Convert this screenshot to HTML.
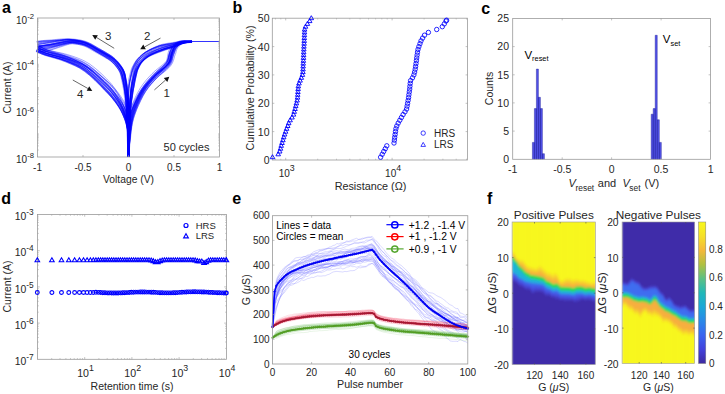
<!DOCTYPE html>
<html><head><meta charset="utf-8"><style>
html,body{margin:0;padding:0;background:#fff;width:725px;height:394px;overflow:hidden}
svg{display:block}
text{font-family:"Liberation Sans",sans-serif}
</style></head><body>
<svg width="725" height="394" viewBox="0 0 725 394">
<rect width="725" height="394" fill="#fff"/>
<path d="M192.0 41.4 190.2 41.6 187.6 41.8 184.7 42.1 182.0 42.5 179.8 43.0 177.7 43.6 175.5 44.3 173.0 45.0 170.1 45.7 166.9 46.5 163.7 47.3 160.5 48.4 157.2 49.6 153.8 51.0 150.6 52.6 147.8 54.1 145.5 55.7 143.5 57.4 141.8 59.1 140.3 60.7 139.0 62.4 138.0 64.0 137.2 65.6 136.4 67.2 135.8 68.5 135.4 69.6 135.0 70.9 134.5 72.8 133.9 75.5 133.2 78.7 132.5 82.2 131.9 85.5 131.4 88.7 131.1 91.9 130.7 95.0 130.4 98.1 130.2 101.0 130.0 103.6 129.8 106.5 129.6 110.0 129.5 114.3 129.3 119.1 129.2 124.3 129.0 130.0 128.9 136.9 128.9 144.8 128.9 152.0 128.8 157.0M192.0 41.6 190.2 41.8 187.6 41.9 184.7 42.2 182.0 42.6 179.8 43.1 177.7 43.7 175.5 44.4 173.0 45.1 170.1 45.8 167.0 46.6 163.7 47.5 160.5 48.5 157.3 49.8 154.0 51.3 150.8 52.9 148.1 54.6 145.9 56.2 144.0 57.9 142.4 59.7 141.0 61.3 139.8 63.0 139.0 64.6 138.2 66.2 137.6 67.8 137.0 69.0 136.7 70.1 136.3 71.3 135.9 73.2 135.2 75.8 134.5 79.0 133.8 82.4 133.1 85.7 132.5 88.8 131.9 92.0 131.4 95.1 131.0 98.2 130.6 101.0 130.2 103.6 129.9 106.5 129.6 110.0 129.3 114.3 129.1 119.1 128.9 124.3 128.8 130.0 128.7 136.9 128.6 144.7 128.5 152.0 128.4 157.0M192.0 41.4 190.2 41.5 187.6 41.7 184.6 42.0 182.0 42.3 179.7 42.8 177.6 43.4 175.4 44.1 173.0 44.8 170.1 45.6 166.9 46.4 163.7 47.3 160.5 48.5 157.3 49.9 154.0 51.4 150.9 53.1 148.2 54.8 146.1 56.5 144.3 58.2 142.7 60.0 141.4 61.7 140.3 63.3 139.5 64.9 138.8 66.5 138.2 68.1 137.7 69.3 137.4 70.3 137.1 71.5 136.7 73.4 136.1 76.0 135.4 79.2 134.7 82.6 134.1 85.8 133.4 88.9 132.8 92.0 132.3 95.2 131.8 98.3 131.3 101.1 130.9 103.7 130.6 106.5 130.2 110.0 129.9 114.3 129.7 119.1 129.4 124.3 129.2 130.0 129.1 136.9 129.0 144.8 128.9 152.0 128.9 157.0M192.0 42.0 190.2 42.1 187.6 42.3 184.7 42.7 182.2 43.3 180.0 44.1 178.1 44.9 175.9 45.8 173.5 46.8 170.6 47.8 167.5 48.7 164.3 49.8 161.3 50.9 158.2 52.1 154.9 53.4 151.8 54.8 149.1 56.2 146.8 57.5 144.9 58.9 143.1 60.4 141.6 61.8 140.2 63.2 139.1 64.7 138.1 66.1 137.2 67.6 136.4 68.8 135.9 69.8 135.3 71.0 134.7 72.9 133.9 75.5 133.1 78.7 132.3 82.1 131.7 85.5 131.1 88.6 130.8 91.8 130.4 95.0 130.2 98.1 129.9 101.0 129.8 103.6 129.6 106.5 129.5 110.0 129.4 114.3 129.2 119.1 129.1 124.3 129.0 130.0 128.9 136.9 128.8 144.8 128.8 152.0 128.8 157.0M192.0 42.0 190.2 42.2 187.6 42.4 184.7 42.8 182.2 43.4 180.0 44.0 178.0 44.8 175.9 45.7 173.4 46.6 170.5 47.5 167.4 48.4 164.2 49.3 161.2 50.5 158.0 51.6 154.7 53.0 151.6 54.4 148.9 55.9 146.7 57.3 144.8 58.9 143.2 60.4 141.7 62.0 140.5 63.4 139.5 64.9 138.7 66.4 137.9 67.9 137.3 69.2 136.9 70.2 136.5 71.4 136.0 73.2 135.3 75.8 134.5 79.0 133.8 82.4 133.2 85.7 132.6 88.8 132.1 92.0 131.6 95.1 131.2 98.2 130.9 101.0 130.6 103.7 130.3 106.5 130.0 110.0 129.8 114.3 129.6 119.1 129.4 124.3 129.2 130.0 129.0 136.9 129.0 144.8 128.9 152.0 128.9 157.0M192.0 42.0 190.2 42.1 187.6 42.3 184.7 42.7 182.1 43.2 180.0 43.9 178.0 44.6 175.8 45.4 173.3 46.3 170.4 47.1 167.3 47.9 164.1 48.8 161.0 49.9 157.7 51.0 154.4 52.3 151.2 53.8 148.5 55.2 146.2 56.7 144.2 58.2 142.5 59.8 140.9 61.3 139.7 62.8 138.6 64.4 137.7 65.9 136.9 67.4 136.2 68.7 135.7 69.7 135.2 71.0 134.7 72.9 134.0 75.5 133.2 78.7 132.4 82.2 131.7 85.5 131.2 88.6 130.7 91.8 130.4 95.0 130.0 98.1 129.7 100.9 129.5 103.6 129.3 106.5 129.2 110.0 129.0 114.3 128.9 119.1 128.8 124.3 128.7 130.0 128.7 136.9 128.6 144.7 128.5 152.0 128.5 157.0M191.9 40.7 190.1 40.9 187.5 41.1 184.5 41.1 181.8 41.2 179.4 41.4 177.1 41.8 174.8 42.2 172.4 42.6 169.5 43.0 166.3 43.5 162.8 44.2 159.3 45.1 156.0 46.5 152.5 48.1 149.2 49.8 146.3 51.6 143.8 53.4 141.7 55.3 139.9 57.2 138.3 59.1 137.0 60.9 135.9 62.8 135.1 64.6 134.3 66.2 133.7 67.6 133.2 68.9 132.8 70.3 132.3 72.3 131.6 75.0 130.8 78.2 130.0 81.7 129.4 85.1 129.0 88.4 128.7 91.6 128.5 94.8 128.3 98.0 128.1 100.8 128.1 103.5 128.1 106.4 128.1 110.0 128.1 114.2 128.1 119.0 128.2 124.3 128.3 130.0 128.3 136.9 128.3 144.7 128.3 152.0 128.2 157.0M192.0 41.4 190.2 41.6 187.6 41.8 184.7 42.0 182.0 42.4 179.7 42.9 177.6 43.5 175.4 44.1 173.0 44.8 170.1 45.5 166.9 46.2 163.6 47.0 160.3 48.0 157.0 49.3 153.7 50.7 150.5 52.3 147.7 53.8 145.3 55.5 143.3 57.2 141.6 58.9 140.1 60.6 138.8 62.2 137.8 63.9 137.0 65.5 136.3 67.1 135.7 68.5 135.3 69.6 134.9 70.9 134.5 72.8 133.9 75.5 133.2 78.7 132.5 82.2 131.9 85.5 131.5 88.7 131.1 91.9 130.8 95.0 130.5 98.1 130.2 101.0 130.0 103.6 129.8 106.5 129.6 110.0 129.4 114.3 129.3 119.1 129.1 124.3 129.0 130.0 128.9 136.9 128.8 144.8 128.8 152.0 128.8 157.0M192.0 41.7 190.2 41.9 187.6 42.1 184.7 42.4 182.1 43.0 179.9 43.6 177.9 44.4 175.8 45.2 173.3 46.1 170.4 47.1 167.3 48.0 164.1 49.0 161.1 50.2 157.9 51.5 154.7 52.9 151.6 54.4 148.9 55.9 146.8 57.5 145.0 59.0 143.4 60.6 142.0 62.2 140.8 63.7 140.0 65.2 139.2 66.7 138.5 68.2 137.9 69.4 137.6 70.4 137.2 71.6 136.8 73.4 136.1 76.0 135.4 79.2 134.8 82.6 134.2 85.9 133.6 88.9 133.0 92.1 132.6 95.2 132.1 98.3 131.7 101.1 131.4 103.7 131.0 106.6 130.7 110.1 130.4 114.3 130.1 119.1 129.9 124.3 129.6 130.0 129.4 136.9 129.3 144.8 129.3 152.0 129.3 157.0M192.0 41.7 190.2 41.9 187.6 42.1 184.7 42.4 182.1 42.9 179.9 43.5 177.9 44.3 175.7 45.1 173.2 45.9 170.4 46.8 167.2 47.6 164.0 48.6 160.9 49.7 157.7 51.0 154.4 52.4 151.3 53.9 148.6 55.4 146.4 56.9 144.5 58.5 142.9 60.2 141.5 61.7 140.3 63.3 139.4 64.8 138.6 66.4 137.9 67.9 137.4 69.2 137.0 70.2 136.7 71.4 136.3 73.3 135.7 75.9 135.0 79.1 134.4 82.5 133.9 85.8 133.4 88.9 132.9 92.1 132.5 95.2 132.1 98.3 131.7 101.1 131.4 103.7 131.1 106.6 130.8 110.1 130.5 114.3 130.2 119.1 130.0 124.3 129.7 130.0 129.5 136.9 129.4 144.8 129.4 152.0 129.4 157.0M192.1 42.4 190.2 42.5 187.6 42.7 184.8 43.2 182.2 43.8 180.2 44.6 178.2 45.5 176.1 46.5 173.7 47.5 170.7 48.5 167.6 49.4 164.5 50.4 161.5 51.5 158.4 52.6 155.1 53.9 152.0 55.2 149.3 56.5 147.1 57.9 145.2 59.3 143.5 60.7 141.9 62.2 140.7 63.6 139.6 65.0 138.7 66.4 137.8 67.9 137.1 69.1 136.5 70.0 136.0 71.2 135.4 73.0 134.6 75.7 133.7 78.9 132.9 82.3 132.2 85.5 131.6 88.7 131.1 91.9 130.6 95.0 130.3 98.1 129.9 101.0 129.7 103.6 129.5 106.5 129.3 110.0 129.1 114.3 129.0 119.1 128.9 124.3 128.8 130.0 128.7 136.9 128.6 144.7 128.6 152.0 128.6 157.0M192.0 41.6 190.2 41.8 187.6 42.0 184.7 42.4 182.1 42.9 179.9 43.5 177.9 44.2 175.7 45.0 173.2 45.8 170.3 46.5 167.1 47.2 163.8 47.9 160.6 48.7 157.2 49.7 153.8 50.9 150.4 52.2 147.5 53.5 144.9 54.9 142.7 56.5 140.8 58.1 139.0 59.7 137.6 61.3 136.4 63.1 135.4 64.7 134.7 66.4 134.1 67.7 133.7 69.0 133.4 70.5 133.1 72.5 132.6 75.2 132.1 78.5 131.6 82.0 131.2 85.4 131.0 88.6 130.8 91.8 130.6 95.0 130.5 98.1 130.3 101.0 130.1 103.6 129.9 106.5 129.7 110.0 129.5 114.3 129.3 119.1 129.1 124.3 128.9 130.0 128.8 136.9 128.7 144.8 128.6 152.0 128.5 157.0M192.0 41.1 190.1 41.2 187.5 41.4 184.6 41.6 181.9 41.8 179.5 42.1 177.3 42.5 175.1 43.0 172.6 43.5 169.7 43.9 166.5 44.4 163.0 45.0 159.6 45.8 156.2 47.0 152.7 48.4 149.3 50.0 146.3 51.6 143.7 53.3 141.5 55.1 139.6 56.9 137.9 58.7 136.4 60.5 135.2 62.4 134.3 64.1 133.5 65.8 132.8 67.2 132.3 68.5 131.9 70.0 131.4 72.0 130.7 74.8 130.0 78.1 129.3 81.6 128.8 85.0 128.5 88.3 128.4 91.6 128.3 94.8 128.2 98.0 128.1 100.8 128.2 103.5 128.2 106.4 128.2 110.0 128.2 114.2 128.3 119.0 128.3 124.3 128.4 130.0 128.4 136.9 128.4 144.7 128.4 152.0 128.3 157.0M192.0 41.9 190.2 42.1 187.6 42.3 184.7 42.7 182.1 43.2 180.0 43.9 178.0 44.6 175.8 45.5 173.3 46.3 170.4 47.1 167.3 47.8 164.0 48.7 160.9 49.6 157.6 50.7 154.2 51.9 151.0 53.3 148.2 54.7 145.8 56.1 143.7 57.6 141.9 59.2 140.3 60.8 139.0 62.3 137.9 63.9 137.0 65.5 136.2 67.1 135.5 68.4 135.1 69.5 134.7 70.9 134.2 72.8 133.6 75.5 133.0 78.7 132.3 82.1 131.8 85.5 131.3 88.7 131.0 91.9 130.7 95.0 130.4 98.1 130.1 101.0 129.9 103.6 129.7 106.5 129.5 110.0 129.3 114.3 129.2 119.1 129.0 124.3 128.9 130.0 128.8 136.9 128.7 144.8 128.6 152.0 128.6 157.0M192.0 41.0 190.1 41.1 187.5 41.3 184.6 41.5 181.8 41.6 179.5 41.9 177.3 42.3 175.0 42.7 172.5 43.2 169.6 43.7 166.4 44.2 163.0 44.8 159.6 45.7 156.2 47.1 152.8 48.6 149.5 50.3 146.6 52.0 144.1 53.8 142.1 55.7 140.3 57.6 138.8 59.5 137.6 61.3 136.6 63.2 135.8 64.9 135.2 66.6 134.6 68.0 134.3 69.2 134.0 70.6 133.5 72.6 133.0 75.3 132.3 78.5 131.6 82.0 131.0 85.4 130.6 88.6 130.2 91.8 129.9 95.0 129.7 98.1 129.4 100.9 129.3 103.6 129.1 106.5 129.0 110.0 128.9 114.3 128.8 119.1 128.7 124.3 128.7 130.0 128.7 136.9 128.6 144.7 128.6 152.0 128.6 157.0M192.0 41.4 190.2 41.5 187.6 41.7 184.6 41.9 181.9 42.2 179.7 42.6 177.5 43.1 175.3 43.6 172.8 44.1 169.8 44.5 166.6 45.0 163.2 45.6 159.8 46.3 156.3 47.5 152.8 48.8 149.5 50.2 146.4 51.8 143.8 53.4 141.5 55.1 139.5 56.9 137.8 58.6 136.2 60.4 135.0 62.2 133.9 64.0 133.1 65.6 132.3 67.0 131.7 68.3 131.2 69.9 130.6 71.8 129.9 74.6 129.1 77.8 128.3 81.4 127.7 84.8 127.4 88.1 127.2 91.5 127.1 94.7 127.1 97.9 127.1 100.7 127.1 103.5 127.2 106.4 127.3 109.9 127.4 114.2 127.6 119.0 127.7 124.3 127.9 130.0 128.0 136.9 127.9 144.7 127.9 152.0 127.9 157.0M192.0 41.2 190.2 41.4 187.5 41.6 184.6 41.8 181.9 42.1 179.6 42.5 177.5 43.0 175.3 43.6 172.8 44.2 169.9 44.8 166.7 45.4 163.4 46.2 160.0 47.1 156.7 48.3 153.3 49.8 150.0 51.3 147.1 52.9 144.7 54.6 142.6 56.4 140.8 58.1 139.3 59.9 137.9 61.6 136.9 63.4 136.1 65.1 135.4 66.7 134.8 68.1 134.4 69.3 134.1 70.7 133.7 72.6 133.2 75.3 132.6 78.6 132.0 82.1 131.5 85.4 131.2 88.6 131.0 91.9 130.8 95.0 130.6 98.2 130.4 101.0 130.3 103.6 130.2 106.5 130.0 110.0 129.9 114.3 129.7 119.1 129.6 124.3 129.4 130.0 129.2 136.9 129.2 144.8 129.2 152.0 129.2 157.0M192.0 41.7 190.2 41.8 187.6 42.0 184.7 42.3 182.0 42.6 179.8 43.0 177.6 43.5 175.4 44.0 172.9 44.6 170.0 45.1 166.7 45.5 163.3 46.1 160.0 46.9 156.6 48.1 153.1 49.5 149.9 51.0 147.0 52.7 144.5 54.4 142.5 56.2 140.8 58.1 139.3 59.9 138.1 61.7 137.2 63.5 136.5 65.3 135.9 67.0 135.5 68.4 135.2 69.6 134.9 70.9 134.6 72.8 134.0 75.5 133.4 78.8 132.7 82.2 132.1 85.5 131.5 88.7 131.0 91.9 130.5 95.0 130.1 98.1 129.7 100.9 129.4 103.6 129.1 106.5 128.9 110.0 128.7 114.3 128.6 119.0 128.5 124.3 128.4 130.0 128.4 136.9 128.3 144.7 128.2 152.0 128.2 157.0M192.0 41.1 190.1 41.2 187.5 41.4 184.6 41.6 181.9 41.8 179.5 42.2 177.4 42.6 175.1 43.1 172.6 43.6 169.8 44.2 166.5 44.7 163.1 45.4 159.7 46.2 156.3 47.5 152.9 48.9 149.6 50.5 146.6 52.1 144.1 53.8 141.9 55.6 140.1 57.4 138.4 59.1 137.0 60.9 135.9 62.8 134.9 64.5 134.1 66.1 133.5 67.5 133.0 68.8 132.5 70.2 132.0 72.2 131.4 74.9 130.6 78.2 129.9 81.7 129.3 85.1 129.0 88.4 128.7 91.6 128.5 94.8 128.4 98.0 128.3 100.8 128.2 103.5 128.2 106.4 128.2 110.0 128.2 114.2 128.2 119.0 128.3 124.3 128.3 130.0 128.3 136.9 128.3 144.7 128.2 152.0 128.2 157.0M192.0 40.9 190.1 41.1 187.5 41.3 184.6 41.4 181.8 41.6 179.5 41.9 177.3 42.3 175.0 42.7 172.5 43.2 169.6 43.7 166.4 44.2 163.0 44.9 159.6 45.7 156.2 47.0 152.7 48.5 149.4 50.1 146.4 51.8 143.9 53.5 141.7 55.3 139.8 57.1 138.2 58.9 136.7 60.7 135.6 62.6 134.6 64.3 133.8 65.9 133.2 67.3 132.6 68.7 132.1 70.1 131.6 72.1 130.9 74.8 130.2 78.1 129.5 81.6 128.8 85.0 128.5 88.3 128.3 91.6 128.1 94.8 128.0 97.9 128.0 100.8 128.0 103.5 128.0 106.4 128.0 110.0 128.0 114.2 128.1 119.0 128.2 124.3 128.2 130.0 128.3 136.9 128.2 144.7 128.2 152.0 128.2 157.0M192.1 42.2 190.2 42.4 187.6 42.6 184.8 43.0 182.2 43.7 180.1 44.4 178.1 45.2 176.0 46.1 173.5 47.0 170.6 47.9 167.5 48.7 164.3 49.6 161.2 50.6 158.0 51.7 154.7 53.0 151.5 54.3 148.8 55.7 146.5 57.1 144.6 58.6 142.9 60.2 141.4 61.7 140.2 63.2 139.2 64.7 138.4 66.3 137.7 67.8 137.1 69.1 136.8 70.1 136.4 71.3 136.0 73.2 135.4 75.9 134.7 79.1 134.0 82.5 133.5 85.8 132.9 88.9 132.4 92.0 132.0 95.1 131.5 98.2 131.1 101.1 130.8 103.7 130.5 106.5 130.1 110.0 129.9 114.3 129.6 119.1 129.4 124.3 129.1 130.0 129.0 136.9 128.9 144.8 128.8 152.0 128.8 157.0M192.0 42.0 190.2 42.2 187.6 42.4 184.7 42.8 182.1 43.3 180.0 44.0 178.0 44.7 175.8 45.5 173.4 46.3 170.4 47.1 167.3 47.9 164.1 48.8 160.9 49.8 157.7 50.9 154.4 52.2 151.2 53.6 148.4 55.1 146.1 56.5 144.1 58.1 142.4 59.7 140.9 61.3 139.7 62.8 138.7 64.4 137.9 66.0 137.1 67.6 136.6 68.8 136.2 69.9 135.9 71.2 135.5 73.1 134.9 75.7 134.3 79.0 133.6 82.4 133.1 85.7 132.7 88.8 132.3 92.0 131.9 95.1 131.6 98.2 131.2 101.1 131.0 103.7 130.7 106.5 130.4 110.0 130.2 114.3 129.9 119.1 129.7 124.3 129.4 130.0 129.2 136.9 129.2 144.8 129.1 152.0 129.1 157.0M192.0 42.0 190.2 42.1 187.6 42.2 184.7 42.6 182.1 43.1 179.9 43.6 177.9 44.3 175.7 45.1 173.2 45.9 170.3 46.7 167.2 47.6 164.0 48.6 161.0 49.8 157.8 51.1 154.6 52.7 151.5 54.3 148.9 55.9 146.8 57.5 145.0 59.1 143.5 60.8 142.2 62.4 141.1 63.8 140.2 65.3 139.4 66.8 138.6 68.3 138.0 69.5 137.5 70.4 137.0 71.5 136.3 73.3 135.5 75.9 134.6 79.0 133.6 82.4 132.8 85.6 132.1 88.8 131.4 91.9 130.9 95.0 130.4 98.1 130.1 101.0 129.8 103.6 129.6 106.5 129.4 110.0 129.2 114.3 129.1 119.1 129.0 124.3 128.9 130.0 128.9 136.9 128.8 144.8 128.8 152.0 128.8 157.0M192.0 41.8 190.2 41.9 187.6 42.1 184.7 42.5 182.1 43.1 180.0 43.7 177.9 44.5 175.8 45.4 173.4 46.4 170.5 47.3 167.4 48.3 164.2 49.3 161.2 50.5 158.0 51.8 154.8 53.2 151.7 54.6 149.0 56.1 146.9 57.6 145.0 59.1 143.4 60.6 141.9 62.1 140.7 63.6 139.8 65.0 138.9 66.5 138.1 68.0 137.5 69.2 137.1 70.2 136.7 71.4 136.2 73.2 135.5 75.9 134.8 79.1 134.1 82.5 133.5 85.8 133.0 88.9 132.5 92.0 132.1 95.2 131.7 98.3 131.4 101.1 131.1 103.7 130.9 106.5 130.6 110.0 130.4 114.3 130.1 119.1 129.9 124.3 129.6 130.0 129.4 136.9 129.4 144.8 129.3 152.0 129.3 157.0M192.0 41.2 190.2 41.3 187.5 41.5 184.6 41.6 181.9 41.8 179.5 42.1 177.3 42.5 175.1 43.0 172.6 43.5 169.7 43.9 166.5 44.4 163.0 45.0 159.6 45.7 156.1 47.0 152.7 48.4 149.3 50.0 146.3 51.6 143.7 53.3 141.5 55.1 139.6 57.0 138.0 58.8 136.5 60.6 135.4 62.5 134.5 64.3 133.7 65.9 133.1 67.3 132.6 68.6 132.2 70.1 131.7 72.1 131.1 74.9 130.4 78.1 129.8 81.6 129.2 85.1 128.9 88.3 128.8 91.6 128.6 94.8 128.5 98.0 128.4 100.8 128.4 103.5 128.4 106.4 128.4 110.0 128.4 114.2 128.4 119.0 128.4 124.3 128.4 130.0 128.5 136.9 128.4 144.7 128.4 152.0 128.3 157.0M192.0 42.1 190.2 42.2 187.6 42.4 184.8 42.9 182.2 43.5 180.1 44.2 178.1 45.1 176.0 46.0 173.5 47.0 170.6 47.9 167.5 48.9 164.4 49.9 161.4 51.0 158.2 52.1 154.9 53.4 151.8 54.8 149.1 56.2 146.9 57.6 144.9 59.0 143.2 60.5 141.7 62.0 140.4 63.4 139.4 64.8 138.4 66.3 137.6 67.8 136.9 69.0 136.4 70.0 135.9 71.2 135.3 73.0 134.5 75.7 133.7 78.9 132.9 82.3 132.3 85.6 131.7 88.7 131.3 91.9 130.9 95.0 130.6 98.2 130.3 101.0 130.0 103.6 129.8 106.5 129.7 110.0 129.5 114.3 129.3 119.1 129.2 124.3 129.1 130.0 129.0 136.9 128.9 144.8 128.9 152.0 128.8 157.0M192.0 41.9 190.2 42.0 187.6 42.2 184.7 42.6 182.1 43.1 180.0 43.8 177.9 44.6 175.8 45.4 173.3 46.3 170.4 47.2 167.3 48.0 164.1 49.0 161.1 50.1 157.9 51.4 154.6 52.8 151.5 54.2 148.8 55.7 146.6 57.2 144.8 58.8 143.1 60.4 141.7 62.0 140.5 63.5 139.6 65.0 138.8 66.5 138.1 68.0 137.5 69.3 137.1 70.2 136.8 71.4 136.3 73.3 135.7 75.9 135.0 79.1 134.3 82.5 133.7 85.8 133.1 88.9 132.6 92.0 132.1 95.2 131.7 98.3 131.3 101.1 131.0 103.7 130.7 106.5 130.4 110.0 130.1 114.3 129.8 119.1 129.6 124.3 129.4 130.0 129.2 136.9 129.1 144.8 129.1 152.0 129.0 157.0M192.0 41.2 190.2 41.3 187.5 41.6 184.6 41.8 181.9 42.1 179.7 42.6 177.5 43.2 175.3 43.8 172.9 44.6 170.0 45.3 166.9 46.1 163.6 46.9 160.3 47.9 157.0 49.2 153.7 50.6 150.4 52.1 147.5 53.6 145.1 55.2 143.0 56.8 141.1 58.4 139.4 60.0 137.9 61.6 136.7 63.3 135.6 64.8 134.7 66.4 133.9 67.7 133.2 68.9 132.7 70.3 132.0 72.2 131.3 74.9 130.5 78.2 129.8 81.6 129.1 85.1 128.8 88.3 128.7 91.6 128.6 94.8 128.5 98.0 128.5 100.9 128.5 103.5 128.5 106.4 128.5 110.0 128.5 114.3 128.6 119.0 128.6 124.3 128.6 130.0 128.6 136.9 128.5 144.7 128.5 152.0 128.4 157.0M192.1 42.4 190.2 42.5 187.6 42.7 184.8 43.1 182.2 43.8 180.2 44.5 178.2 45.4 176.1 46.3 173.6 47.2 170.7 48.1 167.5 48.9 164.4 49.8 161.3 50.9 158.1 51.9 154.8 53.2 151.6 54.5 148.9 55.8 146.6 57.2 144.6 58.6 142.9 60.1 141.3 61.6 140.0 63.1 138.9 64.6 138.0 66.1 137.1 67.5 136.4 68.8 135.9 69.8 135.4 71.0 134.8 72.9 134.0 75.5 133.2 78.7 132.3 82.1 131.6 85.5 131.0 88.6 130.6 91.8 130.2 95.0 129.8 98.1 129.5 100.9 129.3 103.6 129.1 106.5 128.9 110.0 128.7 114.3 128.6 119.0 128.6 124.3 128.5 130.0 128.5 136.9 128.4 144.7 128.3 152.0 128.3 157.0M192.0 42.0 190.2 42.1 187.6 42.3 184.7 42.6 182.1 43.2 180.0 43.8 177.9 44.6 175.8 45.4 173.3 46.2 170.4 47.1 167.3 48.0 164.1 48.9 161.0 50.1 157.9 51.3 154.6 52.7 151.5 54.2 148.8 55.7 146.7 57.3 144.8 58.9 143.2 60.5 141.8 62.1 140.7 63.6 139.9 65.1 139.1 66.6 138.4 68.2 137.9 69.4 137.6 70.4 137.2 71.6 136.8 73.4 136.2 76.0 135.5 79.2 134.8 82.6 134.2 85.9 133.5 88.9 133.0 92.1 132.5 95.2 132.0 98.3 131.5 101.1 131.2 103.7 130.8 106.5 130.5 110.0 130.2 114.3 129.9 119.1 129.6 124.3 129.4 130.0 129.2 136.9 129.1 144.8 129.1 152.0 129.0 157.0" stroke="#0000ff" stroke-width="0.5" fill="none" stroke-opacity="0.7"/><path d="M128.5 157.0 128.5 154.0 128.6 149.6 128.7 144.7 128.8 140.0 129.1 135.5 129.3 130.8 129.7 126.2 130.3 122.0 130.9 118.4 131.6 115.2 132.6 112.1 134.0 108.4 135.8 104.1 138.1 99.3 140.6 94.5 143.2 90.2 146.0 86.3 148.9 82.7 151.8 79.4 154.6 76.4 157.4 73.7 160.2 71.3 162.7 69.2 164.9 67.3 166.4 65.6 167.5 64.3 168.4 63.0 169.2 61.6 169.8 59.7 170.3 57.7 170.7 55.6 171.3 53.5 172.0 51.6 172.7 49.8 173.7 48.1 174.9 46.5 176.3 45.1 178.0 43.9 179.9 42.8 181.9 42.1 184.5 41.6 187.4 41.5 190.1 41.5 192.0 41.4M128.1 157.0 128.1 154.0 128.2 149.6 128.1 144.7 128.1 140.0 128.2 135.4 128.3 130.7 128.6 126.1 129.0 121.8 129.6 118.1 130.2 114.9 131.2 111.6 132.7 107.9 134.7 103.6 137.1 98.8 139.8 94.0 142.5 89.7 145.4 85.8 148.4 82.3 151.5 79.1 154.4 76.2 157.3 73.6 160.1 71.3 162.8 69.2 164.9 67.3 166.6 65.8 167.8 64.5 168.7 63.3 169.6 61.7 170.3 59.9 170.9 57.8 171.3 55.7 171.9 53.7 172.6 51.9 173.3 50.1 174.1 48.3 175.2 46.8 176.5 45.4 178.1 44.1 180.0 43.0 182.0 42.2 184.5 41.7 187.4 41.5 190.1 41.5 192.0 41.4M129.1 157.0 129.1 154.0 129.2 149.6 129.4 144.7 129.8 140.0 130.2 135.5 130.6 130.9 131.2 126.3 131.8 122.2 132.5 118.7 133.3 115.7 134.3 112.6 135.5 109.1 137.2 104.7 139.4 100.0 141.8 95.2 144.3 90.8 146.9 87.0 149.7 83.4 152.5 80.1 155.3 77.1 158.0 74.4 160.7 72.0 163.2 69.8 165.4 67.8 166.9 66.1 168.0 64.7 168.9 63.4 169.7 61.8 170.3 59.9 170.8 57.8 171.2 55.7 171.7 53.7 172.4 51.8 173.1 50.0 173.9 48.2 175.0 46.6 176.4 45.2 178.0 44.0 179.9 42.9 181.9 42.1 184.5 41.6 187.4 41.5 190.1 41.5 192.0 41.4M129.0 157.0 129.1 154.0 129.2 149.6 129.5 144.7 129.9 140.0 130.4 135.5 131.0 130.9 131.6 126.4 132.3 122.3 133.1 118.8 133.9 115.8 134.8 112.8 136.0 109.3 137.7 104.9 139.7 100.1 142.1 95.3 144.4 90.9 147.0 87.1 149.8 83.5 152.6 80.2 155.3 77.1 158.1 74.5 160.8 72.1 163.4 70.0 165.6 68.0 167.3 66.5 168.6 65.2 169.7 63.8 170.7 62.3 171.6 60.3 172.3 58.2 173.0 56.1 173.7 54.3 174.5 52.6 175.1 50.9 175.8 49.4 176.6 48.0 177.7 46.6 179.0 45.3 180.5 44.2 182.3 43.2 184.6 42.5 187.4 42.0 190.1 41.8 192.0 41.7M128.6 157.0 128.6 154.0 128.7 149.6 128.7 144.7 128.9 140.0 129.1 135.5 129.4 130.8 129.7 126.2 130.2 122.0 130.8 118.4 131.5 115.2 132.4 112.0 133.7 108.3 135.6 104.0 137.9 99.2 140.4 94.4 143.0 90.0 145.7 86.1 148.7 82.6 151.6 79.3 154.5 76.3 157.3 73.6 160.1 71.3 162.7 69.2 164.9 67.3 166.5 65.7 167.7 64.4 168.6 63.2 169.5 61.7 170.2 59.8 170.8 57.8 171.3 55.7 171.9 53.7 172.6 51.9 173.4 50.1 174.2 48.4 175.3 46.9 176.7 45.6 178.3 44.3 180.1 43.2 182.0 42.4 184.5 41.9 187.4 41.7 190.1 41.6 192.0 41.5M128.8 157.0 128.8 154.0 128.9 149.6 129.1 144.7 129.3 140.0 129.6 135.5 130.0 130.8 130.5 126.3 131.1 122.1 131.8 118.6 132.6 115.5 133.6 112.4 134.9 108.8 136.7 104.5 139.0 99.7 141.4 95.0 144.0 90.6 146.7 86.8 149.5 83.3 152.5 80.0 155.3 77.0 158.0 74.4 160.8 72.0 163.3 69.9 165.5 67.9 167.1 66.3 168.3 64.9 169.2 63.5 170.1 62.0 170.8 60.0 171.3 57.9 171.7 55.8 172.3 53.9 172.9 52.0 173.6 50.2 174.3 48.5 175.4 47.0 176.7 45.6 178.3 44.3 180.0 43.2 182.0 42.4 184.5 41.9 187.4 41.6 190.1 41.6 192.0 41.5M128.4 157.0 128.5 154.0 128.5 149.6 128.6 144.7 128.8 140.0 129.1 135.5 129.4 130.8 129.9 126.2 130.5 122.0 131.2 118.4 132.0 115.3 133.0 112.2 134.4 108.6 136.3 104.3 138.5 99.5 141.0 94.7 143.6 90.4 146.2 86.5 149.1 82.9 152.0 79.6 154.8 76.6 157.5 73.8 160.2 71.4 162.8 69.2 164.8 67.2 166.4 65.6 167.5 64.2 168.3 63.0 169.0 61.5 169.7 59.7 170.1 57.6 170.6 55.5 171.2 53.5 171.9 51.6 172.7 49.8 173.7 48.1 174.9 46.6 176.4 45.2 178.1 44.0 179.9 43.0 182.0 42.3 184.5 41.8 187.4 41.6 190.1 41.6 192.0 41.5M128.2 157.0 128.2 154.0 128.3 149.6 128.2 144.7 128.2 140.0 128.3 135.4 128.4 130.7 128.6 126.1 129.0 121.8 129.5 118.1 130.1 114.8 131.0 111.5 132.5 107.8 134.4 103.5 136.8 98.7 139.4 93.8 142.1 89.5 145.0 85.6 148.1 82.0 151.1 78.8 154.0 75.9 157.0 73.2 159.8 70.9 162.5 68.9 164.7 67.1 166.4 65.6 167.6 64.4 168.6 63.2 169.5 61.7 170.3 59.9 170.9 57.8 171.5 55.8 172.2 53.8 172.9 52.0 173.7 50.2 174.5 48.6 175.6 47.1 176.9 45.8 178.4 44.5 180.1 43.4 182.1 42.6 184.5 42.0 187.4 41.8 190.1 41.6 192.0 41.6M128.9 157.0 128.9 154.0 129.0 149.6 129.2 144.7 129.6 140.0 130.0 135.5 130.5 130.9 131.1 126.3 131.8 122.2 132.6 118.7 133.6 115.7 134.7 112.8 136.1 109.3 137.9 105.0 140.2 100.4 142.7 95.7 145.3 91.5 148.0 87.8 150.8 84.4 153.8 81.2 156.6 78.4 159.3 75.8 162.1 73.6 164.7 71.5 167.0 69.5 168.8 67.8 170.1 66.4 171.3 64.9 172.4 63.0 173.3 60.8 174.0 58.6 174.5 56.5 175.1 54.8 175.8 53.1 176.2 51.4 176.6 49.9 177.3 48.6 178.2 47.2 179.4 45.9 180.8 44.7 182.4 43.7 184.6 42.9 187.5 42.4 190.1 42.0 192.0 41.9M128.1 157.0 128.2 154.0 128.2 149.6 128.2 144.7 128.2 140.0 128.3 135.4 128.4 130.7 128.7 126.1 129.1 121.8 129.6 118.1 130.2 114.9 131.1 111.5 132.5 107.9 134.5 103.5 136.9 98.7 139.5 93.9 142.2 89.5 145.1 85.6 148.1 82.1 151.2 78.9 154.1 75.9 157.0 73.3 159.9 71.0 162.6 69.0 164.8 67.2 166.5 65.7 167.8 64.5 168.8 63.3 169.7 61.8 170.6 60.0 171.2 57.9 171.8 55.8 172.5 53.9 173.3 52.2 174.1 50.4 174.9 48.8 175.9 47.4 177.1 46.0 178.6 44.8 180.3 43.7 182.2 42.8 184.6 42.3 187.4 41.9 190.1 41.7 192.0 41.7M128.7 157.0 128.7 154.0 128.8 149.6 128.9 144.7 129.2 140.0 129.5 135.5 129.9 130.8 130.5 126.3 131.1 122.1 131.8 118.6 132.6 115.5 133.6 112.4 135.0 108.8 136.8 104.5 139.0 99.7 141.4 94.9 143.9 90.6 146.5 86.7 149.3 83.1 152.2 79.8 154.9 76.7 157.6 74.0 160.3 71.5 162.8 69.3 164.9 67.3 166.4 65.6 167.5 64.3 168.4 63.0 169.2 61.6 169.9 59.7 170.4 57.7 170.9 55.6 171.6 53.6 172.3 51.8 173.1 50.0 174.0 48.3 175.2 46.8 176.6 45.5 178.2 44.3 180.1 43.2 182.0 42.4 184.5 41.9 187.4 41.7 190.1 41.6 192.0 41.5M128.1 157.0 128.1 154.0 128.2 149.6 128.1 144.7 128.1 140.0 128.1 135.4 128.2 130.7 128.3 126.0 128.6 121.7 128.9 118.0 129.3 114.6 129.9 111.1 131.2 107.3 132.9 102.8 135.1 97.8 137.6 92.8 140.2 88.2 143.0 84.1 146.0 80.3 149.0 76.9 152.0 73.8 154.9 71.0 157.9 68.6 160.5 66.5 162.6 64.8 164.1 63.5 165.2 62.5 166.1 61.6 166.9 60.5 167.7 59.0 168.3 57.2 169.0 55.1 169.8 53.0 170.7 51.2 171.8 49.4 173.0 47.6 174.4 46.1 176.0 44.7 177.8 43.5 179.7 42.5 181.9 41.8 184.5 41.4 187.4 41.3 190.1 41.4 192.0 41.3M129.0 157.0 129.0 154.0 129.0 149.6 129.2 144.7 129.5 140.0 129.8 135.5 130.2 130.8 130.6 126.3 131.2 122.1 131.8 118.5 132.4 115.4 133.3 112.3 134.5 108.6 136.2 104.3 138.3 99.4 140.7 94.6 143.2 90.1 145.8 86.2 148.6 82.5 151.5 79.1 154.2 76.0 156.9 73.2 159.7 70.7 162.1 68.5 164.1 66.5 165.6 64.8 166.5 63.5 167.2 62.3 167.8 60.9 168.3 59.2 168.6 57.3 168.9 55.1 169.4 52.9 170.0 50.9 170.9 49.0 172.0 47.1 173.5 45.3 175.2 43.8 177.1 42.6 179.3 41.6 181.6 41.0 184.4 40.7 187.4 40.9 190.1 41.1 192.0 41.0M129.1 157.0 129.2 154.0 129.2 149.6 129.4 144.7 129.8 140.0 130.2 135.5 130.6 130.9 131.1 126.3 131.6 122.2 132.3 118.6 133.0 115.6 133.9 112.5 135.0 108.9 136.8 104.5 138.9 99.7 141.2 94.9 143.7 90.4 146.3 86.5 149.1 82.9 151.9 79.5 154.6 76.4 157.3 73.6 160.0 71.2 162.5 68.9 164.5 66.9 166.0 65.2 167.0 63.9 167.8 62.6 168.4 61.2 168.9 59.4 169.3 57.4 169.6 55.3 170.1 53.1 170.7 51.2 171.5 49.3 172.6 47.4 173.9 45.7 175.6 44.3 177.4 43.0 179.5 42.0 181.7 41.3 184.4 41.0 187.4 41.1 190.1 41.2 192.0 41.2M129.0 157.0 129.0 154.0 129.1 149.6 129.3 144.7 129.7 140.0 130.1 135.5 130.6 130.9 131.1 126.3 131.8 122.2 132.6 118.7 133.4 115.7 134.5 112.7 135.8 109.2 137.7 104.9 139.9 100.2 142.4 95.5 144.9 91.3 147.6 87.5 150.5 84.1 153.4 80.9 156.2 77.9 158.9 75.4 161.6 73.1 164.3 71.0 166.5 69.0 168.2 67.3 169.5 65.9 170.6 64.4 171.6 62.6 172.4 60.5 172.9 58.3 173.4 56.3 174.0 54.4 174.6 52.7 175.1 50.9 175.7 49.3 176.5 47.9 177.5 46.5 178.9 45.2 180.4 44.0 182.2 43.1 184.6 42.4 187.4 42.0 190.1 41.8 192.0 41.7M128.4 157.0 128.5 154.0 128.5 149.6 128.6 144.7 128.7 140.0 128.8 135.4 129.0 130.7 129.3 126.1 129.7 121.9 130.3 118.3 130.8 115.0 131.7 111.7 133.0 108.1 134.9 103.7 137.1 98.8 139.6 94.0 142.2 89.5 145.0 85.6 147.9 81.9 150.9 78.6 153.7 75.5 156.6 72.8 159.4 70.4 161.9 68.3 164.0 66.4 165.5 64.8 166.6 63.6 167.4 62.4 168.1 61.1 168.7 59.4 169.2 57.4 169.7 55.3 170.3 53.2 171.0 51.3 171.9 49.4 172.9 47.6 174.3 46.0 175.9 44.6 177.6 43.4 179.6 42.4 181.8 41.7 184.4 41.3 187.4 41.3 190.1 41.4 192.0 41.3M129.2 157.0 129.2 154.0 129.2 149.6 129.4 144.7 129.8 140.0 130.1 135.5 130.4 130.8 130.8 126.3 131.3 122.1 131.9 118.6 132.5 115.4 133.3 112.3 134.5 108.7 136.2 104.3 138.4 99.4 140.8 94.6 143.3 90.2 146.0 86.3 148.8 82.7 151.8 79.4 154.6 76.4 157.3 73.7 160.1 71.3 162.7 69.1 164.8 67.2 166.4 65.6 167.5 64.3 168.4 63.1 169.2 61.6 169.9 59.7 170.3 57.7 170.8 55.6 171.3 53.5 171.9 51.6 172.6 49.8 173.5 48.0 174.7 46.3 176.1 44.9 177.8 43.6 179.7 42.5 181.8 41.7 184.4 41.3 187.4 41.2 190.1 41.3 192.0 41.2M128.2 157.0 128.2 154.0 128.3 149.6 128.3 144.7 128.3 140.0 128.3 135.4 128.4 130.7 128.6 126.1 129.0 121.8 129.4 118.1 129.9 114.8 130.7 111.4 132.1 107.7 133.9 103.2 136.2 98.4 138.7 93.5 141.4 89.0 144.2 85.0 147.2 81.3 150.2 77.9 153.0 74.8 155.9 72.1 158.8 69.6 161.3 67.5 163.3 65.7 164.8 64.1 165.9 63.0 166.6 61.9 167.3 60.7 167.9 59.1 168.3 57.2 168.8 55.1 169.5 52.9 170.2 51.0 171.2 49.1 172.4 47.3 173.8 45.6 175.5 44.2 177.4 43.1 179.5 42.1 181.8 41.4 184.4 41.1 187.4 41.2 190.1 41.3 192.0 41.2M127.6 157.0 127.6 154.0 127.7 149.6 127.5 144.7 127.3 139.9 127.2 135.3 127.2 130.6 127.3 125.9 127.6 121.6 128.1 117.8 128.7 114.5 129.6 111.1 131.3 107.4 133.4 103.0 135.9 98.2 138.7 93.5 141.6 89.1 144.6 85.2 147.7 81.7 150.8 78.5 153.8 75.6 156.8 73.0 159.7 70.7 162.3 68.7 164.5 66.9 166.1 65.4 167.3 64.1 168.2 62.9 169.0 61.5 169.7 59.7 170.2 57.7 170.7 55.5 171.3 53.5 172.0 51.7 172.8 49.8 173.7 48.1 174.9 46.6 176.4 45.2 178.1 44.0 179.9 43.0 182.0 42.2 184.5 41.8 187.4 41.6 190.1 41.6 192.0 41.5M129.1 157.0 129.2 154.0 129.2 149.6 129.5 144.7 130.0 140.0 130.4 135.5 131.0 130.9 131.6 126.4 132.4 122.3 133.3 118.8 134.2 115.9 135.3 113.0 136.6 109.5 138.5 105.3 140.7 100.6 143.1 95.9 145.6 91.7 148.2 88.0 151.0 84.5 153.8 81.3 156.5 78.3 159.2 75.7 161.9 73.3 164.4 71.1 166.6 69.1 168.2 67.3 169.4 65.8 170.4 64.3 171.3 62.5 172.0 60.4 172.5 58.2 172.9 56.1 173.4 54.2 174.1 52.4 174.6 50.7 175.2 49.0 176.1 47.6 177.3 46.2 178.7 44.9 180.3 43.8 182.2 42.9 184.6 42.3 187.4 41.9 190.1 41.7 192.0 41.7M129.4 157.0 129.4 154.0 129.4 149.6 129.8 144.7 130.3 140.1 130.8 135.6 131.3 130.9 131.9 126.4 132.7 122.3 133.5 118.9 134.4 115.9 135.4 113.0 136.7 109.5 138.4 105.3 140.6 100.5 142.9 95.8 145.4 91.5 147.9 87.8 150.7 84.3 153.5 81.0 156.2 78.0 158.9 75.4 161.5 73.0 164.1 70.7 166.2 68.7 167.8 66.9 168.9 65.4 169.8 63.9 170.6 62.2 171.2 60.2 171.6 58.0 172.0 55.9 172.4 53.9 173.0 52.0 173.6 50.2 174.3 48.5 175.3 46.9 176.6 45.5 178.2 44.2 180.0 43.1 182.0 42.2 184.5 41.8 187.4 41.6 190.1 41.5 192.0 41.5M128.3 157.0 128.4 154.0 128.4 149.6 128.4 144.7 128.5 140.0 128.7 135.4 128.9 130.7 129.2 126.1 129.7 121.9 130.2 118.2 130.9 115.0 131.8 111.8 133.2 108.1 135.0 103.7 137.3 98.9 139.9 94.1 142.5 89.7 145.3 85.8 148.2 82.2 151.2 78.9 154.1 75.9 156.9 73.2 159.7 70.8 162.3 68.7 164.4 66.8 165.9 65.2 167.1 63.9 167.9 62.7 168.7 61.3 169.4 59.6 169.9 57.6 170.4 55.5 171.0 53.4 171.8 51.6 172.6 49.7 173.6 48.0 174.8 46.5 176.3 45.1 178.0 43.9 179.9 42.9 181.9 42.1 184.5 41.7 187.4 41.5 190.1 41.5 192.0 41.5M128.5 157.0 128.6 154.0 128.6 149.6 128.7 144.7 128.8 140.0 129.0 135.5 129.3 130.8 129.6 126.2 130.1 121.9 130.7 118.3 131.4 115.1 132.3 111.9 133.7 108.3 135.5 104.0 137.8 99.2 140.4 94.4 143.0 90.0 145.8 86.2 148.8 82.7 151.8 79.4 154.7 76.5 157.5 73.9 160.4 71.6 163.0 69.5 165.3 67.7 166.9 66.1 168.2 64.8 169.2 63.6 170.2 62.0 171.1 60.1 171.7 58.0 172.3 56.0 173.0 54.1 173.7 52.3 174.4 50.6 175.2 49.0 176.1 47.6 177.3 46.2 178.7 45.0 180.4 43.9 182.2 43.0 184.6 42.4 187.4 42.0 190.1 41.8 192.0 41.7M128.1 157.0 128.2 154.0 128.3 149.6 128.2 144.7 128.3 140.0 128.4 135.4 128.6 130.7 128.9 126.1 129.4 121.8 130.0 118.2 130.7 115.0 131.6 111.7 133.1 108.1 135.0 103.7 137.4 99.0 140.0 94.2 142.7 89.8 145.5 86.0 148.5 82.4 151.6 79.2 154.5 76.3 157.3 73.6 160.2 71.3 162.8 69.3 165.0 67.4 166.7 65.9 167.9 64.6 168.9 63.4 169.9 61.9 170.7 60.0 171.3 57.9 171.9 55.9 172.6 54.0 173.4 52.2 174.1 50.4 174.9 48.9 176.0 47.4 177.2 46.1 178.7 44.9 180.4 43.8 182.2 43.0 184.6 42.4 187.4 42.0 190.1 41.8 192.0 41.8M128.6 157.0 128.7 154.0 128.7 149.6 128.8 144.7 129.0 140.0 129.2 135.5 129.5 130.8 129.8 126.2 130.3 122.0 130.8 118.4 131.4 115.2 132.2 111.9 133.5 108.2 135.2 103.8 137.4 99.0 139.8 94.1 142.3 89.6 145.0 85.6 147.8 81.8 150.7 78.4 153.5 75.3 156.2 72.4 159.0 69.9 161.4 67.6 163.4 65.7 164.7 64.0 165.6 62.8 166.2 61.7 166.7 60.4 167.1 58.9 167.4 57.0 167.8 54.8 168.3 52.5 168.9 50.5 169.9 48.5 171.2 46.6 172.8 44.8 174.7 43.3 176.8 42.1 179.1 41.2 181.5 40.6 184.3 40.5 187.4 40.7 190.1 41.0 192.0 41.0M128.6 157.0 128.6 154.0 128.7 149.6 128.8 144.7 129.0 140.0 129.3 135.5 129.6 130.8 130.0 126.2 130.5 122.0 131.1 118.4 131.8 115.3 132.7 112.1 134.0 108.4 135.8 104.1 137.9 99.2 140.4 94.4 142.9 89.9 145.5 86.0 148.3 82.3 151.2 78.9 153.9 75.8 156.7 72.9 159.4 70.4 161.9 68.2 163.9 66.2 165.3 64.6 166.3 63.3 167.0 62.1 167.6 60.8 168.1 59.2 168.5 57.2 168.9 55.1 169.5 52.9 170.1 50.9 171.1 49.1 172.3 47.2 173.8 45.6 175.5 44.2 177.4 43.0 179.5 42.1 181.7 41.4 184.4 41.1 187.4 41.2 190.1 41.3 192.0 41.3M129.0 157.0 129.0 154.0 129.1 149.6 129.3 144.7 129.7 140.0 130.1 135.5 130.5 130.9 131.1 126.3 131.7 122.2 132.5 118.7 133.3 115.6 134.3 112.6 135.5 109.1 137.3 104.8 139.5 100.0 142.0 95.3 144.5 91.0 147.1 87.2 149.9 83.6 152.8 80.4 155.6 77.4 158.3 74.8 161.1 72.4 163.7 70.3 165.9 68.3 167.5 66.7 168.8 65.3 169.8 63.9 170.8 62.3 171.6 60.3 172.2 58.1 172.7 56.1 173.4 54.2 174.1 52.5 174.7 50.7 175.4 49.2 176.3 47.8 177.5 46.4 178.9 45.2 180.5 44.1 182.2 43.2 184.6 42.5 187.4 42.1 190.1 41.8 192.0 41.8M128.1 157.0 128.1 154.0 128.2 149.6 128.2 144.7 128.3 140.0 128.4 135.4 128.6 130.7 129.0 126.1 129.4 121.8 129.9 118.2 130.5 114.9 131.3 111.6 132.6 107.9 134.4 103.5 136.6 98.6 139.0 93.6 141.6 89.1 144.3 85.0 147.2 81.3 150.1 77.9 153.0 74.8 155.8 72.0 158.6 69.5 161.2 67.4 163.3 65.6 164.8 64.1 165.9 63.0 166.8 62.0 167.6 60.8 168.4 59.3 169.0 57.4 169.7 55.3 170.6 53.3 171.5 51.5 172.5 49.7 173.7 48.1 175.0 46.6 176.5 45.3 178.2 44.1 180.0 43.1 182.0 42.4 184.5 41.9 187.4 41.7 190.1 41.6 192.0 41.5M128.5 157.0 128.5 154.0 128.6 149.6 128.6 144.7 128.7 140.0 128.8 135.4 129.0 130.7 129.3 126.1 129.7 121.9 130.2 118.2 130.8 115.0 131.6 111.7 132.9 108.0 134.8 103.6 137.0 98.8 139.5 93.9 142.1 89.4 144.8 85.4 147.8 81.8 150.7 78.4 153.5 75.3 156.4 72.6 159.2 70.1 161.7 68.0 163.7 66.1 165.2 64.5 166.3 63.3 167.0 62.2 167.7 60.9 168.2 59.2 168.7 57.3 169.1 55.1 169.8 53.0 170.4 51.0 171.4 49.2 172.5 47.4 173.9 45.7 175.6 44.3 177.5 43.1 179.5 42.1 181.8 41.5 184.4 41.2 187.4 41.2 190.1 41.3 192.0 41.2M128.7 157.0 128.7 154.0 128.8 149.6 128.9 144.7 129.1 140.0 129.4 135.5 129.7 130.8 130.2 126.2 130.8 122.0 131.5 118.5 132.3 115.4 133.3 112.3 134.7 108.7 136.6 104.4 138.9 99.7 141.4 94.9 144.0 90.7 146.7 86.9 149.6 83.4 152.5 80.1 155.4 77.1 158.1 74.5 160.9 72.1 163.4 70.0 165.6 68.0 167.2 66.3 168.3 65.0 169.3 63.6 170.1 62.0 170.8 60.0 171.2 57.9 171.6 55.8 172.2 53.8 172.8 52.0 173.4 50.1 174.2 48.4 175.3 46.9 176.6 45.5 178.2 44.2 180.0 43.1 182.0 42.3 184.5 41.8 187.4 41.6 190.1 41.6 192.0 41.5" stroke="#0000ff" stroke-width="0.5" fill="none" stroke-opacity="0.7"/><path d="M128.7 157.0 128.7 153.9 128.6 149.4 128.5 144.5 128.5 140.0 128.4 136.1 128.4 132.4 128.3 128.7 128.2 125.0 128.2 121.2 128.1 117.5 128.0 113.7 127.9 110.0 127.7 106.2 127.6 102.3 127.4 98.6 127.2 94.9 126.9 91.4 126.5 88.1 126.0 84.8 125.6 81.8 125.1 79.0 124.7 76.4 124.1 74.0 123.3 71.6 122.2 69.4 121.0 67.4 119.6 65.6 118.3 63.9 116.9 62.3 115.5 60.9 114.0 59.6 112.5 58.4 110.8 57.2 109.0 56.1 107.2 55.1 105.3 54.1 103.3 53.0 101.2 51.9 99.1 50.8 97.1 49.8 95.2 48.8 93.4 47.8 91.7 46.9 89.9 46.1 88.3 45.4 86.8 44.8 85.2 44.3 83.6 43.8 81.7 43.4 79.8 43.1 77.8 42.8 75.9 42.7 74.2 42.5 72.6 42.4 71.0 42.5 69.2 42.8 67.2 43.2 65.0 43.8 62.7 44.4 60.4 45.0 58.0 45.7 55.7 46.4 53.2 47.1 50.4 47.8 47.2 48.4 43.5 49.1 40.2 49.5 37.9 49.9M128.9 157.0 128.8 153.9 128.8 149.4 128.7 144.5 128.6 140.0 128.6 136.1 128.6 132.4 128.6 128.7 128.6 125.0 128.5 121.2 128.5 117.5 128.4 113.7 128.3 110.0 128.2 106.1 128.1 102.3 128.0 98.5 127.8 94.9 127.5 91.4 127.1 88.0 126.7 84.7 126.3 81.7 125.9 78.9 125.5 76.3 124.9 73.7 124.1 71.3 123.0 69.0 121.7 66.9 120.3 65.0 119.0 63.3 117.6 61.7 116.2 60.2 114.8 58.8 113.2 57.5 111.5 56.2 109.7 55.1 107.8 54.0 106.0 52.9 104.0 51.7 101.9 50.6 99.9 49.5 97.9 48.4 96.1 47.3 94.3 46.3 92.6 45.3 90.8 44.4 89.2 43.6 87.6 42.9 86.0 42.3 84.2 41.7 82.3 41.2 80.2 40.8 78.2 40.5 76.2 40.2 74.4 40.0 72.7 39.9 70.9 39.7 68.9 39.7 66.7 39.8 64.3 40.1 61.9 40.4 59.5 40.7 57.1 41.1 54.6 41.4 52.1 41.8 49.5 42.2 46.3 42.6 42.7 43.0 39.4 43.5 37.1 43.8M128.0 157.0 128.0 153.9 127.9 149.4 127.8 144.5 127.6 140.0 127.4 136.1 127.2 132.4 126.9 128.7 126.7 125.0 126.4 121.3 126.2 117.6 125.9 113.8 125.6 110.1 125.3 106.3 125.0 102.5 124.7 98.7 124.3 95.2 123.9 91.8 123.4 88.5 122.8 85.4 122.2 82.4 121.7 79.7 121.1 77.2 120.6 75.0 120.0 73.0 119.1 71.1 118.1 69.3 116.9 67.6 115.7 66.0 114.5 64.5 113.3 63.2 112.0 61.9 110.6 60.7 109.2 59.6 107.5 58.5 105.8 57.4 104.0 56.2 102.1 55.1 100.1 53.9 98.0 52.7 96.1 51.6 94.3 50.5 92.5 49.4 90.9 48.4 89.3 47.5 87.7 46.7 86.3 45.9 84.9 45.3 83.3 44.8 81.5 44.2 79.6 43.8 77.7 43.4 75.9 43.1 74.2 42.8 72.6 42.6 71.0 42.5 69.2 42.6 67.2 42.9 64.9 43.3 62.6 43.7 60.2 44.1 57.8 44.5 55.4 45.0 52.8 45.4 50.1 45.7 46.8 46.1 43.2 46.5 39.8 46.7 37.5 46.9M128.6 157.0 128.6 153.9 128.5 149.4 128.4 144.5 128.3 140.0 128.3 136.1 128.2 132.4 128.1 128.7 128.0 125.0 127.9 121.2 127.8 117.5 127.7 113.7 127.5 110.0 127.4 106.2 127.2 102.4 127.0 98.6 126.7 95.0 126.4 91.5 126.0 88.1 125.5 84.9 125.1 81.9 124.6 79.1 124.2 76.5 123.6 74.1 122.8 71.8 121.8 69.6 120.6 67.6 119.3 65.8 118.0 64.1 116.7 62.6 115.3 61.1 113.9 59.8 112.4 58.5 110.7 57.3 109.0 56.2 107.2 55.1 105.3 54.0 103.3 52.8 101.3 51.7 99.2 50.6 97.3 49.5 95.5 48.4 93.7 47.4 91.9 46.4 90.2 45.5 88.6 44.7 87.1 44.1 85.5 43.5 83.8 42.9 82.0 42.4 80.0 42.0 78.0 41.7 76.1 41.5 74.3 41.3 72.7 41.1 71.0 41.1 69.1 41.1 66.9 41.4 64.6 41.8 62.3 42.2 59.9 42.7 57.5 43.1 55.1 43.6 52.6 44.1 49.9 44.6 46.7 45.1 43.0 45.6 39.7 46.1 37.4 46.4M128.5 157.0 128.5 153.9 128.4 149.4 128.3 144.5 128.2 140.0 128.0 136.1 127.9 132.4 127.7 128.7 127.5 125.0 127.3 121.3 127.1 117.5 126.9 113.8 126.6 110.0 126.3 106.2 126.1 102.4 125.7 98.7 125.4 95.1 124.9 91.7 124.4 88.4 123.8 85.2 123.2 82.2 122.6 79.5 122.0 77.0 121.4 74.7 120.7 72.7 119.8 70.7 118.6 68.9 117.4 67.2 116.1 65.6 114.9 64.1 113.6 62.8 112.3 61.6 110.9 60.4 109.4 59.2 107.7 58.2 106.0 57.1 104.1 56.0 102.2 54.8 100.2 53.7 98.2 52.5 96.2 51.4 94.4 50.3 92.6 49.2 91.0 48.2 89.3 47.3 87.8 46.5 86.4 45.8 84.9 45.2 83.3 44.6 81.6 44.1 79.7 43.7 77.7 43.3 75.9 43.0 74.2 42.8 72.6 42.6 71.0 42.6 69.2 42.7 67.2 43.0 65.0 43.5 62.6 44.0 60.3 44.5 57.9 45.0 55.5 45.5 53.0 46.1 50.2 46.6 47.0 47.2 43.3 47.7 40.0 48.1 37.7 48.4M129.0 157.0 128.9 153.9 128.8 149.4 128.7 144.5 128.7 140.0 128.7 136.1 128.7 132.4 128.7 128.7 128.6 125.0 128.6 121.2 128.5 117.5 128.4 113.7 128.3 110.0 128.1 106.2 128.0 102.3 127.8 98.5 127.5 94.9 127.1 91.4 126.7 88.0 126.3 84.8 125.8 81.8 125.3 79.0 124.8 76.4 124.2 73.9 123.4 71.6 122.3 69.4 121.0 67.4 119.7 65.5 118.3 63.9 117.0 62.3 115.6 60.9 114.1 59.6 112.6 58.3 110.9 57.1 109.1 55.9 107.3 54.9 105.4 53.8 103.5 52.6 101.4 51.5 99.4 50.4 97.4 49.3 95.6 48.2 93.8 47.2 92.1 46.2 90.4 45.3 88.8 44.5 87.2 43.8 85.6 43.2 83.9 42.6 82.0 42.1 80.0 41.7 78.0 41.4 76.1 41.1 74.4 40.9 72.7 40.8 71.0 40.7 69.0 40.7 66.9 40.9 64.6 41.2 62.2 41.7 59.8 42.1 57.4 42.5 55.0 43.0 52.5 43.5 49.8 44.0 46.6 44.5 43.0 45.0 39.6 45.5 37.4 45.9M128.8 157.0 128.8 153.9 128.7 149.4 128.6 144.5 128.6 140.0 128.5 136.1 128.5 132.4 128.5 128.7 128.4 125.0 128.4 121.2 128.3 117.5 128.2 113.7 128.1 110.0 128.0 106.2 127.9 102.3 127.7 98.5 127.5 94.9 127.2 91.4 126.8 88.0 126.4 84.8 126.0 81.8 125.6 79.0 125.2 76.3 124.7 73.8 123.9 71.4 122.8 69.1 121.6 67.0 120.3 65.1 118.9 63.3 117.6 61.7 116.2 60.2 114.8 58.8 113.2 57.4 111.5 56.1 109.8 54.9 107.9 53.8 106.1 52.6 104.1 51.4 102.1 50.3 100.1 49.1 98.1 48.0 96.3 46.9 94.6 45.8 92.8 44.8 91.1 43.8 89.4 43.0 87.9 42.3 86.2 41.6 84.4 41.0 82.4 40.5 80.4 40.0 78.3 39.7 76.3 39.4 74.5 39.2 72.8 39.0 70.9 38.8 68.8 38.6 66.5 38.6 64.1 38.8 61.6 39.0 59.2 39.2 56.7 39.4 54.3 39.6 51.8 39.9 49.1 40.1 45.9 40.3 42.3 40.6 39.0 41.0 36.7 41.3M128.4 157.0 128.3 153.9 128.3 149.4 128.2 144.5 128.1 140.0 127.9 136.1 127.8 132.4 127.6 128.7 127.4 125.0 127.2 121.3 127.0 117.5 126.8 113.8 126.5 110.0 126.2 106.2 126.0 102.4 125.6 98.7 125.2 95.1 124.8 91.7 124.2 88.4 123.6 85.2 123.0 82.3 122.3 79.5 121.7 77.1 121.1 74.8 120.3 72.8 119.4 70.9 118.2 69.2 117.0 67.6 115.7 66.0 114.4 64.6 113.2 63.3 111.8 62.1 110.4 61.0 108.9 59.9 107.3 58.9 105.5 57.9 103.7 56.8 101.7 55.7 99.7 54.6 97.7 53.4 95.7 52.3 93.8 51.2 92.1 50.2 90.4 49.2 88.8 48.3 87.3 47.5 85.9 46.8 84.5 46.2 83.0 45.7 81.3 45.2 79.5 44.7 77.6 44.3 75.7 44.0 74.1 43.7 72.5 43.5 71.0 43.5 69.3 43.6 67.3 43.9 65.1 44.3 62.8 44.8 60.4 45.3 58.0 45.7 55.6 46.1 53.1 46.6 50.3 46.9 47.0 47.3 43.3 47.7 40.0 47.9 37.6 48.0M128.8 157.0 128.8 153.9 128.7 149.4 128.6 144.5 128.5 140.0 128.5 136.1 128.4 132.4 128.4 128.7 128.3 125.0 128.2 121.2 128.1 117.5 127.9 113.7 127.8 110.0 127.6 106.2 127.4 102.3 127.2 98.6 126.9 95.0 126.5 91.5 126.0 88.1 125.5 84.9 125.0 81.9 124.5 79.2 124.0 76.6 123.4 74.2 122.5 71.9 121.5 69.8 120.2 67.9 118.9 66.1 117.5 64.5 116.2 63.0 114.8 61.6 113.4 60.3 111.9 59.1 110.2 58.0 108.5 56.9 106.7 55.9 104.8 54.9 102.8 53.8 100.7 52.7 98.7 51.6 96.7 50.6 94.8 49.6 93.0 48.6 91.3 47.6 89.6 46.8 88.0 46.1 86.5 45.5 85.0 45.0 83.4 44.5 81.6 44.1 79.6 43.8 77.7 43.5 75.8 43.3 74.1 43.2 72.6 43.1 71.0 43.2 69.3 43.6 67.3 44.1 65.2 44.7 62.9 45.5 60.6 46.2 58.3 47.0 56.0 47.8 53.5 48.7 50.7 49.5 47.5 50.4 43.8 51.2 40.5 51.8 38.2 52.2M129.1 157.0 129.1 153.9 129.0 149.4 128.9 144.5 128.9 140.0 128.9 136.1 128.9 132.4 128.9 128.7 128.9 125.0 128.9 121.2 128.8 117.5 128.7 113.7 128.6 109.9 128.5 106.1 128.4 102.3 128.2 98.5 128.0 94.9 127.6 91.3 127.2 88.0 126.8 84.7 126.3 81.7 125.9 78.9 125.4 76.3 124.8 73.8 123.9 71.3 122.8 69.1 121.5 67.1 120.1 65.2 118.7 63.5 117.3 62.0 115.9 60.6 114.4 59.2 112.8 58.0 111.1 56.7 109.3 55.6 107.5 54.6 105.6 53.5 103.6 52.4 101.5 51.3 99.5 50.2 97.5 49.1 95.7 48.1 93.9 47.0 92.1 46.1 90.4 45.2 88.8 44.4 87.2 43.8 85.6 43.2 83.9 42.6 82.0 42.2 80.0 41.8 78.0 41.5 76.1 41.2 74.3 41.0 72.7 40.9 71.0 40.9 69.0 40.9 66.9 41.2 64.6 41.5 62.2 42.0 59.9 42.5 57.5 43.0 55.1 43.5 52.6 44.0 49.9 44.6 46.7 45.1 43.1 45.7 39.7 46.3 37.5 46.7M128.4 157.0 128.3 153.9 128.3 149.4 128.2 144.5 128.1 140.0 127.9 136.1 127.8 132.4 127.6 128.7 127.5 125.0 127.3 121.3 127.1 117.5 127.0 113.8 126.8 110.0 126.6 106.2 126.4 102.4 126.1 98.7 125.8 95.1 125.4 91.6 125.0 88.3 124.5 85.1 124.0 82.1 123.5 79.3 123.0 76.8 122.4 74.4 121.7 72.2 120.8 70.2 119.6 68.3 118.4 66.5 117.1 64.8 115.8 63.3 114.5 61.9 113.2 60.6 111.7 59.4 110.1 58.2 108.4 57.1 106.6 56.0 104.7 54.9 102.8 53.8 100.8 52.7 98.7 51.5 96.7 50.5 94.9 49.4 93.1 48.4 91.4 47.4 89.7 46.5 88.1 45.8 86.6 45.1 85.1 44.6 83.5 44.1 81.7 43.6 79.7 43.3 77.8 42.9 75.9 42.7 74.2 42.5 72.6 42.4 71.0 42.5 69.2 42.7 67.2 43.1 65.0 43.7 62.7 44.3 60.3 44.9 58.0 45.6 55.7 46.3 53.1 47.0 50.4 47.7 47.2 48.5 43.5 49.2 40.2 49.7 37.9 50.1M128.3 157.0 128.2 153.9 128.2 149.4 128.1 144.5 127.9 140.0 127.8 136.1 127.6 132.4 127.4 128.7 127.2 125.0 127.0 121.3 126.9 117.5 126.6 113.8 126.4 110.0 126.2 106.2 126.0 102.4 125.8 98.7 125.5 95.1 125.1 91.7 124.7 88.3 124.2 85.1 123.7 82.2 123.3 79.4 122.8 76.8 122.3 74.5 121.7 72.3 120.7 70.2 119.6 68.3 118.4 66.5 117.2 64.8 115.9 63.2 114.7 61.8 113.3 60.4 111.9 59.2 110.3 57.9 108.6 56.8 106.8 55.7 105.0 54.6 103.0 53.4 101.0 52.3 98.9 51.1 97.0 50.0 95.1 49.0 93.4 47.9 91.6 46.9 90.0 46.1 88.4 45.3 86.9 44.6 85.3 44.1 83.7 43.5 81.8 43.1 79.9 42.7 77.9 42.4 76.0 42.1 74.2 41.9 72.6 41.8 71.0 41.8 69.1 41.9 67.0 42.2 64.8 42.6 62.5 43.0 60.1 43.5 57.7 44.0 55.3 44.5 52.7 44.9 50.0 45.4 46.8 45.8 43.1 46.2 39.8 46.5 37.5 46.7M128.8 157.0 128.7 153.9 128.7 149.4 128.6 144.5 128.5 140.0 128.4 136.1 128.4 132.4 128.3 128.7 128.2 125.0 128.0 121.2 127.9 117.5 127.7 113.7 127.5 110.0 127.2 106.2 127.0 102.4 126.7 98.6 126.3 95.0 125.9 91.6 125.3 88.2 124.8 85.0 124.2 82.1 123.6 79.3 123.0 76.8 122.4 74.5 121.6 72.3 120.5 70.3 119.3 68.5 118.0 66.8 116.7 65.1 115.4 63.6 114.1 62.3 112.8 61.1 111.3 59.9 109.8 58.7 108.1 57.6 106.3 56.5 104.4 55.4 102.5 54.3 100.5 53.1 98.4 52.0 96.5 50.9 94.7 49.8 92.9 48.7 91.2 47.7 89.6 46.8 88.0 46.0 86.6 45.3 85.1 44.7 83.5 44.2 81.7 43.7 79.7 43.3 77.8 42.9 75.9 42.6 74.2 42.4 72.6 42.3 71.0 42.3 69.2 42.5 67.1 42.8 64.9 43.3 62.6 43.9 60.3 44.5 57.9 45.2 55.6 45.9 53.1 46.6 50.4 47.3 47.1 48.1 43.5 48.9 40.2 49.5 37.9 50.0M128.4 157.0 128.4 153.9 128.3 149.4 128.2 144.5 128.1 140.0 127.9 136.1 127.7 132.4 127.6 128.7 127.4 125.0 127.2 121.3 126.9 117.5 126.7 113.8 126.5 110.0 126.2 106.2 125.9 102.4 125.7 98.7 125.3 95.1 124.9 91.7 124.4 88.4 123.9 85.2 123.4 82.2 122.9 79.4 122.5 76.9 122.0 74.6 121.3 72.4 120.5 70.4 119.4 68.4 118.2 66.6 117.0 64.9 115.8 63.3 114.6 61.8 113.3 60.5 111.9 59.1 110.3 57.9 108.7 56.6 106.9 55.5 105.1 54.3 103.2 53.1 101.2 51.8 99.2 50.6 97.3 49.5 95.5 48.4 93.8 47.3 92.1 46.2 90.4 45.3 88.8 44.5 87.2 43.7 85.7 43.1 83.9 42.6 82.1 42.1 80.1 41.7 78.0 41.3 76.1 41.1 74.4 40.9 72.7 40.8 71.0 40.8 69.0 40.8 66.9 41.1 64.6 41.5 62.2 42.0 59.9 42.5 57.5 43.0 55.1 43.5 52.6 44.0 49.9 44.6 46.7 45.1 43.0 45.6 39.7 46.1 37.4 46.5M128.7 157.0 128.7 153.9 128.6 149.4 128.5 144.5 128.4 140.0 128.4 136.1 128.3 132.4 128.2 128.7 128.1 125.0 128.0 121.2 127.9 117.5 127.7 113.7 127.6 110.0 127.4 106.2 127.2 102.4 127.0 98.6 126.7 95.0 126.4 91.5 125.9 88.1 125.5 84.9 125.0 81.9 124.5 79.2 124.0 76.6 123.4 74.1 122.7 71.9 121.6 69.7 120.4 67.8 119.1 66.0 117.8 64.3 116.5 62.7 115.1 61.3 113.7 60.0 112.2 58.7 110.6 57.5 108.8 56.4 107.0 55.3 105.2 54.2 103.2 53.1 101.2 51.9 99.1 50.8 97.2 49.7 95.3 48.7 93.5 47.6 91.8 46.6 90.1 45.7 88.5 45.0 87.0 44.3 85.5 43.7 83.8 43.1 81.9 42.6 79.9 42.2 77.9 41.9 76.0 41.6 74.3 41.4 72.7 41.3 71.0 41.2 69.1 41.3 67.0 41.5 64.7 41.9 62.3 42.4 59.9 42.8 57.5 43.3 55.1 43.8 52.6 44.3 49.9 44.8 46.7 45.3 43.1 45.9 39.8 46.3 37.5 46.7M128.7 157.0 128.7 153.9 128.6 149.4 128.5 144.5 128.4 140.0 128.4 136.1 128.3 132.4 128.2 128.7 128.1 125.0 127.9 121.2 127.8 117.5 127.6 113.7 127.4 110.0 127.1 106.2 126.9 102.4 126.6 98.6 126.2 95.0 125.8 91.6 125.2 88.2 124.7 85.1 124.1 82.1 123.5 79.3 122.9 76.8 122.3 74.5 121.5 72.3 120.5 70.3 119.4 68.5 118.1 66.7 116.8 65.1 115.6 63.5 114.3 62.2 113.0 60.9 111.5 59.6 110.0 58.4 108.3 57.2 106.6 56.0 104.8 54.8 102.9 53.6 100.9 52.4 98.9 51.1 97.0 49.9 95.3 48.8 93.6 47.6 91.9 46.5 90.3 45.5 88.7 44.6 87.2 43.8 85.7 43.0 84.0 42.4 82.1 41.8 80.1 41.3 78.1 40.8 76.2 40.5 74.4 40.2 72.7 40.0 70.9 39.9 68.9 39.8 66.7 39.8 64.3 40.1 61.9 40.4 59.5 40.8 57.1 41.2 54.7 41.6 52.2 42.1 49.6 42.6 46.4 43.1 42.8 43.7 39.5 44.4 37.2 44.9M128.7 157.0 128.7 153.9 128.6 149.4 128.5 144.5 128.5 140.0 128.5 136.1 128.4 132.4 128.4 128.7 128.3 125.0 128.3 121.2 128.2 117.5 128.1 113.7 128.1 110.0 128.0 106.2 127.9 102.3 127.7 98.5 127.6 94.9 127.3 91.4 127.0 88.0 126.6 84.8 126.2 81.7 125.8 78.9 125.5 76.3 125.0 73.7 124.2 71.2 123.1 68.9 121.8 66.8 120.5 64.9 119.2 63.2 117.8 61.5 116.4 60.0 115.0 58.6 113.4 57.3 111.6 56.0 109.8 54.8 108.0 53.7 106.1 52.6 104.2 51.4 102.1 50.3 100.0 49.1 98.1 48.1 96.3 47.0 94.5 46.0 92.7 45.0 91.0 44.1 89.3 43.3 87.7 42.6 86.1 42.0 84.3 41.4 82.3 40.9 80.3 40.5 78.2 40.2 76.3 39.9 74.5 39.7 72.7 39.6 70.9 39.4 68.9 39.3 66.6 39.4 64.3 39.7 61.8 39.9 59.4 40.2 57.0 40.5 54.5 40.8 52.0 41.1 49.4 41.4 46.2 41.7 42.5 42.0 39.2 42.4 36.9 42.7M128.7 157.0 128.6 153.9 128.5 149.4 128.5 144.5 128.4 140.0 128.3 136.1 128.3 132.4 128.2 128.7 128.1 125.0 128.0 121.2 127.9 117.5 127.7 113.7 127.6 110.0 127.4 106.2 127.3 102.4 127.1 98.6 126.8 95.0 126.5 91.5 126.1 88.1 125.6 84.9 125.2 81.9 124.7 79.1 124.3 76.5 123.7 74.1 123.0 71.7 121.9 69.5 120.7 67.5 119.4 65.7 118.1 64.0 116.8 62.4 115.5 60.9 114.1 59.6 112.6 58.3 110.9 57.0 109.2 55.8 107.4 54.7 105.5 53.6 103.6 52.4 101.5 51.2 99.5 50.1 97.6 49.0 95.8 47.9 94.0 46.8 92.3 45.8 90.6 44.8 89.0 44.0 87.4 43.3 85.8 42.6 84.1 42.0 82.2 41.5 80.2 41.0 78.1 40.7 76.2 40.4 74.4 40.1 72.7 40.0 70.9 39.8 68.9 39.7 66.7 39.8 64.3 40.0 61.9 40.3 59.5 40.5 57.0 40.8 54.6 41.1 52.1 41.5 49.4 41.7 46.2 42.0 42.6 42.4 39.3 42.8 37.0 43.2M128.8 157.0 128.7 153.9 128.6 149.4 128.5 144.5 128.5 140.0 128.4 136.1 128.4 132.4 128.3 128.7 128.2 125.0 128.1 121.2 128.0 117.5 127.8 113.7 127.7 110.0 127.5 106.2 127.3 102.4 127.0 98.6 126.7 95.0 126.3 91.5 125.9 88.1 125.4 84.9 124.8 82.0 124.3 79.2 123.8 76.6 123.2 74.2 122.4 71.9 121.4 69.9 120.2 67.9 118.9 66.1 117.5 64.5 116.2 62.9 114.9 61.6 113.5 60.3 112.0 59.0 110.4 57.8 108.7 56.7 106.9 55.6 105.0 54.5 103.1 53.3 101.0 52.2 99.0 51.0 97.0 49.9 95.2 48.9 93.4 47.8 91.7 46.8 90.1 45.9 88.5 45.1 87.0 44.4 85.4 43.8 83.7 43.2 81.9 42.7 79.9 42.3 77.9 42.0 76.0 41.7 74.3 41.5 72.6 41.4 71.0 41.3 69.1 41.4 67.0 41.7 64.7 42.1 62.4 42.6 60.0 43.1 57.6 43.7 55.2 44.3 52.7 44.9 50.0 45.4 46.8 46.1 43.2 46.7 39.9 47.3 37.6 47.7M128.9 157.0 128.8 153.9 128.8 149.4 128.7 144.5 128.6 140.0 128.6 136.1 128.6 132.4 128.6 128.7 128.5 125.0 128.5 121.2 128.4 117.5 128.3 113.7 128.2 110.0 128.1 106.2 127.9 102.3 127.7 98.5 127.5 94.9 127.2 91.4 126.8 88.0 126.4 84.8 125.9 81.8 125.5 79.0 125.0 76.4 124.4 73.9 123.6 71.5 122.5 69.2 121.3 67.2 119.9 65.3 118.6 63.6 117.3 62.0 115.9 60.6 114.4 59.2 112.9 57.9 111.2 56.6 109.4 55.5 107.6 54.4 105.7 53.3 103.8 52.1 101.7 50.9 99.7 49.8 97.7 48.7 95.9 47.6 94.2 46.6 92.4 45.5 90.7 44.6 89.1 43.8 87.5 43.0 85.9 42.4 84.2 41.8 82.2 41.3 80.2 40.8 78.2 40.4 76.2 40.1 74.5 39.9 72.7 39.7 70.9 39.5 68.9 39.3 66.6 39.3 64.2 39.5 61.8 39.7 59.3 39.9 56.9 40.1 54.4 40.3 51.9 40.5 49.2 40.7 46.0 40.9 42.4 41.1 39.1 41.5 36.8 41.7M129.0 157.0 129.0 153.9 128.9 149.4 128.8 144.5 128.8 140.0 128.8 136.1 128.8 132.4 128.8 128.7 128.8 125.0 128.8 121.2 128.8 117.5 128.7 113.7 128.6 109.9 128.5 106.1 128.4 102.3 128.2 98.5 128.0 94.9 127.6 91.3 127.2 88.0 126.8 84.7 126.3 81.7 125.8 78.9 125.3 76.3 124.7 73.8 123.8 71.4 122.7 69.1 121.4 67.1 120.0 65.3 118.6 63.6 117.2 62.1 115.8 60.7 114.3 59.3 112.7 58.1 111.0 56.9 109.2 55.7 107.4 54.7 105.5 53.6 103.6 52.5 101.5 51.3 99.5 50.2 97.5 49.1 95.7 48.0 93.9 47.0 92.2 45.9 90.5 45.0 88.9 44.2 87.4 43.5 85.8 42.8 84.1 42.2 82.2 41.6 80.1 41.1 78.1 40.7 76.2 40.4 74.4 40.1 72.7 39.9 70.9 39.7 68.9 39.5 66.7 39.5 64.3 39.7 61.8 39.9 59.4 40.0 56.9 40.2 54.4 40.4 51.9 40.5 49.2 40.7 46.0 40.8 42.4 41.1 39.1 41.4 36.8 41.7M128.6 157.0 128.5 153.9 128.4 149.4 128.3 144.5 128.2 140.0 128.1 136.1 128.0 132.4 127.9 128.7 127.7 125.0 127.6 121.3 127.4 117.5 127.2 113.8 127.0 110.0 126.8 106.2 126.6 102.4 126.3 98.6 125.9 95.0 125.5 91.6 125.0 88.3 124.5 85.1 123.9 82.1 123.4 79.4 122.8 76.8 122.2 74.5 121.4 72.4 120.4 70.4 119.2 68.5 118.0 66.8 116.6 65.2 115.3 63.7 114.0 62.4 112.7 61.2 111.2 60.0 109.6 58.9 107.9 57.9 106.1 56.8 104.2 55.8 102.3 54.7 100.2 53.6 98.2 52.5 96.2 51.5 94.3 50.4 92.5 49.4 90.8 48.5 89.2 47.7 87.6 46.9 86.1 46.3 84.7 45.8 83.1 45.3 81.4 44.9 79.5 44.6 77.6 44.3 75.7 44.0 74.0 43.9 72.5 43.8 71.0 43.9 69.3 44.2 67.4 44.7 65.3 45.4 63.1 46.1 60.7 46.9 58.4 47.6 56.1 48.4 53.6 49.2 50.8 50.0 47.5 50.8 43.9 51.6 40.5 52.1 38.2 52.4M128.4 157.0 128.3 153.9 128.3 149.4 128.2 144.5 128.0 140.0 127.9 136.1 127.7 132.4 127.6 128.7 127.4 125.0 127.2 121.3 127.0 117.5 126.7 113.8 126.5 110.0 126.2 106.2 125.9 102.4 125.6 98.7 125.2 95.1 124.7 91.7 124.2 88.4 123.6 85.2 123.0 82.3 122.4 79.5 121.8 77.0 121.2 74.8 120.5 72.7 119.6 70.9 118.4 69.1 117.2 67.4 115.9 65.8 114.7 64.3 113.5 63.0 112.2 61.8 110.8 60.6 109.3 59.4 107.6 58.3 105.9 57.3 104.0 56.1 102.1 55.0 100.1 53.8 98.1 52.6 96.2 51.5 94.3 50.3 92.6 49.2 91.0 48.2 89.4 47.3 87.8 46.4 86.4 45.7 85.0 45.0 83.4 44.4 81.6 43.9 79.7 43.4 77.8 43.0 75.9 42.6 74.2 42.3 72.6 42.1 71.0 42.0 69.1 42.0 67.1 42.2 64.8 42.5 62.4 42.9 60.0 43.3 57.6 43.7 55.2 44.1 52.6 44.5 49.9 44.8 46.7 45.2 43.0 45.6 39.7 46.0 37.4 46.2M128.7 157.0 128.7 153.9 128.6 149.4 128.5 144.5 128.5 140.0 128.4 136.1 128.4 132.4 128.3 128.7 128.2 125.0 128.1 121.2 128.1 117.5 127.9 113.7 127.8 110.0 127.7 106.2 127.5 102.3 127.3 98.6 127.1 94.9 126.8 91.5 126.4 88.1 125.9 84.9 125.5 81.9 125.0 79.1 124.6 76.5 124.0 74.0 123.2 71.6 122.2 69.4 120.9 67.4 119.6 65.6 118.3 63.9 116.9 62.3 115.6 60.9 114.1 59.6 112.6 58.3 110.9 57.0 109.1 55.9 107.3 54.8 105.5 53.7 103.5 52.6 101.4 51.5 99.4 50.3 97.4 49.3 95.6 48.2 93.8 47.2 92.1 46.2 90.4 45.3 88.7 44.5 87.2 43.9 85.6 43.3 83.9 42.7 82.0 42.3 80.0 41.9 78.0 41.5 76.1 41.3 74.3 41.1 72.7 41.0 71.0 40.9 69.0 41.0 66.9 41.2 64.6 41.6 62.2 42.0 59.8 42.4 57.5 42.9 55.0 43.4 52.5 43.9 49.9 44.4 46.6 44.9 43.0 45.4 39.7 45.9 37.4 46.2M128.4 157.0 128.3 153.9 128.2 149.4 128.2 144.5 128.0 140.0 127.9 136.1 127.7 132.4 127.5 128.7 127.3 125.0 127.1 121.3 126.9 117.5 126.7 113.8 126.4 110.0 126.2 106.3 125.9 102.4 125.5 98.7 125.1 95.1 124.7 91.7 124.1 88.4 123.5 85.2 122.9 82.3 122.3 79.6 121.7 77.1 121.1 74.8 120.4 72.8 119.5 70.9 118.4 69.1 117.1 67.4 115.9 65.8 114.6 64.4 113.4 63.1 112.1 61.8 110.7 60.6 109.2 59.5 107.6 58.4 105.8 57.4 104.0 56.2 102.1 55.1 100.0 53.9 98.0 52.8 96.1 51.6 94.2 50.5 92.5 49.4 90.8 48.4 89.2 47.5 87.7 46.8 86.2 46.1 84.8 45.5 83.3 44.9 81.5 44.4 79.6 44.0 77.7 43.7 75.8 43.4 74.1 43.2 72.6 43.0 71.0 43.1 69.2 43.3 67.3 43.7 65.1 44.3 62.8 44.9 60.5 45.6 58.1 46.2 55.8 46.9 53.3 47.7 50.5 48.4 47.3 49.2 43.6 49.9 40.3 50.4 38.0 50.8M128.3 157.0 128.3 153.9 128.2 149.4 128.2 144.5 128.0 140.0 127.9 136.1 127.7 132.4 127.6 128.7 127.4 125.0 127.2 121.3 127.0 117.5 126.8 113.8 126.6 110.0 126.4 106.2 126.1 102.4 125.9 98.7 125.5 95.1 125.1 91.6 124.6 88.3 124.1 85.1 123.6 82.2 123.1 79.4 122.6 76.9 122.0 74.6 121.3 72.4 120.3 70.4 119.2 68.6 117.9 66.8 116.7 65.2 115.4 63.7 114.1 62.3 112.8 61.0 111.4 59.8 109.8 58.6 108.1 57.5 106.3 56.5 104.5 55.4 102.6 54.2 100.5 53.1 98.5 51.9 96.5 50.8 94.7 49.8 92.9 48.7 91.2 47.7 89.6 46.8 88.0 46.1 86.5 45.4 85.1 44.8 83.5 44.3 81.7 43.8 79.7 43.4 77.8 43.0 75.9 42.7 74.2 42.5 72.6 42.3 71.0 42.3 69.2 42.5 67.1 42.8 64.9 43.2 62.6 43.7 60.2 44.2 57.8 44.7 55.4 45.3 52.9 45.8 50.2 46.3 46.9 46.8 43.3 47.3 39.9 47.7 37.6 47.9M128.7 157.0 128.7 153.9 128.6 149.4 128.5 144.5 128.5 140.0 128.5 136.1 128.4 132.4 128.4 128.7 128.3 125.0 128.3 121.2 128.2 117.5 128.1 113.7 128.0 110.0 127.9 106.2 127.8 102.3 127.6 98.5 127.4 94.9 127.1 91.4 126.7 88.0 126.3 84.8 125.9 81.8 125.5 79.0 125.1 76.4 124.5 73.8 123.7 71.4 122.7 69.2 121.4 67.1 120.1 65.2 118.7 63.5 117.4 61.9 116.0 60.4 114.5 59.1 113.0 57.8 111.3 56.5 109.5 55.3 107.7 54.2 105.8 53.1 103.8 52.0 101.8 50.8 99.7 49.7 97.8 48.6 96.0 47.5 94.2 46.5 92.5 45.5 90.7 44.5 89.1 43.7 87.5 43.0 85.9 42.4 84.2 41.8 82.2 41.3 80.2 40.8 78.2 40.5 76.2 40.2 74.4 39.9 72.7 39.8 70.9 39.6 68.9 39.5 66.6 39.5 64.3 39.7 61.8 39.9 59.4 40.2 56.9 40.4 54.5 40.7 52.0 40.9 49.3 41.1 46.1 41.3 42.5 41.5 39.1 41.9 36.8 42.1M129.0 157.0 129.0 153.9 128.9 149.4 128.8 144.5 128.8 140.0 128.9 136.1 128.9 132.4 128.9 128.7 128.9 125.0 128.9 121.2 128.9 117.5 128.8 113.7 128.7 109.9 128.6 106.1 128.5 102.3 128.3 98.5 128.0 94.8 127.7 91.3 127.2 88.0 126.7 84.7 126.2 81.7 125.7 78.9 125.2 76.3 124.6 73.8 123.6 71.5 122.5 69.3 121.1 67.3 119.7 65.5 118.3 63.8 117.0 62.3 115.5 60.9 114.1 59.6 112.5 58.4 110.8 57.2 109.1 56.1 107.2 55.0 105.4 53.9 103.4 52.8 101.3 51.6 99.3 50.5 97.4 49.4 95.6 48.3 93.8 47.2 92.1 46.2 90.4 45.2 88.8 44.4 87.3 43.6 85.7 43.0 84.0 42.3 82.1 41.8 80.1 41.3 78.1 40.9 76.2 40.6 74.4 40.3 72.7 40.2 70.9 40.0 69.0 39.9 66.7 40.0 64.4 40.2 62.0 40.5 59.5 40.9 57.1 41.2 54.7 41.6 52.2 42.0 49.5 42.4 46.3 42.9 42.7 43.4 39.4 44.0 37.2 44.5M128.3 157.0 128.3 153.9 128.2 149.4 128.1 144.5 128.0 140.0 127.8 136.1 127.7 132.4 127.5 128.7 127.3 125.0 127.2 121.3 127.0 117.5 126.8 113.8 126.5 110.0 126.3 106.2 126.0 102.4 125.8 98.7 125.4 95.1 125.0 91.7 124.5 88.3 124.0 85.2 123.5 82.2 123.0 79.4 122.5 76.9 121.9 74.6 121.2 72.4 120.3 70.5 119.2 68.6 117.9 66.8 116.7 65.2 115.4 63.7 114.2 62.3 112.8 61.0 111.4 59.8 109.8 58.6 108.2 57.5 106.4 56.4 104.6 55.2 102.6 54.1 100.6 52.9 98.6 51.8 96.6 50.6 94.8 49.5 93.1 48.5 91.4 47.4 89.7 46.5 88.2 45.7 86.7 45.0 85.2 44.4 83.6 43.9 81.8 43.3 79.8 42.9 77.8 42.5 76.0 42.2 74.2 42.0 72.6 41.8 71.0 41.8 69.1 41.8 67.0 42.0 64.8 42.4 62.4 42.8 60.0 43.3 57.6 43.7 55.2 44.1 52.7 44.6 50.0 45.0 46.7 45.4 43.1 45.8 39.7 46.2 37.4 46.4M128.8 157.0 128.8 153.9 128.7 149.4 128.6 144.5 128.6 140.0 128.5 136.1 128.5 132.4 128.5 128.7 128.4 125.0 128.4 121.2 128.3 117.5 128.2 113.7 128.1 110.0 128.0 106.2 127.8 102.3 127.6 98.5 127.4 94.9 127.1 91.4 126.7 88.0 126.3 84.8 125.8 81.8 125.4 79.0 124.9 76.4 124.4 73.9 123.5 71.5 122.5 69.3 121.2 67.2 119.8 65.4 118.5 63.7 117.2 62.1 115.8 60.7 114.3 59.3 112.8 58.0 111.1 56.8 109.3 55.7 107.5 54.6 105.6 53.5 103.6 52.3 101.6 51.2 99.5 50.1 97.6 49.0 95.7 47.9 94.0 46.9 92.2 45.9 90.5 45.0 88.9 44.2 87.3 43.5 85.7 42.9 84.0 42.3 82.1 41.8 80.1 41.4 78.1 41.1 76.1 40.8 74.4 40.6 72.7 40.5 70.9 40.3 69.0 40.3 66.8 40.5 64.5 40.8 62.1 41.1 59.7 41.5 57.2 41.8 54.8 42.2 52.3 42.6 49.6 43.0 46.4 43.3 42.8 43.7 39.5 44.2 37.2 44.5" stroke="#0000ff" stroke-width="0.5" fill="none" stroke-opacity="0.7"/><path d="M36.8 49.9 38.0 50.7 39.8 51.7 42.3 52.9 45.6 54.3 49.9 55.7 55.1 57.2 60.5 58.9 65.7 60.8 70.6 62.9 75.4 65.1 80.2 67.6 84.9 70.7 90.0 75.0 95.4 80.0 100.6 85.4 105.0 90.2 108.9 94.2 112.2 97.9 115.0 101.5 117.5 104.8 119.5 107.8 121.0 110.6 122.4 113.2 123.6 115.9 124.6 118.4 125.5 120.8 126.2 123.3 126.9 126.1 127.4 129.2 127.7 132.6 127.8 136.2 128.0 140.0 128.1 144.4 128.2 149.4 128.2 153.9 128.3 157.0M38.3 47.0 39.6 47.6 41.4 48.4 43.7 49.5 46.8 50.7 51.0 52.0 56.1 53.4 61.7 55.1 67.0 57.0 72.1 59.0 77.1 61.3 82.2 63.9 87.3 67.3 92.8 71.6 98.4 76.8 103.8 82.0 108.6 86.8 112.5 91.1 115.9 95.1 118.8 98.9 121.3 102.5 123.4 105.8 125.0 108.9 126.1 111.9 127.1 114.8 127.8 117.7 128.1 120.3 128.3 123.0 128.3 125.9 128.4 129.2 128.6 132.6 128.7 136.2 128.8 140.0 128.9 144.4 128.9 149.4 128.9 153.9 128.8 157.0M36.5 50.4 37.8 51.1 39.6 52.2 42.1 53.4 45.5 54.7 49.8 56.1 55.0 57.5 60.4 59.2 65.6 61.1 70.5 63.1 75.4 65.2 80.2 67.6 85.0 70.6 90.2 74.7 95.7 79.7 101.0 84.9 105.6 89.6 109.6 93.6 113.0 97.3 115.9 100.9 118.3 104.3 120.4 107.4 121.9 110.2 123.2 112.9 124.3 115.7 125.3 118.3 126.0 120.7 126.6 123.2 127.2 126.0 127.6 129.2 127.9 132.6 128.0 136.2 128.2 140.0 128.3 144.4 128.4 149.4 128.4 153.9 128.5 157.0M36.7 50.0 38.0 50.7 39.8 51.8 42.3 53.0 45.6 54.4 49.9 55.8 55.0 57.3 60.4 59.1 65.6 61.0 70.5 63.1 75.3 65.2 80.1 67.7 84.8 70.9 89.9 75.1 95.3 80.1 100.5 85.4 105.0 90.2 108.9 94.2 112.2 97.9 115.1 101.5 117.5 104.8 119.5 107.8 121.1 110.5 122.5 113.2 123.7 115.9 124.7 118.4 125.6 120.8 126.3 123.3 126.9 126.1 127.5 129.2 127.7 132.6 127.9 136.2 128.0 140.0 128.1 144.4 128.2 149.4 128.3 153.9 128.3 157.0M37.6 48.4 38.8 49.1 40.5 50.2 42.9 51.4 46.1 52.8 50.4 54.1 55.5 55.6 61.0 57.3 66.3 59.2 71.2 61.2 76.2 63.3 81.2 65.8 86.2 68.9 91.5 73.1 97.1 78.2 102.5 83.4 107.2 88.2 111.1 92.3 114.4 96.2 117.2 100.0 119.7 103.5 121.6 106.7 123.1 109.7 124.3 112.6 125.3 115.4 126.1 118.1 126.7 120.6 127.1 123.2 127.5 126.0 127.8 129.2 128.0 132.6 128.2 136.2 128.3 140.0 128.4 144.4 128.5 149.4 128.5 153.9 128.5 157.0M36.0 51.3 37.3 52.0 39.2 52.9 41.8 54.2 45.2 55.5 49.6 56.8 54.8 58.3 60.2 59.9 65.3 61.8 70.2 63.8 75.1 65.9 79.8 68.2 84.5 71.3 89.7 75.3 95.2 80.3 100.4 85.5 105.1 90.2 109.1 94.0 112.5 97.7 115.4 101.2 117.9 104.5 120.0 107.6 121.6 110.3 123.0 113.0 124.2 115.7 125.2 118.3 126.0 120.7 126.6 123.2 127.2 126.0 127.7 129.2 127.9 132.6 128.1 136.2 128.2 140.0 128.3 144.4 128.4 149.4 128.4 153.9 128.5 157.0M36.5 50.4 37.9 50.9 39.8 51.7 42.4 52.7 45.8 53.7 50.2 54.7 55.4 55.9 61.0 57.2 66.4 58.7 71.6 60.4 76.7 62.2 81.9 64.4 87.2 67.5 92.8 71.6 98.5 76.7 104.0 81.9 108.6 86.8 112.3 91.3 115.4 95.5 118.0 99.4 120.2 103.2 122.0 106.5 123.3 109.6 124.3 112.6 125.2 115.4 126.0 118.1 126.6 120.6 127.1 123.2 127.5 126.0 127.9 129.2 128.1 132.6 128.3 136.2 128.5 140.0 128.6 144.4 128.7 149.4 128.7 153.9 128.8 157.0M36.9 49.7 38.2 50.3 40.0 51.2 42.5 52.3 45.8 53.5 50.2 54.8 55.4 56.1 60.9 57.6 66.2 59.4 71.2 61.3 76.2 63.2 81.2 65.6 86.3 68.7 91.7 72.9 97.4 77.9 102.8 83.1 107.5 87.9 111.4 92.1 114.6 96.1 117.4 99.9 119.8 103.4 121.7 106.7 123.1 109.7 124.2 112.6 125.2 115.4 126.0 118.1 126.6 120.6 127.1 123.2 127.5 126.0 127.8 129.2 128.0 132.6 128.2 136.2 128.4 140.0 128.5 144.4 128.5 149.4 128.6 153.9 128.6 157.0M37.0 49.5 38.3 50.1 40.1 51.0 42.7 52.1 46.0 53.2 50.3 54.3 55.5 55.5 61.1 56.9 66.5 58.6 71.6 60.3 76.7 62.2 81.8 64.6 87.0 67.7 92.5 72.0 98.1 77.1 103.4 82.4 108.0 87.4 111.6 91.9 114.6 96.1 117.2 100.0 119.3 103.7 121.0 107.1 122.3 110.1 123.3 112.9 124.2 115.7 125.1 118.3 125.8 120.7 126.4 123.2 127.0 126.1 127.5 129.2 127.8 132.6 127.9 136.2 128.1 140.0 128.2 144.4 128.3 149.4 128.4 153.9 128.4 157.0M37.1 49.3 38.4 50.0 40.2 50.9 42.7 52.0 46.0 53.2 50.3 54.4 55.5 55.7 61.0 57.2 66.4 58.9 71.5 60.6 76.6 62.5 81.7 64.7 87.0 67.7 92.6 71.8 98.5 76.6 104.2 81.7 109.1 86.4 113.1 90.6 116.4 94.7 119.3 98.6 121.7 102.3 123.6 105.7 124.9 109.0 125.9 112.0 126.7 115.0 127.4 117.8 127.7 120.4 127.9 123.0 128.0 126.0 128.2 129.2 128.4 132.6 128.5 136.2 128.6 140.0 128.7 144.4 128.8 149.4 128.8 153.9 128.8 157.0M37.2 49.1 38.5 49.8 40.2 50.8 42.7 52.1 45.9 53.4 50.2 54.8 55.3 56.3 60.8 57.9 66.0 59.9 71.0 61.9 75.9 64.1 80.7 66.6 85.5 69.8 90.7 74.1 96.1 79.2 101.3 84.6 105.8 89.5 109.5 93.6 112.7 97.5 115.4 101.2 117.8 104.6 119.7 107.7 121.2 110.5 122.4 113.2 123.5 115.9 124.5 118.4 125.3 120.8 126.0 123.3 126.7 126.1 127.4 129.2 127.6 132.6 127.8 136.2 127.9 140.0 128.0 144.4 128.1 149.4 128.1 153.9 128.2 157.0M37.7 48.2 39.0 48.7 40.9 49.6 43.3 50.5 46.5 51.5 50.8 52.5 56.0 53.6 61.7 54.9 67.3 56.4 72.5 58.0 77.7 59.9 83.1 62.3 88.5 65.5 94.2 69.9 99.9 75.2 105.2 80.7 109.6 85.9 113.0 90.7 115.9 95.1 118.2 99.3 120.2 103.2 121.7 106.7 122.9 109.8 123.9 112.7 124.8 115.5 125.6 118.2 126.3 120.6 126.8 123.2 127.3 126.0 127.8 129.2 128.0 132.6 128.2 136.2 128.4 140.0 128.5 144.4 128.6 149.4 128.6 153.9 128.7 157.0M37.2 49.1 38.5 49.8 40.3 50.8 42.7 52.0 46.0 53.2 50.2 54.5 55.4 56.0 60.9 57.5 66.2 59.3 71.2 61.2 76.2 63.2 81.2 65.6 86.3 68.7 91.7 72.9 97.4 77.8 102.9 83.0 107.6 87.7 111.5 91.9 114.9 95.9 117.7 99.7 120.1 103.2 122.0 106.5 123.5 109.6 124.6 112.5 125.5 115.3 126.3 118.0 126.8 120.5 127.2 123.1 127.6 126.0 127.9 129.2 128.1 132.6 128.2 136.2 128.4 140.0 128.4 144.4 128.5 149.4 128.5 153.9 128.5 157.0M38.0 47.6 39.2 48.3 40.9 49.4 43.3 50.6 46.4 52.0 50.6 53.4 55.7 54.9 61.2 56.6 66.5 58.6 71.4 60.7 76.4 62.9 81.3 65.6 86.2 68.9 91.3 73.3 96.7 78.6 101.8 84.1 106.2 89.1 109.9 93.3 113.0 97.3 115.6 101.1 117.8 104.6 119.6 107.8 121.0 110.6 122.2 113.3 123.3 116.0 124.3 118.5 125.1 120.9 125.8 123.3 126.6 126.1 127.2 129.2 127.5 132.6 127.6 136.2 127.8 140.0 127.9 144.4 127.9 149.4 128.0 153.9 128.0 157.0M37.4 48.8 38.6 49.5 40.4 50.5 42.8 51.7 46.1 52.9 50.4 54.1 55.6 55.4 61.1 56.8 66.5 58.4 71.7 60.1 76.9 61.8 82.2 63.9 87.7 66.7 93.7 70.5 99.8 75.2 105.8 80.1 111.0 84.6 115.1 88.9 118.5 93.1 121.3 97.2 123.7 101.0 125.5 104.7 126.7 108.2 127.5 111.5 128.0 114.6 128.4 117.5 128.5 120.3 128.4 123.0 128.4 125.9 128.4 129.2 128.5 132.6 128.7 136.2 128.8 140.0 128.9 144.4 128.9 149.4 128.9 153.9 129.0 157.0M38.9 45.8 40.2 46.5 41.9 47.5 44.1 48.7 47.1 50.0 51.1 51.4 56.3 52.9 61.8 54.5 67.2 56.5 72.3 58.6 77.3 60.8 82.4 63.4 87.6 66.8 93.1 71.2 98.8 76.3 104.3 81.6 109.1 86.4 113.0 90.7 116.4 94.8 119.2 98.6 121.7 102.2 123.7 105.6 125.2 108.8 126.3 111.9 127.2 114.8 127.9 117.6 128.2 120.3 128.4 123.0 128.4 125.9 128.4 129.2 128.6 132.6 128.7 136.2 128.8 140.0 128.9 144.4 128.9 149.4 128.9 153.9 128.9 157.0M37.8 47.9 39.2 48.4 41.0 49.3 43.4 50.4 46.5 51.6 50.7 52.9 55.8 54.4 61.3 56.1 66.6 58.1 71.6 60.2 76.5 62.5 81.4 65.2 86.4 68.6 91.6 73.0 97.1 78.2 102.4 83.5 107.1 88.3 111.0 92.4 114.4 96.3 117.3 99.9 119.9 103.3 122.1 106.5 123.7 109.5 124.9 112.3 126.0 115.2 126.8 117.9 127.3 120.5 127.6 123.1 127.9 126.0 128.0 129.2 128.2 132.6 128.4 136.2 128.5 140.0 128.5 144.4 128.6 149.4 128.6 153.9 128.6 157.0M38.8 45.9 40.1 46.6 41.9 47.5 44.1 48.6 47.1 49.8 51.2 51.0 56.4 52.3 62.1 53.8 67.6 55.5 72.7 57.4 77.9 59.4 83.3 61.9 88.7 65.2 94.4 69.6 100.3 74.8 105.8 80.1 110.5 85.0 114.2 89.7 117.3 94.1 119.8 98.2 122.0 102.1 123.7 105.7 124.9 109.0 125.8 112.0 126.5 115.0 127.1 117.8 127.4 120.4 127.7 123.1 127.9 126.0 128.0 129.2 128.2 132.6 128.4 136.2 128.5 140.0 128.6 144.4 128.6 149.4 128.7 153.9 128.7 157.0M38.8 46.0 40.1 46.8 41.8 47.8 44.0 48.9 47.0 50.2 51.1 51.6 56.2 53.1 61.7 54.8 67.1 56.8 72.1 58.9 77.1 61.2 82.2 63.9 87.2 67.4 92.5 71.9 97.9 77.3 103.1 82.8 107.6 87.8 111.2 92.2 114.3 96.4 116.9 100.2 119.2 103.8 121.0 107.0 122.4 110.0 123.6 112.8 124.7 115.6 125.6 118.2 126.2 120.6 126.8 123.2 127.3 126.0 127.7 129.2 127.9 132.6 128.1 136.2 128.3 140.0 128.4 144.4 128.4 149.4 128.5 153.9 128.5 157.0M38.1 47.3 39.4 48.0 41.1 49.0 43.5 50.1 46.6 51.4 50.8 52.7 55.9 54.0 61.5 55.6 66.9 57.3 72.0 59.2 77.1 61.2 82.3 63.7 87.6 66.9 93.1 71.2 98.9 76.3 104.3 81.6 109.0 86.5 112.7 90.9 115.9 95.1 118.5 99.1 120.7 102.8 122.5 106.3 123.8 109.4 124.8 112.4 125.6 115.3 126.3 118.0 126.8 120.6 127.2 123.1 127.5 126.0 127.8 129.2 128.0 132.6 128.2 136.2 128.3 140.0 128.4 144.4 128.5 149.4 128.5 153.9 128.5 157.0M38.6 46.4 39.9 47.0 41.7 47.8 44.1 48.8 47.1 49.8 51.3 50.8 56.5 52.0 62.2 53.2 67.8 54.7 73.1 56.4 78.4 58.3 83.9 60.7 89.6 64.0 95.4 68.4 101.3 73.6 106.8 79.0 111.5 84.1 115.0 89.0 117.9 93.6 120.2 97.9 122.2 101.9 123.8 105.6 124.9 109.0 125.7 112.1 126.4 115.1 127.0 117.8 127.4 120.5 127.6 123.1 127.9 126.0 128.1 129.2 128.3 132.6 128.5 136.2 128.6 140.0 128.7 144.4 128.7 149.4 128.8 153.9 128.8 157.0M38.0 47.5 39.3 48.1 41.1 49.0 43.5 50.0 46.6 51.2 50.9 52.4 56.0 53.6 61.7 55.1 67.1 56.7 72.3 58.5 77.5 60.4 82.8 62.8 88.3 65.9 94.0 70.1 100.0 75.0 105.7 80.2 110.6 84.9 114.6 89.4 117.9 93.6 120.6 97.7 123.0 101.5 124.9 105.1 126.2 108.5 127.1 111.6 127.8 114.6 128.3 117.5 128.5 120.3 128.5 123.0 128.5 125.9 128.4 129.2 128.6 132.6 128.8 136.2 128.9 140.0 129.0 144.4 129.0 149.4 129.0 153.9 129.0 157.0M37.8 47.8 39.2 48.5 40.9 49.4 43.3 50.6 46.4 51.8 50.6 53.1 55.8 54.5 61.3 56.1 66.7 58.0 71.7 60.0 76.7 62.1 81.8 64.6 86.9 67.9 92.3 72.1 98.0 77.2 103.4 82.5 108.1 87.3 112.0 91.5 115.3 95.5 118.2 99.3 120.6 102.9 122.6 106.2 124.0 109.3 125.2 112.3 126.1 115.1 126.9 117.9 127.3 120.5 127.6 123.1 127.9 126.0 128.1 129.2 128.3 132.6 128.4 136.2 128.5 140.0 128.6 144.4 128.6 149.4 128.7 153.9 128.7 157.0M36.4 50.6 37.7 51.3 39.5 52.3 42.0 53.6 45.4 55.0 49.7 56.3 54.9 57.9 60.3 59.6 65.4 61.5 70.3 63.6 75.1 65.7 79.8 68.2 84.5 71.3 89.6 75.4 95.0 80.5 100.2 85.7 104.7 90.5 108.6 94.4 112.0 98.1 114.9 101.6 117.4 104.9 119.4 107.9 121.0 110.6 122.4 113.2 123.6 115.9 124.7 118.4 125.6 120.8 126.3 123.3 126.9 126.1 127.5 129.2 127.7 132.6 127.9 136.2 128.1 140.0 128.2 144.4 128.3 149.4 128.3 153.9 128.3 157.0M37.3 48.8 38.6 49.5 40.3 50.6 42.8 51.9 45.9 53.2 50.2 54.7 55.3 56.2 60.8 57.9 66.0 59.9 70.9 62.0 75.8 64.2 80.6 66.7 85.5 69.9 90.7 74.1 96.2 79.2 101.5 84.4 106.1 89.1 110.1 93.1 113.5 96.9 116.4 100.5 119.0 103.9 121.1 107.0 122.7 109.9 124.1 112.6 125.2 115.4 126.2 118.0 126.8 120.5 127.3 123.1 127.7 126.0 128.0 129.2 128.2 132.6 128.4 136.2 128.6 140.0 128.7 144.4 128.7 149.4 128.8 153.9 128.8 157.0M36.5 50.4 37.8 51.1 39.6 52.0 42.2 53.2 45.5 54.5 49.9 55.8 55.1 57.2 60.5 58.9 65.7 60.8 70.6 62.8 75.5 64.9 80.3 67.3 85.1 70.4 90.3 74.6 95.8 79.6 101.1 84.8 105.7 89.5 109.7 93.5 113.1 97.2 116.0 100.8 118.6 104.2 120.6 107.2 122.3 110.1 123.6 112.8 124.8 115.5 125.8 118.1 126.5 120.6 127.1 123.2 127.5 126.0 127.9 129.2 128.1 132.6 128.3 136.2 128.5 140.0 128.6 144.4 128.7 149.4 128.7 153.9 128.7 157.0M37.8 47.9 39.1 48.6 40.9 49.5 43.3 50.6 46.4 51.8 50.7 53.1 55.8 54.4 61.4 55.9 66.8 57.6 71.9 59.5 77.0 61.4 82.2 63.8 87.5 66.9 93.2 71.1 99.0 76.1 104.5 81.3 109.3 86.1 113.2 90.5 116.4 94.7 119.1 98.7 121.4 102.4 123.2 105.9 124.5 109.1 125.5 112.2 126.2 115.1 126.9 117.9 127.3 120.5 127.5 123.1 127.8 126.0 128.0 129.2 128.2 132.6 128.3 136.2 128.5 140.0 128.5 144.4 128.6 149.4 128.6 153.9 128.6 157.0M38.2 47.1 39.5 47.8 41.2 48.8 43.6 49.9 46.7 51.2 50.8 52.5 56.0 53.8 61.6 55.4 67.0 57.2 72.0 59.1 77.1 61.2 82.3 63.7 87.5 67.0 93.0 71.4 98.7 76.5 104.1 81.8 108.7 86.7 112.4 91.2 115.6 95.4 118.2 99.3 120.5 103.0 122.3 106.4 123.6 109.5 124.6 112.5 125.5 115.3 126.2 118.0 126.7 120.6 127.1 123.1 127.5 126.0 127.8 129.2 128.0 132.6 128.2 136.2 128.3 140.0 128.4 144.4 128.5 149.4 128.5 153.9 128.5 157.0M36.0 51.3 37.3 51.9 39.2 52.8 41.9 53.9 45.3 55.1 49.8 56.3 55.0 57.6 60.4 59.0 65.7 60.7 70.7 62.5 75.7 64.4 80.7 66.6 85.7 69.5 91.2 73.6 96.9 78.4 102.3 83.6 107.0 88.3 111.0 92.4 114.3 96.3 117.1 100.1 119.5 103.6 121.4 106.9 122.8 109.8 123.9 112.7 124.9 115.5 125.7 118.2 126.3 120.6 126.8 123.2 127.3 126.0 127.7 129.2 127.9 132.6 128.1 136.2 128.2 140.0 128.3 144.4 128.4 149.4 128.5 153.9 128.5 157.0M35.9 51.5 37.3 52.1 39.2 52.9 41.9 54.0 45.3 55.1 49.8 56.2 55.0 57.5 60.5 58.9 65.7 60.7 70.7 62.5 75.7 64.5 80.5 66.9 85.4 70.1 90.5 74.3 95.9 79.4 101.1 84.8 105.5 89.7 109.3 93.8 112.5 97.7 115.3 101.3 117.7 104.7 119.8 107.7 121.4 110.4 122.8 113.1 124.1 115.7 125.3 118.3 126.1 120.7 126.8 123.2 127.3 126.0 127.8 129.2 128.1 132.6 128.2 136.2 128.4 140.0 128.5 144.4 128.6 149.4 128.6 153.9 128.7 157.0M36.4 50.7 37.7 51.3 39.5 52.3 42.1 53.4 45.5 54.6 49.9 55.9 55.0 57.3 60.5 58.8 65.7 60.6 70.7 62.6 75.6 64.6 80.4 67.1 85.2 70.3 90.4 74.5 95.7 79.7 100.9 85.1 105.2 90.0 109.0 94.1 112.1 98.0 114.8 101.6 117.2 105.0 119.1 108.0 120.7 110.7 122.0 113.4 123.3 116.0 124.4 118.5 125.3 120.8 126.1 123.3 126.8 126.1 127.4 129.2 127.7 132.6 127.9 136.2 128.1 140.0 128.2 144.4 128.3 149.4 128.3 153.9 128.4 157.0M37.1 49.2 38.4 49.9 40.2 50.9 42.7 52.0 45.9 53.3 50.2 54.7 55.4 56.1 60.8 57.8 66.1 59.7 71.1 61.7 76.0 63.8 80.8 66.3 85.8 69.5 91.0 73.7 96.5 78.8 101.8 84.1 106.4 88.9 110.2 93.0 113.5 96.9 116.4 100.6 118.8 104.0 120.8 107.1 122.4 110.0 123.6 112.8 124.7 115.6 125.7 118.2 126.4 120.6 126.9 123.2 127.4 126.0 127.8 129.2 128.0 132.6 128.2 136.2 128.4 140.0 128.5 144.4 128.6 149.4 128.6 153.9 128.6 157.0" stroke="#0000ff" stroke-width="0.5" fill="none" stroke-opacity="0.7"/><path d="M192 41.5H219.5" stroke="#0000ff" stroke-width="0.8"/><rect x="37.5" y="18" width="182" height="139" fill="none" stroke="#9a9a9a" stroke-width="0.8"/><path d="M83 157v-2.0M83 18v2.0M128.5 157v-2.0M128.5 18v2.0M174 157v-2.0M174 18v2.0" stroke="#9a9a9a" stroke-width="0.6" fill="none"/><path d="M37.5 150h1.3M219.5 150h-1.3M37.5 145.9h1.3M219.5 145.9h-1.3M37.5 143.1h1.3M219.5 143.1h-1.3M37.5 140.8h1.3M219.5 140.8h-1.3M37.5 139h1.3M219.5 139h-1.3M37.5 137.4h1.3M219.5 137.4h-1.3M37.5 136.1h1.3M219.5 136.1h-1.3M37.5 134.9h1.3M219.5 134.9h-1.3M37.5 133.8h1.3M219.5 133.8h-1.3M37.5 126.9h1.3M219.5 126.9h-1.3M37.5 122.8h1.3M219.5 122.8h-1.3M37.5 119.9h1.3M219.5 119.9h-1.3M37.5 117.6h1.3M219.5 117.6h-1.3M37.5 115.8h1.3M219.5 115.8h-1.3M37.5 114.3h1.3M219.5 114.3h-1.3M37.5 112.9h1.3M219.5 112.9h-1.3M37.5 111.7h1.3M219.5 111.7h-1.3M37.5 110.7h1.3M219.5 110.7h-1.3M37.5 103.7h1.3M219.5 103.7h-1.3M37.5 99.6h1.3M219.5 99.6h-1.3M37.5 96.7h1.3M219.5 96.7h-1.3M37.5 94.5h1.3M219.5 94.5h-1.3M37.5 92.6h1.3M219.5 92.6h-1.3M37.5 91.1h1.3M219.5 91.1h-1.3M37.5 89.7h1.3M219.5 89.7h-1.3M37.5 88.6h1.3M219.5 88.6h-1.3M37.5 87.5h1.3M219.5 87.5h-1.3M37.5 80.5h1.3M219.5 80.5h-1.3M37.5 76.4h1.3M219.5 76.4h-1.3M37.5 73.6h1.3M219.5 73.6h-1.3M37.5 71.3h1.3M219.5 71.3h-1.3M37.5 69.5h1.3M219.5 69.5h-1.3M37.5 67.9h1.3M219.5 67.9h-1.3M37.5 66.6h1.3M219.5 66.6h-1.3M37.5 65.4h1.3M219.5 65.4h-1.3M37.5 64.3h1.3M219.5 64.3h-1.3M37.5 57.4h1.3M219.5 57.4h-1.3M37.5 53.3h1.3M219.5 53.3h-1.3M37.5 50.4h1.3M219.5 50.4h-1.3M37.5 48.1h1.3M219.5 48.1h-1.3M37.5 46.3h1.3M219.5 46.3h-1.3M37.5 44.8h1.3M219.5 44.8h-1.3M37.5 43.4h1.3M219.5 43.4h-1.3M37.5 42.2h1.3M219.5 42.2h-1.3M37.5 41.2h1.3M219.5 41.2h-1.3M37.5 34.2h1.3M219.5 34.2h-1.3M37.5 30.1h1.3M219.5 30.1h-1.3M37.5 27.2h1.3M219.5 27.2h-1.3M37.5 25h1.3M219.5 25h-1.3M37.5 23.1h1.3M219.5 23.1h-1.3M37.5 21.6h1.3M219.5 21.6h-1.3M37.5 20.2h1.3M219.5 20.2h-1.3M37.5 19.1h1.3M219.5 19.1h-1.3" stroke="#9a9a9a" stroke-width="0.5" fill="none"/><text x="37.5" y="170.6" font-size="10" text-anchor="middle" font-weight="normal" fill="#262626" >-1</text><text x="83" y="170.6" font-size="10" text-anchor="middle" font-weight="normal" fill="#262626" >-0.5</text><text x="128.5" y="170.6" font-size="10" text-anchor="middle" font-weight="normal" fill="#262626" >0</text><text x="174" y="170.6" font-size="10" text-anchor="middle" font-weight="normal" fill="#262626" >0.5</text><text x="219.5" y="170.6" font-size="10" text-anchor="middle" font-weight="normal" fill="#262626" >1</text><text x="34" y="23.6" font-size="10" text-anchor="end" fill="#262626">10<tspan font-size="7.7" dy="-4.8">-2</tspan></text><text x="34" y="69.9" font-size="10" text-anchor="end" fill="#262626">10<tspan font-size="7.7" dy="-4.8">-4</tspan></text><text x="34" y="116.3" font-size="10" text-anchor="end" fill="#262626">10<tspan font-size="7.7" dy="-4.8">-6</tspan></text><text x="34" y="162.6" font-size="10" text-anchor="end" fill="#262626">10<tspan font-size="7.7" dy="-4.8">-8</tspan></text><text x="128.5" y="183.2" font-size="10.3" text-anchor="middle" font-weight="normal" fill="#262626" >Voltage (V)</text><text transform="translate(11.4,87.5) rotate(-90)" font-size="10.5" text-anchor="middle" fill="#262626">Current (A)</text><text x="186.5" y="151" font-size="11" text-anchor="middle" font-weight="normal" fill="#262626" >50 cycles</text><text x="2" y="13.3" font-size="16" text-anchor="start" font-weight="bold" fill="#000" >a</text><path d="M114.2 48.3L96.6 37.5" stroke="#262626" stroke-width="0.7"/><path d="M92.3 34.9L97.9 35.3L95.2 39.7Z" fill="#111"/><path d="M72.8 80.0L87.9 88.5" stroke="#262626" stroke-width="0.7"/><path d="M92.3 90.9L86.7 90.7L89.2 86.2Z" fill="#111"/><path d="M160.5 38.1L144.6 46.9" stroke="#262626" stroke-width="0.7"/><path d="M140.2 49.3L143.3 44.6L145.8 49.2Z" fill="#111"/><path d="M154.4 89.9L165.6 80.0" stroke="#262626" stroke-width="0.7"/><path d="M169.3 76.7L167.3 82.0L163.8 78.1Z" fill="#111"/><text x="108.1" y="39.8" font-size="11.5" text-anchor="middle" font-weight="normal" fill="#262626" >3</text><text x="80.1" y="98.3" font-size="11.5" text-anchor="middle" font-weight="normal" fill="#262626" >4</text><text x="147.3" y="39.6" font-size="11.5" text-anchor="middle" font-weight="normal" fill="#262626" >2</text><text x="166.6" y="96.8" font-size="11.5" text-anchor="middle" font-weight="normal" fill="#262626" >1</text><rect x="272.3" y="18.2" width="195.3" height="141.8" fill="none" stroke="#9a9a9a" stroke-width="0.8"/><path d="M272.3 131.6h2.0M467.6 131.6h-2.0M272.3 103.3h2.0M467.6 103.3h-2.0M272.3 74.9h2.0M467.6 74.9h-2.0M272.3 46.6h2.0M467.6 46.6h-2.0" stroke="#9a9a9a" stroke-width="0.6" fill="none"/><path d="M285.7 160v-2.2M285.7 18.2v2.2M392.1 160v-2.2M392.1 18.2v2.2" stroke="#9a9a9a" stroke-width="0.6" fill="none"/><path d="M275.4 160v-1.3M275.4 18.2v1.3M280.8 160v-1.3M280.8 18.2v1.3M317.7 160v-1.3M317.7 18.2v1.3M336.5 160v-1.3M336.5 18.2v1.3M349.8 160v-1.3M349.8 18.2v1.3M360.1 160v-1.3M360.1 18.2v1.3M368.5 160v-1.3M368.5 18.2v1.3M375.6 160v-1.3M375.6 18.2v1.3M381.8 160v-1.3M381.8 18.2v1.3M387.2 160v-1.3M387.2 18.2v1.3M424.1 160v-1.3M424.1 18.2v1.3M442.9 160v-1.3M442.9 18.2v1.3M456.2 160v-1.3M456.2 18.2v1.3M466.5 160v-1.3M466.5 18.2v1.3" stroke="#9a9a9a" stroke-width="0.5" fill="none"/><text x="269.5" y="164" font-size="10.5" text-anchor="end" font-weight="normal" fill="#262626" >0</text><text x="269.5" y="135.6" font-size="10.5" text-anchor="end" font-weight="normal" fill="#262626" >10</text><text x="269.5" y="107.3" font-size="10.5" text-anchor="end" font-weight="normal" fill="#262626" >20</text><text x="269.5" y="78.9" font-size="10.5" text-anchor="end" font-weight="normal" fill="#262626" >30</text><text x="269.5" y="50.6" font-size="10.5" text-anchor="end" font-weight="normal" fill="#262626" >40</text><text x="269.5" y="22.2" font-size="10.5" text-anchor="end" font-weight="normal" fill="#262626" >50</text><text x="286.7" y="177" font-size="10" text-anchor="middle" fill="#262626">10<tspan font-size="8.8" dy="-5.8">3</tspan></text><text x="393.1" y="177" font-size="10" text-anchor="middle" fill="#262626">10<tspan font-size="8.8" dy="-5.8">4</tspan></text><text x="370.5" y="189.6" font-size="10.8" text-anchor="middle" font-weight="normal" fill="#262626" >Resistance (&#937;)</text><text transform="translate(253.6,88) rotate(-90)" font-size="10.6" text-anchor="middle" fill="#262626">Cumulative Probability (%)</text><text x="232.6" y="12.9" font-size="16" text-anchor="start" font-weight="bold" fill="#000" >b</text><path d="M272.5 154.7L274.8 158.7H270.2ZM278.2 151.8L280.5 155.8H275.9ZM279.7 149.0L282.0 153.0H277.4ZM280.5 146.2L282.8 150.2H278.2ZM281.2 143.3L283.5 147.3H278.9ZM282.0 140.5L284.3 144.5H279.7ZM282.9 137.7L285.2 141.7H280.6ZM283.7 134.8L286.0 138.8H281.4ZM284.6 132.0L286.9 136.0H282.3ZM285.6 129.2L287.9 133.2H283.3ZM286.6 126.3L288.9 130.3H284.3ZM287.7 123.5L290.0 127.5H285.4ZM288.7 120.7L291.0 124.7H286.4ZM290.1 117.8L292.4 121.8H287.8ZM292.0 115.0L294.3 119.0H289.7ZM293.5 112.1L295.8 116.1H291.2ZM294.2 109.3L296.5 113.3H291.9ZM295.0 106.5L297.3 110.5H292.7ZM295.7 103.6L298.0 107.6H293.4ZM296.4 100.8L298.7 104.8H294.1ZM297.1 98.0L299.4 102.0H294.8ZM297.5 95.1L299.8 99.1H295.2ZM297.7 92.3L300.0 96.3H295.4ZM297.9 89.5L300.2 93.5H295.6ZM298.1 86.6L300.4 90.6H295.8ZM298.3 83.8L300.6 87.8H296.0ZM299.0 80.9L301.3 84.9H296.7ZM300.1 78.1L302.4 82.1H297.8ZM301.3 75.3L303.6 79.3H299.0ZM302.4 72.4L304.7 76.4H300.1ZM302.9 69.6L305.2 73.6H300.6ZM303.0 66.8L305.3 70.8H300.7ZM303.1 63.9L305.4 67.9H300.8ZM303.2 61.1L305.5 65.1H300.9ZM303.4 58.3L305.7 62.3H301.1ZM303.5 55.4L305.8 59.4H301.2ZM303.6 52.6L305.9 56.6H301.3ZM303.7 49.8L306.0 53.8H301.4ZM303.8 46.9L306.1 50.9H301.5ZM303.9 44.1L306.2 48.1H301.6ZM304.1 41.2L306.4 45.2H301.8ZM304.2 38.4L306.5 42.4H301.9ZM304.3 35.6L306.6 39.6H302.0ZM304.4 32.7L306.7 36.7H302.1ZM304.5 29.9L306.8 33.9H302.2ZM304.6 27.1L306.9 31.1H302.3ZM305.5 24.2L307.8 28.2H303.2ZM307.4 21.4L309.7 25.4H305.1ZM309.7 18.6L312.0 22.6H307.4ZM311.3 15.7L313.6 19.7H309.0Z" fill="none" stroke="#0000ff" stroke-width="0.9"/><path d="M382.8 157.2a2.2 2.2 0 1 1 -4.4 0a2.2 2.2 0 1 1 4.4 0M384.4 154.3a2.2 2.2 0 1 1 -4.4 0a2.2 2.2 0 1 1 4.4 0M385.9 151.5a2.2 2.2 0 1 1 -4.4 0a2.2 2.2 0 1 1 4.4 0M387.5 148.7a2.2 2.2 0 1 1 -4.4 0a2.2 2.2 0 1 1 4.4 0M389.0 145.8a2.2 2.2 0 1 1 -4.4 0a2.2 2.2 0 1 1 4.4 0M396.2 143.0a2.2 2.2 0 1 1 -4.4 0a2.2 2.2 0 1 1 4.4 0M396.6 140.1a2.2 2.2 0 1 1 -4.4 0a2.2 2.2 0 1 1 4.4 0M396.9 137.3a2.2 2.2 0 1 1 -4.4 0a2.2 2.2 0 1 1 4.4 0M397.3 134.5a2.2 2.2 0 1 1 -4.4 0a2.2 2.2 0 1 1 4.4 0M397.7 131.6a2.2 2.2 0 1 1 -4.4 0a2.2 2.2 0 1 1 4.4 0M398.1 128.8a2.2 2.2 0 1 1 -4.4 0a2.2 2.2 0 1 1 4.4 0M399.0 126.0a2.2 2.2 0 1 1 -4.4 0a2.2 2.2 0 1 1 4.4 0M400.4 123.1a2.2 2.2 0 1 1 -4.4 0a2.2 2.2 0 1 1 4.4 0M402.0 120.3a2.2 2.2 0 1 1 -4.4 0a2.2 2.2 0 1 1 4.4 0M403.6 117.5a2.2 2.2 0 1 1 -4.4 0a2.2 2.2 0 1 1 4.4 0M405.3 114.6a2.2 2.2 0 1 1 -4.4 0a2.2 2.2 0 1 1 4.4 0M407.2 111.8a2.2 2.2 0 1 1 -4.4 0a2.2 2.2 0 1 1 4.4 0M408.8 109.0a2.2 2.2 0 1 1 -4.4 0a2.2 2.2 0 1 1 4.4 0M409.3 106.1a2.2 2.2 0 1 1 -4.4 0a2.2 2.2 0 1 1 4.4 0M409.8 103.3a2.2 2.2 0 1 1 -4.4 0a2.2 2.2 0 1 1 4.4 0M410.3 100.4a2.2 2.2 0 1 1 -4.4 0a2.2 2.2 0 1 1 4.4 0M410.8 97.6a2.2 2.2 0 1 1 -4.4 0a2.2 2.2 0 1 1 4.4 0M411.1 94.8a2.2 2.2 0 1 1 -4.4 0a2.2 2.2 0 1 1 4.4 0M411.5 91.9a2.2 2.2 0 1 1 -4.4 0a2.2 2.2 0 1 1 4.4 0M411.9 89.1a2.2 2.2 0 1 1 -4.4 0a2.2 2.2 0 1 1 4.4 0M412.1 86.3a2.2 2.2 0 1 1 -4.4 0a2.2 2.2 0 1 1 4.4 0M412.4 83.4a2.2 2.2 0 1 1 -4.4 0a2.2 2.2 0 1 1 4.4 0M412.8 80.6a2.2 2.2 0 1 1 -4.4 0a2.2 2.2 0 1 1 4.4 0M414.7 77.8a2.2 2.2 0 1 1 -4.4 0a2.2 2.2 0 1 1 4.4 0M416.1 74.9a2.2 2.2 0 1 1 -4.4 0a2.2 2.2 0 1 1 4.4 0M416.8 72.1a2.2 2.2 0 1 1 -4.4 0a2.2 2.2 0 1 1 4.4 0M417.4 69.2a2.2 2.2 0 1 1 -4.4 0a2.2 2.2 0 1 1 4.4 0M417.8 66.4a2.2 2.2 0 1 1 -4.4 0a2.2 2.2 0 1 1 4.4 0M418.2 63.6a2.2 2.2 0 1 1 -4.4 0a2.2 2.2 0 1 1 4.4 0M418.6 60.7a2.2 2.2 0 1 1 -4.4 0a2.2 2.2 0 1 1 4.4 0M418.9 57.9a2.2 2.2 0 1 1 -4.4 0a2.2 2.2 0 1 1 4.4 0M419.3 55.1a2.2 2.2 0 1 1 -4.4 0a2.2 2.2 0 1 1 4.4 0M419.7 52.2a2.2 2.2 0 1 1 -4.4 0a2.2 2.2 0 1 1 4.4 0M420.2 49.4a2.2 2.2 0 1 1 -4.4 0a2.2 2.2 0 1 1 4.4 0M421.1 46.6a2.2 2.2 0 1 1 -4.4 0a2.2 2.2 0 1 1 4.4 0M422.2 43.7a2.2 2.2 0 1 1 -4.4 0a2.2 2.2 0 1 1 4.4 0M423.2 40.9a2.2 2.2 0 1 1 -4.4 0a2.2 2.2 0 1 1 4.4 0M424.8 38.1a2.2 2.2 0 1 1 -4.4 0a2.2 2.2 0 1 1 4.4 0M426.7 35.2a2.2 2.2 0 1 1 -4.4 0a2.2 2.2 0 1 1 4.4 0M430.6 32.4a2.2 2.2 0 1 1 -4.4 0a2.2 2.2 0 1 1 4.4 0M438.9 29.5a2.2 2.2 0 1 1 -4.4 0a2.2 2.2 0 1 1 4.4 0M444.5 26.7a2.2 2.2 0 1 1 -4.4 0a2.2 2.2 0 1 1 4.4 0M446.5 23.9a2.2 2.2 0 1 1 -4.4 0a2.2 2.2 0 1 1 4.4 0M448.2 21.0a2.2 2.2 0 1 1 -4.4 0a2.2 2.2 0 1 1 4.4 0M448.8 20.2a2.2 2.2 0 1 1 -4.4 0a2.2 2.2 0 1 1 4.4 0" fill="none" stroke="#0000ff" stroke-width="0.85"/><path d="M425.4 133.1a2.2 2.2 0 1 1 -4.4 0a2.2 2.2 0 1 1 4.4 0M423.2 142.4L425.5 146.4H420.9Z" fill="none" stroke="#0000ff" stroke-width="0.75"/><text x="434" y="136.6" font-size="10" text-anchor="start" font-weight="normal" fill="#262626" >HRS</text><text x="434" y="148.4" font-size="10" text-anchor="start" font-weight="normal" fill="#262626" >LRS</text><path d="M532.4 159.3V142.4h2V159.3M534.4 159.3V108.6h2V159.3M536.4 159.3V69.1h2V159.3M538.4 159.3V97.3h2V159.3M540.4 159.3V108.6h2V159.3M542.4 159.3V153.7h2V159.3M651.2 159.3V114.2h2.02V159.3M653.2 159.3V108.6h2.02V159.3M655.2 159.3V35.3h2.02V159.3M657.3 159.3V119.8h2.02V159.3M659.3 159.3V142.4h2.02V159.3" fill="#5252ea" stroke="#23239a" stroke-width="0.45"/><rect x="512.7" y="18.4" width="197.9" height="140.9" fill="none" stroke="#9a9a9a" stroke-width="0.8"/><path d="M562.2 159.3v-2.0M562.2 18.4v2.0M611.6 159.3v-2.0M611.6 18.4v2.0M661.1 159.3v-2.0M661.1 18.4v2.0" stroke="#9a9a9a" stroke-width="0.6" fill="none"/><path d="M512.7 131.1h2.0M710.6 131.1h-2.0M512.7 102.9h2.0M710.6 102.9h-2.0M512.7 74.8h2.0M710.6 74.8h-2.0M512.7 46.6h2.0M710.6 46.6h-2.0" stroke="#9a9a9a" stroke-width="0.6" fill="none"/><text x="512.7" y="173.4" font-size="10.5" text-anchor="middle" font-weight="normal" fill="#262626" >-1</text><text x="562.2" y="173.4" font-size="10.5" text-anchor="middle" font-weight="normal" fill="#262626" >-0.5</text><text x="611.6" y="173.4" font-size="10.5" text-anchor="middle" font-weight="normal" fill="#262626" >0</text><text x="661.1" y="173.4" font-size="10.5" text-anchor="middle" font-weight="normal" fill="#262626" >0.5</text><text x="710.6" y="173.4" font-size="10.5" text-anchor="middle" font-weight="normal" fill="#262626" >1</text><text x="509" y="163.1" font-size="10.5" text-anchor="end" font-weight="normal" fill="#262626" >0</text><text x="509" y="134.9" font-size="10.5" text-anchor="end" font-weight="normal" fill="#262626" >5</text><text x="509" y="106.7" font-size="10.5" text-anchor="end" font-weight="normal" fill="#262626" >10</text><text x="509" y="78.6" font-size="10.5" text-anchor="end" font-weight="normal" fill="#262626" >15</text><text x="509" y="50.4" font-size="10.5" text-anchor="end" font-weight="normal" fill="#262626" >20</text><text x="509" y="22.2" font-size="10.5" text-anchor="end" font-weight="normal" fill="#262626" >25</text><text transform="translate(493.2,88.5) rotate(-90)" font-size="10.5" text-anchor="middle" fill="#262626">Counts</text><g fill="#262626" font-size="11"><text x="568.6" y="186.6" font-style="italic">V</text><text x="575.5" y="191.3" font-size="8.4">reset</text><text x="597.8" y="186.6">and</text><text x="622.4" y="186.6" font-style="italic">V</text><text x="629.3" y="191.3" font-size="8.4">set</text><text x="644.5" y="186.6">(V)</text></g><text x="524.4" y="58.8" font-size="11.5" fill="#000">V<tspan font-size="7.4" dy="2.4">reset</tspan></text><text x="662.8" y="43.2" font-size="11.5" fill="#000">V<tspan font-size="7.4" dy="2.3">set</tspan></text><text x="481.3" y="13.5" font-size="16" text-anchor="start" font-weight="bold" fill="#000" >c</text><rect x="37.5" y="214.5" width="188.9" height="144.8" fill="none" stroke="#9a9a9a" stroke-width="0.8"/><path d="M84.7 359.3v-2.2M84.7 214.5v2.2M131.9 359.3v-2.2M131.9 214.5v2.2M179.1 359.3v-2.2M179.1 214.5v2.2" stroke="#9a9a9a" stroke-width="0.6" fill="none"/><path d="M51.7 359.3v-1.3M51.7 214.5v1.3M60 359.3v-1.3M60 214.5v1.3M65.9 359.3v-1.3M65.9 214.5v1.3M70.5 359.3v-1.3M70.5 214.5v1.3M74.2 359.3v-1.3M74.2 214.5v1.3M77.4 359.3v-1.3M77.4 214.5v1.3M80.1 359.3v-1.3M80.1 214.5v1.3M82.5 359.3v-1.3M82.5 214.5v1.3M98.9 359.3v-1.3M98.9 214.5v1.3M107.2 359.3v-1.3M107.2 214.5v1.3M113.1 359.3v-1.3M113.1 214.5v1.3M117.7 359.3v-1.3M117.7 214.5v1.3M121.4 359.3v-1.3M121.4 214.5v1.3M124.6 359.3v-1.3M124.6 214.5v1.3M127.3 359.3v-1.3M127.3 214.5v1.3M129.7 359.3v-1.3M129.7 214.5v1.3M146.1 359.3v-1.3M146.1 214.5v1.3M154.4 359.3v-1.3M154.4 214.5v1.3M160.3 359.3v-1.3M160.3 214.5v1.3M164.9 359.3v-1.3M164.9 214.5v1.3M168.6 359.3v-1.3M168.6 214.5v1.3M171.8 359.3v-1.3M171.8 214.5v1.3M174.5 359.3v-1.3M174.5 214.5v1.3M176.9 359.3v-1.3M176.9 214.5v1.3M193.3 359.3v-1.3M193.3 214.5v1.3M201.6 359.3v-1.3M201.6 214.5v1.3M207.5 359.3v-1.3M207.5 214.5v1.3M212.1 359.3v-1.3M212.1 214.5v1.3M215.8 359.3v-1.3M215.8 214.5v1.3M219 359.3v-1.3M219 214.5v1.3M221.7 359.3v-1.3M221.7 214.5v1.3M224.1 359.3v-1.3M224.1 214.5v1.3" stroke="#9a9a9a" stroke-width="0.5" fill="none"/><path d="M37.5 323.1h2.2M226.4 323.1h-2.2M37.5 286.9h2.2M226.4 286.9h-2.2M37.5 250.7h2.2M226.4 250.7h-2.2" stroke="#9a9a9a" stroke-width="0.6" fill="none"/><path d="M37.5 348.4h1.3M226.4 348.4h-1.3M37.5 342h1.3M226.4 342h-1.3M37.5 337.5h1.3M226.4 337.5h-1.3M37.5 334h1.3M226.4 334h-1.3M37.5 331.1h1.3M226.4 331.1h-1.3M37.5 328.7h1.3M226.4 328.7h-1.3M37.5 326.6h1.3M226.4 326.6h-1.3M37.5 324.8h1.3M226.4 324.8h-1.3M37.5 312.2h1.3M226.4 312.2h-1.3M37.5 305.8h1.3M226.4 305.8h-1.3M37.5 301.3h1.3M226.4 301.3h-1.3M37.5 297.8h1.3M226.4 297.8h-1.3M37.5 294.9h1.3M226.4 294.9h-1.3M37.5 292.5h1.3M226.4 292.5h-1.3M37.5 290.4h1.3M226.4 290.4h-1.3M37.5 288.6h1.3M226.4 288.6h-1.3M37.5 276h1.3M226.4 276h-1.3M37.5 269.6h1.3M226.4 269.6h-1.3M37.5 265.1h1.3M226.4 265.1h-1.3M37.5 261.6h1.3M226.4 261.6h-1.3M37.5 258.7h1.3M226.4 258.7h-1.3M37.5 256.3h1.3M226.4 256.3h-1.3M37.5 254.2h1.3M226.4 254.2h-1.3M37.5 252.4h1.3M226.4 252.4h-1.3M37.5 239.8h1.3M226.4 239.8h-1.3M37.5 233.4h1.3M226.4 233.4h-1.3M37.5 228.9h1.3M226.4 228.9h-1.3M37.5 225.4h1.3M226.4 225.4h-1.3M37.5 222.5h1.3M226.4 222.5h-1.3M37.5 220.1h1.3M226.4 220.1h-1.3M37.5 218h1.3M226.4 218h-1.3M37.5 216.2h1.3M226.4 216.2h-1.3" stroke="#9a9a9a" stroke-width="0.5" fill="none"/><text x="33.6" y="220.2" font-size="10.4" text-anchor="end" fill="#262626">10<tspan font-size="8.3" dy="-5.0">-3</tspan></text><text x="33.6" y="256.4" font-size="10.4" text-anchor="end" fill="#262626">10<tspan font-size="8.3" dy="-5.0">-4</tspan></text><text x="33.6" y="292.6" font-size="10.4" text-anchor="end" fill="#262626">10<tspan font-size="8.3" dy="-5.0">-5</tspan></text><text x="33.6" y="328.8" font-size="10.4" text-anchor="end" fill="#262626">10<tspan font-size="8.3" dy="-5.0">-6</tspan></text><text x="33.6" y="365" font-size="10.4" text-anchor="end" fill="#262626">10<tspan font-size="8.3" dy="-5.0">-7</tspan></text><text x="85.5" y="376.6" font-size="10.6" text-anchor="middle" fill="#262626">10<tspan font-size="8.8" dy="-5.6">1</tspan></text><text x="132.7" y="376.6" font-size="10.6" text-anchor="middle" fill="#262626">10<tspan font-size="8.8" dy="-5.6">2</tspan></text><text x="179.9" y="376.6" font-size="10.6" text-anchor="middle" fill="#262626">10<tspan font-size="8.8" dy="-5.6">3</tspan></text><text x="227.1" y="376.6" font-size="10.6" text-anchor="middle" fill="#262626">10<tspan font-size="8.8" dy="-5.6">4</tspan></text><text x="132" y="389.5" font-size="10.5" text-anchor="middle" font-weight="normal" fill="#262626" >Retention time (s)</text><text transform="translate(11.2,286.5) rotate(-90)" font-size="10.5" text-anchor="middle" fill="#262626">Current (A)</text><text x="1.3" y="204" font-size="16" text-anchor="start" font-weight="bold" fill="#000" >d</text><path d="M37.3 257.8L39.6 261.8H35.0ZM51.9 257.8L54.2 261.8H49.6ZM61.5 257.8L63.8 261.8H59.2ZM68.8 257.8L71.1 261.8H66.5ZM74.6 257.8L76.9 261.8H72.3ZM79.4 257.8L81.7 261.8H77.1ZM83.5 257.8L85.8 261.8H81.2ZM87.1 257.8L89.4 261.8H84.8ZM90.4 257.8L92.7 261.8H88.1ZM93.3 257.8L95.6 261.8H91.0ZM95.9 257.8L98.2 261.8H93.6ZM98.3 257.8L100.6 261.8H96.0ZM100.6 257.8L102.9 261.8H98.3ZM102.8 257.8L105.1 261.8H100.5ZM105.0 257.8L107.3 261.8H102.7ZM107.2 257.8L109.5 261.8H104.9ZM109.4 257.8L111.7 261.8H107.1ZM111.6 257.8L113.9 261.8H109.3ZM113.8 257.8L116.1 261.8H111.5ZM116.0 257.8L118.3 261.8H113.7ZM118.2 257.8L120.5 261.8H115.9ZM120.4 257.8L122.7 261.8H118.1ZM122.6 257.8L124.9 261.8H120.3ZM124.8 257.8L127.1 261.8H122.5ZM127.0 257.8L129.3 261.8H124.7ZM129.2 257.8L131.5 261.8H126.9ZM131.4 257.8L133.7 261.8H129.1ZM133.6 257.8L135.9 261.8H131.3ZM135.8 257.8L138.1 261.8H133.5ZM138.0 257.8L140.3 261.8H135.7ZM140.2 257.8L142.5 261.8H137.9ZM142.4 257.8L144.7 261.8H140.1ZM144.6 257.8L146.9 261.8H142.3ZM146.8 257.8L149.1 261.8H144.5ZM149.0 257.8L151.3 261.8H146.7ZM151.2 258.0L153.5 262.0H148.9ZM153.4 258.7L155.7 262.7H151.1ZM155.6 259.7L157.9 263.7H153.3ZM157.8 259.6L160.1 263.6H155.5ZM160.0 258.6L162.3 262.6H157.7ZM162.2 258.0L164.5 262.0H159.9ZM164.4 257.8L166.7 261.8H162.1ZM166.6 257.8L168.9 261.8H164.3ZM168.8 257.8L171.1 261.8H166.5ZM171.0 257.8L173.3 261.8H168.7ZM173.2 257.8L175.5 261.8H170.9ZM175.4 257.8L177.7 261.8H173.1ZM177.6 257.8L179.9 261.8H175.3ZM179.8 257.8L182.1 261.8H177.5ZM182.0 257.8L184.3 261.8H179.7ZM184.2 257.8L186.5 261.8H181.9ZM186.4 257.8L188.7 261.8H184.1ZM188.6 257.8L190.9 261.8H186.3ZM190.8 257.8L193.1 261.8H188.5ZM193.0 257.8L195.3 261.8H190.7ZM195.2 257.9L197.5 261.9H192.9ZM197.4 258.6L199.7 262.6H195.1ZM199.6 259.0L201.9 263.0H197.3ZM201.8 259.0L204.1 263.0H199.5ZM204.0 260.5L206.3 264.5H201.7ZM206.2 259.6L208.5 263.6H203.9ZM208.4 258.1L210.7 262.1H206.1ZM210.6 257.8L212.9 261.8H208.3ZM212.8 257.8L215.1 261.8H210.5ZM215.0 257.8L217.3 261.8H212.7ZM217.2 257.8L219.5 261.8H214.9ZM219.4 257.8L221.7 261.8H217.1ZM221.6 257.8L223.9 261.8H219.3ZM223.8 257.8L226.1 261.8H221.5ZM226.0 257.8L228.3 261.8H223.7ZM226.4 257.8L228.7 261.8H224.1Z" fill="none" stroke="#0000ff" stroke-width="1.1"/><path d="M39.2 292.5a1.9 1.9 0 1 1 -3.8 0a1.9 1.9 0 1 1 3.8 0M53.8 292.5a1.9 1.9 0 1 1 -3.8 0a1.9 1.9 0 1 1 3.8 0M63.4 292.5a1.9 1.9 0 1 1 -3.8 0a1.9 1.9 0 1 1 3.8 0M70.7 292.5a1.9 1.9 0 1 1 -3.8 0a1.9 1.9 0 1 1 3.8 0M76.5 292.5a1.9 1.9 0 1 1 -3.8 0a1.9 1.9 0 1 1 3.8 0M81.3 292.5a1.9 1.9 0 1 1 -3.8 0a1.9 1.9 0 1 1 3.8 0M85.4 292.5a1.9 1.9 0 1 1 -3.8 0a1.9 1.9 0 1 1 3.8 0M89.0 292.5a1.9 1.9 0 1 1 -3.8 0a1.9 1.9 0 1 1 3.8 0M92.3 292.5a1.9 1.9 0 1 1 -3.8 0a1.9 1.9 0 1 1 3.8 0M95.2 292.5a1.9 1.9 0 1 1 -3.8 0a1.9 1.9 0 1 1 3.8 0M97.8 292.3a1.9 1.9 0 1 1 -3.8 0a1.9 1.9 0 1 1 3.8 0M100.2 292.4a1.9 1.9 0 1 1 -3.8 0a1.9 1.9 0 1 1 3.8 0M102.5 292.5a1.9 1.9 0 1 1 -3.8 0a1.9 1.9 0 1 1 3.8 0M104.7 292.7a1.9 1.9 0 1 1 -3.8 0a1.9 1.9 0 1 1 3.8 0M106.9 292.8a1.9 1.9 0 1 1 -3.8 0a1.9 1.9 0 1 1 3.8 0M109.1 292.9a1.9 1.9 0 1 1 -3.8 0a1.9 1.9 0 1 1 3.8 0M111.3 292.9a1.9 1.9 0 1 1 -3.8 0a1.9 1.9 0 1 1 3.8 0M113.5 293.0a1.9 1.9 0 1 1 -3.8 0a1.9 1.9 0 1 1 3.8 0M115.7 293.0a1.9 1.9 0 1 1 -3.8 0a1.9 1.9 0 1 1 3.8 0M117.9 293.0a1.9 1.9 0 1 1 -3.8 0a1.9 1.9 0 1 1 3.8 0M120.1 293.0a1.9 1.9 0 1 1 -3.8 0a1.9 1.9 0 1 1 3.8 0M122.3 292.9a1.9 1.9 0 1 1 -3.8 0a1.9 1.9 0 1 1 3.8 0M124.5 292.8a1.9 1.9 0 1 1 -3.8 0a1.9 1.9 0 1 1 3.8 0M126.7 292.7a1.9 1.9 0 1 1 -3.8 0a1.9 1.9 0 1 1 3.8 0M128.9 292.6a1.9 1.9 0 1 1 -3.8 0a1.9 1.9 0 1 1 3.8 0M131.1 292.5a1.9 1.9 0 1 1 -3.8 0a1.9 1.9 0 1 1 3.8 0M133.3 292.3a1.9 1.9 0 1 1 -3.8 0a1.9 1.9 0 1 1 3.8 0M135.5 292.2a1.9 1.9 0 1 1 -3.8 0a1.9 1.9 0 1 1 3.8 0M137.7 292.1a1.9 1.9 0 1 1 -3.8 0a1.9 1.9 0 1 1 3.8 0M139.9 292.1a1.9 1.9 0 1 1 -3.8 0a1.9 1.9 0 1 1 3.8 0M142.1 292.0a1.9 1.9 0 1 1 -3.8 0a1.9 1.9 0 1 1 3.8 0M144.3 292.0a1.9 1.9 0 1 1 -3.8 0a1.9 1.9 0 1 1 3.8 0M146.5 292.0a1.9 1.9 0 1 1 -3.8 0a1.9 1.9 0 1 1 3.8 0M148.7 292.1a1.9 1.9 0 1 1 -3.8 0a1.9 1.9 0 1 1 3.8 0M150.9 292.1a1.9 1.9 0 1 1 -3.8 0a1.9 1.9 0 1 1 3.8 0M153.1 292.2a1.9 1.9 0 1 1 -3.8 0a1.9 1.9 0 1 1 3.8 0M155.3 292.3a1.9 1.9 0 1 1 -3.8 0a1.9 1.9 0 1 1 3.8 0M157.5 292.4a1.9 1.9 0 1 1 -3.8 0a1.9 1.9 0 1 1 3.8 0M159.7 292.6a1.9 1.9 0 1 1 -3.8 0a1.9 1.9 0 1 1 3.8 0M161.9 292.7a1.9 1.9 0 1 1 -3.8 0a1.9 1.9 0 1 1 3.8 0M164.1 292.8a1.9 1.9 0 1 1 -3.8 0a1.9 1.9 0 1 1 3.8 0M166.3 292.9a1.9 1.9 0 1 1 -3.8 0a1.9 1.9 0 1 1 3.8 0M168.5 292.9a1.9 1.9 0 1 1 -3.8 0a1.9 1.9 0 1 1 3.8 0M170.7 292.9a1.9 1.9 0 1 1 -3.8 0a1.9 1.9 0 1 1 3.8 0M172.9 292.9a1.9 1.9 0 1 1 -3.8 0a1.9 1.9 0 1 1 3.8 0M175.1 292.8a1.9 1.9 0 1 1 -3.8 0a1.9 1.9 0 1 1 3.8 0M177.3 292.7a1.9 1.9 0 1 1 -3.8 0a1.9 1.9 0 1 1 3.8 0M179.5 292.6a1.9 1.9 0 1 1 -3.8 0a1.9 1.9 0 1 1 3.8 0M181.7 292.4a1.9 1.9 0 1 1 -3.8 0a1.9 1.9 0 1 1 3.8 0M183.9 292.3a1.9 1.9 0 1 1 -3.8 0a1.9 1.9 0 1 1 3.8 0M186.1 292.1a1.9 1.9 0 1 1 -3.8 0a1.9 1.9 0 1 1 3.8 0M188.3 292.0a1.9 1.9 0 1 1 -3.8 0a1.9 1.9 0 1 1 3.8 0M190.5 291.9a1.9 1.9 0 1 1 -3.8 0a1.9 1.9 0 1 1 3.8 0M192.7 291.9a1.9 1.9 0 1 1 -3.8 0a1.9 1.9 0 1 1 3.8 0M194.9 291.8a1.9 1.9 0 1 1 -3.8 0a1.9 1.9 0 1 1 3.8 0M197.1 291.8a1.9 1.9 0 1 1 -3.8 0a1.9 1.9 0 1 1 3.8 0M199.3 291.9a1.9 1.9 0 1 1 -3.8 0a1.9 1.9 0 1 1 3.8 0M201.5 291.9a1.9 1.9 0 1 1 -3.8 0a1.9 1.9 0 1 1 3.8 0M203.7 292.0a1.9 1.9 0 1 1 -3.8 0a1.9 1.9 0 1 1 3.8 0M205.9 292.0a1.9 1.9 0 1 1 -3.8 0a1.9 1.9 0 1 1 3.8 0M208.1 292.1a1.9 1.9 0 1 1 -3.8 0a1.9 1.9 0 1 1 3.8 0M210.3 292.2a1.9 1.9 0 1 1 -3.8 0a1.9 1.9 0 1 1 3.8 0M212.5 292.4a1.9 1.9 0 1 1 -3.8 0a1.9 1.9 0 1 1 3.8 0M214.7 292.5a1.9 1.9 0 1 1 -3.8 0a1.9 1.9 0 1 1 3.8 0M216.9 292.6a1.9 1.9 0 1 1 -3.8 0a1.9 1.9 0 1 1 3.8 0M219.1 292.7a1.9 1.9 0 1 1 -3.8 0a1.9 1.9 0 1 1 3.8 0M221.3 292.8a1.9 1.9 0 1 1 -3.8 0a1.9 1.9 0 1 1 3.8 0M223.5 292.9a1.9 1.9 0 1 1 -3.8 0a1.9 1.9 0 1 1 3.8 0M225.7 293.0a1.9 1.9 0 1 1 -3.8 0a1.9 1.9 0 1 1 3.8 0M227.9 293.0a1.9 1.9 0 1 1 -3.8 0a1.9 1.9 0 1 1 3.8 0M228.3 293.0a1.9 1.9 0 1 1 -3.8 0a1.9 1.9 0 1 1 3.8 0" fill="none" stroke="#0000ff" stroke-width="1.1"/><path d="M188 225.5a2 2 0 1 1 -4 0a2 2 0 1 1 4 0M186.0 233.8L188.3 237.8H183.7Z" fill="none" stroke="#0000ff" stroke-width="1.2"/><text x="195.7" y="228.8" font-size="9.5" text-anchor="start" font-weight="normal" fill="#262626" >HRS</text><text x="195.7" y="239.3" font-size="9.5" text-anchor="start" font-weight="normal" fill="#262626" >LRS</text><path d="M272.5 326.9 274.5 295.0 276.4 281.9 278.4 277.8 280.3 274.8 282.3 271.6 284.2 268.8 286.2 267.2 288.1 265.8 290.1 264.5 292.0 262.8 294.0 261.3 295.9 261.1 297.9 260.8 299.8 259.4 301.8 257.6 303.7 256.8 305.7 256.4 307.7 255.0 309.6 254.6 311.6 253.5 313.5 251.9 315.5 251.0 317.4 250.4 319.4 249.5 321.3 249.4 323.3 249.0 325.2 249.0 327.2 248.6 329.1 248.5 331.1 248.2 333.0 248.0 335.0 247.5 336.9 247.1 338.9 246.5 340.9 245.2 342.8 245.8 344.8 244.6 346.7 244.4 348.7 244.8 350.6 244.5 352.6 244.1 354.5 243.0 356.5 243.3 358.4 242.7 360.4 242.2 362.3 242.7 364.3 243.0 366.2 242.1 368.2 241.1 370.1 240.0 372.1 239.2 374.1 240.8 376.0 243.6 378.0 245.5 379.9 248.5 381.9 250.8 383.8 252.6 385.8 255.4 387.7 256.5 389.7 258.8 391.6 260.7 393.6 261.1 395.5 263.4 397.5 265.5 399.4 266.3 401.4 268.7 403.4 270.8 405.3 272.3 407.3 274.0 409.2 275.5 411.2 277.2 413.1 278.3 415.1 279.6 417.0 281.2 419.0 283.7 420.9 286.2 422.9 289.4 424.8 291.0 426.8 294.0 428.7 295.1 430.7 295.5 432.6 297.6 434.6 299.4 436.6 301.0 438.5 301.7 440.5 303.5 442.4 304.8 444.4 306.4 446.3 307.7 448.3 308.1 450.2 309.9 452.2 310.9 454.1 311.7 456.1 311.9 458.0 313.4 460.0 316.0 461.9 316.3 463.9 316.5 465.8 317.0 467.8 318.5M272.5 326.9 274.5 307.9 276.4 295.4 278.4 289.7 280.3 284.0 282.3 281.3 284.2 279.3 286.2 275.8 288.1 273.5 290.1 271.1 292.0 269.1 294.0 267.7 295.9 266.0 297.9 264.7 299.8 264.6 301.8 263.4 303.7 262.3 305.7 260.3 307.7 260.2 309.6 259.4 311.6 259.0 313.5 258.4 315.5 256.8 317.4 256.0 319.4 255.7 321.3 255.1 323.3 254.2 325.2 254.3 327.2 254.0 329.1 252.6 331.1 251.6 333.0 251.2 335.0 251.0 336.9 250.7 338.9 251.2 340.9 250.2 342.8 249.6 344.8 249.1 346.7 249.5 348.7 249.6 350.6 248.9 352.6 248.3 354.5 248.2 356.5 247.5 358.4 246.5 360.4 246.4 362.3 246.2 364.3 246.3 366.2 246.5 368.2 245.5 370.1 244.7 372.1 244.1 374.1 246.7 376.0 250.1 378.0 252.8 379.9 255.6 381.9 257.7 383.8 260.2 385.8 261.7 387.7 262.4 389.7 263.3 391.6 264.1 393.6 265.9 395.5 267.1 397.5 269.1 399.4 270.3 401.4 272.3 403.4 274.4 405.3 276.7 407.3 278.2 409.2 280.0 411.2 281.8 413.1 284.5 415.1 286.4 417.0 289.3 419.0 290.4 420.9 292.6 422.9 294.5 424.8 296.6 426.8 299.5 428.7 302.1 430.7 303.7 432.6 304.2 434.6 306.3 436.6 308.0 438.5 309.3 440.5 311.6 442.4 313.9 444.4 315.5 446.3 316.8 448.3 318.2 450.2 318.5 452.2 319.6 454.1 320.4 456.1 320.2 458.0 319.9 460.0 322.5 461.9 323.4 463.9 323.4 465.8 324.7 467.8 325.8M272.5 326.9 274.5 300.4 276.4 297.6 278.4 294.1 280.3 292.6 282.3 290.3 284.2 288.4 286.2 286.3 288.1 284.8 290.1 284.7 292.0 283.4 294.0 283.8 295.9 283.4 297.9 282.4 299.8 281.4 301.8 279.7 303.7 280.5 305.7 279.6 307.7 278.6 309.6 278.2 311.6 277.3 313.5 277.5 315.5 276.6 317.4 275.9 319.4 276.1 321.3 276.1 323.3 275.8 325.2 275.8 327.2 274.8 329.1 274.3 331.1 273.1 333.0 272.0 335.0 271.6 336.9 271.4 338.9 271.6 340.9 271.8 342.8 272.0 344.8 271.4 346.7 271.6 348.7 271.2 350.6 270.7 352.6 270.7 354.5 270.4 356.5 269.1 358.4 267.7 360.4 267.8 362.3 267.4 364.3 267.1 366.2 266.8 368.2 265.4 370.1 264.5 372.1 263.3 374.1 264.0 376.0 267.1 378.0 269.9 379.9 272.3 381.9 273.8 383.8 275.9 385.8 277.4 387.7 278.5 389.7 279.6 391.6 281.1 393.6 283.3 395.5 286.0 397.5 287.0 399.4 288.4 401.4 290.8 403.4 292.9 405.3 295.0 407.3 297.8 409.2 299.6 411.2 301.9 413.1 304.0 415.1 305.4 417.0 307.4 419.0 309.0 420.9 310.7 422.9 312.7 424.8 314.6 426.8 315.2 428.7 317.0 430.7 317.4 432.6 319.3 434.6 320.2 436.6 321.2 438.5 322.8 440.5 325.6 442.4 325.8 444.4 327.7 446.3 329.4 448.3 330.5 450.2 331.5 452.2 332.3 454.1 333.3 456.1 334.9 458.0 335.0 460.0 334.2 461.9 334.6 463.9 334.8 465.8 334.7 467.8 335.4M272.5 326.9 274.5 317.5 276.4 308.7 278.4 302.0 280.3 297.1 282.3 291.7 284.2 287.1 286.2 285.1 288.1 282.3 290.1 280.8 292.0 278.7 294.0 277.2 295.9 275.3 297.9 274.0 299.8 272.5 301.8 271.7 303.7 272.5 305.7 272.4 307.7 272.3 309.6 271.9 311.6 272.0 313.5 270.5 315.5 270.1 317.4 268.9 319.4 268.7 321.3 267.3 323.3 267.6 325.2 266.9 327.2 267.4 329.1 266.8 331.1 265.5 333.0 266.1 335.0 266.3 336.9 265.9 338.9 265.7 340.9 266.2 342.8 265.2 344.8 264.8 346.7 263.7 348.7 263.2 350.6 263.6 352.6 263.5 354.5 262.3 356.5 262.8 358.4 262.7 360.4 261.9 362.3 260.8 364.3 259.8 366.2 260.2 368.2 258.4 370.1 258.1 372.1 257.6 374.1 259.5 376.0 262.4 378.0 265.7 379.9 268.3 381.9 269.7 383.8 272.5 385.8 275.9 387.7 277.4 389.7 278.9 391.6 280.3 393.6 280.9 395.5 283.0 397.5 284.6 399.4 286.0 401.4 286.9 403.4 288.0 405.3 290.3 407.3 293.0 409.2 295.0 411.2 297.8 413.1 299.0 415.1 301.0 417.0 303.1 419.0 305.6 420.9 306.5 422.9 308.3 424.8 310.4 426.8 311.7 428.7 313.4 430.7 314.4 432.6 314.9 434.6 316.3 436.6 317.1 438.5 317.9 440.5 318.2 442.4 318.9 444.4 320.0 446.3 321.5 448.3 322.3 450.2 324.0 452.2 324.4 454.1 325.2 456.1 325.5 458.0 326.4 460.0 327.1 461.9 328.0 463.9 327.9 465.8 328.5 467.8 329.1M272.5 326.9 274.5 304.9 276.4 294.3 278.4 290.3 280.3 287.1 282.3 283.5 284.2 280.9 286.2 278.2 288.1 275.5 290.1 273.5 292.0 273.5 294.0 273.1 295.9 272.9 297.9 272.7 299.8 273.3 301.8 273.9 303.7 273.8 305.7 273.7 307.7 272.9 309.6 272.6 311.6 271.4 313.5 272.2 315.5 272.7 317.4 272.3 319.4 272.2 321.3 272.6 323.3 271.9 325.2 271.0 327.2 270.0 329.1 270.0 331.1 269.8 333.0 269.4 335.0 269.1 336.9 268.3 338.9 268.3 340.9 267.9 342.8 269.0 344.8 268.3 346.7 267.1 348.7 266.8 350.6 265.9 352.6 266.7 354.5 266.6 356.5 267.2 358.4 266.6 360.4 265.9 362.3 266.3 364.3 266.4 366.2 266.3 368.2 264.3 370.1 263.8 372.1 263.4 374.1 265.0 376.0 267.6 378.0 270.3 379.9 273.6 381.9 276.2 383.8 277.1 385.8 278.8 387.7 280.8 389.7 283.3 391.6 285.1 393.6 286.7 395.5 288.8 397.5 289.8 399.4 291.8 401.4 293.5 403.4 294.6 405.3 296.2 407.3 297.2 409.2 299.1 411.2 301.1 413.1 302.5 415.1 304.1 417.0 305.1 419.0 306.6 420.9 308.4 422.9 309.9 424.8 311.2 426.8 313.5 428.7 315.1 430.7 316.6 432.6 316.9 434.6 318.3 436.6 318.6 438.5 320.3 440.5 321.3 442.4 321.5 444.4 322.6 446.3 322.8 448.3 325.0 450.2 325.7 452.2 326.4 454.1 327.1 456.1 328.5 458.0 328.4 460.0 329.4 461.9 329.3 463.9 329.4 465.8 329.2 467.8 329.7M272.5 326.9 274.5 299.8 276.4 297.9 278.4 294.1 280.3 290.6 282.3 289.5 284.2 287.6 286.2 285.3 288.1 283.3 290.1 282.3 292.0 281.4 294.0 280.5 295.9 279.5 297.9 279.1 299.8 278.6 301.8 278.5 303.7 278.0 305.7 276.4 307.7 276.4 309.6 275.1 311.6 273.3 313.5 272.6 315.5 270.6 317.4 270.2 319.4 268.7 321.3 268.3 323.3 268.6 325.2 267.9 327.2 266.3 329.1 266.2 331.1 265.5 333.0 265.7 335.0 265.8 336.9 265.1 338.9 264.8 340.9 264.0 342.8 262.8 344.8 263.2 346.7 263.2 348.7 262.8 350.6 260.9 352.6 260.7 354.5 260.6 356.5 259.9 358.4 258.1 360.4 258.0 362.3 257.7 364.3 257.1 366.2 256.1 368.2 254.2 370.1 254.4 372.1 255.0 374.1 256.7 376.0 259.2 378.0 263.2 379.9 266.0 381.9 267.5 383.8 269.8 385.8 271.4 387.7 273.0 389.7 274.4 391.6 275.9 393.6 277.5 395.5 278.4 397.5 280.4 399.4 282.0 401.4 283.0 403.4 285.1 405.3 287.2 407.3 289.5 409.2 291.9 411.2 292.5 413.1 294.1 415.1 294.8 417.0 296.2 419.0 298.1 420.9 300.2 422.9 302.0 424.8 304.0 426.8 305.2 428.7 307.4 430.7 308.7 432.6 309.8 434.6 311.2 436.6 312.5 438.5 313.3 440.5 314.1 442.4 315.4 444.4 316.5 446.3 318.0 448.3 318.8 450.2 319.9 452.2 321.9 454.1 322.9 456.1 323.3 458.0 323.7 460.0 325.1 461.9 325.3 463.9 325.5 465.8 325.8 467.8 325.6M272.5 326.9 274.5 295.0 276.4 285.2 278.4 280.8 280.3 278.3 282.3 275.3 284.2 273.6 286.2 270.2 288.1 267.7 290.1 267.1 292.0 267.5 294.0 265.6 295.9 265.2 297.9 263.9 299.8 263.8 301.8 262.9 303.7 262.5 305.7 261.4 307.7 260.9 309.6 259.2 311.6 259.1 313.5 257.7 315.5 257.1 317.4 256.3 319.4 256.8 321.3 257.4 323.3 256.3 325.2 256.6 327.2 256.3 329.1 256.1 331.1 256.2 333.0 255.6 335.0 256.1 336.9 256.4 338.9 255.4 340.9 255.5 342.8 254.7 344.8 253.9 346.7 252.5 348.7 251.9 350.6 252.6 352.6 252.6 354.5 252.5 356.5 251.3 358.4 250.6 360.4 250.5 362.3 249.7 364.3 249.4 366.2 248.6 368.2 248.0 370.1 246.8 372.1 246.2 374.1 247.4 376.0 250.2 378.0 252.5 379.9 255.0 381.9 256.8 383.8 258.7 385.8 260.7 387.7 262.8 389.7 264.8 391.6 266.4 393.6 269.6 395.5 270.6 397.5 273.8 399.4 275.7 401.4 277.7 403.4 279.0 405.3 280.8 407.3 282.7 409.2 284.6 411.2 285.9 413.1 286.4 415.1 288.1 417.0 291.4 419.0 293.7 420.9 295.5 422.9 295.5 424.8 297.9 426.8 300.0 428.7 301.4 430.7 302.8 432.6 305.1 434.6 305.8 436.6 307.9 438.5 309.3 440.5 309.7 442.4 311.8 444.4 313.3 446.3 313.5 448.3 314.9 450.2 316.7 452.2 318.1 454.1 318.5 456.1 320.3 458.0 321.4 460.0 323.7 461.9 324.8 463.9 324.8 465.8 325.4 467.8 326.3M272.5 326.9 274.5 315.2 276.4 308.2 278.4 301.7 280.3 296.0 282.3 291.7 284.2 287.9 286.2 285.6 288.1 283.2 290.1 282.3 292.0 280.0 294.0 278.7 295.9 276.6 297.9 276.0 299.8 274.4 301.8 274.4 303.7 273.8 305.7 272.7 307.7 271.7 309.6 271.1 311.6 271.5 313.5 270.1 315.5 269.2 317.4 268.0 319.4 266.9 321.3 266.7 323.3 266.0 325.2 264.0 327.2 264.1 329.1 263.5 331.1 263.5 333.0 262.0 335.0 261.5 336.9 261.8 338.9 261.8 340.9 262.4 342.8 263.5 344.8 264.8 346.7 265.0 348.7 265.3 350.6 264.9 352.6 265.0 354.5 264.5 356.5 263.0 358.4 263.4 360.4 263.7 362.3 262.6 364.3 260.6 366.2 260.7 368.2 261.2 370.1 260.9 372.1 260.8 374.1 262.2 376.0 265.7 378.0 268.5 379.9 271.2 381.9 274.3 383.8 277.3 385.8 278.9 387.7 280.4 389.7 282.7 391.6 283.5 393.6 284.7 395.5 286.1 397.5 287.4 399.4 288.9 401.4 290.2 403.4 291.4 405.3 293.2 407.3 296.4 409.2 298.3 411.2 300.7 413.1 303.4 415.1 304.9 417.0 307.9 419.0 309.3 420.9 311.7 422.9 314.5 424.8 316.9 426.8 317.3 428.7 318.0 430.7 319.6 432.6 320.3 434.6 320.4 436.6 322.2 438.5 323.5 440.5 324.1 442.4 325.0 444.4 326.4 446.3 326.5 448.3 327.3 450.2 327.8 452.2 327.3 454.1 327.8 456.1 326.8 458.0 327.3 460.0 327.6 461.9 328.1 463.9 328.1 465.8 328.3 467.8 328.7M272.5 326.9 274.5 296.7 276.4 291.2 278.4 287.6 280.3 285.0 282.3 282.5 284.2 280.1 286.2 278.7 288.1 277.8 290.1 275.7 292.0 274.1 294.0 273.3 295.9 272.5 297.9 272.1 299.8 272.1 301.8 270.9 303.7 270.5 305.7 270.5 307.7 270.2 309.6 268.5 311.6 267.7 313.5 267.0 315.5 266.4 317.4 265.3 319.4 264.4 321.3 264.8 323.3 264.5 325.2 264.5 327.2 263.9 329.1 263.5 331.1 264.4 333.0 263.2 335.0 262.7 336.9 263.4 338.9 262.3 340.9 261.8 342.8 261.2 344.8 260.8 346.7 260.3 348.7 260.3 350.6 261.0 352.6 261.0 354.5 260.5 356.5 260.1 358.4 259.3 360.4 258.9 362.3 259.9 364.3 259.0 366.2 259.0 368.2 259.4 370.1 259.1 372.1 259.6 374.1 261.3 376.0 264.7 378.0 266.2 379.9 268.9 381.9 271.5 383.8 274.0 385.8 277.3 387.7 279.7 389.7 282.1 391.6 284.2 393.6 287.4 395.5 289.2 397.5 290.2 399.4 292.2 401.4 294.1 403.4 295.7 405.3 298.1 407.3 300.3 409.2 301.7 411.2 303.5 413.1 306.3 415.1 309.4 417.0 309.9 419.0 311.7 420.9 314.8 422.9 316.8 424.8 318.3 426.8 320.2 428.7 323.1 430.7 323.5 432.6 324.6 434.6 326.1 436.6 326.9 438.5 328.3 440.5 329.8 442.4 330.5 444.4 333.0 446.3 333.6 448.3 334.6 450.2 335.2 452.2 335.7 454.1 335.7 456.1 335.6 458.0 335.7 460.0 334.5 461.9 334.8 463.9 335.6 465.8 336.7 467.8 337.1M272.5 326.9 274.5 293.5 276.4 284.1 278.4 279.7 280.3 277.6 282.3 275.0 284.2 273.2 286.2 271.5 288.1 270.6 290.1 269.4 292.0 268.0 294.0 267.1 295.9 266.1 297.9 265.9 299.8 264.2 301.8 264.0 303.7 263.4 305.7 262.4 307.7 262.0 309.6 261.0 311.6 260.4 313.5 258.9 315.5 258.2 317.4 257.5 319.4 257.7 321.3 257.1 323.3 256.1 325.2 255.5 327.2 255.7 329.1 255.8 331.1 255.6 333.0 255.2 335.0 255.8 336.9 254.3 338.9 254.0 340.9 253.6 342.8 253.6 344.8 253.3 346.7 251.8 348.7 252.1 350.6 252.1 352.6 252.4 354.5 252.4 356.5 251.0 358.4 251.0 360.4 250.9 362.3 251.5 364.3 251.3 366.2 250.6 368.2 250.4 370.1 250.2 372.1 249.3 374.1 250.8 376.0 253.6 378.0 256.7 379.9 260.1 381.9 261.2 383.8 264.1 385.8 265.6 387.7 267.5 389.7 269.7 391.6 270.9 393.6 273.1 395.5 273.9 397.5 276.2 399.4 277.6 401.4 278.4 403.4 280.8 405.3 281.2 407.3 282.4 409.2 285.6 411.2 286.5 413.1 287.1 415.1 289.1 417.0 291.0 419.0 292.7 420.9 295.7 422.9 297.5 424.8 298.7 426.8 300.8 428.7 301.6 430.7 301.6 432.6 304.1 434.6 306.4 436.6 307.9 438.5 308.6 440.5 309.4 442.4 311.0 444.4 312.7 446.3 314.2 448.3 314.1 450.2 315.7 452.2 316.9 454.1 317.0 456.1 317.8 458.0 318.9 460.0 320.0 461.9 320.3 463.9 321.0 465.8 321.6 467.8 321.7M272.5 326.9 274.5 303.5 276.4 296.8 278.4 292.3 280.3 288.4 282.3 284.7 284.2 281.0 286.2 278.8 288.1 277.3 290.1 275.3 292.0 274.2 294.0 271.7 295.9 270.3 297.9 269.1 299.8 267.4 301.8 266.7 303.7 265.9 305.7 265.1 307.7 263.8 309.6 262.2 311.6 260.9 313.5 259.7 315.5 259.2 317.4 258.3 319.4 257.8 321.3 256.4 323.3 256.2 325.2 255.7 327.2 255.0 329.1 254.0 331.1 253.9 333.0 253.5 335.0 253.5 336.9 253.8 338.9 252.6 340.9 251.8 342.8 252.3 344.8 252.4 346.7 251.6 348.7 251.6 350.6 251.8 352.6 250.5 354.5 250.4 356.5 250.1 358.4 249.3 360.4 249.2 362.3 248.7 364.3 248.0 366.2 247.0 368.2 246.9 370.1 245.7 372.1 245.1 374.1 245.8 376.0 248.5 378.0 251.5 379.9 254.3 381.9 257.1 383.8 259.2 385.8 261.1 387.7 262.4 389.7 264.3 391.6 266.6 393.6 267.8 395.5 269.9 397.5 271.5 399.4 272.4 401.4 273.4 403.4 275.7 405.3 277.7 407.3 278.8 409.2 280.2 411.2 281.9 413.1 283.3 415.1 286.7 417.0 288.9 419.0 291.9 420.9 294.5 422.9 296.9 424.8 298.6 426.8 299.9 428.7 301.2 430.7 302.7 432.6 304.5 434.6 305.2 436.6 306.4 438.5 308.9 440.5 310.3 442.4 311.3 444.4 313.3 446.3 314.6 448.3 315.0 450.2 316.4 452.2 317.7 454.1 318.8 456.1 320.4 458.0 321.6 460.0 323.7 461.9 324.5 463.9 325.7 465.8 325.9 467.8 326.8M272.5 326.9 274.5 298.5 276.4 294.7 278.4 291.2 280.3 288.3 282.3 286.1 284.2 284.2 286.2 281.9 288.1 281.0 290.1 280.8 292.0 280.0 294.0 278.8 295.9 279.4 297.9 277.7 299.8 276.8 301.8 275.6 303.7 275.4 305.7 274.7 307.7 272.9 309.6 271.1 311.6 270.2 313.5 269.8 315.5 269.4 317.4 268.0 319.4 268.0 321.3 268.2 323.3 267.8 325.2 266.8 327.2 267.1 329.1 266.5 331.1 265.9 333.0 265.4 335.0 265.1 336.9 264.1 338.9 263.4 340.9 264.0 342.8 262.6 344.8 262.0 346.7 261.5 348.7 261.4 350.6 261.3 352.6 262.5 354.5 262.3 356.5 261.6 358.4 260.8 360.4 260.9 362.3 261.9 364.3 262.2 366.2 262.0 368.2 260.7 370.1 261.3 372.1 261.0 374.1 262.5 376.0 265.0 378.0 267.9 379.9 272.1 381.9 274.0 383.8 276.0 385.8 277.7 387.7 280.2 389.7 282.4 391.6 283.4 393.6 285.3 395.5 287.1 397.5 289.4 399.4 290.4 401.4 293.3 403.4 295.5 405.3 297.2 407.3 299.2 409.2 300.6 411.2 302.3 413.1 303.4 415.1 305.6 417.0 307.7 419.0 309.6 420.9 312.8 422.9 314.0 424.8 316.6 426.8 317.8 428.7 318.7 430.7 319.7 432.6 321.0 434.6 322.8 436.6 325.5 438.5 326.4 440.5 327.8 442.4 328.0 444.4 329.5 446.3 330.4 448.3 331.9 450.2 332.8 452.2 334.1 454.1 335.2 456.1 337.2 458.0 338.4 460.0 336.6 461.9 336.6 463.9 337.1 465.8 338.3 467.8 338.2M272.5 326.9 274.5 297.8 276.4 286.7 278.4 282.1 280.3 279.7 282.3 277.2 284.2 275.5 286.2 273.2 288.1 271.8 290.1 269.4 292.0 267.6 294.0 266.0 295.9 265.2 297.9 264.1 299.8 262.7 301.8 262.4 303.7 260.8 305.7 260.2 307.7 258.7 309.6 256.7 311.6 255.1 313.5 255.3 315.5 254.0 317.4 253.7 319.4 253.6 321.3 253.3 323.3 253.6 325.2 253.1 327.2 253.1 329.1 252.0 331.1 251.5 333.0 252.7 335.0 253.0 336.9 253.2 338.9 253.3 340.9 253.4 342.8 252.9 344.8 252.7 346.7 253.0 348.7 252.4 350.6 251.5 352.6 251.1 354.5 250.0 356.5 249.3 358.4 249.3 360.4 249.1 362.3 248.6 364.3 247.8 366.2 247.2 368.2 246.1 370.1 244.9 372.1 245.1 374.1 247.7 376.0 250.6 378.0 253.0 379.9 254.9 381.9 256.6 383.8 258.3 385.8 260.7 387.7 262.3 389.7 264.6 391.6 266.1 393.6 267.3 395.5 269.5 397.5 271.4 399.4 271.5 401.4 273.8 403.4 275.9 405.3 278.4 407.3 281.2 409.2 282.4 411.2 284.8 413.1 287.0 415.1 289.5 417.0 293.1 419.0 294.6 420.9 297.0 422.9 299.0 424.8 300.1 426.8 302.0 428.7 303.6 430.7 305.0 432.6 305.6 434.6 307.7 436.6 309.3 438.5 311.8 440.5 313.0 442.4 313.8 444.4 315.2 446.3 315.1 448.3 315.6 450.2 315.5 452.2 316.3 454.1 316.1 456.1 317.1 458.0 317.5 460.0 319.6 461.9 320.4 463.9 320.1 465.8 319.9 467.8 320.8M272.5 326.9 274.5 297.8 276.4 292.1 278.4 288.1 280.3 285.5 282.3 283.2 284.2 280.3 286.2 278.2 288.1 275.0 290.1 272.1 292.0 271.3 294.0 270.0 295.9 270.3 297.9 269.7 299.8 269.4 301.8 269.0 303.7 269.5 305.7 268.5 307.7 267.7 309.6 267.5 311.6 266.9 313.5 265.7 315.5 264.1 317.4 264.4 319.4 262.9 321.3 263.5 323.3 263.5 325.2 263.3 327.2 261.8 329.1 261.0 331.1 260.2 333.0 258.7 335.0 258.1 336.9 258.0 338.9 256.6 340.9 256.4 342.8 256.8 344.8 257.5 346.7 257.0 348.7 255.4 350.6 254.5 352.6 254.1 354.5 252.9 356.5 253.5 358.4 252.7 360.4 252.6 362.3 251.3 364.3 251.3 366.2 250.3 368.2 249.6 370.1 249.1 372.1 248.3 374.1 250.2 376.0 252.2 378.0 255.0 379.9 258.8 381.9 260.1 383.8 261.3 385.8 262.9 387.7 263.9 389.7 265.3 391.6 267.7 393.6 270.8 395.5 273.2 397.5 275.2 399.4 276.6 401.4 279.3 403.4 281.8 405.3 282.7 407.3 285.1 409.2 287.5 411.2 290.1 413.1 291.0 415.1 292.5 417.0 294.0 419.0 295.0 420.9 296.5 422.9 297.7 424.8 299.5 426.8 300.9 428.7 302.3 430.7 303.4 432.6 305.6 434.6 307.2 436.6 308.7 438.5 310.4 440.5 311.7 442.4 311.9 444.4 312.6 446.3 313.8 448.3 314.9 450.2 315.2 452.2 317.1 454.1 317.8 456.1 317.7 458.0 317.3 460.0 319.2 461.9 319.6 463.9 321.1 465.8 322.1 467.8 322.9M272.5 326.9 274.5 305.6 276.4 297.3 278.4 292.6 280.3 288.5 282.3 285.1 284.2 282.2 286.2 279.3 288.1 276.6 290.1 275.2 292.0 274.6 294.0 273.9 295.9 273.3 297.9 272.5 299.8 272.6 301.8 272.4 303.7 271.9 305.7 270.4 307.7 269.5 309.6 269.1 311.6 268.1 313.5 267.6 315.5 267.0 317.4 266.0 319.4 265.5 321.3 265.1 323.3 264.3 325.2 264.3 327.2 264.0 329.1 265.0 331.1 265.0 333.0 263.8 335.0 263.7 336.9 263.4 338.9 263.4 340.9 263.7 342.8 263.1 344.8 262.9 346.7 261.9 348.7 262.1 350.6 261.8 352.6 261.7 354.5 261.7 356.5 260.7 358.4 260.8 360.4 260.8 362.3 258.8 364.3 258.3 366.2 258.0 368.2 257.2 370.1 257.3 372.1 256.7 374.1 259.3 376.0 262.4 378.0 265.4 379.9 267.0 381.9 268.7 383.8 269.5 385.8 270.3 387.7 272.6 389.7 274.0 391.6 276.0 393.6 278.1 395.5 279.1 397.5 279.8 399.4 281.4 401.4 282.8 403.4 284.4 405.3 285.9 407.3 287.5 409.2 289.9 411.2 291.3 413.1 293.5 415.1 296.1 417.0 298.0 419.0 299.7 420.9 301.0 422.9 302.7 424.8 304.3 426.8 306.4 428.7 307.7 430.7 308.9 432.6 310.0 434.6 311.6 436.6 311.6 438.5 312.2 440.5 312.8 442.4 313.8 444.4 315.0 446.3 315.5 448.3 317.3 450.2 318.5 452.2 319.5 454.1 319.9 456.1 320.7 458.0 320.3 460.0 322.7 461.9 322.3 463.9 322.6 465.8 322.5 467.8 323.3M272.5 326.9 274.5 292.7 276.4 287.9 278.4 286.1 280.3 283.8 282.3 282.0 284.2 279.6 286.2 278.3 288.1 276.7 290.1 274.7 292.0 274.2 294.0 272.1 295.9 271.1 297.9 270.4 299.8 270.4 301.8 270.7 303.7 269.4 305.7 268.9 307.7 268.6 309.6 267.3 311.6 266.3 313.5 265.6 315.5 265.9 317.4 266.6 319.4 265.5 321.3 265.1 323.3 264.8 325.2 263.1 327.2 262.9 329.1 262.2 331.1 260.4 333.0 259.6 335.0 259.5 336.9 259.6 338.9 258.4 340.9 258.7 342.8 257.8 344.8 256.4 346.7 256.1 348.7 255.1 350.6 254.7 352.6 253.4 354.5 252.8 356.5 252.8 358.4 252.1 360.4 251.6 362.3 251.5 364.3 251.1 366.2 251.3 368.2 251.3 370.1 250.5 372.1 251.2 374.1 252.9 376.0 255.7 378.0 258.7 379.9 260.3 381.9 262.1 383.8 264.5 385.8 266.3 387.7 267.5 389.7 270.4 391.6 272.1 393.6 274.0 395.5 275.6 397.5 276.0 399.4 278.2 401.4 280.2 403.4 282.8 405.3 284.5 407.3 286.1 409.2 289.6 411.2 290.6 413.1 291.6 415.1 295.3 417.0 298.2 419.0 300.0 420.9 302.0 422.9 303.3 424.8 305.5 426.8 306.6 428.7 309.2 430.7 310.5 432.6 312.3 434.6 313.9 436.6 316.4 438.5 317.9 440.5 318.3 442.4 320.0 444.4 321.4 446.3 322.6 448.3 324.4 450.2 325.4 452.2 326.1 454.1 327.3 456.1 329.3 458.0 329.1 460.0 329.0 461.9 329.7 463.9 330.4 465.8 331.3 467.8 332.8M272.5 326.9 274.5 304.5 276.4 297.7 278.4 292.9 280.3 288.8 282.3 286.2 284.2 283.1 286.2 281.1 288.1 278.5 290.1 277.4 292.0 275.9 294.0 274.8 295.9 273.3 297.9 272.0 299.8 270.8 301.8 270.0 303.7 268.5 305.7 267.2 307.7 266.8 309.6 265.5 311.6 265.1 313.5 264.3 315.5 263.6 317.4 263.0 319.4 261.9 321.3 262.4 323.3 261.0 325.2 261.5 327.2 260.1 329.1 259.2 331.1 259.6 333.0 258.8 335.0 258.4 336.9 258.6 338.9 257.3 340.9 256.1 342.8 255.4 344.8 253.8 346.7 253.2 348.7 252.9 350.6 251.6 352.6 251.5 354.5 250.5 356.5 249.3 358.4 248.6 360.4 248.0 362.3 247.1 364.3 246.4 366.2 246.2 368.2 247.9 370.1 247.6 372.1 248.1 374.1 249.2 376.0 252.3 378.0 254.7 379.9 256.7 381.9 258.1 383.8 260.7 385.8 261.2 387.7 262.4 389.7 263.8 391.6 266.2 393.6 266.7 395.5 268.0 397.5 269.0 399.4 270.9 401.4 271.5 403.4 272.4 405.3 274.3 407.3 274.9 409.2 277.5 411.2 278.9 413.1 280.5 415.1 282.0 417.0 284.4 419.0 286.7 420.9 288.2 422.9 289.6 424.8 291.6 426.8 293.7 428.7 295.8 430.7 296.6 432.6 298.2 434.6 300.0 436.6 302.5 438.5 305.0 440.5 307.0 442.4 309.7 444.4 311.3 446.3 312.8 448.3 314.8 450.2 316.3 452.2 317.6 454.1 319.8 456.1 320.3 458.0 322.9 460.0 323.2 461.9 324.7 463.9 325.3 465.8 326.2 467.8 326.8M272.5 326.9 274.5 298.9 276.4 290.3 278.4 285.6 280.3 283.2 282.3 280.8 284.2 278.9 286.2 276.9 288.1 275.1 290.1 273.2 292.0 271.9 294.0 271.0 295.9 269.8 297.9 268.3 299.8 266.9 301.8 264.9 303.7 264.6 305.7 263.8 307.7 264.0 309.6 263.9 311.6 263.0 313.5 261.8 315.5 261.6 317.4 260.9 319.4 260.5 321.3 259.8 323.3 259.3 325.2 259.3 327.2 260.3 329.1 260.9 331.1 260.3 333.0 260.1 335.0 258.4 336.9 258.0 338.9 257.1 340.9 257.5 342.8 258.1 344.8 257.7 346.7 256.3 348.7 255.7 350.6 255.6 352.6 255.0 354.5 254.2 356.5 253.5 358.4 253.1 360.4 253.3 362.3 253.6 364.3 253.4 366.2 253.0 368.2 253.3 370.1 251.8 372.1 251.1 374.1 253.2 376.0 255.5 378.0 256.7 379.9 259.0 381.9 261.0 383.8 262.3 385.8 265.1 387.7 267.2 389.7 269.5 391.6 270.8 393.6 273.6 395.5 275.1 397.5 277.1 399.4 278.9 401.4 281.0 403.4 281.8 405.3 284.1 407.3 286.7 409.2 288.4 411.2 290.6 413.1 292.1 415.1 294.0 417.0 295.8 419.0 297.7 420.9 300.7 422.9 303.9 424.8 304.5 426.8 307.0 428.7 308.3 430.7 310.5 432.6 311.8 434.6 313.2 436.6 313.5 438.5 314.7 440.5 316.8 442.4 318.8 444.4 319.7 446.3 320.3 448.3 320.1 450.2 319.7 452.2 321.5 454.1 322.4 456.1 323.9 458.0 324.2 460.0 324.7 461.9 326.1 463.9 326.1 465.8 326.2 467.8 326.9M272.5 326.9 274.5 296.0 276.4 281.6 278.4 276.6 280.3 274.3 282.3 272.1 284.2 269.6 286.2 267.2 288.1 265.1 290.1 264.2 292.0 262.2 294.0 260.8 295.9 260.7 297.9 260.3 299.8 259.4 301.8 259.4 303.7 258.6 305.7 257.7 307.7 257.2 309.6 256.1 311.6 254.4 313.5 254.2 315.5 253.3 317.4 253.1 319.4 251.6 321.3 250.3 323.3 249.9 325.2 249.8 327.2 248.8 329.1 248.4 331.1 248.8 333.0 249.0 335.0 248.6 336.9 246.9 338.9 245.8 340.9 244.5 342.8 243.5 344.8 242.3 346.7 241.0 348.7 241.3 350.6 240.5 352.6 239.7 354.5 239.0 356.5 238.3 358.4 239.4 360.4 238.9 362.3 239.2 364.3 238.1 366.2 237.9 368.2 237.6 370.1 237.2 372.1 238.0 374.1 240.0 376.0 243.6 378.0 245.7 379.9 248.5 381.9 251.4 383.8 252.6 385.8 254.7 387.7 257.2 389.7 259.1 391.6 261.1 393.6 262.7 395.5 265.1 397.5 266.2 399.4 267.7 401.4 268.5 403.4 270.0 405.3 272.5 407.3 273.7 409.2 275.8 411.2 277.7 413.1 281.2 415.1 283.9 417.0 285.1 419.0 286.4 420.9 289.6 422.9 291.4 424.8 293.2 426.8 294.3 428.7 296.7 430.7 299.3 432.6 300.6 434.6 302.3 436.6 304.0 438.5 305.8 440.5 306.3 442.4 308.1 444.4 308.7 446.3 309.6 448.3 311.2 450.2 311.7 452.2 312.0 454.1 312.7 456.1 313.7 458.0 313.9 460.0 317.3 461.9 317.6 463.9 317.4 465.8 318.7 467.8 320.3M272.5 326.9 274.5 311.1 276.4 306.4 278.4 301.7 280.3 297.9 282.3 294.4 284.2 291.0 286.2 288.6 288.1 286.1 290.1 283.8 292.0 282.0 294.0 280.7 295.9 278.7 297.9 278.1 299.8 276.4 301.8 274.9 303.7 273.4 305.7 272.9 307.7 271.5 309.6 270.5 311.6 270.6 313.5 270.2 315.5 270.4 317.4 269.6 319.4 268.2 321.3 267.2 323.3 267.3 325.2 267.5 327.2 267.2 329.1 266.8 331.1 265.9 333.0 265.7 335.0 264.6 336.9 264.5 338.9 263.4 340.9 263.9 342.8 263.9 344.8 263.4 346.7 262.5 348.7 261.8 350.6 262.0 352.6 262.4 354.5 262.0 356.5 261.6 358.4 261.4 360.4 260.9 362.3 261.2 364.3 260.4 366.2 259.2 368.2 259.3 370.1 259.3 372.1 258.1 374.1 259.3 376.0 262.5 378.0 265.6 379.9 269.2 381.9 271.0 383.8 272.9 385.8 274.8 387.7 275.2 389.7 277.1 391.6 279.0 393.6 280.6 395.5 282.4 397.5 283.4 399.4 285.3 401.4 286.9 403.4 287.3 405.3 289.5 407.3 292.1 409.2 293.9 411.2 296.2 413.1 298.5 415.1 300.3 417.0 301.7 419.0 304.6 420.9 306.7 422.9 310.0 424.8 311.4 426.8 313.9 428.7 315.2 430.7 315.6 432.6 316.2 434.6 317.2 436.6 319.7 438.5 319.7 440.5 321.2 442.4 321.9 444.4 323.5 446.3 324.8 448.3 325.0 450.2 327.1 452.2 328.9 454.1 330.0 456.1 330.2 458.0 332.4 460.0 331.1 461.9 331.9 463.9 332.1 465.8 331.3 467.8 331.7M272.5 326.9 274.5 313.7 276.4 297.4 278.4 290.6 280.3 285.3 282.3 280.9 284.2 276.3 286.2 273.7 288.1 270.7 290.1 267.4 292.0 266.3 294.0 265.7 295.9 263.8 297.9 262.9 299.8 262.1 301.8 260.6 303.7 259.4 305.7 258.9 307.7 258.2 309.6 258.4 311.6 258.0 313.5 257.4 315.5 256.5 317.4 255.5 319.4 253.9 321.3 253.4 323.3 252.3 325.2 251.7 327.2 251.8 329.1 251.2 331.1 250.5 333.0 249.7 335.0 248.9 336.9 248.4 338.9 248.6 340.9 248.4 342.8 247.8 344.8 247.0 346.7 246.1 348.7 245.5 350.6 244.7 352.6 243.4 354.5 242.9 356.5 242.8 358.4 243.3 360.4 242.8 362.3 241.9 364.3 241.6 366.2 240.2 368.2 240.2 370.1 240.0 372.1 239.6 374.1 242.3 376.0 244.4 378.0 247.6 379.9 250.8 381.9 254.1 383.8 255.6 385.8 256.7 387.7 259.2 389.7 262.0 391.6 264.1 393.6 265.9 395.5 268.0 397.5 269.5 399.4 271.9 401.4 272.4 403.4 274.0 405.3 275.3 407.3 277.5 409.2 278.8 411.2 279.7 413.1 282.1 415.1 284.0 417.0 285.3 419.0 287.1 420.9 289.7 422.9 292.0 424.8 293.7 426.8 295.3 428.7 297.5 430.7 298.8 432.6 301.6 434.6 302.9 436.6 303.6 438.5 304.3 440.5 305.8 442.4 306.9 444.4 308.0 446.3 309.3 448.3 311.0 450.2 313.0 452.2 314.5 454.1 316.2 456.1 318.4 458.0 318.5 460.0 321.3 461.9 322.3 463.9 323.3 465.8 324.9 467.8 325.5M272.5 326.9 274.5 307.8 276.4 295.7 278.4 290.2 280.3 285.2 282.3 280.7 284.2 276.1 286.2 274.1 288.1 271.1 290.1 268.7 292.0 267.3 294.0 266.8 295.9 264.1 297.9 262.3 299.8 262.4 301.8 260.5 303.7 259.4 305.7 258.4 307.7 257.2 309.6 257.0 311.6 256.4 313.5 255.3 315.5 255.5 317.4 255.9 319.4 256.5 321.3 255.6 323.3 255.9 325.2 255.7 327.2 255.6 329.1 254.9 331.1 254.3 333.0 254.4 335.0 253.2 336.9 252.5 338.9 252.0 340.9 251.9 342.8 251.8 344.8 251.6 346.7 251.3 348.7 250.6 350.6 250.0 352.6 249.8 354.5 249.5 356.5 248.7 358.4 247.5 360.4 246.3 362.3 245.8 364.3 246.1 366.2 245.5 368.2 244.9 370.1 244.3 372.1 243.6 374.1 245.7 376.0 248.4 378.0 252.5 379.9 253.9 381.9 256.0 383.8 258.2 385.8 259.7 387.7 261.7 389.7 263.9 391.6 265.2 393.6 266.8 395.5 269.0 397.5 270.2 399.4 271.6 401.4 273.1 403.4 275.0 405.3 276.1 407.3 278.5 409.2 279.8 411.2 280.7 413.1 283.1 415.1 284.8 417.0 287.8 419.0 289.7 420.9 292.7 422.9 295.4 424.8 297.2 426.8 298.3 428.7 299.5 430.7 301.1 432.6 302.9 434.6 304.1 436.6 303.7 438.5 304.0 440.5 305.9 442.4 307.5 444.4 309.5 446.3 310.2 448.3 311.5 450.2 313.4 452.2 314.4 454.1 315.6 456.1 316.9 458.0 317.7 460.0 319.4 461.9 320.3 463.9 321.0 465.8 322.2 467.8 322.9M272.5 326.9 274.5 293.6 276.4 287.2 278.4 284.2 280.3 281.0 282.3 279.0 284.2 277.5 286.2 275.5 288.1 274.7 290.1 273.7 292.0 273.2 294.0 272.2 295.9 271.4 297.9 269.4 299.8 268.2 301.8 267.4 303.7 266.3 305.7 265.7 307.7 264.9 309.6 263.8 311.6 262.9 313.5 261.5 315.5 260.6 317.4 260.5 319.4 259.9 321.3 260.1 323.3 258.3 325.2 259.1 327.2 258.7 329.1 257.9 331.1 258.1 333.0 257.9 335.0 256.8 336.9 257.1 338.9 256.1 340.9 255.9 342.8 255.7 344.8 254.1 346.7 253.2 348.7 252.5 350.6 252.3 352.6 251.8 354.5 251.4 356.5 249.9 358.4 249.3 360.4 249.2 362.3 249.0 364.3 248.2 366.2 248.4 368.2 248.3 370.1 248.8 372.1 249.8 374.1 250.2 376.0 253.1 378.0 254.6 379.9 256.6 381.9 258.6 383.8 261.2 385.8 263.1 387.7 264.8 389.7 267.1 391.6 268.4 393.6 269.4 395.5 270.7 397.5 272.3 399.4 275.0 401.4 275.0 403.4 276.2 405.3 278.8 407.3 281.3 409.2 283.6 411.2 286.0 413.1 287.9 415.1 290.3 417.0 292.0 419.0 294.3 420.9 296.4 422.9 299.1 424.8 300.9 426.8 302.5 428.7 304.6 430.7 307.1 432.6 308.4 434.6 310.8 436.6 312.5 438.5 313.3 440.5 313.7 442.4 315.0 444.4 316.0 446.3 316.3 448.3 318.1 450.2 319.4 452.2 320.2 454.1 320.2 456.1 321.7 458.0 323.1 460.0 323.7 461.9 323.6 463.9 324.5 465.8 325.0 467.8 325.1M272.5 326.9 274.5 303.2 276.4 302.3 278.4 298.8 280.3 297.0 282.3 294.2 284.2 292.9 286.2 290.0 288.1 287.9 290.1 285.3 292.0 285.1 294.0 284.0 295.9 282.1 297.9 280.4 299.8 279.1 301.8 277.9 303.7 276.7 305.7 275.3 307.7 273.4 309.6 273.8 311.6 273.8 313.5 273.5 315.5 272.8 317.4 272.0 319.4 271.7 321.3 271.2 323.3 270.2 325.2 269.0 327.2 269.0 329.1 268.7 331.1 268.2 333.0 266.1 335.0 266.1 336.9 265.5 338.9 265.0 340.9 264.8 342.8 263.8 344.8 263.5 346.7 263.4 348.7 263.0 350.6 262.4 352.6 262.4 354.5 262.4 356.5 261.3 358.4 261.2 360.4 260.2 362.3 259.8 364.3 259.9 366.2 260.1 368.2 260.7 370.1 259.8 372.1 259.0 374.1 261.1 376.0 264.7 378.0 267.7 379.9 270.2 381.9 271.6 383.8 274.1 385.8 277.1 387.7 278.9 389.7 281.1 391.6 283.5 393.6 286.6 395.5 288.0 397.5 289.0 399.4 291.5 401.4 294.3 403.4 296.6 405.3 298.8 407.3 300.4 409.2 302.4 411.2 305.6 413.1 307.5 415.1 309.4 417.0 311.8 419.0 313.8 420.9 316.8 422.9 319.2 424.8 322.2 426.8 324.2 428.7 325.6 430.7 328.6 432.6 330.1 434.6 331.2 436.6 332.4 438.5 332.8 440.5 334.2 442.4 334.3 444.4 335.6 446.3 337.7 448.3 339.2 450.2 340.9 452.2 341.3 454.1 341.3 456.1 341.2 458.0 341.6 460.0 339.2 461.9 340.2 463.9 341.4 465.8 341.8 467.8 343.1M272.5 326.9 274.5 296.0 276.4 290.2 278.4 286.1 280.3 284.0 282.3 282.1 284.2 279.6 286.2 277.0 288.1 274.2 290.1 272.8 292.0 271.0 294.0 271.1 295.9 269.8 297.9 268.3 299.8 266.8 301.8 266.3 303.7 264.6 305.7 262.8 307.7 262.1 309.6 261.3 311.6 260.9 313.5 260.5 315.5 259.9 317.4 260.1 319.4 260.5 321.3 260.1 323.3 260.0 325.2 258.9 327.2 258.6 329.1 258.7 331.1 259.4 333.0 259.2 335.0 259.4 336.9 260.1 338.9 258.5 340.9 259.3 342.8 257.9 344.8 255.5 346.7 255.1 348.7 254.9 350.6 254.1 352.6 254.3 354.5 253.7 356.5 252.8 358.4 253.1 360.4 251.7 362.3 251.1 364.3 250.4 366.2 249.1 368.2 249.4 370.1 249.7 372.1 249.1 374.1 250.8 376.0 253.7 378.0 256.5 379.9 259.1 381.9 261.9 383.8 264.7 385.8 267.1 387.7 268.9 389.7 270.5 391.6 273.1 393.6 273.9 395.5 274.2 397.5 275.8 399.4 278.1 401.4 280.0 403.4 281.4 405.3 283.3 407.3 284.1 409.2 286.2 411.2 287.6 413.1 289.3 415.1 289.9 417.0 291.6 419.0 293.4 420.9 296.0 422.9 298.3 424.8 301.2 426.8 301.0 428.7 302.8 430.7 304.5 432.6 306.0 434.6 307.1 436.6 308.1 438.5 310.5 440.5 311.0 442.4 312.2 444.4 313.6 446.3 313.7 448.3 314.8 450.2 316.5 452.2 318.1 454.1 318.6 456.1 319.5 458.0 320.2 460.0 322.6 461.9 323.2 463.9 324.1 465.8 325.2 467.8 325.2M272.5 326.9 274.5 295.6 276.4 291.6 278.4 288.2 280.3 285.7 282.3 282.5 284.2 279.9 286.2 278.3 288.1 275.8 290.1 274.6 292.0 273.4 294.0 273.2 295.9 272.2 297.9 270.8 299.8 270.1 301.8 269.2 303.7 267.5 305.7 266.8 307.7 266.4 309.6 264.5 311.6 264.3 313.5 265.1 315.5 265.3 317.4 264.8 319.4 265.0 321.3 265.1 323.3 264.9 325.2 264.5 327.2 264.1 329.1 263.6 331.1 262.4 333.0 259.8 335.0 258.6 336.9 257.6 338.9 257.6 340.9 257.1 342.8 257.3 344.8 256.8 346.7 257.1 348.7 256.0 350.6 254.2 352.6 253.2 354.5 251.0 356.5 251.3 358.4 250.2 360.4 249.8 362.3 249.2 364.3 249.3 366.2 248.8 368.2 248.4 370.1 248.3 372.1 247.2 374.1 248.5 376.0 250.6 378.0 253.6 379.9 256.5 381.9 259.4 383.8 260.9 385.8 262.3 387.7 264.2 389.7 266.5 391.6 268.3 393.6 269.8 395.5 271.2 397.5 273.2 399.4 274.3 401.4 275.3 403.4 277.7 405.3 279.5 407.3 281.4 409.2 284.2 411.2 286.5 413.1 288.4 415.1 289.7 417.0 292.2 419.0 294.5 420.9 296.8 422.9 299.2 424.8 302.1 426.8 303.6 428.7 305.5 430.7 306.9 432.6 308.0 434.6 309.7 436.6 311.7 438.5 313.5 440.5 315.2 442.4 317.1 444.4 318.6 446.3 320.9 448.3 322.5 450.2 324.1 452.2 325.1 454.1 325.9 456.1 325.7 458.0 325.8 460.0 326.2 461.9 326.8 463.9 327.5 465.8 328.0 467.8 328.8M272.5 326.9 274.5 299.2 276.4 296.3 278.4 291.0 280.3 288.1 282.3 284.9 284.2 283.4 286.2 281.0 288.1 279.4 290.1 277.3 292.0 276.3 294.0 275.9 295.9 274.4 297.9 273.4 299.8 273.3 301.8 272.4 303.7 272.1 305.7 270.8 307.7 270.0 309.6 269.0 311.6 268.9 313.5 267.4 315.5 267.1 317.4 266.3 319.4 265.9 321.3 265.3 323.3 265.5 325.2 264.9 327.2 264.1 329.1 264.4 331.1 263.2 333.0 263.3 335.0 263.2 336.9 263.1 338.9 261.8 340.9 261.7 342.8 261.5 344.8 260.8 346.7 260.3 348.7 259.1 350.6 258.9 352.6 258.9 354.5 258.9 356.5 258.9 358.4 258.0 360.4 257.1 362.3 256.8 364.3 256.3 366.2 257.2 368.2 256.1 370.1 255.3 372.1 256.2 374.1 258.3 376.0 261.2 378.0 262.9 379.9 265.2 381.9 266.6 383.8 267.6 385.8 269.0 387.7 271.4 389.7 274.1 391.6 276.1 393.6 277.4 395.5 278.8 397.5 281.4 399.4 282.7 401.4 285.0 403.4 287.0 405.3 288.3 407.3 290.1 409.2 292.3 411.2 294.8 413.1 296.7 415.1 298.4 417.0 300.5 419.0 303.0 420.9 304.8 422.9 306.3 424.8 309.0 426.8 310.5 428.7 312.6 430.7 314.3 432.6 315.2 434.6 317.3 436.6 318.7 438.5 318.8 440.5 319.2 442.4 320.8 444.4 322.7 446.3 323.2 448.3 324.3 450.2 325.2 452.2 327.3 454.1 328.2 456.1 330.0 458.0 330.9 460.0 329.6 461.9 329.6 463.9 329.4 465.8 329.9 467.8 330.4M272.5 326.9 274.5 294.3 276.4 279.4 278.4 275.4 280.3 271.8 282.3 269.7 284.2 267.5 286.2 266.0 288.1 264.8 290.1 263.3 292.0 261.6 294.0 259.2 295.9 257.8 297.9 257.5 299.8 257.3 301.8 257.3 303.7 256.6 305.7 256.4 307.7 255.8 309.6 255.9 311.6 254.2 313.5 253.8 315.5 252.8 317.4 252.5 319.4 250.5 321.3 250.9 323.3 250.1 325.2 248.8 327.2 248.3 329.1 247.2 331.1 246.7 333.0 245.5 335.0 245.1 336.9 243.5 338.9 244.0 340.9 243.0 342.8 242.9 344.8 242.7 346.7 241.8 348.7 241.8 350.6 241.7 352.6 240.9 354.5 241.1 356.5 240.7 358.4 239.6 360.4 239.5 362.3 238.2 364.3 238.3 366.2 237.5 368.2 236.9 370.1 237.2 372.1 236.3 374.1 238.9 376.0 240.8 378.0 242.5 379.9 245.3 381.9 247.3 383.8 249.4 385.8 252.2 387.7 254.5 389.7 256.3 391.6 258.1 393.6 259.0 395.5 261.0 397.5 263.1 399.4 264.3 401.4 265.6 403.4 267.5 405.3 269.1 407.3 271.3 409.2 273.3 411.2 276.5 413.1 279.5 415.1 280.8 417.0 283.1 419.0 285.8 420.9 287.5 422.9 288.1 424.8 289.4 426.8 290.9 428.7 292.5 430.7 292.9 432.6 293.1 434.6 294.2 436.6 295.6 438.5 296.6 440.5 297.4 442.4 298.6 444.4 300.1 446.3 301.6 448.3 303.6 450.2 304.8 452.2 305.6 454.1 307.3 456.1 308.6 458.0 308.6 460.0 313.0 461.9 313.4 463.9 314.5 465.8 316.0 467.8 316.4M272.5 326.9 274.5 291.1 276.4 283.5 278.4 280.2 280.3 277.0 282.3 274.6 284.2 271.9 286.2 269.2 288.1 268.1 290.1 266.9 292.0 266.0 294.0 264.7 295.9 264.9 297.9 263.4 299.8 263.4 301.8 262.4 303.7 261.9 305.7 261.4 307.7 260.4 309.6 260.5 311.6 259.5 313.5 259.2 315.5 259.5 317.4 258.4 319.4 258.6 321.3 257.8 323.3 257.6 325.2 257.4 327.2 256.1 329.1 255.5 331.1 255.2 333.0 254.2 335.0 254.1 336.9 252.7 338.9 252.7 340.9 251.9 342.8 251.9 344.8 251.1 346.7 251.3 348.7 251.0 350.6 250.1 352.6 250.6 354.5 250.3 356.5 249.7 358.4 249.5 360.4 249.3 362.3 248.4 364.3 247.4 366.2 247.9 368.2 248.0 370.1 249.2 372.1 248.9 374.1 250.4 376.0 253.8 378.0 257.3 379.9 259.5 381.9 262.1 383.8 262.9 385.8 264.0 387.7 267.1 389.7 268.6 391.6 270.1 393.6 271.5 395.5 273.3 397.5 276.0 399.4 277.8 401.4 280.0 403.4 280.8 405.3 282.4 407.3 283.6 409.2 286.2 411.2 288.3 413.1 290.4 415.1 293.0 417.0 295.4 419.0 298.5 420.9 300.5 422.9 303.3 424.8 305.3 426.8 307.0 428.7 309.1 430.7 311.2 432.6 312.3 434.6 313.3 436.6 315.0 438.5 315.7 440.5 318.7 442.4 320.0 444.4 321.1 446.3 322.5 448.3 324.9 450.2 326.1 452.2 326.7 454.1 327.6 456.1 329.4 458.0 330.2 460.0 329.1 461.9 329.2 463.9 329.1 465.8 329.8 467.8 330.2M272.5 326.9 274.5 291.7 276.4 285.3 278.4 283.6 280.3 281.0 282.3 279.7 284.2 277.7 286.2 276.6 288.1 274.3 290.1 273.3 292.0 271.8 294.0 271.9 295.9 271.3 297.9 270.6 299.8 270.8 301.8 270.5 303.7 270.2 305.7 269.6 307.7 269.0 309.6 269.5 311.6 268.3 313.5 267.5 315.5 267.5 317.4 266.5 319.4 266.2 321.3 266.3 323.3 266.7 325.2 268.0 327.2 267.5 329.1 266.5 331.1 265.8 333.0 265.1 335.0 263.5 336.9 264.1 338.9 263.3 340.9 261.8 342.8 261.5 344.8 260.0 346.7 259.8 348.7 259.8 350.6 260.7 352.6 259.9 354.5 259.0 356.5 258.3 358.4 257.7 360.4 256.7 362.3 256.4 364.3 256.9 366.2 256.2 368.2 255.3 370.1 253.1 372.1 252.9 374.1 254.6 376.0 258.5 378.0 262.3 379.9 265.4 381.9 266.6 383.8 268.5 385.8 270.3 387.7 272.5 389.7 274.1 391.6 275.4 393.6 276.7 395.5 278.5 397.5 280.0 399.4 281.5 401.4 282.8 403.4 284.3 405.3 286.3 407.3 289.0 409.2 290.7 411.2 292.6 413.1 294.6 415.1 296.7 417.0 299.3 419.0 300.6 420.9 303.0 422.9 305.0 424.8 307.2 426.8 309.9 428.7 311.1 430.7 313.6 432.6 315.0 434.6 316.5 436.6 317.7 438.5 319.6 440.5 320.1 442.4 320.5 444.4 321.2 446.3 322.7 448.3 324.7 450.2 324.5 452.2 326.7 454.1 328.4 456.1 328.9 458.0 329.3 460.0 329.7 461.9 330.0 463.9 331.3 465.8 331.4 467.8 331.9" stroke="#4d4dff" stroke-width="0.45" fill="none" stroke-opacity="0.45"/><path d="M272.5 326.7 274.5 324.7 276.4 322.7 278.4 321.9 280.3 321.0 282.3 320.2 284.2 319.7 286.2 318.8 288.1 318.4 290.1 318.0 292.0 317.4 294.0 317.3 295.9 316.8 297.9 316.5 299.8 316.1 301.8 315.9 303.7 315.8 305.7 315.4 307.7 315.1 309.6 314.8 311.6 314.6 313.5 314.3 315.5 314.4 317.4 314.5 319.4 314.6 321.3 314.8 323.3 315.0 325.2 315.0 327.2 315.0 329.1 314.9 331.1 314.8 333.0 314.8 335.0 314.7 336.9 314.7 338.9 314.8 340.9 314.8 342.8 314.7 344.8 314.8 346.7 314.8 348.7 314.7 350.6 314.5 352.6 314.3 354.5 314.3 356.5 314.2 358.4 314.1 360.4 313.6 362.3 313.9 364.3 313.7 366.2 313.5 368.2 313.3 370.1 313.4 372.1 313.1 374.1 313.6 376.0 316.7 378.0 317.6 379.9 318.5 381.9 319.1 383.8 319.6 385.8 319.9 387.7 320.2 389.7 320.5 391.6 320.8 393.6 321.0 395.5 321.2 397.5 321.6 399.4 321.7 401.4 322.1 403.4 322.4 405.3 322.6 407.3 322.7 409.2 322.6 411.2 323.0 413.1 322.9 415.1 322.8 417.0 323.0 419.0 323.2 420.9 323.4 422.9 323.6 424.8 323.9 426.8 324.2 428.7 324.4 430.7 324.5 432.6 324.3 434.6 324.6 436.6 325.0 438.5 325.1 440.5 325.3 442.4 325.4 444.4 325.6 446.3 325.9 448.3 326.2 450.2 326.2 452.2 326.4 454.1 326.7 456.1 326.7 458.0 327.1 460.0 327.3 461.9 327.4 463.9 327.8 465.8 328.1 467.8 328.3M272.5 327.1 274.5 325.3 276.4 324.1 278.4 322.7 280.3 321.8 282.3 320.9 284.2 320.3 286.2 319.6 288.1 318.9 290.1 318.5 292.0 318.2 294.0 318.0 295.9 317.6 297.9 317.4 299.8 317.3 301.8 316.8 303.7 316.3 305.7 316.1 307.7 315.8 309.6 315.7 311.6 315.5 313.5 315.4 315.5 315.4 317.4 315.4 319.4 315.3 321.3 315.4 323.3 315.4 325.2 315.3 327.2 315.0 329.1 314.9 331.1 314.8 333.0 314.4 335.0 314.5 336.9 314.5 338.9 314.4 340.9 314.2 342.8 314.0 344.8 314.3 346.7 314.2 348.7 314.0 350.6 313.9 352.6 313.7 354.5 313.4 356.5 313.3 358.4 313.3 360.4 313.4 362.3 313.2 364.3 313.1 366.2 313.1 368.2 313.1 370.1 313.0 372.1 312.9 374.1 313.6 376.0 316.7 378.0 317.6 379.9 318.3 381.9 319.2 383.8 319.6 385.8 320.3 387.7 320.8 389.7 321.1 391.6 321.3 393.6 321.6 395.5 322.0 397.5 322.2 399.4 322.7 401.4 322.8 403.4 323.1 405.3 323.1 407.3 323.3 409.2 323.6 411.2 323.8 413.1 323.9 415.1 324.3 417.0 324.6 419.0 324.8 420.9 325.0 422.9 325.0 424.8 325.1 426.8 325.4 428.7 325.6 430.7 325.6 432.6 325.6 434.6 325.8 436.6 325.9 438.5 326.1 440.5 326.6 442.4 326.9 444.4 327.1 446.3 327.4 448.3 327.6 450.2 327.8 452.2 328.0 454.1 328.3 456.1 328.7 458.0 328.8 460.0 329.0 461.9 329.1 463.9 329.4 465.8 329.4 467.8 329.7M272.5 327.4 274.5 325.9 276.4 324.8 278.4 323.6 280.3 322.5 282.3 321.8 284.2 321.4 286.2 321.1 288.1 320.7 290.1 320.2 292.0 319.8 294.0 319.5 295.9 319.2 297.9 319.1 299.8 318.7 301.8 318.5 303.7 318.0 305.7 317.8 307.7 317.6 309.6 317.4 311.6 317.4 313.5 317.2 315.5 317.2 317.4 317.1 319.4 316.8 321.3 316.6 323.3 316.5 325.2 316.0 327.2 315.8 329.1 315.6 331.1 315.5 333.0 315.6 335.0 315.4 336.9 315.5 338.9 315.8 340.9 315.7 342.8 315.6 344.8 315.7 346.7 315.4 348.7 315.3 350.6 315.3 352.6 315.3 354.5 315.1 356.5 315.0 358.4 314.9 360.4 314.8 362.3 314.8 364.3 314.8 366.2 314.8 368.2 314.8 370.1 314.6 372.1 314.8 374.1 315.4 376.0 318.5 378.0 319.6 379.9 320.4 381.9 321.0 383.8 321.4 385.8 321.8 387.7 322.1 389.7 322.7 391.6 323.1 393.6 323.2 395.5 323.5 397.5 324.0 399.4 324.2 401.4 324.2 403.4 324.3 405.3 324.5 407.3 324.6 409.2 324.7 411.2 324.9 413.1 325.1 415.1 325.0 417.0 325.2 419.0 325.3 420.9 325.6 422.9 325.9 424.8 326.2 426.8 326.2 428.7 326.5 430.7 326.7 432.6 327.0 434.6 327.1 436.6 327.1 438.5 327.4 440.5 327.5 442.4 327.6 444.4 327.9 446.3 328.0 448.3 328.0 450.2 328.6 452.2 328.7 454.1 328.6 456.1 328.9 458.0 329.0 460.0 329.0 461.9 329.2 463.9 329.3 465.8 329.3 467.8 329.4M272.5 327.3 274.5 325.7 276.4 324.7 278.4 323.7 280.3 322.8 282.3 321.9 284.2 321.2 286.2 320.5 288.1 320.2 290.1 319.9 292.0 319.6 294.0 319.2 295.9 318.6 297.9 318.0 299.8 317.6 301.8 317.3 303.7 317.0 305.7 316.8 307.7 316.4 309.6 316.2 311.6 316.2 313.5 315.9 315.5 315.7 317.4 315.6 319.4 315.4 321.3 315.1 323.3 314.9 325.2 314.7 327.2 314.6 329.1 314.5 331.1 314.4 333.0 314.2 335.0 314.1 336.9 314.0 338.9 313.6 340.9 313.5 342.8 313.4 344.8 313.3 346.7 313.1 348.7 313.1 350.6 313.1 352.6 312.9 354.5 312.6 356.5 312.5 358.4 312.4 360.4 312.1 362.3 311.9 364.3 311.8 366.2 311.7 368.2 311.7 370.1 311.5 372.1 311.5 374.1 312.3 376.0 315.4 378.0 316.2 379.9 316.9 381.9 317.6 383.8 318.2 385.8 318.7 387.7 319.1 389.7 319.5 391.6 319.9 393.6 320.2 395.5 320.5 397.5 320.9 399.4 321.3 401.4 321.7 403.4 322.0 405.3 322.1 407.3 322.3 409.2 322.6 411.2 322.6 413.1 322.9 415.1 322.9 417.0 323.2 419.0 323.4 420.9 323.5 422.9 323.5 424.8 323.8 426.8 323.9 428.7 324.2 430.7 324.3 432.6 324.4 434.6 324.7 436.6 324.6 438.5 324.7 440.5 324.8 442.4 325.0 444.4 325.2 446.3 325.4 448.3 325.5 450.2 325.6 452.2 325.8 454.1 326.1 456.1 326.5 458.0 326.4 460.0 326.4 461.9 326.4 463.9 326.6 465.8 326.6 467.8 326.7M272.5 326.9 274.5 325.0 276.4 323.3 278.4 322.3 280.3 321.5 282.3 321.1 284.2 320.6 286.2 319.9 288.1 319.2 290.1 318.9 292.0 318.5 294.0 318.4 295.9 318.2 297.9 317.9 299.8 317.7 301.8 317.4 303.7 317.0 305.7 316.7 307.7 316.6 309.6 316.2 311.6 315.9 313.5 315.8 315.5 315.6 317.4 315.5 319.4 315.3 321.3 315.4 323.3 315.3 325.2 315.4 327.2 315.3 329.1 315.1 331.1 315.1 333.0 314.7 335.0 314.7 336.9 314.7 338.9 314.6 340.9 314.5 342.8 314.4 344.8 314.3 346.7 314.3 348.7 314.1 350.6 314.2 352.6 314.0 354.5 314.0 356.5 313.9 358.4 313.8 360.4 313.5 362.3 313.6 364.3 313.7 366.2 313.6 368.2 313.4 370.1 313.5 372.1 313.4 374.1 314.0 376.0 317.1 378.0 318.4 379.9 319.1 381.9 319.7 383.8 320.2 385.8 320.5 387.7 320.7 389.7 321.2 391.6 321.4 393.6 321.8 395.5 322.0 397.5 322.3 399.4 322.4 401.4 322.7 403.4 322.9 405.3 323.0 407.3 323.1 409.2 323.3 411.2 323.7 413.1 323.7 415.1 324.0 417.0 324.0 419.0 324.2 420.9 324.3 422.9 324.5 424.8 324.4 426.8 324.6 428.7 324.5 430.7 324.4 432.6 324.1 434.6 324.1 436.6 324.2 438.5 324.5 440.5 324.7 442.4 325.1 444.4 325.0 446.3 325.1 448.3 325.4 450.2 325.5 452.2 325.6 454.1 325.7 456.1 325.8 458.0 326.1 460.0 326.2 461.9 326.3 463.9 326.4 465.8 326.6 467.8 326.9M272.5 327.4 274.5 325.9 276.4 325.1 278.4 323.8 280.3 323.0 282.3 322.2 284.2 321.7 286.2 321.2 288.1 320.6 290.1 320.0 292.0 319.6 294.0 319.0 295.9 318.7 297.9 318.3 299.8 318.1 301.8 317.7 303.7 317.5 305.7 317.0 307.7 316.9 309.6 316.6 311.6 316.4 313.5 316.2 315.5 316.0 317.4 315.7 319.4 315.5 321.3 315.6 323.3 315.5 325.2 315.3 327.2 315.3 329.1 314.9 331.1 314.9 333.0 315.1 335.0 314.8 336.9 314.9 338.9 315.3 340.9 315.3 342.8 315.4 344.8 315.3 346.7 315.1 348.7 314.9 350.6 314.9 352.6 315.0 354.5 314.7 356.5 314.5 358.4 314.4 360.4 314.4 362.3 314.4 364.3 314.2 366.2 314.1 368.2 314.0 370.1 314.1 372.1 314.3 374.1 314.9 376.0 318.0 378.0 318.8 379.9 319.4 381.9 320.0 383.8 320.5 385.8 320.8 387.7 321.1 389.7 321.5 391.6 321.6 393.6 321.8 395.5 322.1 397.5 322.5 399.4 322.8 401.4 322.9 403.4 323.1 405.3 323.1 407.3 323.1 409.2 323.4 411.2 323.6 413.1 323.8 415.1 324.0 417.0 324.3 419.0 324.6 420.9 324.8 422.9 325.0 424.8 325.1 426.8 325.0 428.7 325.3 430.7 325.5 432.6 326.0 434.6 326.2 436.6 326.3 438.5 326.5 440.5 326.7 442.4 327.0 444.4 327.2 446.3 327.6 448.3 327.9 450.2 328.4 452.2 328.4 454.1 328.5 456.1 328.6 458.0 328.8 460.0 328.8 461.9 328.9 463.9 329.2 465.8 329.4 467.8 329.5M272.5 327.3 274.5 325.7 276.4 325.0 278.4 323.9 280.3 323.0 282.3 322.5 284.2 321.5 286.2 320.8 288.1 320.4 290.1 319.8 292.0 319.5 294.0 319.0 295.9 318.6 297.9 318.3 299.8 317.9 301.8 317.4 303.7 317.0 305.7 316.8 307.7 316.5 309.6 316.2 311.6 315.9 313.5 315.6 315.5 315.5 317.4 315.7 319.4 315.3 321.3 315.4 323.3 315.3 325.2 315.4 327.2 315.1 329.1 315.2 331.1 315.0 333.0 314.9 335.0 314.6 336.9 314.3 338.9 314.1 340.9 313.9 342.8 313.8 344.8 313.6 346.7 313.7 348.7 313.5 350.6 313.7 352.6 313.5 354.5 313.3 356.5 313.2 358.4 312.8 360.4 312.9 362.3 312.9 364.3 312.7 366.2 312.6 368.2 312.4 370.1 312.3 372.1 312.5 374.1 313.1 376.0 316.1 378.0 317.0 379.9 317.7 381.9 318.0 383.8 318.6 385.8 319.1 387.7 319.3 389.7 319.8 391.6 320.1 393.6 320.2 395.5 320.4 397.5 320.6 399.4 320.8 401.4 321.2 403.4 321.4 405.3 321.4 407.3 321.5 409.2 321.8 411.2 321.9 413.1 321.9 415.1 322.1 417.0 322.3 419.0 322.6 420.9 322.7 422.9 323.0 424.8 323.2 426.8 323.1 428.7 323.5 430.7 323.8 432.6 323.8 434.6 324.0 436.6 323.9 438.5 324.2 440.5 324.5 442.4 324.5 444.4 324.8 446.3 325.0 448.3 325.2 450.2 325.2 452.2 325.6 454.1 325.7 456.1 325.8 458.0 325.8 460.0 326.0 461.9 326.1 463.9 326.3 465.8 326.2 467.8 326.4M272.5 326.9 274.5 324.9 276.4 322.9 278.4 321.6 280.3 320.8 282.3 320.3 284.2 319.5 286.2 318.9 288.1 318.3 290.1 317.6 292.0 317.2 294.0 316.8 295.9 316.2 297.9 316.0 299.8 315.6 301.8 315.3 303.7 314.9 305.7 314.6 307.7 314.5 309.6 314.3 311.6 314.1 313.5 314.1 315.5 313.8 317.4 313.8 319.4 313.8 321.3 313.8 323.3 313.8 325.2 313.8 327.2 313.6 329.1 313.4 331.1 313.4 333.0 313.3 335.0 313.3 336.9 313.1 338.9 313.1 340.9 313.0 342.8 313.0 344.8 313.2 346.7 312.9 348.7 312.7 350.6 312.7 352.6 312.5 354.5 312.4 356.5 312.0 358.4 311.9 360.4 311.7 362.3 311.6 364.3 311.5 366.2 311.3 368.2 311.1 370.1 311.1 372.1 310.8 374.1 311.9 376.0 314.7 378.0 315.8 379.9 316.7 381.9 317.2 383.8 317.5 385.8 317.8 387.7 318.4 389.7 318.4 391.6 318.9 393.6 319.1 395.5 319.2 397.5 319.4 399.4 319.7 401.4 319.8 403.4 320.0 405.3 320.3 407.3 320.4 409.2 320.4 411.2 320.5 413.1 320.6 415.1 320.5 417.0 320.6 419.0 320.5 420.9 320.6 422.9 321.0 424.8 321.1 426.8 321.1 428.7 321.1 430.7 321.1 432.6 321.4 434.6 321.9 436.6 322.0 438.5 322.0 440.5 322.2 442.4 322.5 444.4 322.5 446.3 322.7 448.3 322.6 450.2 322.8 452.2 322.8 454.1 323.4 456.1 323.5 458.0 323.8 460.0 324.2 461.9 324.5 463.9 324.3 465.8 324.6 467.8 325.0M272.5 326.9 274.5 324.9 276.4 322.9 278.4 321.8 280.3 320.7 282.3 320.0 284.2 319.6 286.2 319.0 288.1 318.6 290.1 318.2 292.0 317.8 294.0 317.4 295.9 317.0 297.9 316.7 299.8 316.5 301.8 316.2 303.7 315.7 305.7 315.5 307.7 315.5 309.6 315.2 311.6 315.2 313.5 315.1 315.5 315.0 317.4 314.8 319.4 314.9 321.3 314.7 323.3 314.6 325.2 314.4 327.2 314.3 329.1 313.8 331.1 313.7 333.0 313.7 335.0 313.7 336.9 313.9 338.9 313.6 340.9 313.8 342.8 313.7 344.8 313.5 346.7 313.3 348.7 313.2 350.6 313.2 352.6 313.0 354.5 312.9 356.5 313.0 358.4 313.0 360.4 312.7 362.3 312.4 364.3 312.6 366.2 312.4 368.2 312.3 370.1 312.1 372.1 312.1 374.1 312.8 376.0 315.7 378.0 316.5 379.9 317.1 381.9 317.7 383.8 318.1 385.8 318.2 387.7 318.6 389.7 319.0 391.6 319.3 393.6 319.6 395.5 319.7 397.5 320.1 399.4 320.3 401.4 320.3 403.4 320.6 405.3 320.8 407.3 320.9 409.2 321.0 411.2 321.3 413.1 321.3 415.1 321.4 417.0 321.5 419.0 321.5 420.9 321.5 422.9 321.6 424.8 321.6 426.8 321.6 428.7 321.9 430.7 322.2 432.6 322.4 434.6 322.7 436.6 322.8 438.5 323.2 440.5 323.4 442.4 323.4 444.4 323.5 446.3 323.6 448.3 323.9 450.2 323.8 452.2 324.0 454.1 324.2 456.1 324.4 458.0 324.8 460.0 325.1 461.9 325.3 463.9 325.3 465.8 325.5 467.8 325.6M272.5 326.8 274.5 324.7 276.4 322.7 278.4 321.8 280.3 321.0 282.3 320.1 284.2 319.5 286.2 319.0 288.1 318.4 290.1 317.8 292.0 317.4 294.0 317.3 295.9 316.9 297.9 316.5 299.8 316.4 301.8 315.7 303.7 315.4 305.7 315.3 307.7 315.3 309.6 314.9 311.6 314.7 313.5 314.5 315.5 314.5 317.4 314.2 319.4 314.0 321.3 314.1 323.3 314.0 325.2 314.1 327.2 313.9 329.1 313.9 331.1 313.6 333.0 313.5 335.0 313.3 336.9 313.4 338.9 313.5 340.9 313.5 342.8 313.7 344.8 313.7 346.7 313.5 348.7 313.3 350.6 313.0 352.6 312.9 354.5 312.7 356.5 312.6 358.4 312.5 360.4 312.4 362.3 312.3 364.3 312.3 366.2 312.2 368.2 311.9 370.1 312.0 372.1 312.1 374.1 312.7 376.0 315.7 378.0 316.9 379.9 317.7 381.9 318.6 383.8 319.1 385.8 319.6 387.7 320.1 389.7 320.5 391.6 320.8 393.6 320.9 395.5 321.3 397.5 321.5 399.4 321.8 401.4 322.0 403.4 322.1 405.3 322.2 407.3 322.2 409.2 322.6 411.2 322.5 413.1 322.4 415.1 322.5 417.0 322.6 419.0 322.6 420.9 323.0 422.9 323.2 424.8 323.2 426.8 323.3 428.7 323.4 430.7 323.6 432.6 323.6 434.6 323.7 436.6 323.7 438.5 324.0 440.5 324.3 442.4 324.5 444.4 324.6 446.3 324.9 448.3 325.2 450.2 325.3 452.2 325.4 454.1 325.7 456.1 326.2 458.0 326.4 460.0 326.9 461.9 327.3 463.9 327.4 465.8 327.5 467.8 327.9M272.5 327.6 274.5 326.1 276.4 325.5 278.4 324.8 280.3 323.8 282.3 323.1 284.2 322.5 286.2 322.0 288.1 321.5 290.1 321.2 292.0 320.7 294.0 320.2 295.9 319.7 297.9 319.2 299.8 318.8 301.8 318.5 303.7 318.3 305.7 317.9 307.7 317.7 309.6 317.5 311.6 317.5 313.5 317.5 315.5 316.9 317.4 316.8 319.4 316.6 321.3 316.3 323.3 316.2 325.2 316.1 327.2 316.1 329.1 315.9 331.1 315.9 333.0 316.0 335.0 316.0 336.9 315.7 338.9 315.6 340.9 315.4 342.8 315.2 344.8 315.1 346.7 315.2 348.7 314.8 350.6 314.8 352.6 314.6 354.5 314.5 356.5 314.1 358.4 314.0 360.4 314.0 362.3 314.1 364.3 314.1 366.2 313.8 368.2 313.5 370.1 313.5 372.1 313.5 374.1 314.1 376.0 317.1 378.0 318.2 379.9 319.0 381.9 319.6 383.8 319.9 385.8 320.2 387.7 320.5 389.7 320.9 391.6 321.0 393.6 321.6 395.5 321.8 397.5 321.9 399.4 322.2 401.4 322.6 403.4 322.6 405.3 322.8 407.3 323.0 409.2 323.0 411.2 323.0 413.1 323.3 415.1 323.4 417.0 323.6 419.0 323.5 420.9 323.5 422.9 323.8 424.8 324.0 426.8 323.9 428.7 324.0 430.7 324.1 432.6 324.3 434.6 324.4 436.6 324.6 438.5 324.7 440.5 324.8 442.4 325.1 444.4 325.4 446.3 325.8 448.3 326.0 450.2 326.3 452.2 326.4 454.1 326.6 456.1 326.7 458.0 327.0 460.0 327.3 461.9 327.5 463.9 327.9 465.8 328.2 467.8 328.2M272.5 326.8 274.5 324.9 276.4 322.9 278.4 321.7 280.3 320.8 282.3 320.2 284.2 319.5 286.2 318.8 288.1 318.2 290.1 317.7 292.0 317.4 294.0 317.0 295.9 316.6 297.9 316.4 299.8 316.1 301.8 316.1 303.7 315.6 305.7 315.2 307.7 315.0 309.6 314.8 311.6 314.5 313.5 314.4 315.5 314.3 317.4 314.2 319.4 314.1 321.3 314.2 323.3 313.9 325.2 314.1 327.2 314.0 329.1 313.9 331.1 314.1 333.0 313.9 335.0 314.1 336.9 314.1 338.9 314.2 340.9 314.2 342.8 314.2 344.8 314.0 346.7 313.9 348.7 313.9 350.6 313.8 352.6 313.7 354.5 313.7 356.5 313.5 358.4 313.3 360.4 313.1 362.3 313.0 364.3 312.8 366.2 312.7 368.2 312.7 370.1 312.6 372.1 312.5 374.1 313.3 376.0 316.3 378.0 317.2 379.9 318.0 381.9 318.7 383.8 319.2 385.8 319.6 387.7 319.8 389.7 320.1 391.6 320.3 393.6 320.6 395.5 320.7 397.5 320.8 399.4 320.9 401.4 321.3 403.4 321.5 405.3 321.9 407.3 322.1 409.2 322.3 411.2 322.6 413.1 322.9 415.1 323.2 417.0 323.4 419.0 323.5 420.9 323.5 422.9 323.4 424.8 323.7 426.8 323.8 428.7 324.0 430.7 324.2 432.6 324.5 434.6 324.6 436.6 324.8 438.5 325.1 440.5 325.2 442.4 325.6 444.4 326.1 446.3 326.5 448.3 326.7 450.2 327.1 452.2 327.3 454.1 327.3 456.1 327.5 458.0 327.8 460.0 328.2 461.9 328.4 463.9 328.6 465.8 328.7 467.8 329.0M272.5 327.4 274.5 325.8 276.4 325.0 278.4 323.6 280.3 322.8 282.3 322.2 284.2 321.5 286.2 321.0 288.1 320.7 290.1 320.5 292.0 320.2 294.0 319.9 295.9 319.6 297.9 319.5 299.8 319.1 301.8 319.0 303.7 318.6 305.7 318.2 307.7 318.1 309.6 318.0 311.6 317.9 313.5 317.7 315.5 317.6 317.4 317.7 319.4 317.5 321.3 317.5 323.3 317.3 325.2 317.3 327.2 317.4 329.1 317.5 331.1 317.5 333.0 317.4 335.0 317.3 336.9 317.4 338.9 317.3 340.9 317.5 342.8 317.1 344.8 317.0 346.7 317.0 348.7 317.0 350.6 316.8 352.6 316.5 354.5 316.5 356.5 316.3 358.4 316.2 360.4 316.0 362.3 316.0 364.3 315.8 366.2 315.7 368.2 315.4 370.1 315.5 372.1 315.5 374.1 316.1 376.0 319.0 378.0 319.9 379.9 320.7 381.9 321.3 383.8 321.6 385.8 322.3 387.7 322.5 389.7 322.9 391.6 323.1 393.6 323.1 395.5 323.5 397.5 323.7 399.4 323.9 401.4 324.2 403.4 324.2 405.3 324.2 407.3 324.5 409.2 324.8 411.2 325.0 413.1 325.2 415.1 325.3 417.0 325.2 419.0 325.4 420.9 325.6 422.9 325.9 424.8 325.9 426.8 326.0 428.7 326.2 430.7 326.3 432.6 326.4 434.6 326.5 436.6 326.6 438.5 326.5 440.5 326.8 442.4 327.0 444.4 327.2 446.3 327.4 448.3 327.5 450.2 327.8 452.2 328.1 454.1 327.8 456.1 327.8 458.0 327.8 460.0 328.1 461.9 328.3 463.9 328.6 465.8 328.8 467.8 329.0M272.5 326.6 274.5 324.5 276.4 322.3 278.4 321.3 280.3 320.3 282.3 319.8 284.2 319.2 286.2 318.7 288.1 318.4 290.1 318.0 292.0 317.7 294.0 317.8 295.9 317.3 297.9 317.1 299.8 316.8 301.8 316.6 303.7 316.5 305.7 316.3 307.7 316.1 309.6 315.9 311.6 315.9 313.5 315.9 315.5 315.6 317.4 315.5 319.4 315.5 321.3 315.2 323.3 315.3 325.2 315.0 327.2 314.8 329.1 314.8 331.1 314.9 333.0 314.9 335.0 315.0 336.9 314.8 338.9 314.5 340.9 314.3 342.8 314.3 344.8 314.3 346.7 314.5 348.7 314.6 350.6 314.5 352.6 314.2 354.5 314.1 356.5 313.8 358.4 313.6 360.4 313.6 362.3 313.4 364.3 313.4 366.2 313.5 368.2 313.3 370.1 313.2 372.1 313.2 374.1 313.8 376.0 316.9 378.0 318.1 379.9 318.9 381.9 319.5 383.8 319.8 385.8 320.3 387.7 320.7 389.7 321.0 391.6 321.3 393.6 321.7 395.5 321.8 397.5 322.3 399.4 322.5 401.4 322.6 403.4 322.8 405.3 323.0 407.3 323.4 409.2 323.6 411.2 323.7 413.1 323.9 415.1 324.0 417.0 324.2 419.0 324.4 420.9 324.4 422.9 324.6 424.8 324.6 426.8 324.8 428.7 324.7 430.7 324.7 432.6 325.0 434.6 325.3 436.6 325.3 438.5 325.2 440.5 325.4 442.4 325.5 444.4 325.8 446.3 325.7 448.3 325.8 450.2 326.0 452.2 326.0 454.1 326.5 456.1 326.6 458.0 326.9 460.0 327.1 461.9 327.3 463.9 327.6 465.8 327.8 467.8 328.0M272.5 326.2 274.5 323.8 276.4 321.0 278.4 320.2 280.3 319.1 282.3 318.4 284.2 318.0 286.2 317.1 288.1 316.6 290.1 316.2 292.0 315.7 294.0 315.2 295.9 314.8 297.9 314.5 299.8 314.1 301.8 314.1 303.7 313.9 305.7 313.7 307.7 313.1 309.6 312.8 311.6 312.6 313.5 312.4 315.5 312.3 317.4 312.1 319.4 312.1 321.3 311.9 323.3 311.8 325.2 311.7 327.2 311.7 329.1 311.7 331.1 311.8 333.0 311.7 335.0 311.7 336.9 311.7 338.9 311.7 340.9 311.6 342.8 311.5 344.8 311.5 346.7 311.3 348.7 311.0 350.6 311.0 352.6 310.9 354.5 310.8 356.5 310.8 358.4 310.5 360.4 310.5 362.3 310.1 364.3 310.1 366.2 309.9 368.2 309.9 370.1 310.0 372.1 310.0 374.1 310.7 376.0 313.5 378.0 314.4 379.9 315.4 381.9 315.8 383.8 316.5 385.8 317.0 387.7 317.5 389.7 317.8 391.6 318.1 393.6 318.4 395.5 318.3 397.5 318.6 399.4 318.9 401.4 319.3 403.4 319.3 405.3 319.6 407.3 319.8 409.2 320.0 411.2 320.2 413.1 320.3 415.1 320.6 417.0 320.8 419.0 320.9 420.9 321.2 422.9 321.3 424.8 321.5 426.8 321.5 428.7 321.6 430.7 321.9 432.6 322.2 434.6 322.0 436.6 322.1 438.5 322.3 440.5 322.1 442.4 322.4 444.4 322.7 446.3 322.7 448.3 322.9 450.2 322.9 452.2 323.2 454.1 323.2 456.1 323.4 458.0 323.5 460.0 323.6 461.9 323.9 463.9 324.1 465.8 324.3 467.8 324.5M272.5 327.3 274.5 325.7 276.4 324.5 278.4 323.1 280.3 322.0 282.3 321.2 284.2 320.6 286.2 320.1 288.1 319.5 290.1 318.9 292.0 318.5 294.0 318.0 295.9 317.7 297.9 317.5 299.8 317.3 301.8 317.2 303.7 316.8 305.7 316.6 307.7 316.2 309.6 315.7 311.6 315.6 313.5 315.3 315.5 315.2 317.4 314.9 319.4 314.4 321.3 314.3 323.3 314.3 325.2 314.3 327.2 314.3 329.1 314.1 331.1 314.0 333.0 314.0 335.0 313.9 336.9 313.8 338.9 313.8 340.9 313.9 342.8 313.8 344.8 314.0 346.7 313.9 348.7 313.9 350.6 313.8 352.6 313.7 354.5 313.7 356.5 313.7 358.4 313.3 360.4 313.3 362.3 313.1 364.3 313.0 366.2 312.9 368.2 312.7 370.1 312.7 372.1 312.6 374.1 313.3 376.0 316.3 378.0 317.3 379.9 318.2 381.9 318.8 383.8 319.3 385.8 319.7 387.7 320.3 389.7 320.6 391.6 321.1 393.6 321.4 395.5 321.7 397.5 321.8 399.4 322.0 401.4 322.1 403.4 322.5 405.3 322.7 407.3 323.1 409.2 323.2 411.2 323.1 413.1 323.3 415.1 323.4 417.0 323.8 419.0 324.0 420.9 324.1 422.9 324.3 424.8 324.5 426.8 324.6 428.7 324.7 430.7 324.9 432.6 325.1 434.6 325.3 436.6 325.4 438.5 325.5 440.5 325.7 442.4 325.8 444.4 326.0 446.3 326.1 448.3 326.0 450.2 326.1 452.2 326.3 454.1 326.5 456.1 326.8 458.0 327.1 460.0 327.4 461.9 327.6 463.9 327.7 465.8 328.0 467.8 328.0M272.5 326.4 274.5 324.3 276.4 321.8 278.4 320.8 280.3 320.1 282.3 319.4 284.2 318.9 286.2 318.5 288.1 318.1 290.1 317.9 292.0 317.4 294.0 317.2 295.9 317.0 297.9 316.7 299.8 316.5 301.8 316.3 303.7 316.0 305.7 315.5 307.7 315.5 309.6 315.5 311.6 315.4 313.5 315.2 315.5 315.2 317.4 315.0 319.4 315.1 321.3 315.0 323.3 315.0 325.2 315.2 327.2 315.3 329.1 315.2 331.1 315.1 333.0 315.0 335.0 314.9 336.9 315.1 338.9 315.1 340.9 315.0 342.8 314.8 344.8 314.6 346.7 314.5 348.7 314.5 350.6 314.3 352.6 314.4 354.5 314.5 356.5 314.5 358.4 314.4 360.4 314.2 362.3 314.2 364.3 313.7 366.2 313.7 368.2 313.4 370.1 313.4 372.1 313.4 374.1 314.2 376.0 317.2 378.0 318.3 379.9 318.9 381.9 319.7 383.8 320.1 385.8 320.2 387.7 320.6 389.7 321.0 391.6 321.3 393.6 321.9 395.5 322.2 397.5 322.4 399.4 322.6 401.4 323.0 403.4 323.2 405.3 323.3 407.3 323.3 409.2 323.6 411.2 323.7 413.1 323.9 415.1 324.3 417.0 324.5 419.0 324.8 420.9 324.9 422.9 325.1 424.8 324.9 426.8 324.9 428.7 324.9 430.7 325.1 432.6 325.0 434.6 325.0 436.6 325.1 438.5 325.3 440.5 325.5 442.4 325.7 444.4 326.0 446.3 326.2 448.3 326.5 450.2 326.5 452.2 326.6 454.1 326.9 456.1 326.9 458.0 327.0 460.0 327.1 461.9 327.4 463.9 327.7 465.8 327.8 467.8 327.9M272.5 327.6 274.5 326.0 276.4 325.3 278.4 324.1 280.3 323.3 282.3 322.5 284.2 322.0 286.2 321.3 288.1 320.5 290.1 320.0 292.0 319.6 294.0 319.1 295.9 318.9 297.9 318.5 299.8 318.3 301.8 318.0 303.7 317.9 305.7 317.8 307.7 317.7 309.6 317.5 311.6 317.2 313.5 317.0 315.5 316.7 317.4 316.5 319.4 316.3 321.3 316.2 323.3 316.0 325.2 316.0 327.2 315.8 329.1 315.7 331.1 315.2 333.0 315.3 335.0 315.0 336.9 314.9 338.9 314.8 340.9 314.7 342.8 314.7 344.8 314.8 346.7 314.7 348.7 314.7 350.6 314.7 352.6 314.6 354.5 314.6 356.5 314.4 358.4 313.9 360.4 313.8 362.3 313.7 364.3 313.3 366.2 313.4 368.2 313.4 370.1 313.5 372.1 313.6 374.1 314.1 376.0 317.0 378.0 318.1 379.9 318.7 381.9 319.5 383.8 320.0 385.8 320.3 387.7 320.4 389.7 320.6 391.6 320.8 393.6 321.0 395.5 321.1 397.5 321.4 399.4 321.4 401.4 321.6 403.4 321.8 405.3 322.2 407.3 322.4 409.2 322.4 411.2 322.8 413.1 322.9 415.1 323.0 417.0 323.2 419.0 323.4 420.9 323.6 422.9 324.1 424.8 324.3 426.8 324.2 428.7 324.5 430.7 324.6 432.6 325.0 434.6 324.9 436.6 325.1 438.5 325.3 440.5 325.3 442.4 325.6 444.4 325.4 446.3 325.5 448.3 325.7 450.2 326.1 452.2 326.2 454.1 326.5 456.1 326.6 458.0 326.8 460.0 327.2 461.9 327.2 463.9 327.4 465.8 327.7 467.8 327.9M272.5 327.0 274.5 325.3 276.4 324.0 278.4 323.1 280.3 322.0 282.3 321.3 284.2 320.6 286.2 320.2 288.1 320.0 290.1 319.5 292.0 319.2 294.0 319.1 295.9 318.8 297.9 318.3 299.8 318.1 301.8 317.8 303.7 317.8 305.7 317.6 307.7 317.4 309.6 317.2 311.6 317.1 313.5 317.0 315.5 316.8 317.4 316.6 319.4 316.2 321.3 316.2 323.3 316.2 325.2 316.1 327.2 316.2 329.1 316.3 331.1 316.3 333.0 316.3 335.0 316.3 336.9 316.3 338.9 316.2 340.9 316.0 342.8 315.9 344.8 315.8 346.7 315.9 348.7 315.9 350.6 316.0 352.6 315.8 354.5 315.5 356.5 315.2 358.4 315.2 360.4 314.9 362.3 314.7 364.3 314.5 366.2 314.2 368.2 314.0 370.1 314.0 372.1 314.0 374.1 314.8 376.0 317.8 378.0 318.7 379.9 319.6 381.9 320.4 383.8 320.8 385.8 321.2 387.7 321.6 389.7 321.9 391.6 322.3 393.6 322.4 395.5 322.8 397.5 323.1 399.4 323.2 401.4 323.4 403.4 323.6 405.3 323.9 407.3 323.9 409.2 324.0 411.2 324.2 413.1 324.3 415.1 324.4 417.0 324.6 419.0 324.9 420.9 324.9 422.9 324.9 424.8 325.3 426.8 325.5 428.7 325.4 430.7 325.4 432.6 325.7 434.6 325.9 436.6 326.1 438.5 326.3 440.5 326.5 442.4 326.7 444.4 326.9 446.3 327.0 448.3 327.3 450.2 327.3 452.2 327.4 454.1 327.5 456.1 327.5 458.0 327.5 460.0 327.6 461.9 327.7 463.9 327.9 465.8 328.0 467.8 328.0M272.5 326.6 274.5 324.5 276.4 322.5 278.4 321.6 280.3 320.4 282.3 319.8 284.2 319.1 286.2 318.7 288.1 318.2 290.1 317.7 292.0 317.4 294.0 317.1 295.9 316.7 297.9 316.4 299.8 316.2 301.8 315.8 303.7 315.5 305.7 315.4 307.7 315.0 309.6 315.0 311.6 315.0 313.5 314.7 315.5 314.4 317.4 314.3 319.4 314.4 321.3 314.4 323.3 314.3 325.2 314.1 327.2 314.0 329.1 313.8 331.1 313.9 333.0 313.9 335.0 313.9 336.9 313.9 338.9 313.7 340.9 313.5 342.8 313.6 344.8 313.6 346.7 313.9 348.7 313.7 350.6 313.7 352.6 313.6 354.5 313.5 356.5 313.6 358.4 313.4 360.4 313.3 362.3 313.2 364.3 313.2 366.2 313.1 368.2 312.9 370.1 312.8 372.1 312.7 374.1 313.4 376.0 316.2 378.0 317.2 379.9 318.0 381.9 318.3 383.8 319.0 385.8 319.6 387.7 320.1 389.7 320.4 391.6 320.8 393.6 321.1 395.5 321.1 397.5 321.1 399.4 321.4 401.4 321.5 403.4 321.7 405.3 321.9 407.3 321.9 409.2 321.9 411.2 322.2 413.1 322.1 415.1 322.4 417.0 322.6 419.0 322.6 420.9 322.9 422.9 323.0 424.8 323.1 426.8 323.2 428.7 323.3 430.7 323.5 432.6 323.7 434.6 323.8 436.6 323.9 438.5 324.1 440.5 324.2 442.4 324.2 444.4 324.3 446.3 324.3 448.3 324.4 450.2 324.6 452.2 324.9 454.1 325.1 456.1 325.3 458.0 325.7 460.0 326.0 461.9 326.0 463.9 326.4 465.8 326.8 467.8 327.1M272.5 327.1 274.5 325.4 276.4 323.9 278.4 323.0 280.3 322.3 282.3 321.4 284.2 320.7 286.2 320.0 288.1 319.8 290.1 319.5 292.0 319.1 294.0 318.9 295.9 318.8 297.9 318.5 299.8 318.2 301.8 317.9 303.7 317.8 305.7 317.7 307.7 317.4 309.6 317.3 311.6 317.2 313.5 317.0 315.5 316.9 317.4 316.7 319.4 316.7 321.3 316.5 323.3 316.1 325.2 316.0 327.2 316.1 329.1 316.1 331.1 316.0 333.0 315.8 335.0 315.9 336.9 315.8 338.9 315.8 340.9 315.9 342.8 315.9 344.8 315.8 346.7 315.6 348.7 315.6 350.6 315.5 352.6 315.4 354.5 315.2 356.5 315.1 358.4 315.1 360.4 314.8 362.3 314.5 364.3 314.4 366.2 314.2 368.2 314.1 370.1 314.0 372.1 313.8 374.1 314.3 376.0 317.3 378.0 318.2 379.9 319.0 381.9 319.6 383.8 320.0 385.8 320.5 387.7 320.9 389.7 321.0 391.6 321.4 393.6 321.7 395.5 321.7 397.5 321.8 399.4 322.0 401.4 322.1 403.4 322.4 405.3 322.7 407.3 322.9 409.2 322.8 411.2 323.1 413.1 323.1 415.1 323.2 417.0 323.5 419.0 323.8 420.9 323.7 422.9 323.7 424.8 323.9 426.8 324.3 428.7 324.3 430.7 324.3 432.6 324.6 434.6 324.7 436.6 324.9 438.5 325.2 440.5 325.2 442.4 325.2 444.4 325.4 446.3 325.4 448.3 325.6 450.2 325.8 452.2 326.0 454.1 326.3 456.1 326.5 458.0 326.6 460.0 326.8 461.9 326.9 463.9 327.1 465.8 327.3 467.8 327.5M272.5 326.5 274.5 324.4 276.4 322.2 278.4 321.3 280.3 320.3 282.3 319.5 284.2 319.1 286.2 318.6 288.1 318.1 290.1 317.5 292.0 317.4 294.0 316.8 295.9 316.5 297.9 316.1 299.8 315.9 301.8 315.6 303.7 315.2 305.7 314.7 307.7 314.5 309.6 314.4 311.6 314.1 313.5 313.9 315.5 313.8 317.4 313.4 319.4 313.5 321.3 313.1 323.3 313.1 325.2 312.9 327.2 312.5 329.1 312.4 331.1 312.0 333.0 312.1 335.0 311.9 336.9 311.7 338.9 311.7 340.9 311.6 342.8 311.6 344.8 311.7 346.7 311.4 348.7 311.2 350.6 311.2 352.6 311.3 354.5 311.3 356.5 311.2 358.4 310.8 360.4 310.7 362.3 310.5 364.3 310.4 366.2 310.4 368.2 310.1 370.1 310.0 372.1 310.1 374.1 310.8 376.0 313.7 378.0 314.8 379.9 315.7 381.9 316.4 383.8 316.8 385.8 316.9 387.7 317.3 389.7 317.8 391.6 318.1 393.6 318.4 395.5 318.4 397.5 318.6 399.4 318.8 401.4 318.9 403.4 319.0 405.3 319.4 407.3 319.6 409.2 319.5 411.2 319.6 413.1 319.7 415.1 319.8 417.0 320.0 419.0 320.2 420.9 320.4 422.9 320.6 424.8 320.6 426.8 320.7 428.7 320.8 430.7 320.9 432.6 321.1 434.6 321.2 436.6 321.2 438.5 321.4 440.5 321.7 442.4 321.8 444.4 322.2 446.3 322.3 448.3 322.5 450.2 322.8 452.2 323.1 454.1 323.3 456.1 323.8 458.0 323.8 460.0 323.9 461.9 324.1 463.9 324.2 465.8 324.5 467.8 324.6M272.5 326.4 274.5 324.2 276.4 321.6 278.4 320.6 280.3 319.8 282.3 319.1 284.2 318.4 286.2 317.7 288.1 317.5 290.1 317.1 292.0 316.5 294.0 316.3 295.9 315.9 297.9 315.5 299.8 315.2 301.8 314.8 303.7 314.7 305.7 314.2 307.7 313.9 309.6 313.6 311.6 313.3 313.5 313.1 315.5 313.0 317.4 313.0 319.4 312.8 321.3 312.5 323.3 312.2 325.2 312.2 327.2 312.3 329.1 312.3 331.1 312.3 333.0 312.1 335.0 311.8 336.9 312.0 338.9 312.1 340.9 312.0 342.8 311.7 344.8 311.6 346.7 311.4 348.7 311.2 350.6 311.1 352.6 311.1 354.5 311.1 356.5 310.9 358.4 311.0 360.4 310.9 362.3 310.9 364.3 310.8 366.2 310.6 368.2 310.4 370.1 310.3 372.1 310.3 374.1 310.9 376.0 314.0 378.0 315.1 379.9 315.9 381.9 316.7 383.8 317.1 385.8 317.5 387.7 317.8 389.7 318.0 391.6 318.1 393.6 318.5 395.5 318.8 397.5 319.0 399.4 319.4 401.4 319.6 403.4 319.9 405.3 320.1 407.3 320.2 409.2 320.3 411.2 320.6 413.1 320.7 415.1 320.6 417.0 320.8 419.0 321.0 420.9 321.1 422.9 321.2 424.8 321.5 426.8 321.5 428.7 321.6 430.7 321.8 432.6 322.0 434.6 322.2 436.6 322.6 438.5 322.6 440.5 322.8 442.4 323.3 444.4 323.7 446.3 323.9 448.3 324.2 450.2 324.6 452.2 324.7 454.1 324.9 456.1 325.1 458.0 325.4 460.0 325.4 461.9 325.8 463.9 326.4 465.8 326.7 467.8 326.6M272.5 326.3 274.5 323.9 276.4 321.5 278.4 320.4 280.3 319.6 282.3 318.9 284.2 318.4 286.2 317.9 288.1 317.5 290.1 317.1 292.0 316.8 294.0 316.5 295.9 316.2 297.9 315.5 299.8 315.0 301.8 314.8 303.7 314.5 305.7 314.1 307.7 314.0 309.6 313.8 311.6 313.7 313.5 313.6 315.5 313.3 317.4 313.2 319.4 313.3 321.3 313.1 323.3 313.2 325.2 313.1 327.2 312.9 329.1 312.8 331.1 312.5 333.0 312.5 335.0 312.6 336.9 312.6 338.9 312.5 340.9 312.3 342.8 312.4 344.8 312.1 346.7 312.1 348.7 312.1 350.6 312.0 352.6 311.9 354.5 311.8 356.5 311.8 358.4 311.7 360.4 311.4 362.3 311.3 364.3 311.0 366.2 311.0 368.2 310.8 370.1 310.8 372.1 310.7 374.1 311.5 376.0 314.5 378.0 315.4 379.9 316.2 381.9 316.8 383.8 317.5 385.8 318.0 387.7 318.8 389.7 319.0 391.6 319.3 393.6 319.5 395.5 319.9 397.5 320.0 399.4 320.2 401.4 320.3 403.4 320.6 405.3 320.7 407.3 320.7 409.2 320.6 411.2 320.6 413.1 320.8 415.1 320.9 417.0 320.8 419.0 321.0 420.9 321.2 422.9 321.3 424.8 321.4 426.8 321.4 428.7 321.4 430.7 321.6 432.6 321.8 434.6 321.9 436.6 321.9 438.5 321.9 440.5 322.1 442.4 322.1 444.4 322.4 446.3 322.6 448.3 322.8 450.2 322.8 452.2 323.1 454.1 323.0 456.1 323.3 458.0 323.3 460.0 323.5 461.9 323.8 463.9 323.9 465.8 324.1 467.8 324.1M272.5 326.1 274.5 323.6 276.4 320.5 278.4 319.4 280.3 318.3 282.3 317.5 284.2 316.8 286.2 316.0 288.1 315.3 290.1 315.0 292.0 314.7 294.0 314.1 295.9 313.9 297.9 313.8 299.8 313.7 301.8 313.3 303.7 312.9 305.7 312.9 307.7 312.5 309.6 312.5 311.6 312.2 313.5 312.1 315.5 311.9 317.4 311.7 319.4 311.5 321.3 311.5 323.3 311.7 325.2 311.8 327.2 311.8 329.1 311.8 331.1 311.8 333.0 311.7 335.0 311.6 336.9 311.7 338.9 311.7 340.9 311.9 342.8 312.1 344.8 312.1 346.7 312.1 348.7 312.1 350.6 312.1 352.6 312.1 354.5 312.0 356.5 311.9 358.4 311.6 360.4 311.6 362.3 311.6 364.3 311.5 366.2 311.1 368.2 311.0 370.1 311.0 372.1 310.8 374.1 311.6 376.0 314.7 378.0 315.5 379.9 316.3 381.9 316.9 383.8 317.3 385.8 317.8 387.7 318.2 389.7 318.5 391.6 318.8 393.6 319.4 395.5 319.6 397.5 319.9 399.4 320.4 401.4 320.7 403.4 321.0 405.3 321.1 407.3 321.3 409.2 321.4 411.2 321.5 413.1 321.3 415.1 321.9 417.0 322.0 419.0 321.9 420.9 322.0 422.9 322.2 424.8 322.1 426.8 322.2 428.7 322.4 430.7 322.6 432.6 322.7 434.6 322.7 436.6 322.9 438.5 323.3 440.5 323.5 442.4 323.7 444.4 324.1 446.3 324.2 448.3 324.5 450.2 324.8 452.2 324.9 454.1 325.3 456.1 325.4 458.0 325.7 460.0 326.0 461.9 326.5 463.9 326.8 465.8 327.1 467.8 327.2" stroke="#f04060" stroke-width="0.45" fill="none" stroke-opacity="0.35"/><path d="M272.5 338.4 274.5 337.2 276.4 336.7 278.4 335.7 280.3 334.7 282.3 333.8 284.2 333.0 286.2 332.6 288.1 332.2 290.1 331.9 292.0 331.4 294.0 331.1 295.9 330.7 297.9 330.3 299.8 330.0 301.8 329.5 303.7 329.1 305.7 328.9 307.7 328.8 309.6 328.4 311.6 328.0 313.5 328.0 315.5 327.8 317.4 327.6 319.4 327.7 321.3 327.6 323.3 327.3 325.2 327.3 327.2 327.1 329.1 326.8 331.1 326.7 333.0 326.6 335.0 326.5 336.9 326.3 338.9 326.1 340.9 326.2 342.8 326.2 344.8 326.1 346.7 326.0 348.7 325.7 350.6 325.6 352.6 325.4 354.5 325.0 356.5 324.8 358.4 324.7 360.4 324.4 362.3 324.2 364.3 323.9 366.2 323.6 368.2 323.4 370.1 323.3 372.1 323.3 374.1 323.6 376.0 326.2 378.0 327.1 379.9 327.7 381.9 328.2 383.8 328.7 385.8 329.1 387.7 329.5 389.7 330.1 391.6 330.5 393.6 330.7 395.5 330.9 397.5 331.1 399.4 331.4 401.4 331.6 403.4 331.5 405.3 331.8 407.3 332.1 409.2 332.3 411.2 332.4 413.1 332.7 415.1 332.8 417.0 333.0 419.0 333.1 420.9 333.3 422.9 333.6 424.8 333.6 426.8 333.9 428.7 334.2 430.7 334.3 432.6 334.4 434.6 334.5 436.6 335.0 438.5 335.1 440.5 335.2 442.4 335.4 444.4 335.8 446.3 335.9 448.3 335.8 450.2 336.0 452.2 335.9 454.1 336.2 456.1 336.4 458.0 336.6 460.0 337.0 461.9 337.2 463.9 337.5 465.8 337.8 467.8 338.0M272.5 337.6 274.5 336.1 276.4 334.6 278.4 334.0 280.3 333.1 282.3 332.4 284.2 332.1 286.2 331.6 288.1 331.0 290.1 330.5 292.0 330.2 294.0 329.9 295.9 329.6 297.9 329.3 299.8 328.9 301.8 328.7 303.7 328.3 305.7 328.0 307.7 327.9 309.6 327.8 311.6 327.7 313.5 327.5 315.5 327.4 317.4 327.2 319.4 327.2 321.3 327.1 323.3 327.1 325.2 327.0 327.2 326.8 329.1 326.8 331.1 326.8 333.0 326.8 335.0 326.8 336.9 326.5 338.9 326.5 340.9 326.3 342.8 326.1 344.8 326.1 346.7 326.1 348.7 326.2 350.6 326.1 352.6 325.9 354.5 325.8 356.5 325.5 358.4 325.2 360.4 324.9 362.3 324.7 364.3 324.4 366.2 324.3 368.2 324.1 370.1 323.6 372.1 323.6 374.1 324.2 376.0 327.0 378.0 327.9 379.9 328.5 381.9 329.1 383.8 329.7 385.8 330.2 387.7 330.4 389.7 330.6 391.6 331.0 393.6 331.3 395.5 331.6 397.5 332.0 399.4 332.3 401.4 332.4 403.4 332.7 405.3 332.8 407.3 332.9 409.2 333.1 411.2 333.1 413.1 333.3 415.1 333.5 417.0 333.5 419.0 333.7 420.9 333.8 422.9 334.1 424.8 334.3 426.8 334.6 428.7 334.7 430.7 334.8 432.6 335.0 434.6 335.1 436.6 335.3 438.5 335.4 440.5 335.5 442.4 335.5 444.4 335.6 446.3 336.0 448.3 336.2 450.2 336.4 452.2 336.4 454.1 336.6 456.1 336.6 458.0 336.7 460.0 336.9 461.9 337.1 463.9 337.2 465.8 337.5 467.8 337.2M272.5 337.2 274.5 335.4 276.4 333.3 278.4 332.6 280.3 332.0 282.3 331.4 284.2 330.8 286.2 330.3 288.1 329.8 290.1 329.3 292.0 329.2 294.0 328.8 295.9 328.6 297.9 328.5 299.8 328.1 301.8 328.1 303.7 327.9 305.7 327.8 307.7 327.4 309.6 327.4 311.6 327.2 313.5 327.0 315.5 326.8 317.4 326.7 319.4 326.6 321.3 326.7 323.3 326.7 325.2 326.8 327.2 326.6 329.1 326.3 331.1 326.4 333.0 326.2 335.0 326.1 336.9 326.2 338.9 326.2 340.9 326.0 342.8 325.9 344.8 326.0 346.7 325.8 348.7 325.7 350.6 325.6 352.6 325.6 354.5 325.4 356.5 325.0 358.4 325.0 360.4 324.8 362.3 324.6 364.3 324.3 366.2 324.2 368.2 323.7 370.1 323.5 372.1 323.3 374.1 323.9 376.0 326.4 378.0 327.3 379.9 328.2 381.9 328.6 383.8 329.0 385.8 329.5 387.7 329.9 389.7 330.3 391.6 330.5 393.6 330.7 395.5 331.1 397.5 331.2 399.4 331.3 401.4 331.9 403.4 331.9 405.3 332.0 407.3 332.0 409.2 331.9 411.2 332.1 413.1 332.3 415.1 332.4 417.0 332.5 419.0 332.6 420.9 333.1 422.9 333.2 424.8 333.0 426.8 333.1 428.7 333.1 430.7 333.2 432.6 333.4 434.6 333.4 436.6 333.4 438.5 333.6 440.5 333.8 442.4 333.8 444.4 334.0 446.3 334.3 448.3 334.3 450.2 334.2 452.2 334.4 454.1 334.3 456.1 334.3 458.0 334.4 460.0 334.6 461.9 334.6 463.9 334.8 465.8 335.0 467.8 335.2M272.5 337.4 274.5 335.6 276.4 333.3 278.4 332.2 280.3 331.6 282.3 330.9 284.2 330.2 286.2 329.7 288.1 329.4 290.1 328.7 292.0 328.2 294.0 327.8 295.9 327.4 297.9 327.0 299.8 326.7 301.8 326.4 303.7 326.2 305.7 326.0 307.7 325.9 309.6 325.7 311.6 325.6 313.5 325.4 315.5 325.3 317.4 325.1 319.4 325.1 321.3 325.0 323.3 324.7 325.2 324.4 327.2 324.4 329.1 324.1 331.1 323.9 333.0 323.7 335.0 323.6 336.9 323.8 338.9 323.6 340.9 323.4 342.8 323.2 344.8 323.2 346.7 323.0 348.7 322.9 350.6 322.9 352.6 322.9 354.5 322.7 356.5 322.5 358.4 322.1 360.4 321.7 362.3 321.3 364.3 321.1 366.2 321.0 368.2 321.0 370.1 320.9 372.1 320.6 374.1 321.0 376.0 324.0 378.0 324.9 379.9 325.5 381.9 326.1 383.8 326.5 385.8 327.0 387.7 327.3 389.7 327.6 391.6 328.0 393.6 328.3 395.5 328.6 397.5 328.8 399.4 329.5 401.4 329.6 403.4 329.7 405.3 330.1 407.3 330.3 409.2 330.4 411.2 330.6 413.1 330.8 415.1 331.0 417.0 331.0 419.0 331.4 420.9 331.5 422.9 331.6 424.8 331.9 426.8 332.1 428.7 332.0 430.7 332.2 432.6 332.4 434.6 332.3 436.6 332.6 438.5 332.8 440.5 332.7 442.4 332.7 444.4 333.0 446.3 333.2 448.3 333.3 450.2 333.3 452.2 333.4 454.1 333.6 456.1 333.7 458.0 334.1 460.0 334.3 461.9 334.3 463.9 334.3 465.8 334.4 467.8 334.8M272.5 337.2 274.5 335.3 276.4 333.3 278.4 332.1 280.3 331.2 282.3 330.4 284.2 329.8 286.2 329.1 288.1 328.6 290.1 328.1 292.0 328.0 294.0 327.6 295.9 327.3 297.9 326.9 299.8 326.6 301.8 326.3 303.7 326.0 305.7 326.0 307.7 326.0 309.6 325.8 311.6 325.7 313.5 325.5 315.5 325.5 317.4 325.5 319.4 325.2 321.3 325.1 323.3 325.1 325.2 324.9 327.2 324.8 329.1 324.8 331.1 324.8 333.0 324.6 335.0 324.5 336.9 324.5 338.9 324.4 340.9 324.7 342.8 324.5 344.8 324.4 346.7 324.3 348.7 324.4 350.6 324.3 352.6 324.1 354.5 324.0 356.5 323.8 358.4 323.8 360.4 323.5 362.3 323.2 364.3 322.9 366.2 322.5 368.2 322.2 370.1 321.9 372.1 322.0 374.1 322.4 376.0 325.3 378.0 326.0 379.9 326.7 381.9 327.3 383.8 327.9 385.8 328.2 387.7 328.6 389.7 328.8 391.6 329.0 393.6 329.3 395.5 329.5 397.5 329.9 399.4 329.8 401.4 330.0 403.4 330.3 405.3 330.4 407.3 330.7 409.2 330.8 411.2 330.9 413.1 331.0 415.1 331.3 417.0 331.4 419.0 331.5 420.9 331.6 422.9 331.7 424.8 332.0 426.8 332.2 428.7 332.5 430.7 332.6 432.6 332.9 434.6 333.2 436.6 333.5 438.5 333.7 440.5 333.9 442.4 334.1 444.4 334.2 446.3 334.5 448.3 334.5 450.2 334.7 452.2 335.0 454.1 335.1 456.1 335.3 458.0 335.6 460.0 335.7 461.9 336.0 463.9 336.1 465.8 336.4 467.8 336.7M272.5 337.2 274.5 335.4 276.4 333.2 278.4 332.4 280.3 331.6 282.3 331.0 284.2 330.3 286.2 329.6 288.1 329.1 290.1 328.8 292.0 328.4 294.0 328.1 295.9 327.7 297.9 327.5 299.8 327.3 301.8 327.1 303.7 327.0 305.7 326.7 307.7 326.6 309.6 326.2 311.6 325.9 313.5 325.8 315.5 325.6 317.4 325.5 319.4 325.3 321.3 325.2 323.3 324.9 325.2 324.8 327.2 324.6 329.1 324.4 331.1 324.2 333.0 324.2 335.0 324.2 336.9 324.1 338.9 324.0 340.9 324.1 342.8 323.8 344.8 323.6 346.7 323.5 348.7 323.3 350.6 323.3 352.6 323.4 354.5 323.2 356.5 323.1 358.4 322.8 360.4 322.6 362.3 322.6 364.3 322.4 366.2 322.1 368.2 321.7 370.1 321.5 372.1 321.4 374.1 321.9 376.0 324.7 378.0 325.2 379.9 325.7 381.9 326.3 383.8 326.8 385.8 327.0 387.7 327.3 389.7 327.5 391.6 327.7 393.6 328.1 395.5 328.5 397.5 329.0 399.4 329.3 401.4 329.4 403.4 329.7 405.3 329.7 407.3 330.0 409.2 330.2 411.2 330.3 413.1 330.2 415.1 330.4 417.0 330.6 419.0 330.6 420.9 331.1 422.9 331.1 424.8 331.3 426.8 331.5 428.7 331.5 430.7 331.7 432.6 332.0 434.6 332.0 436.6 332.2 438.5 332.2 440.5 332.7 442.4 332.8 444.4 333.0 446.3 333.1 448.3 333.3 450.2 333.3 452.2 333.6 454.1 333.8 456.1 334.0 458.0 334.1 460.0 334.3 461.9 334.5 463.9 334.6 465.8 335.0 467.8 335.2M272.5 338.0 274.5 336.5 276.4 335.4 278.4 334.5 280.3 333.5 282.3 332.6 284.2 332.0 286.2 331.5 288.1 331.2 290.1 330.9 292.0 330.3 294.0 330.2 295.9 329.9 297.9 329.5 299.8 329.2 301.8 328.9 303.7 328.6 305.7 328.2 307.7 328.2 309.6 328.0 311.6 327.8 313.5 327.9 315.5 327.8 317.4 327.7 319.4 327.3 321.3 327.3 323.3 327.0 325.2 326.9 327.2 326.6 329.1 326.5 331.1 326.2 333.0 325.7 335.0 325.4 336.9 325.1 338.9 325.2 340.9 325.0 342.8 324.8 344.8 324.7 346.7 324.5 348.7 324.5 350.6 324.4 352.6 324.4 354.5 324.4 356.5 324.1 358.4 323.9 360.4 323.6 362.3 323.1 364.3 322.8 366.2 322.6 368.2 322.4 370.1 322.3 372.1 322.2 374.1 322.5 376.0 325.1 378.0 326.1 379.9 327.0 381.9 327.4 383.8 328.1 385.8 328.4 387.7 329.0 389.7 329.3 391.6 329.6 393.6 329.9 395.5 330.3 397.5 330.5 399.4 330.7 401.4 330.9 403.4 330.8 405.3 331.0 407.3 331.2 409.2 331.2 411.2 330.9 413.1 331.1 415.1 331.3 417.0 331.5 419.0 331.6 420.9 331.7 422.9 331.9 424.8 332.1 426.8 332.4 428.7 332.5 430.7 332.7 432.6 332.8 434.6 333.0 436.6 333.2 438.5 333.5 440.5 333.8 442.4 334.0 444.4 334.1 446.3 334.4 448.3 334.7 450.2 334.7 452.2 334.8 454.1 335.1 456.1 335.2 458.0 335.4 460.0 335.6 461.9 335.8 463.9 336.0 465.8 336.2 467.8 336.6M272.5 337.9 274.5 336.5 276.4 335.5 278.4 334.4 280.3 333.5 282.3 332.8 284.2 332.1 286.2 331.4 288.1 330.9 290.1 330.7 292.0 330.2 294.0 329.6 295.9 329.2 297.9 328.8 299.8 328.2 301.8 328.0 303.7 327.9 305.7 327.7 307.7 327.4 309.6 326.9 311.6 326.5 313.5 326.3 315.5 325.9 317.4 325.7 319.4 325.5 321.3 325.4 323.3 325.4 325.2 325.2 327.2 325.2 329.1 325.3 331.1 325.3 333.0 325.0 335.0 324.9 336.9 324.9 338.9 324.8 340.9 324.4 342.8 324.3 344.8 323.8 346.7 323.6 348.7 323.7 350.6 323.5 352.6 323.0 354.5 322.7 356.5 322.6 358.4 322.3 360.4 321.9 362.3 321.8 364.3 321.6 366.2 321.3 368.2 320.9 370.1 320.8 372.1 320.8 374.1 321.2 376.0 324.0 378.0 324.9 379.9 325.6 381.9 326.0 383.8 326.5 385.8 326.6 387.7 327.0 389.7 327.1 391.6 327.3 393.6 327.5 395.5 327.7 397.5 327.8 399.4 328.1 401.4 328.4 403.4 328.6 405.3 328.7 407.3 329.1 409.2 329.1 411.2 329.5 413.1 329.6 415.1 329.8 417.0 330.2 419.0 330.4 420.9 330.7 422.9 330.8 424.8 331.1 426.8 331.2 428.7 331.3 430.7 331.3 432.6 331.6 434.6 331.6 436.6 332.0 438.5 332.4 440.5 332.6 442.4 333.0 444.4 333.4 446.3 333.6 448.3 334.0 450.2 334.3 452.2 334.3 454.1 334.4 456.1 334.6 458.0 334.7 460.0 334.8 461.9 334.9 463.9 335.1 465.8 335.4 467.8 335.8M272.5 336.9 274.5 334.8 276.4 331.8 278.4 330.8 280.3 329.9 282.3 329.4 284.2 328.6 286.2 328.1 288.1 327.8 290.1 327.2 292.0 326.6 294.0 326.2 295.9 325.9 297.9 325.6 299.8 325.4 301.8 325.2 303.7 325.0 305.7 324.9 307.7 324.7 309.6 324.5 311.6 324.3 313.5 324.1 315.5 324.1 317.4 323.8 319.4 323.8 321.3 323.8 323.3 323.6 325.2 323.7 327.2 323.6 329.1 323.8 331.1 323.7 333.0 323.5 335.0 323.3 336.9 323.3 338.9 323.4 340.9 323.1 342.8 322.9 344.8 322.6 346.7 322.7 348.7 322.4 350.6 322.2 352.6 322.2 354.5 321.9 356.5 321.5 358.4 321.2 360.4 321.1 362.3 321.1 364.3 320.7 366.2 320.5 368.2 320.4 370.1 320.3 372.1 320.3 374.1 321.1 376.0 323.9 378.0 324.8 379.9 325.7 381.9 326.1 383.8 326.6 385.8 327.0 387.7 327.2 389.7 327.4 391.6 327.5 393.6 328.0 395.5 328.6 397.5 329.0 399.4 329.4 401.4 329.5 403.4 329.9 405.3 330.3 407.3 330.5 409.2 330.8 411.2 330.6 413.1 330.9 415.1 330.9 417.0 330.7 419.0 330.9 420.9 331.1 422.9 331.3 424.8 331.6 426.8 331.8 428.7 332.2 430.7 332.3 432.6 332.3 434.6 332.6 436.6 332.7 438.5 332.9 440.5 333.2 442.4 333.4 444.4 333.6 446.3 333.6 448.3 333.5 450.2 333.5 452.2 333.6 454.1 334.0 456.1 334.2 458.0 334.4 460.0 334.3 461.9 334.6 463.9 334.6 465.8 335.1 467.8 335.3M272.5 337.9 274.5 336.5 276.4 335.4 278.4 334.6 280.3 334.0 282.3 333.1 284.2 332.1 286.2 331.4 288.1 330.9 290.1 330.4 292.0 330.2 294.0 329.9 295.9 329.6 297.9 329.1 299.8 328.8 301.8 328.4 303.7 328.3 305.7 328.1 307.7 327.9 309.6 327.6 311.6 327.3 313.5 327.1 315.5 327.2 317.4 326.8 319.4 326.7 321.3 326.5 323.3 326.0 325.2 325.7 327.2 325.5 329.1 325.3 331.1 325.3 333.0 325.3 335.0 325.0 336.9 325.0 338.9 324.9 340.9 325.0 342.8 325.0 344.8 324.9 346.7 324.9 348.7 324.5 350.6 324.3 352.6 324.1 354.5 323.8 356.5 323.6 358.4 323.3 360.4 323.3 362.3 323.1 364.3 322.7 366.2 322.6 368.2 322.3 370.1 322.2 372.1 322.0 374.1 322.4 376.0 325.3 378.0 326.3 379.9 327.2 381.9 327.7 383.8 328.1 385.8 328.7 387.7 328.9 389.7 329.1 391.6 329.4 393.6 329.6 395.5 329.9 397.5 330.2 399.4 330.5 401.4 330.7 403.4 330.9 405.3 331.3 407.3 331.7 409.2 331.9 411.2 332.2 413.1 332.5 415.1 332.9 417.0 333.1 419.0 333.4 420.9 333.6 422.9 334.0 424.8 334.1 426.8 334.3 428.7 334.3 430.7 334.6 432.6 334.7 434.6 334.9 436.6 335.1 438.5 335.3 440.5 335.6 442.4 335.8 444.4 336.0 446.3 336.2 448.3 336.4 450.2 336.5 452.2 336.8 454.1 337.0 456.1 337.5 458.0 337.8 460.0 337.7 461.9 337.8 463.9 338.0 465.8 337.9 467.8 338.2M272.5 337.8 274.5 336.4 276.4 335.6 278.4 334.9 280.3 334.2 282.3 333.5 284.2 332.9 286.2 332.2 288.1 331.7 290.1 331.4 292.0 330.9 294.0 330.7 295.9 330.4 297.9 330.2 299.8 330.0 301.8 329.8 303.7 329.8 305.7 329.4 307.7 329.3 309.6 329.0 311.6 328.6 313.5 328.4 315.5 328.2 317.4 328.1 319.4 328.0 321.3 327.9 323.3 328.1 325.2 328.1 327.2 327.9 329.1 328.0 331.1 327.9 333.0 327.7 335.0 327.6 336.9 327.7 338.9 327.5 340.9 327.1 342.8 326.9 344.8 327.0 346.7 326.6 348.7 326.6 350.6 326.3 352.6 326.1 354.5 325.8 356.5 325.4 358.4 325.4 360.4 324.9 362.3 324.7 364.3 324.4 366.2 324.2 368.2 324.0 370.1 324.0 372.1 324.0 374.1 324.4 376.0 327.3 378.0 328.1 379.9 328.7 381.9 329.4 383.8 329.8 385.8 330.1 387.7 330.5 389.7 330.7 391.6 330.9 393.6 331.2 395.5 331.4 397.5 331.7 399.4 332.0 401.4 332.2 403.4 332.5 405.3 332.7 407.3 332.7 409.2 333.1 411.2 333.2 413.1 333.3 415.1 333.4 417.0 333.5 419.0 333.6 420.9 333.7 422.9 334.0 424.8 334.2 426.8 334.3 428.7 334.5 430.7 334.6 432.6 334.9 434.6 334.8 436.6 334.9 438.5 335.0 440.5 335.0 442.4 335.2 444.4 335.4 446.3 335.7 448.3 335.7 450.2 335.7 452.2 335.7 454.1 336.1 456.1 336.1 458.0 336.0 460.0 336.1 461.9 336.5 463.9 336.9 465.8 337.1 467.8 337.5M272.5 338.2 274.5 337.0 276.4 336.3 278.4 335.1 280.3 334.3 282.3 333.6 284.2 332.7 286.2 331.9 288.1 331.6 290.1 331.0 292.0 330.6 294.0 330.3 295.9 329.8 297.9 329.5 299.8 329.3 301.8 329.0 303.7 328.5 305.7 328.3 307.7 328.0 309.6 327.9 311.6 327.6 313.5 327.2 315.5 326.8 317.4 326.6 319.4 326.4 321.3 326.5 323.3 326.1 325.2 325.9 327.2 325.6 329.1 325.4 331.1 325.2 333.0 325.0 335.0 325.1 336.9 324.8 338.9 324.6 340.9 324.5 342.8 324.3 344.8 324.1 346.7 324.1 348.7 324.0 350.6 324.0 352.6 323.9 354.5 323.6 356.5 323.2 358.4 322.9 360.4 322.5 362.3 322.2 364.3 322.0 366.2 321.7 368.2 321.5 370.1 321.3 372.1 321.1 374.1 321.8 376.0 324.4 378.0 325.3 379.9 326.0 381.9 326.4 383.8 327.0 385.8 327.6 387.7 327.9 389.7 328.2 391.6 328.6 393.6 329.0 395.5 329.0 397.5 329.2 399.4 329.6 401.4 329.8 403.4 329.9 405.3 330.1 407.3 330.4 409.2 330.2 411.2 330.2 413.1 330.5 415.1 330.5 417.0 330.6 419.0 330.8 420.9 331.0 422.9 331.3 424.8 331.4 426.8 331.3 428.7 331.4 430.7 331.6 432.6 331.6 434.6 331.8 436.6 332.0 438.5 332.3 440.5 332.5 442.4 332.6 444.4 332.6 446.3 332.6 448.3 332.7 450.2 333.1 452.2 333.1 454.1 333.5 456.1 333.6 458.0 333.7 460.0 334.0 461.9 334.2 463.9 334.5 465.8 334.6 467.8 334.7M272.5 336.7 274.5 334.5 276.4 331.4 278.4 330.3 280.3 329.6 282.3 328.8 284.2 328.3 286.2 327.7 288.1 327.4 290.1 327.1 292.0 326.6 294.0 326.2 295.9 325.8 297.9 325.5 299.8 325.3 301.8 325.0 303.7 324.6 305.7 324.4 307.7 324.5 309.6 324.3 311.6 324.1 313.5 324.1 315.5 324.1 317.4 323.9 319.4 323.6 321.3 323.2 323.3 323.1 325.2 322.9 327.2 322.8 329.1 322.8 331.1 322.7 333.0 322.5 335.0 322.5 336.9 322.4 338.9 322.3 340.9 322.3 342.8 322.4 344.8 322.3 346.7 322.0 348.7 321.8 350.6 321.8 352.6 321.5 354.5 321.4 356.5 321.1 358.4 320.9 360.4 320.8 362.3 320.6 364.3 320.3 366.2 320.1 368.2 319.9 370.1 319.7 372.1 319.7 374.1 320.3 376.0 323.2 378.0 324.4 379.9 325.0 381.9 325.6 383.8 326.1 385.8 326.6 387.7 326.8 389.7 327.2 391.6 327.6 393.6 327.7 395.5 328.0 397.5 328.5 399.4 328.6 401.4 328.9 403.4 329.2 405.3 329.4 407.3 329.4 409.2 329.5 411.2 329.8 413.1 329.9 415.1 329.8 417.0 329.8 419.0 329.8 420.9 330.0 422.9 330.2 424.8 330.1 426.8 330.3 428.7 330.4 430.7 330.4 432.6 330.5 434.6 330.7 436.6 330.7 438.5 330.9 440.5 331.2 442.4 331.3 444.4 331.5 446.3 331.7 448.3 331.9 450.2 332.2 452.2 332.3 454.1 332.3 456.1 332.8 458.0 333.0 460.0 333.3 461.9 333.6 463.9 333.7 465.8 333.7 467.8 333.9M272.5 337.4 274.5 335.6 276.4 333.6 278.4 332.8 280.3 331.8 282.3 331.2 284.2 330.7 286.2 330.1 288.1 329.7 290.1 329.2 292.0 328.8 294.0 328.4 295.9 328.3 297.9 328.0 299.8 327.7 301.8 327.5 303.7 327.3 305.7 327.1 307.7 326.9 309.6 326.7 311.6 326.4 313.5 326.3 315.5 326.1 317.4 325.8 319.4 325.5 321.3 325.3 323.3 324.9 325.2 325.0 327.2 324.8 329.1 324.6 331.1 324.5 333.0 324.4 335.0 324.3 336.9 324.2 338.9 324.1 340.9 324.1 342.8 324.0 344.8 323.9 346.7 323.7 348.7 323.4 350.6 323.3 352.6 323.0 354.5 322.6 356.5 322.5 358.4 322.2 360.4 322.0 362.3 321.7 364.3 321.4 366.2 320.9 368.2 320.8 370.1 320.5 372.1 320.4 374.1 320.8 376.0 323.8 378.0 324.5 379.9 325.0 381.9 325.2 383.8 325.5 385.8 325.9 387.7 326.3 389.7 326.5 391.6 326.7 393.6 327.2 395.5 327.6 397.5 327.7 399.4 328.0 401.4 328.4 403.4 328.7 405.3 329.0 407.3 329.1 409.2 329.1 411.2 329.2 413.1 329.3 415.1 329.4 417.0 329.6 419.0 329.5 420.9 329.8 422.9 329.9 424.8 329.9 426.8 330.0 428.7 330.5 430.7 330.6 432.6 330.8 434.6 331.0 436.6 331.3 438.5 331.5 440.5 331.6 442.4 331.8 444.4 331.9 446.3 332.2 448.3 332.1 450.2 332.5 452.2 332.7 454.1 333.0 456.1 333.3 458.0 333.4 460.0 333.4 461.9 333.7 463.9 333.8 465.8 334.0 467.8 334.1M272.5 338.7 274.5 337.9 276.4 338.3 278.4 337.6 280.3 336.6 282.3 335.9 284.2 335.4 286.2 334.8 288.1 334.4 290.1 334.2 292.0 333.8 294.0 333.4 295.9 333.1 297.9 332.8 299.8 332.8 301.8 332.6 303.7 332.6 305.7 332.4 307.7 332.2 309.6 331.6 311.6 331.4 313.5 331.2 315.5 331.1 317.4 331.0 319.4 330.7 321.3 330.7 323.3 330.6 325.2 330.4 327.2 330.4 329.1 329.9 331.1 329.9 333.0 329.7 335.0 329.4 336.9 329.3 338.9 329.6 340.9 329.5 342.8 329.3 344.8 329.2 346.7 328.9 348.7 328.7 350.6 328.3 352.6 327.9 354.5 327.7 356.5 327.3 358.4 327.1 360.4 326.8 362.3 326.4 364.3 326.3 366.2 326.0 368.2 326.0 370.1 326.0 372.1 326.1 374.1 326.5 376.0 329.5 378.0 330.2 379.9 331.0 381.9 331.6 383.8 332.2 385.8 332.5 387.7 332.9 389.7 333.3 391.6 333.5 393.6 333.8 395.5 334.2 397.5 334.6 399.4 334.8 401.4 334.8 403.4 334.8 405.3 335.0 407.3 335.3 409.2 335.3 411.2 335.4 413.1 335.6 415.1 335.8 417.0 336.1 419.0 336.4 420.9 336.5 422.9 336.8 424.8 336.9 426.8 337.1 428.7 337.5 430.7 337.6 432.6 337.6 434.6 337.9 436.6 338.0 438.5 338.3 440.5 338.4 442.4 338.2 444.4 338.2 446.3 338.5 448.3 338.7 450.2 339.0 452.2 339.1 454.1 339.3 456.1 339.6 458.0 339.7 460.0 340.2 461.9 340.4 463.9 340.4 465.8 340.7 467.8 340.8M272.5 338.3 274.5 337.1 276.4 337.0 278.4 336.4 280.3 335.6 282.3 335.1 284.2 334.4 286.2 333.8 288.1 333.2 290.1 332.6 292.0 332.1 294.0 331.9 295.9 331.4 297.9 330.9 299.8 330.5 301.8 330.5 303.7 330.3 305.7 330.0 307.7 329.9 309.6 329.8 311.6 329.5 313.5 329.3 315.5 329.2 317.4 329.0 319.4 329.0 321.3 328.6 323.3 328.4 325.2 328.3 327.2 328.4 329.1 328.3 331.1 328.1 333.0 328.0 335.0 327.9 336.9 327.8 338.9 327.7 340.9 327.8 342.8 327.5 344.8 327.2 346.7 327.0 348.7 327.1 350.6 326.9 352.6 326.5 354.5 326.3 356.5 326.2 358.4 326.2 360.4 326.1 362.3 325.8 364.3 325.8 366.2 325.7 368.2 325.4 370.1 325.4 372.1 325.3 374.1 325.8 376.0 328.5 378.0 329.5 379.9 330.2 381.9 330.8 383.8 331.1 385.8 331.5 387.7 331.6 389.7 332.0 391.6 332.3 393.6 332.4 395.5 332.6 397.5 332.7 399.4 333.0 401.4 333.2 403.4 333.5 405.3 333.6 407.3 333.6 409.2 333.6 411.2 333.7 413.1 334.0 415.1 334.0 417.0 334.0 419.0 334.2 420.9 334.4 422.9 334.8 424.8 335.1 426.8 335.1 428.7 335.0 430.7 335.1 432.6 335.4 434.6 335.6 436.6 335.7 438.5 336.0 440.5 336.1 442.4 336.2 444.4 336.2 446.3 336.4 448.3 336.7 450.2 336.8 452.2 337.0 454.1 337.2 456.1 337.4 458.0 337.5 460.0 337.8 461.9 337.8 463.9 338.0 465.8 338.2 467.8 338.1M272.5 337.7 274.5 336.2 276.4 334.8 278.4 333.8 280.3 333.1 282.3 332.3 284.2 331.8 286.2 331.2 288.1 330.7 290.1 330.3 292.0 330.1 294.0 329.6 295.9 329.4 297.9 329.4 299.8 329.3 301.8 329.1 303.7 328.6 305.7 328.4 307.7 328.1 309.6 327.7 311.6 327.5 313.5 327.1 315.5 327.2 317.4 327.1 319.4 326.7 321.3 326.6 323.3 326.3 325.2 326.0 327.2 325.8 329.1 325.9 331.1 325.9 333.0 325.7 335.0 325.3 336.9 325.1 338.9 325.3 340.9 325.2 342.8 325.1 344.8 325.0 346.7 324.8 348.7 325.1 350.6 324.6 352.6 324.3 354.5 324.0 356.5 323.7 358.4 323.6 360.4 323.3 362.3 322.8 364.3 322.5 366.2 322.1 368.2 321.9 370.1 321.7 372.1 321.6 374.1 322.0 376.0 324.6 378.0 325.4 379.9 326.2 381.9 326.7 383.8 327.2 385.8 327.7 387.7 327.9 389.7 328.3 391.6 328.3 393.6 328.5 395.5 328.7 397.5 329.1 399.4 329.3 401.4 329.4 403.4 329.8 405.3 330.0 407.3 330.0 409.2 330.6 411.2 330.7 413.1 331.0 415.1 331.0 417.0 331.3 419.0 331.7 420.9 331.9 422.9 331.8 424.8 332.0 426.8 332.1 428.7 332.3 430.7 332.6 432.6 332.7 434.6 332.9 436.6 333.0 438.5 333.2 440.5 333.4 442.4 333.8 444.4 333.6 446.3 333.8 448.3 334.0 450.2 334.1 452.2 334.0 454.1 334.1 456.1 334.2 458.0 334.5 460.0 334.7 461.9 334.8 463.9 335.0 465.8 335.1 467.8 335.4M272.5 336.7 274.5 334.5 276.4 331.4 278.4 330.3 280.3 329.8 282.3 329.1 284.2 328.5 286.2 328.1 288.1 327.8 290.1 327.2 292.0 327.0 294.0 326.8 295.9 326.7 297.9 326.6 299.8 326.3 301.8 325.9 303.7 325.9 305.7 325.6 307.7 325.3 309.6 325.4 311.6 325.2 313.5 325.2 315.5 325.3 317.4 325.3 319.4 325.3 321.3 325.3 323.3 325.1 325.2 324.9 327.2 325.0 329.1 324.6 331.1 324.7 333.0 324.8 335.0 324.6 336.9 324.5 338.9 324.3 340.9 324.1 342.8 323.8 344.8 323.8 346.7 323.8 348.7 323.7 350.6 323.6 352.6 323.5 354.5 323.1 356.5 322.8 358.4 322.5 360.4 322.3 362.3 322.2 364.3 322.0 366.2 321.7 368.2 321.8 370.1 321.8 372.1 321.6 374.1 322.1 376.0 324.9 378.0 325.8 379.9 326.6 381.9 327.1 383.8 327.6 385.8 327.9 387.7 328.2 389.7 328.5 391.6 328.7 393.6 329.1 395.5 329.5 397.5 329.8 399.4 330.0 401.4 330.0 403.4 330.3 405.3 330.5 407.3 330.5 409.2 330.5 411.2 330.6 413.1 330.6 415.1 330.7 417.0 330.8 419.0 330.9 420.9 330.9 422.9 331.1 424.8 331.2 426.8 331.4 428.7 331.7 430.7 331.8 432.6 332.0 434.6 332.0 436.6 332.2 438.5 332.2 440.5 332.4 442.4 332.7 444.4 333.0 446.3 333.1 448.3 333.3 450.2 333.6 452.2 333.5 454.1 333.6 456.1 333.6 458.0 333.7 460.0 333.8 461.9 333.8 463.9 334.2 465.8 334.4 467.8 334.3M272.5 338.1 274.5 336.9 276.4 336.1 278.4 334.8 280.3 334.2 282.3 333.7 284.2 332.8 286.2 332.1 288.1 331.6 290.1 331.0 292.0 330.7 294.0 330.5 295.9 330.2 297.9 329.9 299.8 329.6 301.8 329.5 303.7 329.3 305.7 329.1 307.7 328.8 309.6 328.7 311.6 328.6 313.5 328.4 315.5 328.2 317.4 327.8 319.4 327.4 321.3 327.4 323.3 327.5 325.2 327.6 327.2 327.4 329.1 327.4 331.1 327.1 333.0 327.1 335.0 327.1 336.9 327.0 338.9 326.7 340.9 326.7 342.8 326.5 344.8 326.4 346.7 326.3 348.7 326.2 350.6 326.1 352.6 325.9 354.5 325.7 356.5 325.6 358.4 325.4 360.4 325.2 362.3 324.8 364.3 324.6 366.2 324.2 368.2 324.2 370.1 324.3 372.1 324.3 374.1 324.8 376.0 327.5 378.0 328.3 379.9 329.0 381.9 329.5 383.8 330.1 385.8 330.2 387.7 330.4 389.7 330.8 391.6 331.1 393.6 331.4 395.5 331.6 397.5 331.7 399.4 331.8 401.4 332.1 403.4 332.2 405.3 332.4 407.3 332.6 409.2 332.8 411.2 332.9 413.1 333.1 415.1 333.2 417.0 333.4 419.0 333.3 420.9 333.4 422.9 333.5 424.8 333.5 426.8 333.7 428.7 333.7 430.7 334.2 432.6 334.3 434.6 334.5 436.6 334.9 438.5 334.9 440.5 335.0 442.4 335.2 444.4 335.2 446.3 335.1 448.3 335.3 450.2 335.4 452.2 335.5 454.1 335.8 456.1 336.1 458.0 336.2 460.0 336.6 461.9 336.9 463.9 337.0 465.8 337.1 467.8 337.4M272.5 337.7 274.5 336.0 276.4 334.4 278.4 333.4 280.3 332.7 282.3 332.0 284.2 331.4 286.2 330.7 288.1 330.3 290.1 330.0 292.0 329.7 294.0 329.5 295.9 329.3 297.9 328.7 299.8 328.6 301.8 328.2 303.7 328.1 305.7 327.9 307.7 327.7 309.6 327.5 311.6 327.3 313.5 327.1 315.5 326.7 317.4 326.3 319.4 326.3 321.3 326.3 323.3 326.4 325.2 326.3 327.2 326.3 329.1 326.2 331.1 326.4 333.0 326.1 335.0 325.8 336.9 325.7 338.9 325.5 340.9 325.6 342.8 325.4 344.8 325.3 346.7 325.2 348.7 324.9 350.6 324.9 352.6 324.8 354.5 324.5 356.5 324.3 358.4 323.9 360.4 323.7 362.3 323.6 364.3 323.4 366.2 323.3 368.2 323.2 370.1 323.1 372.1 322.9 374.1 323.3 376.0 326.3 378.0 327.2 379.9 328.0 381.9 328.4 383.8 328.7 385.8 329.1 387.7 329.5 389.7 329.9 391.6 330.3 393.6 330.8 395.5 331.0 397.5 331.3 399.4 331.6 401.4 331.8 403.4 332.0 405.3 331.8 407.3 331.7 409.2 331.8 411.2 331.9 413.1 332.1 415.1 332.0 417.0 332.2 419.0 332.6 420.9 332.8 422.9 332.9 424.8 333.0 426.8 333.4 428.7 333.3 430.7 333.4 432.6 333.5 434.6 333.6 436.6 333.7 438.5 333.7 440.5 333.8 442.4 333.8 444.4 334.0 446.3 334.3 448.3 334.5 450.2 334.6 452.2 334.6 454.1 334.9 456.1 335.2 458.0 335.4 460.0 335.5 461.9 335.7 463.9 335.7 465.8 335.9 467.8 336.1M272.5 338.1 274.5 336.9 276.4 336.2 278.4 335.4 280.3 334.5 282.3 333.8 284.2 333.2 286.2 332.6 288.1 332.0 290.1 331.4 292.0 331.0 294.0 330.7 295.9 330.3 297.9 330.1 299.8 329.9 301.8 329.7 303.7 329.6 305.7 329.1 307.7 328.9 309.6 328.8 311.6 328.4 313.5 328.2 315.5 328.0 317.4 328.0 319.4 328.1 321.3 328.2 323.3 328.0 325.2 328.1 327.2 328.0 329.1 327.7 331.1 327.5 333.0 327.4 335.0 327.2 336.9 327.2 338.9 326.9 340.9 326.7 342.8 326.5 344.8 326.4 346.7 326.1 348.7 325.8 350.6 325.7 352.6 325.4 354.5 325.2 356.5 325.0 358.4 324.8 360.4 324.6 362.3 324.5 364.3 324.1 366.2 324.0 368.2 323.5 370.1 323.5 372.1 323.7 374.1 324.4 376.0 327.1 378.0 328.2 379.9 328.7 381.9 329.3 383.8 329.8 385.8 330.2 387.7 330.4 389.7 330.6 391.6 330.7 393.6 331.0 395.5 331.2 397.5 331.3 399.4 331.5 401.4 331.5 403.4 331.7 405.3 331.8 407.3 331.8 409.2 332.1 411.2 332.4 413.1 332.7 415.1 333.1 417.0 333.3 419.0 333.2 420.9 333.3 422.9 333.5 424.8 333.5 426.8 333.5 428.7 333.4 430.7 333.3 432.6 333.5 434.6 333.6 436.6 333.8 438.5 333.8 440.5 334.3 442.4 334.5 444.4 334.5 446.3 334.8 448.3 335.0 450.2 335.2 452.2 335.4 454.1 335.7 456.1 335.9 458.0 336.1 460.0 336.0 461.9 336.0 463.9 336.1 465.8 336.3 467.8 336.7M272.5 337.1 274.5 335.2 276.4 332.7 278.4 331.8 280.3 330.9 282.3 330.1 284.2 329.7 286.2 329.1 288.1 328.5 290.1 327.8 292.0 327.5 294.0 327.3 295.9 326.9 297.9 326.6 299.8 326.4 301.8 326.1 303.7 325.7 305.7 325.7 307.7 325.7 309.6 325.3 311.6 325.1 313.5 324.7 315.5 324.6 317.4 324.7 319.4 324.6 321.3 324.6 323.3 324.3 325.2 324.3 327.2 324.4 329.1 324.5 331.1 324.4 333.0 324.0 335.0 323.9 336.9 323.6 338.9 323.8 340.9 323.7 342.8 323.6 344.8 323.3 346.7 323.2 348.7 323.4 350.6 323.4 352.6 323.2 354.5 322.9 356.5 322.7 358.4 322.4 360.4 322.2 362.3 321.9 364.3 321.6 366.2 321.4 368.2 321.2 370.1 321.0 372.1 320.9 374.1 321.3 376.0 324.6 378.0 325.5 379.9 326.1 381.9 326.5 383.8 327.1 385.8 327.4 387.7 327.8 389.7 328.0 391.6 328.4 393.6 328.7 395.5 329.1 397.5 329.3 399.4 329.5 401.4 329.7 403.4 329.9 405.3 329.8 407.3 330.1 409.2 330.1 411.2 330.3 413.1 330.4 415.1 330.4 417.0 330.7 419.0 330.8 420.9 330.9 422.9 331.1 424.8 331.2 426.8 331.2 428.7 331.4 430.7 331.5 432.6 331.6 434.6 331.7 436.6 331.8 438.5 331.8 440.5 332.2 442.4 332.3 444.4 332.3 446.3 332.4 448.3 332.5 450.2 332.5 452.2 332.4 454.1 332.6 456.1 332.7 458.0 333.3 460.0 333.3 461.9 333.3 463.9 333.5 465.8 333.7 467.8 333.7M272.5 338.5 274.5 337.4 276.4 337.2 278.4 336.4 280.3 335.5 282.3 334.8 284.2 334.1 286.2 333.3 288.1 332.9 290.1 332.2 292.0 332.0 294.0 331.7 295.9 331.4 297.9 331.2 299.8 331.0 301.8 330.6 303.7 330.4 305.7 330.1 307.7 329.9 309.6 329.7 311.6 329.5 313.5 329.4 315.5 329.2 317.4 328.9 319.4 328.8 321.3 328.4 323.3 328.1 325.2 328.2 327.2 328.3 329.1 328.5 331.1 328.6 333.0 328.5 335.0 328.5 336.9 328.7 338.9 328.7 340.9 328.5 342.8 328.5 344.8 328.4 346.7 328.1 348.7 328.1 350.6 328.1 352.6 328.1 354.5 327.7 356.5 327.4 358.4 327.1 360.4 326.9 362.3 326.6 364.3 326.3 366.2 326.2 368.2 325.6 370.1 325.4 372.1 325.3 374.1 325.7 376.0 328.4 378.0 329.1 379.9 329.9 381.9 330.3 383.8 330.9 385.8 331.2 387.7 331.3 389.7 331.5 391.6 331.5 393.6 331.8 395.5 332.2 397.5 332.4 399.4 332.8 401.4 333.0 403.4 333.0 405.3 333.2 407.3 333.4 409.2 333.6 411.2 333.7 413.1 333.8 415.1 333.8 417.0 334.1 419.0 334.5 420.9 334.9 422.9 335.0 424.8 335.2 426.8 335.2 428.7 335.4 430.7 335.6 432.6 335.5 434.6 335.8 436.6 336.0 438.5 336.1 440.5 336.1 442.4 336.2 444.4 336.3 446.3 336.4 448.3 336.7 450.2 336.6 452.2 336.8 454.1 336.8 456.1 337.1 458.0 337.3 460.0 337.5 461.9 337.3 463.9 337.3 465.8 337.3 467.8 337.7M272.5 337.1 274.5 335.1 276.4 332.9 278.4 331.9 280.3 331.1 282.3 330.6 284.2 330.0 286.2 329.4 288.1 329.1 290.1 328.7 292.0 328.2 294.0 327.9 295.9 327.5 297.9 327.2 299.8 326.9 301.8 326.6 303.7 326.3 305.7 326.0 307.7 325.7 309.6 325.5 311.6 325.4 313.5 325.3 315.5 325.4 317.4 325.2 319.4 325.2 321.3 325.0 323.3 325.1 325.2 324.9 327.2 324.8 329.1 324.9 331.1 324.6 333.0 324.5 335.0 324.5 336.9 324.4 338.9 324.6 340.9 324.5 342.8 324.5 344.8 324.5 346.7 324.2 348.7 323.9 350.6 323.4 352.6 323.3 354.5 323.1 356.5 323.0 358.4 322.7 360.4 322.4 362.3 322.3 364.3 321.7 366.2 321.5 368.2 321.2 370.1 321.2 372.1 321.1 374.1 321.6 376.0 324.5 378.0 325.2 379.9 325.9 381.9 326.6 383.8 327.2 385.8 327.6 387.7 327.9 389.7 328.2 391.6 328.4 393.6 328.5 395.5 328.6 397.5 328.9 399.4 329.2 401.4 329.2 403.4 329.3 405.3 329.6 407.3 329.8 409.2 329.8 411.2 330.0 413.1 330.1 415.1 330.4 417.0 330.6 419.0 330.9 420.9 331.1 422.9 331.3 424.8 331.5 426.8 331.8 428.7 331.9 430.7 332.1 432.6 332.2 434.6 332.3 436.6 332.1 438.5 332.4 440.5 332.6 442.4 332.9 444.4 333.1 446.3 333.3 448.3 333.6 450.2 333.7 452.2 333.8 454.1 334.1 456.1 334.2 458.0 334.1 460.0 334.3 461.9 334.7 463.9 335.0 465.8 335.1 467.8 335.1M272.5 338.1 274.5 336.7 276.4 336.0 278.4 334.9 280.3 333.6 282.3 332.8 284.2 332.2 286.2 331.6 288.1 331.2 290.1 330.7 292.0 330.2 294.0 329.8 295.9 329.5 297.9 329.4 299.8 329.3 301.8 328.9 303.7 328.7 305.7 328.8 307.7 328.3 309.6 328.1 311.6 328.0 313.5 327.6 315.5 327.3 317.4 327.2 319.4 327.3 321.3 327.0 323.3 326.7 325.2 326.5 327.2 326.3 329.1 326.3 331.1 326.4 333.0 326.3 335.0 326.1 336.9 325.8 338.9 325.7 340.9 325.7 342.8 325.8 344.8 325.4 346.7 325.2 348.7 325.3 350.6 325.1 352.6 324.7 354.5 324.6 356.5 324.5 358.4 324.3 360.4 323.9 362.3 323.6 364.3 323.5 366.2 323.3 368.2 323.1 370.1 322.9 372.1 322.8 374.1 323.2 376.0 325.9 378.0 326.4 379.9 327.1 381.9 327.5 383.8 327.9 385.8 328.3 387.7 328.3 389.7 328.4 391.6 328.9 393.6 329.0 395.5 329.3 397.5 329.4 399.4 329.5 401.4 330.0 403.4 330.1 405.3 329.9 407.3 330.1 409.2 330.5 411.2 330.4 413.1 330.6 415.1 330.6 417.0 330.8 419.0 331.0 420.9 331.2 422.9 331.5 424.8 331.7 426.8 331.8 428.7 332.1 430.7 332.1 432.6 332.0 434.6 332.4 436.6 332.4 438.5 332.6 440.5 332.9 442.4 333.1 444.4 333.2 446.3 333.5 448.3 333.7 450.2 333.9 452.2 333.9 454.1 334.1 456.1 334.2 458.0 334.3 460.0 334.4 461.9 334.6 463.9 335.0 465.8 335.1 467.8 335.4" stroke="#70c060" stroke-width="0.45" fill="none" stroke-opacity="0.35"/><path d="M272.5 337.8 274.5 336.3 276.4 335.1 278.4 334.1 280.3 333.3 282.3 332.6 284.2 332.0 286.2 331.4 288.1 330.9 290.1 330.5 292.0 330.1 294.0 329.8 295.9 329.5 297.9 329.2 299.8 328.9 301.8 328.7 303.7 328.4 305.7 328.2 307.7 328.0 309.6 327.8 311.6 327.6 313.5 327.4 315.5 327.2 317.4 327.1 319.4 326.9 321.3 326.8 323.3 326.7 325.2 326.6 327.2 326.4 329.1 326.3 331.1 326.2 333.0 326.1 335.0 325.9 336.9 325.8 338.9 325.7 340.9 325.6 342.8 325.5 344.8 325.4 346.7 325.3 348.7 325.1 350.6 325.0 352.6 324.8 354.5 324.6 356.5 324.4 358.4 324.2 360.4 323.9 362.3 323.7 364.3 323.4 366.2 323.2 368.2 323.0 370.1 322.8 372.1 322.7 374.1 323.3 376.0 326.1 378.0 327.0 379.9 327.7 381.9 328.2 383.8 328.6 385.8 329.0 387.7 329.3 389.7 329.6 391.6 329.9 393.6 330.2 395.5 330.5 397.5 330.7 399.4 331.0 401.4 331.2 403.4 331.4 405.3 331.6 407.3 331.7 409.2 331.9 411.2 332.0 413.1 332.2 415.1 332.3 417.0 332.5 419.0 332.6 420.9 332.8 422.9 332.9 424.8 333.1 426.8 333.2 428.7 333.4 430.7 333.6 432.6 333.7 434.6 333.9 436.6 334.0 438.5 334.2 440.5 334.3 442.4 334.5 444.4 334.7 446.3 334.8 448.3 335.0 450.2 335.1 452.2 335.3 454.1 335.5 456.1 335.6 458.0 335.8 460.0 335.9 461.9 336.1 463.9 336.2 465.8 336.4 467.8 336.6" stroke="#5aa02c" stroke-width="1.6" fill="none"/><path d="M273.3 337.8a0.8 0.8 0 1 1 -1.6 0a0.8 0.8 0 1 1 1.6 0M275.3 336.3a0.8 0.8 0 1 1 -1.6 0a0.8 0.8 0 1 1 1.6 0M277.2 335.1a0.8 0.8 0 1 1 -1.6 0a0.8 0.8 0 1 1 1.6 0M279.2 334.1a0.8 0.8 0 1 1 -1.6 0a0.8 0.8 0 1 1 1.6 0M281.1 333.3a0.8 0.8 0 1 1 -1.6 0a0.8 0.8 0 1 1 1.6 0M283.1 332.6a0.8 0.8 0 1 1 -1.6 0a0.8 0.8 0 1 1 1.6 0M285.0 332.0a0.8 0.8 0 1 1 -1.6 0a0.8 0.8 0 1 1 1.6 0M287.0 331.4a0.8 0.8 0 1 1 -1.6 0a0.8 0.8 0 1 1 1.6 0M288.9 330.9a0.8 0.8 0 1 1 -1.6 0a0.8 0.8 0 1 1 1.6 0M290.9 330.5a0.8 0.8 0 1 1 -1.6 0a0.8 0.8 0 1 1 1.6 0M292.8 330.1a0.8 0.8 0 1 1 -1.6 0a0.8 0.8 0 1 1 1.6 0M294.8 329.8a0.8 0.8 0 1 1 -1.6 0a0.8 0.8 0 1 1 1.6 0M296.7 329.5a0.8 0.8 0 1 1 -1.6 0a0.8 0.8 0 1 1 1.6 0M298.7 329.2a0.8 0.8 0 1 1 -1.6 0a0.8 0.8 0 1 1 1.6 0M300.6 328.9a0.8 0.8 0 1 1 -1.6 0a0.8 0.8 0 1 1 1.6 0M302.6 328.7a0.8 0.8 0 1 1 -1.6 0a0.8 0.8 0 1 1 1.6 0M304.5 328.4a0.8 0.8 0 1 1 -1.6 0a0.8 0.8 0 1 1 1.6 0M306.5 328.2a0.8 0.8 0 1 1 -1.6 0a0.8 0.8 0 1 1 1.6 0M308.5 328.0a0.8 0.8 0 1 1 -1.6 0a0.8 0.8 0 1 1 1.6 0M310.4 327.8a0.8 0.8 0 1 1 -1.6 0a0.8 0.8 0 1 1 1.6 0M312.4 327.6a0.8 0.8 0 1 1 -1.6 0a0.8 0.8 0 1 1 1.6 0M314.3 327.4a0.8 0.8 0 1 1 -1.6 0a0.8 0.8 0 1 1 1.6 0M316.3 327.2a0.8 0.8 0 1 1 -1.6 0a0.8 0.8 0 1 1 1.6 0M318.2 327.1a0.8 0.8 0 1 1 -1.6 0a0.8 0.8 0 1 1 1.6 0M320.2 326.9a0.8 0.8 0 1 1 -1.6 0a0.8 0.8 0 1 1 1.6 0M322.1 326.8a0.8 0.8 0 1 1 -1.6 0a0.8 0.8 0 1 1 1.6 0M324.1 326.7a0.8 0.8 0 1 1 -1.6 0a0.8 0.8 0 1 1 1.6 0M326.0 326.6a0.8 0.8 0 1 1 -1.6 0a0.8 0.8 0 1 1 1.6 0M328.0 326.4a0.8 0.8 0 1 1 -1.6 0a0.8 0.8 0 1 1 1.6 0M329.9 326.3a0.8 0.8 0 1 1 -1.6 0a0.8 0.8 0 1 1 1.6 0M331.9 326.2a0.8 0.8 0 1 1 -1.6 0a0.8 0.8 0 1 1 1.6 0M333.8 326.1a0.8 0.8 0 1 1 -1.6 0a0.8 0.8 0 1 1 1.6 0M335.8 325.9a0.8 0.8 0 1 1 -1.6 0a0.8 0.8 0 1 1 1.6 0M337.7 325.8a0.8 0.8 0 1 1 -1.6 0a0.8 0.8 0 1 1 1.6 0M339.7 325.7a0.8 0.8 0 1 1 -1.6 0a0.8 0.8 0 1 1 1.6 0M341.7 325.6a0.8 0.8 0 1 1 -1.6 0a0.8 0.8 0 1 1 1.6 0M343.6 325.5a0.8 0.8 0 1 1 -1.6 0a0.8 0.8 0 1 1 1.6 0M345.6 325.4a0.8 0.8 0 1 1 -1.6 0a0.8 0.8 0 1 1 1.6 0M347.5 325.3a0.8 0.8 0 1 1 -1.6 0a0.8 0.8 0 1 1 1.6 0M349.5 325.1a0.8 0.8 0 1 1 -1.6 0a0.8 0.8 0 1 1 1.6 0M351.4 325.0a0.8 0.8 0 1 1 -1.6 0a0.8 0.8 0 1 1 1.6 0M353.4 324.8a0.8 0.8 0 1 1 -1.6 0a0.8 0.8 0 1 1 1.6 0M355.3 324.6a0.8 0.8 0 1 1 -1.6 0a0.8 0.8 0 1 1 1.6 0M357.3 324.4a0.8 0.8 0 1 1 -1.6 0a0.8 0.8 0 1 1 1.6 0M359.2 324.2a0.8 0.8 0 1 1 -1.6 0a0.8 0.8 0 1 1 1.6 0M361.2 323.9a0.8 0.8 0 1 1 -1.6 0a0.8 0.8 0 1 1 1.6 0M363.1 323.7a0.8 0.8 0 1 1 -1.6 0a0.8 0.8 0 1 1 1.6 0M365.1 323.4a0.8 0.8 0 1 1 -1.6 0a0.8 0.8 0 1 1 1.6 0M367.0 323.2a0.8 0.8 0 1 1 -1.6 0a0.8 0.8 0 1 1 1.6 0M369.0 323.0a0.8 0.8 0 1 1 -1.6 0a0.8 0.8 0 1 1 1.6 0M370.9 322.8a0.8 0.8 0 1 1 -1.6 0a0.8 0.8 0 1 1 1.6 0M372.9 322.7a0.8 0.8 0 1 1 -1.6 0a0.8 0.8 0 1 1 1.6 0M374.9 323.3a0.8 0.8 0 1 1 -1.6 0a0.8 0.8 0 1 1 1.6 0M376.8 326.1a0.8 0.8 0 1 1 -1.6 0a0.8 0.8 0 1 1 1.6 0M378.8 327.0a0.8 0.8 0 1 1 -1.6 0a0.8 0.8 0 1 1 1.6 0M380.7 327.7a0.8 0.8 0 1 1 -1.6 0a0.8 0.8 0 1 1 1.6 0M382.7 328.2a0.8 0.8 0 1 1 -1.6 0a0.8 0.8 0 1 1 1.6 0M384.6 328.6a0.8 0.8 0 1 1 -1.6 0a0.8 0.8 0 1 1 1.6 0M386.6 329.0a0.8 0.8 0 1 1 -1.6 0a0.8 0.8 0 1 1 1.6 0M388.5 329.3a0.8 0.8 0 1 1 -1.6 0a0.8 0.8 0 1 1 1.6 0M390.5 329.6a0.8 0.8 0 1 1 -1.6 0a0.8 0.8 0 1 1 1.6 0M392.4 329.9a0.8 0.8 0 1 1 -1.6 0a0.8 0.8 0 1 1 1.6 0M394.4 330.2a0.8 0.8 0 1 1 -1.6 0a0.8 0.8 0 1 1 1.6 0M396.3 330.5a0.8 0.8 0 1 1 -1.6 0a0.8 0.8 0 1 1 1.6 0M398.3 330.7a0.8 0.8 0 1 1 -1.6 0a0.8 0.8 0 1 1 1.6 0M400.2 331.0a0.8 0.8 0 1 1 -1.6 0a0.8 0.8 0 1 1 1.6 0M402.2 331.2a0.8 0.8 0 1 1 -1.6 0a0.8 0.8 0 1 1 1.6 0M404.2 331.4a0.8 0.8 0 1 1 -1.6 0a0.8 0.8 0 1 1 1.6 0M406.1 331.6a0.8 0.8 0 1 1 -1.6 0a0.8 0.8 0 1 1 1.6 0M408.1 331.7a0.8 0.8 0 1 1 -1.6 0a0.8 0.8 0 1 1 1.6 0M410.0 331.9a0.8 0.8 0 1 1 -1.6 0a0.8 0.8 0 1 1 1.6 0M412.0 332.0a0.8 0.8 0 1 1 -1.6 0a0.8 0.8 0 1 1 1.6 0M413.9 332.2a0.8 0.8 0 1 1 -1.6 0a0.8 0.8 0 1 1 1.6 0M415.9 332.3a0.8 0.8 0 1 1 -1.6 0a0.8 0.8 0 1 1 1.6 0M417.8 332.5a0.8 0.8 0 1 1 -1.6 0a0.8 0.8 0 1 1 1.6 0M419.8 332.6a0.8 0.8 0 1 1 -1.6 0a0.8 0.8 0 1 1 1.6 0M421.7 332.8a0.8 0.8 0 1 1 -1.6 0a0.8 0.8 0 1 1 1.6 0M423.7 332.9a0.8 0.8 0 1 1 -1.6 0a0.8 0.8 0 1 1 1.6 0M425.6 333.1a0.8 0.8 0 1 1 -1.6 0a0.8 0.8 0 1 1 1.6 0M427.6 333.2a0.8 0.8 0 1 1 -1.6 0a0.8 0.8 0 1 1 1.6 0M429.5 333.4a0.8 0.8 0 1 1 -1.6 0a0.8 0.8 0 1 1 1.6 0M431.5 333.6a0.8 0.8 0 1 1 -1.6 0a0.8 0.8 0 1 1 1.6 0M433.4 333.7a0.8 0.8 0 1 1 -1.6 0a0.8 0.8 0 1 1 1.6 0M435.4 333.9a0.8 0.8 0 1 1 -1.6 0a0.8 0.8 0 1 1 1.6 0M437.4 334.0a0.8 0.8 0 1 1 -1.6 0a0.8 0.8 0 1 1 1.6 0M439.3 334.2a0.8 0.8 0 1 1 -1.6 0a0.8 0.8 0 1 1 1.6 0M441.3 334.3a0.8 0.8 0 1 1 -1.6 0a0.8 0.8 0 1 1 1.6 0M443.2 334.5a0.8 0.8 0 1 1 -1.6 0a0.8 0.8 0 1 1 1.6 0M445.2 334.7a0.8 0.8 0 1 1 -1.6 0a0.8 0.8 0 1 1 1.6 0M447.1 334.8a0.8 0.8 0 1 1 -1.6 0a0.8 0.8 0 1 1 1.6 0M449.1 335.0a0.8 0.8 0 1 1 -1.6 0a0.8 0.8 0 1 1 1.6 0M451.0 335.1a0.8 0.8 0 1 1 -1.6 0a0.8 0.8 0 1 1 1.6 0M453.0 335.3a0.8 0.8 0 1 1 -1.6 0a0.8 0.8 0 1 1 1.6 0M454.9 335.5a0.8 0.8 0 1 1 -1.6 0a0.8 0.8 0 1 1 1.6 0M456.9 335.6a0.8 0.8 0 1 1 -1.6 0a0.8 0.8 0 1 1 1.6 0M458.8 335.8a0.8 0.8 0 1 1 -1.6 0a0.8 0.8 0 1 1 1.6 0M460.8 335.9a0.8 0.8 0 1 1 -1.6 0a0.8 0.8 0 1 1 1.6 0M462.7 336.1a0.8 0.8 0 1 1 -1.6 0a0.8 0.8 0 1 1 1.6 0M464.7 336.2a0.8 0.8 0 1 1 -1.6 0a0.8 0.8 0 1 1 1.6 0M466.6 336.4a0.8 0.8 0 1 1 -1.6 0a0.8 0.8 0 1 1 1.6 0M468.6 336.6a0.8 0.8 0 1 1 -1.6 0a0.8 0.8 0 1 1 1.6 0" stroke="#4f9a1f" stroke-width="0.8" fill="none"/><path d="M272.5 327.2 274.5 325.4 276.4 324.2 278.4 323.2 280.3 322.2 282.3 321.5 284.2 320.9 286.2 320.3 288.1 319.8 290.1 319.4 292.0 319.0 294.0 318.7 295.9 318.3 297.9 318.0 299.8 317.7 301.8 317.4 303.7 317.1 305.7 316.9 307.7 316.6 309.6 316.4 311.6 316.2 313.5 316.0 315.5 315.9 317.4 315.7 319.4 315.6 321.3 315.5 323.3 315.4 325.2 315.3 327.2 315.2 329.1 315.2 331.1 315.1 333.0 315.0 335.0 314.9 336.9 314.8 338.9 314.8 340.9 314.7 342.8 314.6 344.8 314.6 346.7 314.5 348.7 314.4 350.6 314.3 352.6 314.2 354.5 314.1 356.5 314.0 358.4 313.8 360.4 313.7 362.3 313.5 364.3 313.4 366.2 313.3 368.2 313.1 370.1 313.1 372.1 313.1 374.1 313.8 376.0 316.8 378.0 317.8 379.9 318.5 381.9 319.1 383.8 319.6 385.8 320.0 387.7 320.4 389.7 320.7 391.6 321.1 393.6 321.3 395.5 321.6 397.5 321.8 399.4 322.1 401.4 322.3 403.4 322.5 405.3 322.7 407.3 322.8 409.2 323.0 411.2 323.1 413.1 323.3 415.1 323.4 417.0 323.6 419.0 323.7 420.9 323.9 422.9 324.0 424.8 324.1 426.8 324.2 428.7 324.4 430.7 324.5 432.6 324.6 434.6 324.8 436.6 324.9 438.5 325.0 440.5 325.2 442.4 325.4 444.4 325.5 446.3 325.7 448.3 325.9 450.2 326.0 452.2 326.2 454.1 326.4 456.1 326.6 458.0 326.8 460.0 326.9 461.9 327.1 463.9 327.3 465.8 327.5 467.8 327.7" stroke="#b0203a" stroke-width="1.6" fill="none"/><path d="M273.3 327.2a0.8 0.8 0 1 1 -1.6 0a0.8 0.8 0 1 1 1.6 0M275.3 325.4a0.8 0.8 0 1 1 -1.6 0a0.8 0.8 0 1 1 1.6 0M277.2 324.2a0.8 0.8 0 1 1 -1.6 0a0.8 0.8 0 1 1 1.6 0M279.2 323.2a0.8 0.8 0 1 1 -1.6 0a0.8 0.8 0 1 1 1.6 0M281.1 322.2a0.8 0.8 0 1 1 -1.6 0a0.8 0.8 0 1 1 1.6 0M283.1 321.5a0.8 0.8 0 1 1 -1.6 0a0.8 0.8 0 1 1 1.6 0M285.0 320.9a0.8 0.8 0 1 1 -1.6 0a0.8 0.8 0 1 1 1.6 0M287.0 320.3a0.8 0.8 0 1 1 -1.6 0a0.8 0.8 0 1 1 1.6 0M288.9 319.8a0.8 0.8 0 1 1 -1.6 0a0.8 0.8 0 1 1 1.6 0M290.9 319.4a0.8 0.8 0 1 1 -1.6 0a0.8 0.8 0 1 1 1.6 0M292.8 319.0a0.8 0.8 0 1 1 -1.6 0a0.8 0.8 0 1 1 1.6 0M294.8 318.7a0.8 0.8 0 1 1 -1.6 0a0.8 0.8 0 1 1 1.6 0M296.7 318.3a0.8 0.8 0 1 1 -1.6 0a0.8 0.8 0 1 1 1.6 0M298.7 318.0a0.8 0.8 0 1 1 -1.6 0a0.8 0.8 0 1 1 1.6 0M300.6 317.7a0.8 0.8 0 1 1 -1.6 0a0.8 0.8 0 1 1 1.6 0M302.6 317.4a0.8 0.8 0 1 1 -1.6 0a0.8 0.8 0 1 1 1.6 0M304.5 317.1a0.8 0.8 0 1 1 -1.6 0a0.8 0.8 0 1 1 1.6 0M306.5 316.9a0.8 0.8 0 1 1 -1.6 0a0.8 0.8 0 1 1 1.6 0M308.5 316.6a0.8 0.8 0 1 1 -1.6 0a0.8 0.8 0 1 1 1.6 0M310.4 316.4a0.8 0.8 0 1 1 -1.6 0a0.8 0.8 0 1 1 1.6 0M312.4 316.2a0.8 0.8 0 1 1 -1.6 0a0.8 0.8 0 1 1 1.6 0M314.3 316.0a0.8 0.8 0 1 1 -1.6 0a0.8 0.8 0 1 1 1.6 0M316.3 315.9a0.8 0.8 0 1 1 -1.6 0a0.8 0.8 0 1 1 1.6 0M318.2 315.7a0.8 0.8 0 1 1 -1.6 0a0.8 0.8 0 1 1 1.6 0M320.2 315.6a0.8 0.8 0 1 1 -1.6 0a0.8 0.8 0 1 1 1.6 0M322.1 315.5a0.8 0.8 0 1 1 -1.6 0a0.8 0.8 0 1 1 1.6 0M324.1 315.4a0.8 0.8 0 1 1 -1.6 0a0.8 0.8 0 1 1 1.6 0M326.0 315.3a0.8 0.8 0 1 1 -1.6 0a0.8 0.8 0 1 1 1.6 0M328.0 315.2a0.8 0.8 0 1 1 -1.6 0a0.8 0.8 0 1 1 1.6 0M329.9 315.2a0.8 0.8 0 1 1 -1.6 0a0.8 0.8 0 1 1 1.6 0M331.9 315.1a0.8 0.8 0 1 1 -1.6 0a0.8 0.8 0 1 1 1.6 0M333.8 315.0a0.8 0.8 0 1 1 -1.6 0a0.8 0.8 0 1 1 1.6 0M335.8 314.9a0.8 0.8 0 1 1 -1.6 0a0.8 0.8 0 1 1 1.6 0M337.7 314.8a0.8 0.8 0 1 1 -1.6 0a0.8 0.8 0 1 1 1.6 0M339.7 314.8a0.8 0.8 0 1 1 -1.6 0a0.8 0.8 0 1 1 1.6 0M341.7 314.7a0.8 0.8 0 1 1 -1.6 0a0.8 0.8 0 1 1 1.6 0M343.6 314.6a0.8 0.8 0 1 1 -1.6 0a0.8 0.8 0 1 1 1.6 0M345.6 314.6a0.8 0.8 0 1 1 -1.6 0a0.8 0.8 0 1 1 1.6 0M347.5 314.5a0.8 0.8 0 1 1 -1.6 0a0.8 0.8 0 1 1 1.6 0M349.5 314.4a0.8 0.8 0 1 1 -1.6 0a0.8 0.8 0 1 1 1.6 0M351.4 314.3a0.8 0.8 0 1 1 -1.6 0a0.8 0.8 0 1 1 1.6 0M353.4 314.2a0.8 0.8 0 1 1 -1.6 0a0.8 0.8 0 1 1 1.6 0M355.3 314.1a0.8 0.8 0 1 1 -1.6 0a0.8 0.8 0 1 1 1.6 0M357.3 314.0a0.8 0.8 0 1 1 -1.6 0a0.8 0.8 0 1 1 1.6 0M359.2 313.8a0.8 0.8 0 1 1 -1.6 0a0.8 0.8 0 1 1 1.6 0M361.2 313.7a0.8 0.8 0 1 1 -1.6 0a0.8 0.8 0 1 1 1.6 0M363.1 313.5a0.8 0.8 0 1 1 -1.6 0a0.8 0.8 0 1 1 1.6 0M365.1 313.4a0.8 0.8 0 1 1 -1.6 0a0.8 0.8 0 1 1 1.6 0M367.0 313.3a0.8 0.8 0 1 1 -1.6 0a0.8 0.8 0 1 1 1.6 0M369.0 313.1a0.8 0.8 0 1 1 -1.6 0a0.8 0.8 0 1 1 1.6 0M370.9 313.1a0.8 0.8 0 1 1 -1.6 0a0.8 0.8 0 1 1 1.6 0M372.9 313.1a0.8 0.8 0 1 1 -1.6 0a0.8 0.8 0 1 1 1.6 0M374.9 313.8a0.8 0.8 0 1 1 -1.6 0a0.8 0.8 0 1 1 1.6 0M376.8 316.8a0.8 0.8 0 1 1 -1.6 0a0.8 0.8 0 1 1 1.6 0M378.8 317.8a0.8 0.8 0 1 1 -1.6 0a0.8 0.8 0 1 1 1.6 0M380.7 318.5a0.8 0.8 0 1 1 -1.6 0a0.8 0.8 0 1 1 1.6 0M382.7 319.1a0.8 0.8 0 1 1 -1.6 0a0.8 0.8 0 1 1 1.6 0M384.6 319.6a0.8 0.8 0 1 1 -1.6 0a0.8 0.8 0 1 1 1.6 0M386.6 320.0a0.8 0.8 0 1 1 -1.6 0a0.8 0.8 0 1 1 1.6 0M388.5 320.4a0.8 0.8 0 1 1 -1.6 0a0.8 0.8 0 1 1 1.6 0M390.5 320.7a0.8 0.8 0 1 1 -1.6 0a0.8 0.8 0 1 1 1.6 0M392.4 321.1a0.8 0.8 0 1 1 -1.6 0a0.8 0.8 0 1 1 1.6 0M394.4 321.3a0.8 0.8 0 1 1 -1.6 0a0.8 0.8 0 1 1 1.6 0M396.3 321.6a0.8 0.8 0 1 1 -1.6 0a0.8 0.8 0 1 1 1.6 0M398.3 321.8a0.8 0.8 0 1 1 -1.6 0a0.8 0.8 0 1 1 1.6 0M400.2 322.1a0.8 0.8 0 1 1 -1.6 0a0.8 0.8 0 1 1 1.6 0M402.2 322.3a0.8 0.8 0 1 1 -1.6 0a0.8 0.8 0 1 1 1.6 0M404.2 322.5a0.8 0.8 0 1 1 -1.6 0a0.8 0.8 0 1 1 1.6 0M406.1 322.7a0.8 0.8 0 1 1 -1.6 0a0.8 0.8 0 1 1 1.6 0M408.1 322.8a0.8 0.8 0 1 1 -1.6 0a0.8 0.8 0 1 1 1.6 0M410.0 323.0a0.8 0.8 0 1 1 -1.6 0a0.8 0.8 0 1 1 1.6 0M412.0 323.1a0.8 0.8 0 1 1 -1.6 0a0.8 0.8 0 1 1 1.6 0M413.9 323.3a0.8 0.8 0 1 1 -1.6 0a0.8 0.8 0 1 1 1.6 0M415.9 323.4a0.8 0.8 0 1 1 -1.6 0a0.8 0.8 0 1 1 1.6 0M417.8 323.6a0.8 0.8 0 1 1 -1.6 0a0.8 0.8 0 1 1 1.6 0M419.8 323.7a0.8 0.8 0 1 1 -1.6 0a0.8 0.8 0 1 1 1.6 0M421.7 323.9a0.8 0.8 0 1 1 -1.6 0a0.8 0.8 0 1 1 1.6 0M423.7 324.0a0.8 0.8 0 1 1 -1.6 0a0.8 0.8 0 1 1 1.6 0M425.6 324.1a0.8 0.8 0 1 1 -1.6 0a0.8 0.8 0 1 1 1.6 0M427.6 324.2a0.8 0.8 0 1 1 -1.6 0a0.8 0.8 0 1 1 1.6 0M429.5 324.4a0.8 0.8 0 1 1 -1.6 0a0.8 0.8 0 1 1 1.6 0M431.5 324.5a0.8 0.8 0 1 1 -1.6 0a0.8 0.8 0 1 1 1.6 0M433.4 324.6a0.8 0.8 0 1 1 -1.6 0a0.8 0.8 0 1 1 1.6 0M435.4 324.8a0.8 0.8 0 1 1 -1.6 0a0.8 0.8 0 1 1 1.6 0M437.4 324.9a0.8 0.8 0 1 1 -1.6 0a0.8 0.8 0 1 1 1.6 0M439.3 325.0a0.8 0.8 0 1 1 -1.6 0a0.8 0.8 0 1 1 1.6 0M441.3 325.2a0.8 0.8 0 1 1 -1.6 0a0.8 0.8 0 1 1 1.6 0M443.2 325.4a0.8 0.8 0 1 1 -1.6 0a0.8 0.8 0 1 1 1.6 0M445.2 325.5a0.8 0.8 0 1 1 -1.6 0a0.8 0.8 0 1 1 1.6 0M447.1 325.7a0.8 0.8 0 1 1 -1.6 0a0.8 0.8 0 1 1 1.6 0M449.1 325.9a0.8 0.8 0 1 1 -1.6 0a0.8 0.8 0 1 1 1.6 0M451.0 326.0a0.8 0.8 0 1 1 -1.6 0a0.8 0.8 0 1 1 1.6 0M453.0 326.2a0.8 0.8 0 1 1 -1.6 0a0.8 0.8 0 1 1 1.6 0M454.9 326.4a0.8 0.8 0 1 1 -1.6 0a0.8 0.8 0 1 1 1.6 0M456.9 326.6a0.8 0.8 0 1 1 -1.6 0a0.8 0.8 0 1 1 1.6 0M458.8 326.8a0.8 0.8 0 1 1 -1.6 0a0.8 0.8 0 1 1 1.6 0M460.8 326.9a0.8 0.8 0 1 1 -1.6 0a0.8 0.8 0 1 1 1.6 0M462.7 327.1a0.8 0.8 0 1 1 -1.6 0a0.8 0.8 0 1 1 1.6 0M464.7 327.3a0.8 0.8 0 1 1 -1.6 0a0.8 0.8 0 1 1 1.6 0M466.6 327.5a0.8 0.8 0 1 1 -1.6 0a0.8 0.8 0 1 1 1.6 0M468.6 327.7a0.8 0.8 0 1 1 -1.6 0a0.8 0.8 0 1 1 1.6 0" stroke="#a2142f" stroke-width="0.8" fill="none"/><path d="M272.5 326.9 274.5 291.6 276.4 285.9 278.4 282.9 280.3 280.6 282.3 278.6 284.2 276.7 286.2 275.0 288.1 273.6 290.1 272.4 292.0 271.4 294.0 270.5 295.9 269.7 297.9 268.8 299.8 268.0 301.8 267.3 303.7 266.5 305.7 265.8 307.7 265.1 309.6 264.5 311.6 263.9 313.5 263.3 315.5 262.7 317.4 262.2 319.4 261.7 321.3 261.3 323.3 260.8 325.2 260.3 327.2 259.9 329.1 259.4 331.1 259.0 333.0 258.6 335.0 258.1 336.9 257.7 338.9 257.3 340.9 256.9 342.8 256.5 344.8 256.1 346.7 255.7 348.7 255.3 350.6 254.9 352.6 254.5 354.5 254.1 356.5 253.7 358.4 253.3 360.4 252.8 362.3 252.3 364.3 251.8 366.2 251.3 368.2 250.8 370.1 250.3 372.1 249.9 374.1 251.8 376.0 254.6 378.0 257.3 379.9 259.7 381.9 261.9 383.8 263.9 385.8 265.9 387.7 267.7 389.7 269.6 391.6 271.4 393.6 273.2 395.5 275.0 397.5 276.7 399.4 278.5 401.4 280.3 403.4 282.1 405.3 284.0 407.3 285.9 409.2 287.9 411.2 289.8 413.1 291.8 415.1 293.8 417.0 295.7 419.0 297.8 420.9 299.9 422.9 301.9 424.8 303.9 426.8 305.8 428.7 307.6 430.7 309.1 432.6 310.6 434.6 312.0 436.6 313.3 438.5 314.5 440.5 315.8 442.4 317.1 444.4 318.3 446.3 319.6 448.3 320.8 450.2 322.0 452.2 323.1 454.1 324.0 456.1 324.9 458.0 325.6 460.0 326.3 461.9 326.9 463.9 327.5 465.8 328.1 467.8 328.8" stroke="#0000ff" stroke-width="1.6" fill="none"/><path d="M273.3 326.9a0.8 0.8 0 1 1 -1.6 0a0.8 0.8 0 1 1 1.6 0M275.3 291.6a0.8 0.8 0 1 1 -1.6 0a0.8 0.8 0 1 1 1.6 0M277.2 285.9a0.8 0.8 0 1 1 -1.6 0a0.8 0.8 0 1 1 1.6 0M279.2 282.9a0.8 0.8 0 1 1 -1.6 0a0.8 0.8 0 1 1 1.6 0M281.1 280.6a0.8 0.8 0 1 1 -1.6 0a0.8 0.8 0 1 1 1.6 0M283.1 278.6a0.8 0.8 0 1 1 -1.6 0a0.8 0.8 0 1 1 1.6 0M285.0 276.7a0.8 0.8 0 1 1 -1.6 0a0.8 0.8 0 1 1 1.6 0M287.0 275.0a0.8 0.8 0 1 1 -1.6 0a0.8 0.8 0 1 1 1.6 0M288.9 273.6a0.8 0.8 0 1 1 -1.6 0a0.8 0.8 0 1 1 1.6 0M290.9 272.4a0.8 0.8 0 1 1 -1.6 0a0.8 0.8 0 1 1 1.6 0M292.8 271.4a0.8 0.8 0 1 1 -1.6 0a0.8 0.8 0 1 1 1.6 0M294.8 270.5a0.8 0.8 0 1 1 -1.6 0a0.8 0.8 0 1 1 1.6 0M296.7 269.7a0.8 0.8 0 1 1 -1.6 0a0.8 0.8 0 1 1 1.6 0M298.7 268.8a0.8 0.8 0 1 1 -1.6 0a0.8 0.8 0 1 1 1.6 0M300.6 268.0a0.8 0.8 0 1 1 -1.6 0a0.8 0.8 0 1 1 1.6 0M302.6 267.3a0.8 0.8 0 1 1 -1.6 0a0.8 0.8 0 1 1 1.6 0M304.5 266.5a0.8 0.8 0 1 1 -1.6 0a0.8 0.8 0 1 1 1.6 0M306.5 265.8a0.8 0.8 0 1 1 -1.6 0a0.8 0.8 0 1 1 1.6 0M308.5 265.1a0.8 0.8 0 1 1 -1.6 0a0.8 0.8 0 1 1 1.6 0M310.4 264.5a0.8 0.8 0 1 1 -1.6 0a0.8 0.8 0 1 1 1.6 0M312.4 263.9a0.8 0.8 0 1 1 -1.6 0a0.8 0.8 0 1 1 1.6 0M314.3 263.3a0.8 0.8 0 1 1 -1.6 0a0.8 0.8 0 1 1 1.6 0M316.3 262.7a0.8 0.8 0 1 1 -1.6 0a0.8 0.8 0 1 1 1.6 0M318.2 262.2a0.8 0.8 0 1 1 -1.6 0a0.8 0.8 0 1 1 1.6 0M320.2 261.7a0.8 0.8 0 1 1 -1.6 0a0.8 0.8 0 1 1 1.6 0M322.1 261.3a0.8 0.8 0 1 1 -1.6 0a0.8 0.8 0 1 1 1.6 0M324.1 260.8a0.8 0.8 0 1 1 -1.6 0a0.8 0.8 0 1 1 1.6 0M326.0 260.3a0.8 0.8 0 1 1 -1.6 0a0.8 0.8 0 1 1 1.6 0M328.0 259.9a0.8 0.8 0 1 1 -1.6 0a0.8 0.8 0 1 1 1.6 0M329.9 259.4a0.8 0.8 0 1 1 -1.6 0a0.8 0.8 0 1 1 1.6 0M331.9 259.0a0.8 0.8 0 1 1 -1.6 0a0.8 0.8 0 1 1 1.6 0M333.8 258.6a0.8 0.8 0 1 1 -1.6 0a0.8 0.8 0 1 1 1.6 0M335.8 258.1a0.8 0.8 0 1 1 -1.6 0a0.8 0.8 0 1 1 1.6 0M337.7 257.7a0.8 0.8 0 1 1 -1.6 0a0.8 0.8 0 1 1 1.6 0M339.7 257.3a0.8 0.8 0 1 1 -1.6 0a0.8 0.8 0 1 1 1.6 0M341.7 256.9a0.8 0.8 0 1 1 -1.6 0a0.8 0.8 0 1 1 1.6 0M343.6 256.5a0.8 0.8 0 1 1 -1.6 0a0.8 0.8 0 1 1 1.6 0M345.6 256.1a0.8 0.8 0 1 1 -1.6 0a0.8 0.8 0 1 1 1.6 0M347.5 255.7a0.8 0.8 0 1 1 -1.6 0a0.8 0.8 0 1 1 1.6 0M349.5 255.3a0.8 0.8 0 1 1 -1.6 0a0.8 0.8 0 1 1 1.6 0M351.4 254.9a0.8 0.8 0 1 1 -1.6 0a0.8 0.8 0 1 1 1.6 0M353.4 254.5a0.8 0.8 0 1 1 -1.6 0a0.8 0.8 0 1 1 1.6 0M355.3 254.1a0.8 0.8 0 1 1 -1.6 0a0.8 0.8 0 1 1 1.6 0M357.3 253.7a0.8 0.8 0 1 1 -1.6 0a0.8 0.8 0 1 1 1.6 0M359.2 253.3a0.8 0.8 0 1 1 -1.6 0a0.8 0.8 0 1 1 1.6 0M361.2 252.8a0.8 0.8 0 1 1 -1.6 0a0.8 0.8 0 1 1 1.6 0M363.1 252.3a0.8 0.8 0 1 1 -1.6 0a0.8 0.8 0 1 1 1.6 0M365.1 251.8a0.8 0.8 0 1 1 -1.6 0a0.8 0.8 0 1 1 1.6 0M367.0 251.3a0.8 0.8 0 1 1 -1.6 0a0.8 0.8 0 1 1 1.6 0M369.0 250.8a0.8 0.8 0 1 1 -1.6 0a0.8 0.8 0 1 1 1.6 0M370.9 250.3a0.8 0.8 0 1 1 -1.6 0a0.8 0.8 0 1 1 1.6 0M372.9 249.9a0.8 0.8 0 1 1 -1.6 0a0.8 0.8 0 1 1 1.6 0M374.9 251.8a0.8 0.8 0 1 1 -1.6 0a0.8 0.8 0 1 1 1.6 0M376.8 254.6a0.8 0.8 0 1 1 -1.6 0a0.8 0.8 0 1 1 1.6 0M378.8 257.3a0.8 0.8 0 1 1 -1.6 0a0.8 0.8 0 1 1 1.6 0M380.7 259.7a0.8 0.8 0 1 1 -1.6 0a0.8 0.8 0 1 1 1.6 0M382.7 261.9a0.8 0.8 0 1 1 -1.6 0a0.8 0.8 0 1 1 1.6 0M384.6 263.9a0.8 0.8 0 1 1 -1.6 0a0.8 0.8 0 1 1 1.6 0M386.6 265.9a0.8 0.8 0 1 1 -1.6 0a0.8 0.8 0 1 1 1.6 0M388.5 267.7a0.8 0.8 0 1 1 -1.6 0a0.8 0.8 0 1 1 1.6 0M390.5 269.6a0.8 0.8 0 1 1 -1.6 0a0.8 0.8 0 1 1 1.6 0M392.4 271.4a0.8 0.8 0 1 1 -1.6 0a0.8 0.8 0 1 1 1.6 0M394.4 273.2a0.8 0.8 0 1 1 -1.6 0a0.8 0.8 0 1 1 1.6 0M396.3 275.0a0.8 0.8 0 1 1 -1.6 0a0.8 0.8 0 1 1 1.6 0M398.3 276.7a0.8 0.8 0 1 1 -1.6 0a0.8 0.8 0 1 1 1.6 0M400.2 278.5a0.8 0.8 0 1 1 -1.6 0a0.8 0.8 0 1 1 1.6 0M402.2 280.3a0.8 0.8 0 1 1 -1.6 0a0.8 0.8 0 1 1 1.6 0M404.2 282.1a0.8 0.8 0 1 1 -1.6 0a0.8 0.8 0 1 1 1.6 0M406.1 284.0a0.8 0.8 0 1 1 -1.6 0a0.8 0.8 0 1 1 1.6 0M408.1 285.9a0.8 0.8 0 1 1 -1.6 0a0.8 0.8 0 1 1 1.6 0M410.0 287.9a0.8 0.8 0 1 1 -1.6 0a0.8 0.8 0 1 1 1.6 0M412.0 289.8a0.8 0.8 0 1 1 -1.6 0a0.8 0.8 0 1 1 1.6 0M413.9 291.8a0.8 0.8 0 1 1 -1.6 0a0.8 0.8 0 1 1 1.6 0M415.9 293.8a0.8 0.8 0 1 1 -1.6 0a0.8 0.8 0 1 1 1.6 0M417.8 295.7a0.8 0.8 0 1 1 -1.6 0a0.8 0.8 0 1 1 1.6 0M419.8 297.8a0.8 0.8 0 1 1 -1.6 0a0.8 0.8 0 1 1 1.6 0M421.7 299.9a0.8 0.8 0 1 1 -1.6 0a0.8 0.8 0 1 1 1.6 0M423.7 301.9a0.8 0.8 0 1 1 -1.6 0a0.8 0.8 0 1 1 1.6 0M425.6 303.9a0.8 0.8 0 1 1 -1.6 0a0.8 0.8 0 1 1 1.6 0M427.6 305.8a0.8 0.8 0 1 1 -1.6 0a0.8 0.8 0 1 1 1.6 0M429.5 307.6a0.8 0.8 0 1 1 -1.6 0a0.8 0.8 0 1 1 1.6 0M431.5 309.1a0.8 0.8 0 1 1 -1.6 0a0.8 0.8 0 1 1 1.6 0M433.4 310.6a0.8 0.8 0 1 1 -1.6 0a0.8 0.8 0 1 1 1.6 0M435.4 312.0a0.8 0.8 0 1 1 -1.6 0a0.8 0.8 0 1 1 1.6 0M437.4 313.3a0.8 0.8 0 1 1 -1.6 0a0.8 0.8 0 1 1 1.6 0M439.3 314.5a0.8 0.8 0 1 1 -1.6 0a0.8 0.8 0 1 1 1.6 0M441.3 315.8a0.8 0.8 0 1 1 -1.6 0a0.8 0.8 0 1 1 1.6 0M443.2 317.1a0.8 0.8 0 1 1 -1.6 0a0.8 0.8 0 1 1 1.6 0M445.2 318.3a0.8 0.8 0 1 1 -1.6 0a0.8 0.8 0 1 1 1.6 0M447.1 319.6a0.8 0.8 0 1 1 -1.6 0a0.8 0.8 0 1 1 1.6 0M449.1 320.8a0.8 0.8 0 1 1 -1.6 0a0.8 0.8 0 1 1 1.6 0M451.0 322.0a0.8 0.8 0 1 1 -1.6 0a0.8 0.8 0 1 1 1.6 0M453.0 323.1a0.8 0.8 0 1 1 -1.6 0a0.8 0.8 0 1 1 1.6 0M454.9 324.0a0.8 0.8 0 1 1 -1.6 0a0.8 0.8 0 1 1 1.6 0M456.9 324.9a0.8 0.8 0 1 1 -1.6 0a0.8 0.8 0 1 1 1.6 0M458.8 325.6a0.8 0.8 0 1 1 -1.6 0a0.8 0.8 0 1 1 1.6 0M460.8 326.3a0.8 0.8 0 1 1 -1.6 0a0.8 0.8 0 1 1 1.6 0M462.7 326.9a0.8 0.8 0 1 1 -1.6 0a0.8 0.8 0 1 1 1.6 0M464.7 327.5a0.8 0.8 0 1 1 -1.6 0a0.8 0.8 0 1 1 1.6 0M466.6 328.1a0.8 0.8 0 1 1 -1.6 0a0.8 0.8 0 1 1 1.6 0M468.6 328.8a0.8 0.8 0 1 1 -1.6 0a0.8 0.8 0 1 1 1.6 0" stroke="#0000ee" stroke-width="0.8" fill="none"/><rect x="272.5" y="215.7" width="195.3" height="148.3" fill="none" stroke="#9a9a9a" stroke-width="0.8"/><path d="M311.6 364v-2.0M311.6 215.7v2.0M350.6 364v-2.0M350.6 215.7v2.0M389.7 364v-2.0M389.7 215.7v2.0M428.7 364v-2.0M428.7 215.7v2.0" stroke="#9a9a9a" stroke-width="0.6" fill="none"/><path d="M272.5 339.3h2.0M467.8 339.3h-2.0M272.5 314.6h2.0M467.8 314.6h-2.0M272.5 289.9h2.0M467.8 289.9h-2.0M272.5 265.1h2.0M467.8 265.1h-2.0M272.5 240.4h2.0M467.8 240.4h-2.0" stroke="#9a9a9a" stroke-width="0.6" fill="none"/><text x="269.6" y="367.6" font-size="10" text-anchor="end" font-weight="normal" fill="#262626" >0</text><text x="269.6" y="342.9" font-size="10" text-anchor="end" font-weight="normal" fill="#262626" >100</text><text x="269.6" y="318.2" font-size="10" text-anchor="end" font-weight="normal" fill="#262626" >200</text><text x="269.6" y="293.5" font-size="10" text-anchor="end" font-weight="normal" fill="#262626" >300</text><text x="269.6" y="268.7" font-size="10" text-anchor="end" font-weight="normal" fill="#262626" >400</text><text x="269.6" y="244" font-size="10" text-anchor="end" font-weight="normal" fill="#262626" >500</text><text x="269.6" y="219.3" font-size="10" text-anchor="end" font-weight="normal" fill="#262626" >600</text><text x="272.5" y="376.3" font-size="10" text-anchor="middle" font-weight="normal" fill="#262626" >0</text><text x="311.6" y="376.3" font-size="10" text-anchor="middle" font-weight="normal" fill="#262626" >20</text><text x="350.6" y="376.3" font-size="10" text-anchor="middle" font-weight="normal" fill="#262626" >40</text><text x="389.7" y="376.3" font-size="10" text-anchor="middle" font-weight="normal" fill="#262626" >60</text><text x="428.7" y="376.3" font-size="10" text-anchor="middle" font-weight="normal" fill="#262626" >80</text><text x="467.8" y="376.3" font-size="10" text-anchor="middle" font-weight="normal" fill="#262626" >100</text><text x="370" y="388.1" font-size="10.7" text-anchor="middle" font-weight="normal" fill="#262626" >Pulse number</text><text transform="translate(249.9,289.8) rotate(-90)" font-size="10.5" text-anchor="middle" fill="#262626">G (<tspan font-style="italic">&#956;</tspan>S)</text><text x="232.3" y="204" font-size="16" text-anchor="start" font-weight="bold" fill="#000" >e</text><text x="276.3" y="228.6" font-size="10" text-anchor="start" font-weight="normal" fill="#000" >Lines = data</text><text x="276.3" y="240" font-size="10" text-anchor="start" font-weight="normal" fill="#000" >Circles = mean</text><text x="348.6" y="357.8" font-size="10" text-anchor="start" font-weight="normal" fill="#000" >30 cycles</text><path d="M386.4 224.7H403.6" stroke="#0000ff" stroke-width="1.2"/><circle cx="394.8" cy="224.89999999999998" r="3.1" fill="none" stroke="#0000ff" stroke-width="1.5"/><text x="408.8" y="228.5" font-size="10.3" text-anchor="start" font-weight="normal" fill="#000" >+1.2 , -1.4 V</text><path d="M386.4 236.6H403.6" stroke="#ff0000" stroke-width="1.2"/><circle cx="394.8" cy="236.79999999999998" r="3.1" fill="none" stroke="#ff0000" stroke-width="1.5"/><text x="408.8" y="240.4" font-size="10.3" text-anchor="start" font-weight="normal" fill="#000" >+1 , -1.2 V</text><path d="M386.4 248.9H403.6" stroke="#55a630" stroke-width="1.2"/><circle cx="394.8" cy="249.1" r="3.1" fill="none" stroke="#55a630" stroke-width="1.5"/><text x="408.8" y="252.7" font-size="10.3" text-anchor="start" font-weight="normal" fill="#000" >+0.9 , -1 V</text><text x="487" y="204" font-size="16" text-anchor="start" font-weight="bold" fill="#000" >f</text><defs><linearGradient id="cbar" x1="0" y1="1" x2="0" y2="0"><stop offset="0.0" stop-color="#3d2aa0"/><stop offset="0.1" stop-color="#4242dc"/><stop offset="0.2" stop-color="#3a64f0"/><stop offset="0.3" stop-color="#2a88e8"/><stop offset="0.4" stop-color="#1aa8d8"/><stop offset="0.5" stop-color="#20b8b8"/><stop offset="0.6" stop-color="#5cc084"/><stop offset="0.7" stop-color="#b0c040"/><stop offset="0.8" stop-color="#f5b83a"/><stop offset="0.9" stop-color="#f5e028"/><stop offset="1.0" stop-color="#f8f81a"/></linearGradient><linearGradient id="p0" gradientUnits="userSpaceOnUse" x1="0" y1="222" x2="0" y2="364.5"><stop offset="0.205" stop-color="#f8f71a"/><stop offset="0.245" stop-color="#f6ae3c"/><stop offset="0.245" stop-color="#f6ae3c"/><stop offset="0.251" stop-color="#28dc50"/><stop offset="0.270" stop-color="#28dc50"/><stop offset="0.277" stop-color="#1eb2d8"/><stop offset="0.349" stop-color="#1eb2d8"/><stop offset="0.363" stop-color="#3d6cf0"/><stop offset="0.389" stop-color="#4848dc"/><stop offset="0.415" stop-color="#3e2aa8"/></linearGradient><linearGradient id="p1" gradientUnits="userSpaceOnUse" x1="0" y1="222" x2="0" y2="364.5"><stop offset="0.207" stop-color="#f8f71a"/><stop offset="0.250" stop-color="#f6ae3c"/><stop offset="0.250" stop-color="#f6ae3c"/><stop offset="0.257" stop-color="#28dc50"/><stop offset="0.276" stop-color="#28dc50"/><stop offset="0.283" stop-color="#1eb2d8"/><stop offset="0.350" stop-color="#1eb2d8"/><stop offset="0.364" stop-color="#3d6cf0"/><stop offset="0.397" stop-color="#4848dc"/><stop offset="0.427" stop-color="#3e2aa8"/></linearGradient><linearGradient id="p2" gradientUnits="userSpaceOnUse" x1="0" y1="222" x2="0" y2="364.5"><stop offset="0.231" stop-color="#f8f71a"/><stop offset="0.269" stop-color="#f6ae3c"/><stop offset="0.269" stop-color="#f6ae3c"/><stop offset="0.272" stop-color="#28dc50"/><stop offset="0.291" stop-color="#28dc50"/><stop offset="0.298" stop-color="#1eb2d8"/><stop offset="0.360" stop-color="#1eb2d8"/><stop offset="0.374" stop-color="#3d6cf0"/><stop offset="0.401" stop-color="#4848dc"/><stop offset="0.428" stop-color="#3e2aa8"/></linearGradient><linearGradient id="p3" gradientUnits="userSpaceOnUse" x1="0" y1="222" x2="0" y2="364.5"><stop offset="0.250" stop-color="#f8f71a"/><stop offset="0.283" stop-color="#f6ae3c"/><stop offset="0.283" stop-color="#f6ae3c"/><stop offset="0.283" stop-color="#28dc50"/><stop offset="0.302" stop-color="#28dc50"/><stop offset="0.309" stop-color="#1eb2d8"/><stop offset="0.366" stop-color="#1eb2d8"/><stop offset="0.380" stop-color="#3d6cf0"/><stop offset="0.409" stop-color="#4848dc"/><stop offset="0.438" stop-color="#3e2aa8"/></linearGradient><linearGradient id="p4" gradientUnits="userSpaceOnUse" x1="0" y1="222" x2="0" y2="364.5"><stop offset="0.253" stop-color="#f8f71a"/><stop offset="0.295" stop-color="#f6ae3c"/><stop offset="0.296" stop-color="#f6ae3c"/><stop offset="0.302" stop-color="#28dc50"/><stop offset="0.321" stop-color="#28dc50"/><stop offset="0.328" stop-color="#1eb2d8"/><stop offset="0.380" stop-color="#1eb2d8"/><stop offset="0.394" stop-color="#3d6cf0"/><stop offset="0.420" stop-color="#4848dc"/><stop offset="0.447" stop-color="#3e2aa8"/></linearGradient><linearGradient id="p5" gradientUnits="userSpaceOnUse" x1="0" y1="222" x2="0" y2="364.5"><stop offset="0.263" stop-color="#f8f71a"/><stop offset="0.307" stop-color="#f6ae3c"/><stop offset="0.309" stop-color="#f6ae3c"/><stop offset="0.315" stop-color="#28dc50"/><stop offset="0.334" stop-color="#28dc50"/><stop offset="0.341" stop-color="#1eb2d8"/><stop offset="0.388" stop-color="#1eb2d8"/><stop offset="0.402" stop-color="#3d6cf0"/><stop offset="0.431" stop-color="#4848dc"/><stop offset="0.459" stop-color="#3e2aa8"/></linearGradient><linearGradient id="p6" gradientUnits="userSpaceOnUse" x1="0" y1="222" x2="0" y2="364.5"><stop offset="0.260" stop-color="#f8f71a"/><stop offset="0.310" stop-color="#f6ae3c"/><stop offset="0.317" stop-color="#f6ae3c"/><stop offset="0.323" stop-color="#28dc50"/><stop offset="0.342" stop-color="#28dc50"/><stop offset="0.349" stop-color="#1eb2d8"/><stop offset="0.392" stop-color="#1eb2d8"/><stop offset="0.406" stop-color="#3d6cf0"/><stop offset="0.429" stop-color="#4848dc"/><stop offset="0.456" stop-color="#3e2aa8"/></linearGradient><linearGradient id="p7" gradientUnits="userSpaceOnUse" x1="0" y1="222" x2="0" y2="364.5"><stop offset="0.259" stop-color="#f8f71a"/><stop offset="0.315" stop-color="#f6ae3c"/><stop offset="0.326" stop-color="#f6ae3c"/><stop offset="0.333" stop-color="#28dc50"/><stop offset="0.352" stop-color="#28dc50"/><stop offset="0.359" stop-color="#1eb2d8"/><stop offset="0.397" stop-color="#1eb2d8"/><stop offset="0.411" stop-color="#3d6cf0"/><stop offset="0.438" stop-color="#4848dc"/><stop offset="0.466" stop-color="#3e2aa8"/></linearGradient><linearGradient id="p8" gradientUnits="userSpaceOnUse" x1="0" y1="222" x2="0" y2="364.5"><stop offset="0.278" stop-color="#f8f71a"/><stop offset="0.330" stop-color="#f6ae3c"/><stop offset="0.339" stop-color="#f6ae3c"/><stop offset="0.346" stop-color="#28dc50"/><stop offset="0.364" stop-color="#28dc50"/><stop offset="0.371" stop-color="#1eb2d8"/><stop offset="0.406" stop-color="#1eb2d8"/><stop offset="0.420" stop-color="#3d6cf0"/><stop offset="0.445" stop-color="#4848dc"/><stop offset="0.472" stop-color="#3e2aa8"/></linearGradient><linearGradient id="p9" gradientUnits="userSpaceOnUse" x1="0" y1="222" x2="0" y2="364.5"><stop offset="0.288" stop-color="#f8f71a"/><stop offset="0.340" stop-color="#f6ae3c"/><stop offset="0.348" stop-color="#f6ae3c"/><stop offset="0.354" stop-color="#28dc50"/><stop offset="0.373" stop-color="#28dc50"/><stop offset="0.380" stop-color="#1eb2d8"/><stop offset="0.410" stop-color="#1eb2d8"/><stop offset="0.424" stop-color="#3d6cf0"/><stop offset="0.453" stop-color="#4848dc"/><stop offset="0.482" stop-color="#3e2aa8"/></linearGradient><linearGradient id="p10" gradientUnits="userSpaceOnUse" x1="0" y1="222" x2="0" y2="364.5"><stop offset="0.303" stop-color="#f8f71a"/><stop offset="0.350" stop-color="#f6ae3c"/><stop offset="0.355" stop-color="#f6ae3c"/><stop offset="0.361" stop-color="#28dc50"/><stop offset="0.380" stop-color="#28dc50"/><stop offset="0.387" stop-color="#1eb2d8"/><stop offset="0.413" stop-color="#1eb2d8"/><stop offset="0.427" stop-color="#3d6cf0"/><stop offset="0.452" stop-color="#4848dc"/><stop offset="0.478" stop-color="#3e2aa8"/></linearGradient><linearGradient id="p11" gradientUnits="userSpaceOnUse" x1="0" y1="222" x2="0" y2="364.5"><stop offset="0.305" stop-color="#f8f71a"/><stop offset="0.354" stop-color="#f6ae3c"/><stop offset="0.359" stop-color="#f6ae3c"/><stop offset="0.365" stop-color="#28dc50"/><stop offset="0.384" stop-color="#28dc50"/><stop offset="0.391" stop-color="#1eb2d8"/><stop offset="0.413" stop-color="#1eb2d8"/><stop offset="0.427" stop-color="#3d6cf0"/><stop offset="0.454" stop-color="#4848dc"/><stop offset="0.482" stop-color="#3e2aa8"/></linearGradient><linearGradient id="p12" gradientUnits="userSpaceOnUse" x1="0" y1="222" x2="0" y2="364.5"><stop offset="0.308" stop-color="#f8f71a"/><stop offset="0.360" stop-color="#f6ae3c"/><stop offset="0.368" stop-color="#f6ae3c"/><stop offset="0.374" stop-color="#28dc50"/><stop offset="0.393" stop-color="#28dc50"/><stop offset="0.400" stop-color="#1eb2d8"/><stop offset="0.419" stop-color="#1eb2d8"/><stop offset="0.433" stop-color="#3d6cf0"/><stop offset="0.461" stop-color="#4848dc"/><stop offset="0.488" stop-color="#3e2aa8"/></linearGradient><linearGradient id="p13" gradientUnits="userSpaceOnUse" x1="0" y1="222" x2="0" y2="364.5"><stop offset="0.313" stop-color="#f8f71a"/><stop offset="0.363" stop-color="#f6ae3c"/><stop offset="0.370" stop-color="#f6ae3c"/><stop offset="0.376" stop-color="#28dc50"/><stop offset="0.395" stop-color="#28dc50"/><stop offset="0.402" stop-color="#1eb2d8"/><stop offset="0.421" stop-color="#1eb2d8"/><stop offset="0.435" stop-color="#3d6cf0"/><stop offset="0.474" stop-color="#4848dc"/><stop offset="0.506" stop-color="#3e2aa8"/></linearGradient><linearGradient id="p14" gradientUnits="userSpaceOnUse" x1="0" y1="222" x2="0" y2="364.5"><stop offset="0.313" stop-color="#f8f71a"/><stop offset="0.364" stop-color="#f6ae3c"/><stop offset="0.371" stop-color="#f6ae3c"/><stop offset="0.377" stop-color="#28dc50"/><stop offset="0.396" stop-color="#28dc50"/><stop offset="0.403" stop-color="#1eb2d8"/><stop offset="0.421" stop-color="#1eb2d8"/><stop offset="0.435" stop-color="#3d6cf0"/><stop offset="0.476" stop-color="#4848dc"/><stop offset="0.510" stop-color="#3e2aa8"/></linearGradient><linearGradient id="p15" gradientUnits="userSpaceOnUse" x1="0" y1="222" x2="0" y2="364.5"><stop offset="0.319" stop-color="#f8f71a"/><stop offset="0.368" stop-color="#f6ae3c"/><stop offset="0.374" stop-color="#f6ae3c"/><stop offset="0.380" stop-color="#28dc50"/><stop offset="0.399" stop-color="#28dc50"/><stop offset="0.406" stop-color="#1eb2d8"/><stop offset="0.423" stop-color="#1eb2d8"/><stop offset="0.438" stop-color="#3d6cf0"/><stop offset="0.466" stop-color="#4848dc"/><stop offset="0.494" stop-color="#3e2aa8"/></linearGradient><linearGradient id="p16" gradientUnits="userSpaceOnUse" x1="0" y1="222" x2="0" y2="364.5"><stop offset="0.318" stop-color="#f8f71a"/><stop offset="0.368" stop-color="#f6ae3c"/><stop offset="0.374" stop-color="#f6ae3c"/><stop offset="0.380" stop-color="#28dc50"/><stop offset="0.399" stop-color="#28dc50"/><stop offset="0.406" stop-color="#1eb2d8"/><stop offset="0.423" stop-color="#1eb2d8"/><stop offset="0.437" stop-color="#3d6cf0"/><stop offset="0.469" stop-color="#4848dc"/><stop offset="0.499" stop-color="#3e2aa8"/></linearGradient><linearGradient id="p17" gradientUnits="userSpaceOnUse" x1="0" y1="222" x2="0" y2="364.5"><stop offset="0.309" stop-color="#f8f71a"/><stop offset="0.366" stop-color="#f6ae3c"/><stop offset="0.378" stop-color="#f6ae3c"/><stop offset="0.384" stop-color="#28dc50"/><stop offset="0.403" stop-color="#28dc50"/><stop offset="0.410" stop-color="#1eb2d8"/><stop offset="0.426" stop-color="#1eb2d8"/><stop offset="0.440" stop-color="#3d6cf0"/><stop offset="0.469" stop-color="#4848dc"/><stop offset="0.497" stop-color="#3e2aa8"/></linearGradient><linearGradient id="p18" gradientUnits="userSpaceOnUse" x1="0" y1="222" x2="0" y2="364.5"><stop offset="0.301" stop-color="#f8f71a"/><stop offset="0.363" stop-color="#f6ae3c"/><stop offset="0.380" stop-color="#f6ae3c"/><stop offset="0.386" stop-color="#28dc50"/><stop offset="0.405" stop-color="#28dc50"/><stop offset="0.412" stop-color="#1eb2d8"/><stop offset="0.427" stop-color="#1eb2d8"/><stop offset="0.441" stop-color="#3d6cf0"/><stop offset="0.465" stop-color="#4848dc"/><stop offset="0.491" stop-color="#3e2aa8"/></linearGradient><linearGradient id="p19" gradientUnits="userSpaceOnUse" x1="0" y1="222" x2="0" y2="364.5"><stop offset="0.301" stop-color="#f8f71a"/><stop offset="0.364" stop-color="#f6ae3c"/><stop offset="0.381" stop-color="#f6ae3c"/><stop offset="0.388" stop-color="#28dc50"/><stop offset="0.407" stop-color="#28dc50"/><stop offset="0.414" stop-color="#1eb2d8"/><stop offset="0.428" stop-color="#1eb2d8"/><stop offset="0.442" stop-color="#3d6cf0"/><stop offset="0.474" stop-color="#4848dc"/><stop offset="0.504" stop-color="#3e2aa8"/></linearGradient><linearGradient id="p20" gradientUnits="userSpaceOnUse" x1="0" y1="222" x2="0" y2="364.5"><stop offset="0.315" stop-color="#f8f71a"/><stop offset="0.372" stop-color="#f6ae3c"/><stop offset="0.385" stop-color="#f6ae3c"/><stop offset="0.391" stop-color="#28dc50"/><stop offset="0.410" stop-color="#28dc50"/><stop offset="0.417" stop-color="#1eb2d8"/><stop offset="0.430" stop-color="#1eb2d8"/><stop offset="0.444" stop-color="#3d6cf0"/><stop offset="0.470" stop-color="#4848dc"/><stop offset="0.496" stop-color="#3e2aa8"/></linearGradient><linearGradient id="p21" gradientUnits="userSpaceOnUse" x1="0" y1="222" x2="0" y2="364.5"><stop offset="0.325" stop-color="#f8f71a"/><stop offset="0.380" stop-color="#f6ae3c"/><stop offset="0.390" stop-color="#f6ae3c"/><stop offset="0.397" stop-color="#28dc50"/><stop offset="0.416" stop-color="#28dc50"/><stop offset="0.423" stop-color="#1eb2d8"/><stop offset="0.436" stop-color="#1eb2d8"/><stop offset="0.450" stop-color="#3d6cf0"/><stop offset="0.482" stop-color="#4848dc"/><stop offset="0.512" stop-color="#3e2aa8"/></linearGradient><linearGradient id="p22" gradientUnits="userSpaceOnUse" x1="0" y1="222" x2="0" y2="364.5"><stop offset="0.334" stop-color="#f8f71a"/><stop offset="0.390" stop-color="#f6ae3c"/><stop offset="0.401" stop-color="#f6ae3c"/><stop offset="0.407" stop-color="#28dc50"/><stop offset="0.426" stop-color="#28dc50"/><stop offset="0.433" stop-color="#1eb2d8"/><stop offset="0.446" stop-color="#1eb2d8"/><stop offset="0.460" stop-color="#3d6cf0"/><stop offset="0.492" stop-color="#4848dc"/><stop offset="0.522" stop-color="#3e2aa8"/></linearGradient><linearGradient id="p23" gradientUnits="userSpaceOnUse" x1="0" y1="222" x2="0" y2="364.5"><stop offset="0.344" stop-color="#f8f71a"/><stop offset="0.400" stop-color="#f6ae3c"/><stop offset="0.411" stop-color="#f6ae3c"/><stop offset="0.417" stop-color="#28dc50"/><stop offset="0.436" stop-color="#28dc50"/><stop offset="0.443" stop-color="#1eb2d8"/><stop offset="0.456" stop-color="#1eb2d8"/><stop offset="0.470" stop-color="#3d6cf0"/><stop offset="0.499" stop-color="#4848dc"/><stop offset="0.527" stop-color="#3e2aa8"/></linearGradient><linearGradient id="p24" gradientUnits="userSpaceOnUse" x1="0" y1="222" x2="0" y2="364.5"><stop offset="0.349" stop-color="#f8f71a"/><stop offset="0.403" stop-color="#f6ae3c"/><stop offset="0.414" stop-color="#f6ae3c"/><stop offset="0.420" stop-color="#28dc50"/><stop offset="0.439" stop-color="#28dc50"/><stop offset="0.446" stop-color="#1eb2d8"/><stop offset="0.458" stop-color="#1eb2d8"/><stop offset="0.472" stop-color="#3d6cf0"/><stop offset="0.493" stop-color="#4848dc"/><stop offset="0.518" stop-color="#3e2aa8"/></linearGradient><linearGradient id="p25" gradientUnits="userSpaceOnUse" x1="0" y1="222" x2="0" y2="364.5"><stop offset="0.346" stop-color="#f8f71a"/><stop offset="0.404" stop-color="#f6ae3c"/><stop offset="0.418" stop-color="#f6ae3c"/><stop offset="0.424" stop-color="#28dc50"/><stop offset="0.443" stop-color="#28dc50"/><stop offset="0.450" stop-color="#1eb2d8"/><stop offset="0.463" stop-color="#1eb2d8"/><stop offset="0.477" stop-color="#3d6cf0"/><stop offset="0.499" stop-color="#4848dc"/><stop offset="0.525" stop-color="#3e2aa8"/></linearGradient><linearGradient id="p26" gradientUnits="userSpaceOnUse" x1="0" y1="222" x2="0" y2="364.5"><stop offset="0.357" stop-color="#f8f71a"/><stop offset="0.413" stop-color="#f6ae3c"/><stop offset="0.424" stop-color="#f6ae3c"/><stop offset="0.431" stop-color="#28dc50"/><stop offset="0.449" stop-color="#28dc50"/><stop offset="0.456" stop-color="#1eb2d8"/><stop offset="0.469" stop-color="#1eb2d8"/><stop offset="0.483" stop-color="#3d6cf0"/><stop offset="0.510" stop-color="#4848dc"/><stop offset="0.538" stop-color="#3e2aa8"/></linearGradient><linearGradient id="p27" gradientUnits="userSpaceOnUse" x1="0" y1="222" x2="0" y2="364.5"><stop offset="0.363" stop-color="#f8f71a"/><stop offset="0.420" stop-color="#f6ae3c"/><stop offset="0.433" stop-color="#f6ae3c"/><stop offset="0.439" stop-color="#28dc50"/><stop offset="0.458" stop-color="#28dc50"/><stop offset="0.465" stop-color="#1eb2d8"/><stop offset="0.477" stop-color="#1eb2d8"/><stop offset="0.491" stop-color="#3d6cf0"/><stop offset="0.511" stop-color="#4848dc"/><stop offset="0.535" stop-color="#3e2aa8"/></linearGradient><linearGradient id="p28" gradientUnits="userSpaceOnUse" x1="0" y1="222" x2="0" y2="364.5"><stop offset="0.346" stop-color="#f8f71a"/><stop offset="0.412" stop-color="#f6ae3c"/><stop offset="0.432" stop-color="#f6ae3c"/><stop offset="0.438" stop-color="#28dc50"/><stop offset="0.457" stop-color="#28dc50"/><stop offset="0.464" stop-color="#1eb2d8"/><stop offset="0.476" stop-color="#1eb2d8"/><stop offset="0.490" stop-color="#3d6cf0"/><stop offset="0.511" stop-color="#4848dc"/><stop offset="0.535" stop-color="#3e2aa8"/></linearGradient><linearGradient id="p29" gradientUnits="userSpaceOnUse" x1="0" y1="222" x2="0" y2="364.5"><stop offset="0.353" stop-color="#f8f71a"/><stop offset="0.413" stop-color="#f6ae3c"/><stop offset="0.428" stop-color="#f6ae3c"/><stop offset="0.435" stop-color="#28dc50"/><stop offset="0.454" stop-color="#28dc50"/><stop offset="0.461" stop-color="#1eb2d8"/><stop offset="0.473" stop-color="#1eb2d8"/><stop offset="0.487" stop-color="#3d6cf0"/><stop offset="0.521" stop-color="#4848dc"/><stop offset="0.552" stop-color="#3e2aa8"/></linearGradient><linearGradient id="p30" gradientUnits="userSpaceOnUse" x1="0" y1="222" x2="0" y2="364.5"><stop offset="0.362" stop-color="#f8f71a"/><stop offset="0.419" stop-color="#f6ae3c"/><stop offset="0.431" stop-color="#f6ae3c"/><stop offset="0.437" stop-color="#28dc50"/><stop offset="0.456" stop-color="#28dc50"/><stop offset="0.463" stop-color="#1eb2d8"/><stop offset="0.475" stop-color="#1eb2d8"/><stop offset="0.489" stop-color="#3d6cf0"/><stop offset="0.514" stop-color="#4848dc"/><stop offset="0.541" stop-color="#3e2aa8"/></linearGradient><linearGradient id="p31" gradientUnits="userSpaceOnUse" x1="0" y1="222" x2="0" y2="364.5"><stop offset="0.390" stop-color="#f8f71a"/><stop offset="0.437" stop-color="#f6ae3c"/><stop offset="0.442" stop-color="#f6ae3c"/><stop offset="0.448" stop-color="#28dc50"/><stop offset="0.467" stop-color="#28dc50"/><stop offset="0.474" stop-color="#1eb2d8"/><stop offset="0.486" stop-color="#1eb2d8"/><stop offset="0.500" stop-color="#3d6cf0"/><stop offset="0.524" stop-color="#4848dc"/><stop offset="0.551" stop-color="#3e2aa8"/></linearGradient><linearGradient id="p32" gradientUnits="userSpaceOnUse" x1="0" y1="222" x2="0" y2="364.5"><stop offset="0.409" stop-color="#f8f71a"/><stop offset="0.450" stop-color="#f6ae3c"/><stop offset="0.450" stop-color="#f6ae3c"/><stop offset="0.457" stop-color="#28dc50"/><stop offset="0.476" stop-color="#28dc50"/><stop offset="0.483" stop-color="#1eb2d8"/><stop offset="0.494" stop-color="#1eb2d8"/><stop offset="0.508" stop-color="#3d6cf0"/><stop offset="0.531" stop-color="#4848dc"/><stop offset="0.557" stop-color="#3e2aa8"/></linearGradient><linearGradient id="p33" gradientUnits="userSpaceOnUse" x1="0" y1="222" x2="0" y2="364.5"><stop offset="0.406" stop-color="#f8f71a"/><stop offset="0.450" stop-color="#f6ae3c"/><stop offset="0.453" stop-color="#f6ae3c"/><stop offset="0.459" stop-color="#28dc50"/><stop offset="0.478" stop-color="#28dc50"/><stop offset="0.485" stop-color="#1eb2d8"/><stop offset="0.496" stop-color="#1eb2d8"/><stop offset="0.510" stop-color="#3d6cf0"/><stop offset="0.530" stop-color="#4848dc"/><stop offset="0.554" stop-color="#3e2aa8"/></linearGradient><linearGradient id="p34" gradientUnits="userSpaceOnUse" x1="0" y1="222" x2="0" y2="364.5"><stop offset="0.402" stop-color="#f8f71a"/><stop offset="0.448" stop-color="#f6ae3c"/><stop offset="0.451" stop-color="#f6ae3c"/><stop offset="0.458" stop-color="#28dc50"/><stop offset="0.477" stop-color="#28dc50"/><stop offset="0.484" stop-color="#1eb2d8"/><stop offset="0.495" stop-color="#1eb2d8"/><stop offset="0.509" stop-color="#3d6cf0"/><stop offset="0.528" stop-color="#4848dc"/><stop offset="0.552" stop-color="#3e2aa8"/></linearGradient><linearGradient id="p35" gradientUnits="userSpaceOnUse" x1="0" y1="222" x2="0" y2="364.5"><stop offset="0.391" stop-color="#f8f71a"/><stop offset="0.444" stop-color="#f6ae3c"/><stop offset="0.453" stop-color="#f6ae3c"/><stop offset="0.459" stop-color="#28dc50"/><stop offset="0.478" stop-color="#28dc50"/><stop offset="0.485" stop-color="#1eb2d8"/><stop offset="0.496" stop-color="#1eb2d8"/><stop offset="0.510" stop-color="#3d6cf0"/><stop offset="0.536" stop-color="#4848dc"/><stop offset="0.563" stop-color="#3e2aa8"/></linearGradient><linearGradient id="p36" gradientUnits="userSpaceOnUse" x1="0" y1="222" x2="0" y2="364.5"><stop offset="0.386" stop-color="#f8f71a"/><stop offset="0.441" stop-color="#f6ae3c"/><stop offset="0.452" stop-color="#f6ae3c"/><stop offset="0.459" stop-color="#28dc50"/><stop offset="0.478" stop-color="#28dc50"/><stop offset="0.485" stop-color="#1eb2d8"/><stop offset="0.496" stop-color="#1eb2d8"/><stop offset="0.510" stop-color="#3d6cf0"/><stop offset="0.530" stop-color="#4848dc"/><stop offset="0.555" stop-color="#3e2aa8"/></linearGradient><linearGradient id="p37" gradientUnits="userSpaceOnUse" x1="0" y1="222" x2="0" y2="364.5"><stop offset="0.389" stop-color="#f8f71a"/><stop offset="0.443" stop-color="#f6ae3c"/><stop offset="0.453" stop-color="#f6ae3c"/><stop offset="0.460" stop-color="#28dc50"/><stop offset="0.479" stop-color="#28dc50"/><stop offset="0.486" stop-color="#1eb2d8"/><stop offset="0.497" stop-color="#1eb2d8"/><stop offset="0.511" stop-color="#3d6cf0"/><stop offset="0.534" stop-color="#4848dc"/><stop offset="0.560" stop-color="#3e2aa8"/></linearGradient><linearGradient id="p38" gradientUnits="userSpaceOnUse" x1="0" y1="222" x2="0" y2="364.5"><stop offset="0.387" stop-color="#f8f71a"/><stop offset="0.442" stop-color="#f6ae3c"/><stop offset="0.453" stop-color="#f6ae3c"/><stop offset="0.459" stop-color="#28dc50"/><stop offset="0.478" stop-color="#28dc50"/><stop offset="0.485" stop-color="#1eb2d8"/><stop offset="0.496" stop-color="#1eb2d8"/><stop offset="0.510" stop-color="#3d6cf0"/><stop offset="0.533" stop-color="#4848dc"/><stop offset="0.559" stop-color="#3e2aa8"/></linearGradient><linearGradient id="p39" gradientUnits="userSpaceOnUse" x1="0" y1="222" x2="0" y2="364.5"><stop offset="0.392" stop-color="#f8f71a"/><stop offset="0.447" stop-color="#f6ae3c"/><stop offset="0.457" stop-color="#f6ae3c"/><stop offset="0.464" stop-color="#28dc50"/><stop offset="0.483" stop-color="#28dc50"/><stop offset="0.490" stop-color="#1eb2d8"/><stop offset="0.500" stop-color="#1eb2d8"/><stop offset="0.514" stop-color="#3d6cf0"/><stop offset="0.533" stop-color="#4848dc"/><stop offset="0.557" stop-color="#3e2aa8"/></linearGradient><linearGradient id="p40" gradientUnits="userSpaceOnUse" x1="0" y1="222" x2="0" y2="364.5"><stop offset="0.399" stop-color="#f8f71a"/><stop offset="0.451" stop-color="#f6ae3c"/><stop offset="0.459" stop-color="#f6ae3c"/><stop offset="0.465" stop-color="#28dc50"/><stop offset="0.484" stop-color="#28dc50"/><stop offset="0.491" stop-color="#1eb2d8"/><stop offset="0.502" stop-color="#1eb2d8"/><stop offset="0.516" stop-color="#3d6cf0"/><stop offset="0.535" stop-color="#4848dc"/><stop offset="0.559" stop-color="#3e2aa8"/></linearGradient><linearGradient id="p41" gradientUnits="userSpaceOnUse" x1="0" y1="222" x2="0" y2="364.5"><stop offset="0.396" stop-color="#f8f71a"/><stop offset="0.449" stop-color="#f6ae3c"/><stop offset="0.459" stop-color="#f6ae3c"/><stop offset="0.465" stop-color="#28dc50"/><stop offset="0.484" stop-color="#28dc50"/><stop offset="0.491" stop-color="#1eb2d8"/><stop offset="0.502" stop-color="#1eb2d8"/><stop offset="0.516" stop-color="#3d6cf0"/><stop offset="0.538" stop-color="#4848dc"/><stop offset="0.563" stop-color="#3e2aa8"/></linearGradient><linearGradient id="p42" gradientUnits="userSpaceOnUse" x1="0" y1="222" x2="0" y2="364.5"><stop offset="0.394" stop-color="#f8f71a"/><stop offset="0.446" stop-color="#f6ae3c"/><stop offset="0.454" stop-color="#f6ae3c"/><stop offset="0.460" stop-color="#28dc50"/><stop offset="0.479" stop-color="#28dc50"/><stop offset="0.486" stop-color="#1eb2d8"/><stop offset="0.496" stop-color="#1eb2d8"/><stop offset="0.510" stop-color="#3d6cf0"/><stop offset="0.543" stop-color="#4848dc"/><stop offset="0.573" stop-color="#3e2aa8"/></linearGradient><linearGradient id="p43" gradientUnits="userSpaceOnUse" x1="0" y1="222" x2="0" y2="364.5"><stop offset="0.392" stop-color="#f8f71a"/><stop offset="0.442" stop-color="#f6ae3c"/><stop offset="0.449" stop-color="#f6ae3c"/><stop offset="0.455" stop-color="#28dc50"/><stop offset="0.474" stop-color="#28dc50"/><stop offset="0.481" stop-color="#1eb2d8"/><stop offset="0.491" stop-color="#1eb2d8"/><stop offset="0.505" stop-color="#3d6cf0"/><stop offset="0.532" stop-color="#4848dc"/><stop offset="0.560" stop-color="#3e2aa8"/></linearGradient><linearGradient id="p44" gradientUnits="userSpaceOnUse" x1="0" y1="222" x2="0" y2="364.5"><stop offset="0.398" stop-color="#f8f71a"/><stop offset="0.446" stop-color="#f6ae3c"/><stop offset="0.451" stop-color="#f6ae3c"/><stop offset="0.458" stop-color="#28dc50"/><stop offset="0.477" stop-color="#28dc50"/><stop offset="0.484" stop-color="#1eb2d8"/><stop offset="0.494" stop-color="#1eb2d8"/><stop offset="0.508" stop-color="#3d6cf0"/><stop offset="0.538" stop-color="#4848dc"/><stop offset="0.567" stop-color="#3e2aa8"/></linearGradient><linearGradient id="p45" gradientUnits="userSpaceOnUse" x1="0" y1="222" x2="0" y2="364.5"><stop offset="0.402" stop-color="#f8f71a"/><stop offset="0.446" stop-color="#f6ae3c"/><stop offset="0.448" stop-color="#f6ae3c"/><stop offset="0.455" stop-color="#28dc50"/><stop offset="0.474" stop-color="#28dc50"/><stop offset="0.481" stop-color="#1eb2d8"/><stop offset="0.491" stop-color="#1eb2d8"/><stop offset="0.505" stop-color="#3d6cf0"/><stop offset="0.528" stop-color="#4848dc"/><stop offset="0.554" stop-color="#3e2aa8"/></linearGradient><linearGradient id="p46" gradientUnits="userSpaceOnUse" x1="0" y1="222" x2="0" y2="364.5"><stop offset="0.403" stop-color="#f8f71a"/><stop offset="0.448" stop-color="#f6ae3c"/><stop offset="0.450" stop-color="#f6ae3c"/><stop offset="0.457" stop-color="#28dc50"/><stop offset="0.476" stop-color="#28dc50"/><stop offset="0.483" stop-color="#1eb2d8"/><stop offset="0.493" stop-color="#1eb2d8"/><stop offset="0.507" stop-color="#3d6cf0"/><stop offset="0.528" stop-color="#4848dc"/><stop offset="0.552" stop-color="#3e2aa8"/></linearGradient><linearGradient id="p47" gradientUnits="userSpaceOnUse" x1="0" y1="222" x2="0" y2="364.5"><stop offset="0.400" stop-color="#f8f71a"/><stop offset="0.447" stop-color="#f6ae3c"/><stop offset="0.452" stop-color="#f6ae3c"/><stop offset="0.458" stop-color="#28dc50"/><stop offset="0.477" stop-color="#28dc50"/><stop offset="0.484" stop-color="#1eb2d8"/><stop offset="0.494" stop-color="#1eb2d8"/><stop offset="0.508" stop-color="#3d6cf0"/><stop offset="0.526" stop-color="#4848dc"/><stop offset="0.550" stop-color="#3e2aa8"/></linearGradient><linearGradient id="p48" gradientUnits="userSpaceOnUse" x1="0" y1="222" x2="0" y2="364.5"><stop offset="0.402" stop-color="#f8f71a"/><stop offset="0.451" stop-color="#f6ae3c"/><stop offset="0.457" stop-color="#f6ae3c"/><stop offset="0.463" stop-color="#28dc50"/><stop offset="0.482" stop-color="#28dc50"/><stop offset="0.489" stop-color="#1eb2d8"/><stop offset="0.499" stop-color="#1eb2d8"/><stop offset="0.513" stop-color="#3d6cf0"/><stop offset="0.531" stop-color="#4848dc"/><stop offset="0.555" stop-color="#3e2aa8"/></linearGradient><linearGradient id="p49" gradientUnits="userSpaceOnUse" x1="0" y1="222" x2="0" y2="364.5"><stop offset="0.407" stop-color="#f8f71a"/><stop offset="0.455" stop-color="#f6ae3c"/><stop offset="0.460" stop-color="#f6ae3c"/><stop offset="0.466" stop-color="#28dc50"/><stop offset="0.485" stop-color="#28dc50"/><stop offset="0.492" stop-color="#1eb2d8"/><stop offset="0.502" stop-color="#1eb2d8"/><stop offset="0.516" stop-color="#3d6cf0"/><stop offset="0.532" stop-color="#4848dc"/><stop offset="0.555" stop-color="#3e2aa8"/></linearGradient><linearGradient id="p50" gradientUnits="userSpaceOnUse" x1="0" y1="222" x2="0" y2="364.5"><stop offset="0.413" stop-color="#f8f71a"/><stop offset="0.455" stop-color="#f6ae3c"/><stop offset="0.456" stop-color="#f6ae3c"/><stop offset="0.462" stop-color="#28dc50"/><stop offset="0.481" stop-color="#28dc50"/><stop offset="0.488" stop-color="#1eb2d8"/><stop offset="0.497" stop-color="#1eb2d8"/><stop offset="0.511" stop-color="#3d6cf0"/><stop offset="0.527" stop-color="#4848dc"/><stop offset="0.550" stop-color="#3e2aa8"/></linearGradient><linearGradient id="p51" gradientUnits="userSpaceOnUse" x1="0" y1="222" x2="0" y2="364.5"><stop offset="0.414" stop-color="#f8f71a"/><stop offset="0.456" stop-color="#f6ae3c"/><stop offset="0.457" stop-color="#f6ae3c"/><stop offset="0.463" stop-color="#28dc50"/><stop offset="0.482" stop-color="#28dc50"/><stop offset="0.489" stop-color="#1eb2d8"/><stop offset="0.498" stop-color="#1eb2d8"/><stop offset="0.512" stop-color="#3d6cf0"/><stop offset="0.531" stop-color="#4848dc"/><stop offset="0.555" stop-color="#3e2aa8"/></linearGradient><linearGradient id="p52" gradientUnits="userSpaceOnUse" x1="0" y1="222" x2="0" y2="364.5"><stop offset="0.419" stop-color="#f8f71a"/><stop offset="0.458" stop-color="#f6ae3c"/><stop offset="0.458" stop-color="#f6ae3c"/><stop offset="0.462" stop-color="#28dc50"/><stop offset="0.481" stop-color="#28dc50"/><stop offset="0.488" stop-color="#1eb2d8"/><stop offset="0.497" stop-color="#1eb2d8"/><stop offset="0.511" stop-color="#3d6cf0"/><stop offset="0.529" stop-color="#4848dc"/><stop offset="0.552" stop-color="#3e2aa8"/></linearGradient><linearGradient id="p53" gradientUnits="userSpaceOnUse" x1="0" y1="222" x2="0" y2="364.5"><stop offset="0.426" stop-color="#f8f71a"/><stop offset="0.464" stop-color="#f6ae3c"/><stop offset="0.464" stop-color="#f6ae3c"/><stop offset="0.468" stop-color="#28dc50"/><stop offset="0.487" stop-color="#28dc50"/><stop offset="0.494" stop-color="#1eb2d8"/><stop offset="0.504" stop-color="#1eb2d8"/><stop offset="0.518" stop-color="#3d6cf0"/><stop offset="0.535" stop-color="#4848dc"/><stop offset="0.558" stop-color="#3e2aa8"/></linearGradient><linearGradient id="p54" gradientUnits="userSpaceOnUse" x1="0" y1="222" x2="0" y2="364.5"><stop offset="0.410" stop-color="#f8f71a"/><stop offset="0.456" stop-color="#f6ae3c"/><stop offset="0.460" stop-color="#f6ae3c"/><stop offset="0.466" stop-color="#28dc50"/><stop offset="0.485" stop-color="#28dc50"/><stop offset="0.492" stop-color="#1eb2d8"/><stop offset="0.501" stop-color="#1eb2d8"/><stop offset="0.515" stop-color="#3d6cf0"/><stop offset="0.540" stop-color="#4848dc"/><stop offset="0.567" stop-color="#3e2aa8"/></linearGradient><linearGradient id="p55" gradientUnits="userSpaceOnUse" x1="0" y1="222" x2="0" y2="364.5"><stop offset="0.417" stop-color="#f8f71a"/><stop offset="0.462" stop-color="#f6ae3c"/><stop offset="0.465" stop-color="#f6ae3c"/><stop offset="0.471" stop-color="#28dc50"/><stop offset="0.490" stop-color="#28dc50"/><stop offset="0.497" stop-color="#1eb2d8"/><stop offset="0.506" stop-color="#1eb2d8"/><stop offset="0.520" stop-color="#3d6cf0"/><stop offset="0.537" stop-color="#4848dc"/><stop offset="0.561" stop-color="#3e2aa8"/></linearGradient><linearGradient id="n0" gradientUnits="userSpaceOnUse" x1="0" y1="222" x2="0" y2="363.5"><stop offset="0.422" stop-color="#3e2aa8"/><stop offset="0.439" stop-color="#4848dc"/><stop offset="0.454" stop-color="#3d6cf0"/><stop offset="0.492" stop-color="#3d6cf0"/><stop offset="0.506" stop-color="#1eb2d8"/><stop offset="0.511" stop-color="#1eb2d8"/><stop offset="0.517" stop-color="#28dc50"/><stop offset="0.531" stop-color="#28dc50"/><stop offset="0.540" stop-color="#f6ae3c"/><stop offset="0.570" stop-color="#f6ae3c"/><stop offset="0.612" stop-color="#f8f71a"/></linearGradient><linearGradient id="n1" gradientUnits="userSpaceOnUse" x1="0" y1="222" x2="0" y2="363.5"><stop offset="0.420" stop-color="#3e2aa8"/><stop offset="0.438" stop-color="#4848dc"/><stop offset="0.452" stop-color="#3d6cf0"/><stop offset="0.489" stop-color="#3d6cf0"/><stop offset="0.503" stop-color="#1eb2d8"/><stop offset="0.508" stop-color="#1eb2d8"/><stop offset="0.514" stop-color="#28dc50"/><stop offset="0.528" stop-color="#28dc50"/><stop offset="0.536" stop-color="#f6ae3c"/><stop offset="0.556" stop-color="#f6ae3c"/><stop offset="0.592" stop-color="#f8f71a"/></linearGradient><linearGradient id="n2" gradientUnits="userSpaceOnUse" x1="0" y1="222" x2="0" y2="363.5"><stop offset="0.424" stop-color="#3e2aa8"/><stop offset="0.442" stop-color="#4848dc"/><stop offset="0.456" stop-color="#3d6cf0"/><stop offset="0.487" stop-color="#3d6cf0"/><stop offset="0.501" stop-color="#1eb2d8"/><stop offset="0.506" stop-color="#1eb2d8"/><stop offset="0.512" stop-color="#28dc50"/><stop offset="0.526" stop-color="#28dc50"/><stop offset="0.535" stop-color="#f6ae3c"/><stop offset="0.553" stop-color="#f6ae3c"/><stop offset="0.588" stop-color="#f8f71a"/></linearGradient><linearGradient id="n3" gradientUnits="userSpaceOnUse" x1="0" y1="222" x2="0" y2="363.5"><stop offset="0.427" stop-color="#3e2aa8"/><stop offset="0.444" stop-color="#4848dc"/><stop offset="0.458" stop-color="#3d6cf0"/><stop offset="0.491" stop-color="#3d6cf0"/><stop offset="0.505" stop-color="#1eb2d8"/><stop offset="0.510" stop-color="#1eb2d8"/><stop offset="0.516" stop-color="#28dc50"/><stop offset="0.530" stop-color="#28dc50"/><stop offset="0.538" stop-color="#f6ae3c"/><stop offset="0.571" stop-color="#f6ae3c"/><stop offset="0.614" stop-color="#f8f71a"/></linearGradient><linearGradient id="n4" gradientUnits="userSpaceOnUse" x1="0" y1="222" x2="0" y2="363.5"><stop offset="0.421" stop-color="#3e2aa8"/><stop offset="0.439" stop-color="#4848dc"/><stop offset="0.453" stop-color="#3d6cf0"/><stop offset="0.491" stop-color="#3d6cf0"/><stop offset="0.505" stop-color="#1eb2d8"/><stop offset="0.510" stop-color="#1eb2d8"/><stop offset="0.516" stop-color="#28dc50"/><stop offset="0.530" stop-color="#28dc50"/><stop offset="0.538" stop-color="#f6ae3c"/><stop offset="0.572" stop-color="#f6ae3c"/><stop offset="0.615" stop-color="#f8f71a"/></linearGradient><linearGradient id="n5" gradientUnits="userSpaceOnUse" x1="0" y1="222" x2="0" y2="363.5"><stop offset="0.409" stop-color="#3e2aa8"/><stop offset="0.426" stop-color="#4848dc"/><stop offset="0.440" stop-color="#3d6cf0"/><stop offset="0.500" stop-color="#3d6cf0"/><stop offset="0.514" stop-color="#1eb2d8"/><stop offset="0.519" stop-color="#1eb2d8"/><stop offset="0.524" stop-color="#28dc50"/><stop offset="0.538" stop-color="#28dc50"/><stop offset="0.547" stop-color="#f6ae3c"/><stop offset="0.589" stop-color="#f6ae3c"/><stop offset="0.635" stop-color="#f8f71a"/></linearGradient><linearGradient id="n6" gradientUnits="userSpaceOnUse" x1="0" y1="222" x2="0" y2="363.5"><stop offset="0.393" stop-color="#3e2aa8"/><stop offset="0.411" stop-color="#4848dc"/><stop offset="0.425" stop-color="#3d6cf0"/><stop offset="0.502" stop-color="#3d6cf0"/><stop offset="0.516" stop-color="#1eb2d8"/><stop offset="0.521" stop-color="#1eb2d8"/><stop offset="0.527" stop-color="#28dc50"/><stop offset="0.541" stop-color="#28dc50"/><stop offset="0.550" stop-color="#f6ae3c"/><stop offset="0.581" stop-color="#f6ae3c"/><stop offset="0.623" stop-color="#f8f71a"/></linearGradient><linearGradient id="n7" gradientUnits="userSpaceOnUse" x1="0" y1="222" x2="0" y2="363.5"><stop offset="0.399" stop-color="#3e2aa8"/><stop offset="0.416" stop-color="#4848dc"/><stop offset="0.430" stop-color="#3d6cf0"/><stop offset="0.510" stop-color="#3d6cf0"/><stop offset="0.525" stop-color="#1eb2d8"/><stop offset="0.530" stop-color="#1eb2d8"/><stop offset="0.535" stop-color="#28dc50"/><stop offset="0.549" stop-color="#28dc50"/><stop offset="0.558" stop-color="#f6ae3c"/><stop offset="0.597" stop-color="#f6ae3c"/><stop offset="0.641" stop-color="#f8f71a"/></linearGradient><linearGradient id="n8" gradientUnits="userSpaceOnUse" x1="0" y1="222" x2="0" y2="363.5"><stop offset="0.405" stop-color="#3e2aa8"/><stop offset="0.423" stop-color="#4848dc"/><stop offset="0.437" stop-color="#3d6cf0"/><stop offset="0.515" stop-color="#3d6cf0"/><stop offset="0.529" stop-color="#1eb2d8"/><stop offset="0.534" stop-color="#1eb2d8"/><stop offset="0.540" stop-color="#28dc50"/><stop offset="0.554" stop-color="#28dc50"/><stop offset="0.562" stop-color="#f6ae3c"/><stop offset="0.609" stop-color="#f6ae3c"/><stop offset="0.656" stop-color="#f8f71a"/></linearGradient><linearGradient id="n9" gradientUnits="userSpaceOnUse" x1="0" y1="222" x2="0" y2="363.5"><stop offset="0.414" stop-color="#3e2aa8"/><stop offset="0.431" stop-color="#4848dc"/><stop offset="0.446" stop-color="#3d6cf0"/><stop offset="0.516" stop-color="#3d6cf0"/><stop offset="0.530" stop-color="#1eb2d8"/><stop offset="0.535" stop-color="#1eb2d8"/><stop offset="0.541" stop-color="#28dc50"/><stop offset="0.555" stop-color="#28dc50"/><stop offset="0.564" stop-color="#f6ae3c"/><stop offset="0.609" stop-color="#f6ae3c"/><stop offset="0.657" stop-color="#f8f71a"/></linearGradient><linearGradient id="n10" gradientUnits="userSpaceOnUse" x1="0" y1="222" x2="0" y2="363.5"><stop offset="0.416" stop-color="#3e2aa8"/><stop offset="0.433" stop-color="#4848dc"/><stop offset="0.448" stop-color="#3d6cf0"/><stop offset="0.520" stop-color="#3d6cf0"/><stop offset="0.535" stop-color="#1eb2d8"/><stop offset="0.540" stop-color="#1eb2d8"/><stop offset="0.545" stop-color="#28dc50"/><stop offset="0.559" stop-color="#28dc50"/><stop offset="0.568" stop-color="#f6ae3c"/><stop offset="0.607" stop-color="#f6ae3c"/><stop offset="0.652" stop-color="#f8f71a"/></linearGradient><linearGradient id="n11" gradientUnits="userSpaceOnUse" x1="0" y1="222" x2="0" y2="363.5"><stop offset="0.422" stop-color="#3e2aa8"/><stop offset="0.439" stop-color="#4848dc"/><stop offset="0.453" stop-color="#3d6cf0"/><stop offset="0.523" stop-color="#3d6cf0"/><stop offset="0.537" stop-color="#1eb2d8"/><stop offset="0.542" stop-color="#1eb2d8"/><stop offset="0.548" stop-color="#28dc50"/><stop offset="0.562" stop-color="#28dc50"/><stop offset="0.570" stop-color="#f6ae3c"/><stop offset="0.621" stop-color="#f6ae3c"/><stop offset="0.671" stop-color="#f8f71a"/></linearGradient><linearGradient id="n12" gradientUnits="userSpaceOnUse" x1="0" y1="222" x2="0" y2="363.5"><stop offset="0.437" stop-color="#3e2aa8"/><stop offset="0.455" stop-color="#4848dc"/><stop offset="0.469" stop-color="#3d6cf0"/><stop offset="0.522" stop-color="#3d6cf0"/><stop offset="0.536" stop-color="#1eb2d8"/><stop offset="0.541" stop-color="#1eb2d8"/><stop offset="0.547" stop-color="#28dc50"/><stop offset="0.561" stop-color="#28dc50"/><stop offset="0.569" stop-color="#f6ae3c"/><stop offset="0.630" stop-color="#f6ae3c"/><stop offset="0.684" stop-color="#f8f71a"/></linearGradient><linearGradient id="n13" gradientUnits="userSpaceOnUse" x1="0" y1="222" x2="0" y2="363.5"><stop offset="0.450" stop-color="#3e2aa8"/><stop offset="0.468" stop-color="#4848dc"/><stop offset="0.482" stop-color="#3d6cf0"/><stop offset="0.520" stop-color="#3d6cf0"/><stop offset="0.534" stop-color="#1eb2d8"/><stop offset="0.539" stop-color="#1eb2d8"/><stop offset="0.545" stop-color="#28dc50"/><stop offset="0.559" stop-color="#28dc50"/><stop offset="0.567" stop-color="#f6ae3c"/><stop offset="0.612" stop-color="#f6ae3c"/><stop offset="0.659" stop-color="#f8f71a"/></linearGradient><linearGradient id="n14" gradientUnits="userSpaceOnUse" x1="0" y1="222" x2="0" y2="363.5"><stop offset="0.458" stop-color="#3e2aa8"/><stop offset="0.475" stop-color="#4848dc"/><stop offset="0.489" stop-color="#3d6cf0"/><stop offset="0.520" stop-color="#3d6cf0"/><stop offset="0.534" stop-color="#1eb2d8"/><stop offset="0.539" stop-color="#1eb2d8"/><stop offset="0.545" stop-color="#28dc50"/><stop offset="0.559" stop-color="#28dc50"/><stop offset="0.568" stop-color="#f6ae3c"/><stop offset="0.603" stop-color="#f6ae3c"/><stop offset="0.646" stop-color="#f8f71a"/></linearGradient><linearGradient id="n15" gradientUnits="userSpaceOnUse" x1="0" y1="222" x2="0" y2="363.5"><stop offset="0.459" stop-color="#3e2aa8"/><stop offset="0.476" stop-color="#4848dc"/><stop offset="0.490" stop-color="#3d6cf0"/><stop offset="0.524" stop-color="#3d6cf0"/><stop offset="0.539" stop-color="#1eb2d8"/><stop offset="0.544" stop-color="#1eb2d8"/><stop offset="0.549" stop-color="#28dc50"/><stop offset="0.563" stop-color="#28dc50"/><stop offset="0.572" stop-color="#f6ae3c"/><stop offset="0.600" stop-color="#f6ae3c"/><stop offset="0.639" stop-color="#f8f71a"/></linearGradient><linearGradient id="n16" gradientUnits="userSpaceOnUse" x1="0" y1="222" x2="0" y2="363.5"><stop offset="0.459" stop-color="#3e2aa8"/><stop offset="0.476" stop-color="#4848dc"/><stop offset="0.490" stop-color="#3d6cf0"/><stop offset="0.524" stop-color="#3d6cf0"/><stop offset="0.538" stop-color="#1eb2d8"/><stop offset="0.543" stop-color="#1eb2d8"/><stop offset="0.549" stop-color="#28dc50"/><stop offset="0.563" stop-color="#28dc50"/><stop offset="0.571" stop-color="#f6ae3c"/><stop offset="0.603" stop-color="#f6ae3c"/><stop offset="0.644" stop-color="#f8f71a"/></linearGradient><linearGradient id="n17" gradientUnits="userSpaceOnUse" x1="0" y1="222" x2="0" y2="363.5"><stop offset="0.454" stop-color="#3e2aa8"/><stop offset="0.472" stop-color="#4848dc"/><stop offset="0.486" stop-color="#3d6cf0"/><stop offset="0.531" stop-color="#3d6cf0"/><stop offset="0.545" stop-color="#1eb2d8"/><stop offset="0.550" stop-color="#1eb2d8"/><stop offset="0.556" stop-color="#28dc50"/><stop offset="0.570" stop-color="#28dc50"/><stop offset="0.579" stop-color="#f6ae3c"/><stop offset="0.621" stop-color="#f6ae3c"/><stop offset="0.667" stop-color="#f8f71a"/></linearGradient><linearGradient id="n18" gradientUnits="userSpaceOnUse" x1="0" y1="222" x2="0" y2="363.5"><stop offset="0.451" stop-color="#3e2aa8"/><stop offset="0.469" stop-color="#4848dc"/><stop offset="0.483" stop-color="#3d6cf0"/><stop offset="0.540" stop-color="#3d6cf0"/><stop offset="0.554" stop-color="#1eb2d8"/><stop offset="0.559" stop-color="#1eb2d8"/><stop offset="0.565" stop-color="#28dc50"/><stop offset="0.579" stop-color="#28dc50"/><stop offset="0.587" stop-color="#f6ae3c"/><stop offset="0.616" stop-color="#f6ae3c"/><stop offset="0.656" stop-color="#f8f71a"/></linearGradient><linearGradient id="n19" gradientUnits="userSpaceOnUse" x1="0" y1="222" x2="0" y2="363.5"><stop offset="0.446" stop-color="#3e2aa8"/><stop offset="0.464" stop-color="#4848dc"/><stop offset="0.478" stop-color="#3d6cf0"/><stop offset="0.535" stop-color="#3d6cf0"/><stop offset="0.549" stop-color="#1eb2d8"/><stop offset="0.554" stop-color="#1eb2d8"/><stop offset="0.559" stop-color="#28dc50"/><stop offset="0.574" stop-color="#28dc50"/><stop offset="0.582" stop-color="#f6ae3c"/><stop offset="0.623" stop-color="#f6ae3c"/><stop offset="0.668" stop-color="#f8f71a"/></linearGradient><linearGradient id="n20" gradientUnits="userSpaceOnUse" x1="0" y1="222" x2="0" y2="363.5"><stop offset="0.449" stop-color="#3e2aa8"/><stop offset="0.467" stop-color="#4848dc"/><stop offset="0.481" stop-color="#3d6cf0"/><stop offset="0.523" stop-color="#3d6cf0"/><stop offset="0.538" stop-color="#1eb2d8"/><stop offset="0.542" stop-color="#1eb2d8"/><stop offset="0.548" stop-color="#28dc50"/><stop offset="0.562" stop-color="#28dc50"/><stop offset="0.571" stop-color="#f6ae3c"/><stop offset="0.627" stop-color="#f6ae3c"/><stop offset="0.679" stop-color="#f8f71a"/></linearGradient><linearGradient id="n21" gradientUnits="userSpaceOnUse" x1="0" y1="222" x2="0" y2="363.5"><stop offset="0.444" stop-color="#3e2aa8"/><stop offset="0.462" stop-color="#4848dc"/><stop offset="0.476" stop-color="#3d6cf0"/><stop offset="0.511" stop-color="#3d6cf0"/><stop offset="0.525" stop-color="#1eb2d8"/><stop offset="0.530" stop-color="#1eb2d8"/><stop offset="0.535" stop-color="#28dc50"/><stop offset="0.550" stop-color="#28dc50"/><stop offset="0.558" stop-color="#f6ae3c"/><stop offset="0.608" stop-color="#f6ae3c"/><stop offset="0.657" stop-color="#f8f71a"/></linearGradient><linearGradient id="n22" gradientUnits="userSpaceOnUse" x1="0" y1="222" x2="0" y2="363.5"><stop offset="0.447" stop-color="#3e2aa8"/><stop offset="0.465" stop-color="#4848dc"/><stop offset="0.479" stop-color="#3d6cf0"/><stop offset="0.511" stop-color="#3d6cf0"/><stop offset="0.525" stop-color="#1eb2d8"/><stop offset="0.530" stop-color="#1eb2d8"/><stop offset="0.535" stop-color="#28dc50"/><stop offset="0.549" stop-color="#28dc50"/><stop offset="0.558" stop-color="#f6ae3c"/><stop offset="0.619" stop-color="#f6ae3c"/><stop offset="0.673" stop-color="#f8f71a"/></linearGradient><linearGradient id="n23" gradientUnits="userSpaceOnUse" x1="0" y1="222" x2="0" y2="363.5"><stop offset="0.452" stop-color="#3e2aa8"/><stop offset="0.470" stop-color="#4848dc"/><stop offset="0.484" stop-color="#3d6cf0"/><stop offset="0.525" stop-color="#3d6cf0"/><stop offset="0.539" stop-color="#1eb2d8"/><stop offset="0.544" stop-color="#1eb2d8"/><stop offset="0.550" stop-color="#28dc50"/><stop offset="0.564" stop-color="#28dc50"/><stop offset="0.573" stop-color="#f6ae3c"/><stop offset="0.623" stop-color="#f6ae3c"/><stop offset="0.673" stop-color="#f8f71a"/></linearGradient><linearGradient id="n24" gradientUnits="userSpaceOnUse" x1="0" y1="222" x2="0" y2="363.5"><stop offset="0.469" stop-color="#3e2aa8"/><stop offset="0.487" stop-color="#4848dc"/><stop offset="0.501" stop-color="#3d6cf0"/><stop offset="0.541" stop-color="#3d6cf0"/><stop offset="0.556" stop-color="#1eb2d8"/><stop offset="0.561" stop-color="#1eb2d8"/><stop offset="0.566" stop-color="#28dc50"/><stop offset="0.580" stop-color="#28dc50"/><stop offset="0.589" stop-color="#f6ae3c"/><stop offset="0.628" stop-color="#f6ae3c"/><stop offset="0.673" stop-color="#f8f71a"/></linearGradient><linearGradient id="n25" gradientUnits="userSpaceOnUse" x1="0" y1="222" x2="0" y2="363.5"><stop offset="0.485" stop-color="#3e2aa8"/><stop offset="0.502" stop-color="#4848dc"/><stop offset="0.516" stop-color="#3d6cf0"/><stop offset="0.557" stop-color="#3d6cf0"/><stop offset="0.571" stop-color="#1eb2d8"/><stop offset="0.576" stop-color="#1eb2d8"/><stop offset="0.582" stop-color="#28dc50"/><stop offset="0.596" stop-color="#28dc50"/><stop offset="0.604" stop-color="#f6ae3c"/><stop offset="0.642" stop-color="#f6ae3c"/><stop offset="0.685" stop-color="#f8f71a"/></linearGradient><linearGradient id="n26" gradientUnits="userSpaceOnUse" x1="0" y1="222" x2="0" y2="363.5"><stop offset="0.493" stop-color="#3e2aa8"/><stop offset="0.511" stop-color="#4848dc"/><stop offset="0.525" stop-color="#3d6cf0"/><stop offset="0.566" stop-color="#3d6cf0"/><stop offset="0.580" stop-color="#1eb2d8"/><stop offset="0.585" stop-color="#1eb2d8"/><stop offset="0.591" stop-color="#28dc50"/><stop offset="0.605" stop-color="#28dc50"/><stop offset="0.613" stop-color="#f6ae3c"/><stop offset="0.650" stop-color="#f6ae3c"/><stop offset="0.694" stop-color="#f8f71a"/></linearGradient><linearGradient id="n27" gradientUnits="userSpaceOnUse" x1="0" y1="222" x2="0" y2="363.5"><stop offset="0.503" stop-color="#3e2aa8"/><stop offset="0.521" stop-color="#4848dc"/><stop offset="0.535" stop-color="#3d6cf0"/><stop offset="0.573" stop-color="#3d6cf0"/><stop offset="0.587" stop-color="#1eb2d8"/><stop offset="0.592" stop-color="#1eb2d8"/><stop offset="0.598" stop-color="#28dc50"/><stop offset="0.612" stop-color="#28dc50"/><stop offset="0.620" stop-color="#f6ae3c"/><stop offset="0.671" stop-color="#f6ae3c"/><stop offset="0.720" stop-color="#f8f71a"/></linearGradient><linearGradient id="n28" gradientUnits="userSpaceOnUse" x1="0" y1="222" x2="0" y2="363.5"><stop offset="0.525" stop-color="#3e2aa8"/><stop offset="0.543" stop-color="#4848dc"/><stop offset="0.557" stop-color="#3d6cf0"/><stop offset="0.583" stop-color="#3d6cf0"/><stop offset="0.597" stop-color="#1eb2d8"/><stop offset="0.602" stop-color="#1eb2d8"/><stop offset="0.608" stop-color="#28dc50"/><stop offset="0.622" stop-color="#28dc50"/><stop offset="0.630" stop-color="#f6ae3c"/><stop offset="0.666" stop-color="#f6ae3c"/><stop offset="0.708" stop-color="#f8f71a"/></linearGradient><linearGradient id="n29" gradientUnits="userSpaceOnUse" x1="0" y1="222" x2="0" y2="363.5"><stop offset="0.536" stop-color="#3e2aa8"/><stop offset="0.553" stop-color="#4848dc"/><stop offset="0.567" stop-color="#3d6cf0"/><stop offset="0.588" stop-color="#3d6cf0"/><stop offset="0.602" stop-color="#1eb2d8"/><stop offset="0.607" stop-color="#1eb2d8"/><stop offset="0.613" stop-color="#28dc50"/><stop offset="0.627" stop-color="#28dc50"/><stop offset="0.636" stop-color="#f6ae3c"/><stop offset="0.667" stop-color="#f6ae3c"/><stop offset="0.708" stop-color="#f8f71a"/></linearGradient><linearGradient id="n30" gradientUnits="userSpaceOnUse" x1="0" y1="222" x2="0" y2="363.5"><stop offset="0.538" stop-color="#3e2aa8"/><stop offset="0.556" stop-color="#4848dc"/><stop offset="0.570" stop-color="#3d6cf0"/><stop offset="0.592" stop-color="#3d6cf0"/><stop offset="0.607" stop-color="#1eb2d8"/><stop offset="0.611" stop-color="#1eb2d8"/><stop offset="0.617" stop-color="#28dc50"/><stop offset="0.631" stop-color="#28dc50"/><stop offset="0.640" stop-color="#f6ae3c"/><stop offset="0.674" stop-color="#f6ae3c"/><stop offset="0.717" stop-color="#f8f71a"/></linearGradient><linearGradient id="n31" gradientUnits="userSpaceOnUse" x1="0" y1="222" x2="0" y2="363.5"><stop offset="0.524" stop-color="#3e2aa8"/><stop offset="0.541" stop-color="#4848dc"/><stop offset="0.555" stop-color="#3d6cf0"/><stop offset="0.597" stop-color="#3d6cf0"/><stop offset="0.611" stop-color="#1eb2d8"/><stop offset="0.616" stop-color="#1eb2d8"/><stop offset="0.622" stop-color="#28dc50"/><stop offset="0.636" stop-color="#28dc50"/><stop offset="0.644" stop-color="#f6ae3c"/><stop offset="0.674" stop-color="#f6ae3c"/><stop offset="0.715" stop-color="#f8f71a"/></linearGradient><linearGradient id="n32" gradientUnits="userSpaceOnUse" x1="0" y1="222" x2="0" y2="363.5"><stop offset="0.537" stop-color="#3e2aa8"/><stop offset="0.554" stop-color="#4848dc"/><stop offset="0.569" stop-color="#3d6cf0"/><stop offset="0.605" stop-color="#3d6cf0"/><stop offset="0.619" stop-color="#1eb2d8"/><stop offset="0.624" stop-color="#1eb2d8"/><stop offset="0.630" stop-color="#28dc50"/><stop offset="0.644" stop-color="#28dc50"/><stop offset="0.652" stop-color="#f6ae3c"/><stop offset="0.686" stop-color="#f6ae3c"/><stop offset="0.729" stop-color="#f8f71a"/></linearGradient><linearGradient id="n33" gradientUnits="userSpaceOnUse" x1="0" y1="222" x2="0" y2="363.5"><stop offset="0.548" stop-color="#3e2aa8"/><stop offset="0.565" stop-color="#4848dc"/><stop offset="0.579" stop-color="#3d6cf0"/><stop offset="0.611" stop-color="#3d6cf0"/><stop offset="0.625" stop-color="#1eb2d8"/><stop offset="0.630" stop-color="#1eb2d8"/><stop offset="0.636" stop-color="#28dc50"/><stop offset="0.650" stop-color="#28dc50"/><stop offset="0.658" stop-color="#f6ae3c"/><stop offset="0.691" stop-color="#f6ae3c"/><stop offset="0.732" stop-color="#f8f71a"/></linearGradient><linearGradient id="n34" gradientUnits="userSpaceOnUse" x1="0" y1="222" x2="0" y2="363.5"><stop offset="0.570" stop-color="#3e2aa8"/><stop offset="0.588" stop-color="#4848dc"/><stop offset="0.602" stop-color="#3d6cf0"/><stop offset="0.617" stop-color="#3d6cf0"/><stop offset="0.631" stop-color="#1eb2d8"/><stop offset="0.636" stop-color="#1eb2d8"/><stop offset="0.642" stop-color="#28dc50"/><stop offset="0.656" stop-color="#28dc50"/><stop offset="0.664" stop-color="#f6ae3c"/><stop offset="0.711" stop-color="#f6ae3c"/><stop offset="0.759" stop-color="#f8f71a"/></linearGradient><linearGradient id="n35" gradientUnits="userSpaceOnUse" x1="0" y1="222" x2="0" y2="363.5"><stop offset="0.575" stop-color="#3e2aa8"/><stop offset="0.592" stop-color="#4848dc"/><stop offset="0.606" stop-color="#3d6cf0"/><stop offset="0.621" stop-color="#3d6cf0"/><stop offset="0.635" stop-color="#1eb2d8"/><stop offset="0.640" stop-color="#1eb2d8"/><stop offset="0.646" stop-color="#28dc50"/><stop offset="0.660" stop-color="#28dc50"/><stop offset="0.668" stop-color="#f6ae3c"/><stop offset="0.709" stop-color="#f6ae3c"/><stop offset="0.754" stop-color="#f8f71a"/></linearGradient><linearGradient id="n36" gradientUnits="userSpaceOnUse" x1="0" y1="222" x2="0" y2="363.5"><stop offset="0.585" stop-color="#3e2aa8"/><stop offset="0.602" stop-color="#4848dc"/><stop offset="0.617" stop-color="#3d6cf0"/><stop offset="0.629" stop-color="#3d6cf0"/><stop offset="0.643" stop-color="#1eb2d8"/><stop offset="0.648" stop-color="#1eb2d8"/><stop offset="0.654" stop-color="#28dc50"/><stop offset="0.668" stop-color="#28dc50"/><stop offset="0.677" stop-color="#f6ae3c"/><stop offset="0.715" stop-color="#f6ae3c"/><stop offset="0.760" stop-color="#f8f71a"/></linearGradient><linearGradient id="n37" gradientUnits="userSpaceOnUse" x1="0" y1="222" x2="0" y2="363.5"><stop offset="0.582" stop-color="#3e2aa8"/><stop offset="0.600" stop-color="#4848dc"/><stop offset="0.614" stop-color="#3d6cf0"/><stop offset="0.637" stop-color="#3d6cf0"/><stop offset="0.651" stop-color="#1eb2d8"/><stop offset="0.656" stop-color="#1eb2d8"/><stop offset="0.662" stop-color="#28dc50"/><stop offset="0.676" stop-color="#28dc50"/><stop offset="0.684" stop-color="#f6ae3c"/><stop offset="0.731" stop-color="#f6ae3c"/><stop offset="0.778" stop-color="#f8f71a"/></linearGradient><linearGradient id="n38" gradientUnits="userSpaceOnUse" x1="0" y1="222" x2="0" y2="363.5"><stop offset="0.592" stop-color="#3e2aa8"/><stop offset="0.609" stop-color="#4848dc"/><stop offset="0.624" stop-color="#3d6cf0"/><stop offset="0.643" stop-color="#3d6cf0"/><stop offset="0.657" stop-color="#1eb2d8"/><stop offset="0.662" stop-color="#1eb2d8"/><stop offset="0.668" stop-color="#28dc50"/><stop offset="0.682" stop-color="#28dc50"/><stop offset="0.691" stop-color="#f6ae3c"/><stop offset="0.735" stop-color="#f6ae3c"/><stop offset="0.782" stop-color="#f8f71a"/></linearGradient><linearGradient id="n39" gradientUnits="userSpaceOnUse" x1="0" y1="222" x2="0" y2="363.5"><stop offset="0.590" stop-color="#3e2aa8"/><stop offset="0.608" stop-color="#4848dc"/><stop offset="0.622" stop-color="#3d6cf0"/><stop offset="0.652" stop-color="#3d6cf0"/><stop offset="0.667" stop-color="#1eb2d8"/><stop offset="0.672" stop-color="#1eb2d8"/><stop offset="0.677" stop-color="#28dc50"/><stop offset="0.691" stop-color="#28dc50"/><stop offset="0.700" stop-color="#f6ae3c"/><stop offset="0.741" stop-color="#f6ae3c"/><stop offset="0.787" stop-color="#f8f71a"/></linearGradient><linearGradient id="n40" gradientUnits="userSpaceOnUse" x1="0" y1="222" x2="0" y2="363.5"><stop offset="0.588" stop-color="#3e2aa8"/><stop offset="0.606" stop-color="#4848dc"/><stop offset="0.620" stop-color="#3d6cf0"/><stop offset="0.655" stop-color="#3d6cf0"/><stop offset="0.669" stop-color="#1eb2d8"/><stop offset="0.674" stop-color="#1eb2d8"/><stop offset="0.680" stop-color="#28dc50"/><stop offset="0.694" stop-color="#28dc50"/><stop offset="0.703" stop-color="#f6ae3c"/><stop offset="0.754" stop-color="#f6ae3c"/><stop offset="0.804" stop-color="#f8f71a"/></linearGradient><linearGradient id="n41" gradientUnits="userSpaceOnUse" x1="0" y1="222" x2="0" y2="363.5"><stop offset="0.587" stop-color="#3e2aa8"/><stop offset="0.605" stop-color="#4848dc"/><stop offset="0.619" stop-color="#3d6cf0"/><stop offset="0.658" stop-color="#3d6cf0"/><stop offset="0.672" stop-color="#1eb2d8"/><stop offset="0.677" stop-color="#1eb2d8"/><stop offset="0.683" stop-color="#28dc50"/><stop offset="0.697" stop-color="#28dc50"/><stop offset="0.706" stop-color="#f6ae3c"/><stop offset="0.753" stop-color="#f6ae3c"/><stop offset="0.802" stop-color="#f8f71a"/></linearGradient><linearGradient id="n42" gradientUnits="userSpaceOnUse" x1="0" y1="222" x2="0" y2="363.5"><stop offset="0.583" stop-color="#3e2aa8"/><stop offset="0.600" stop-color="#4848dc"/><stop offset="0.614" stop-color="#3d6cf0"/><stop offset="0.655" stop-color="#3d6cf0"/><stop offset="0.669" stop-color="#1eb2d8"/><stop offset="0.674" stop-color="#1eb2d8"/><stop offset="0.680" stop-color="#28dc50"/><stop offset="0.694" stop-color="#28dc50"/><stop offset="0.703" stop-color="#f6ae3c"/><stop offset="0.751" stop-color="#f6ae3c"/><stop offset="0.800" stop-color="#f8f71a"/></linearGradient><linearGradient id="n43" gradientUnits="userSpaceOnUse" x1="0" y1="222" x2="0" y2="363.5"><stop offset="0.598" stop-color="#3e2aa8"/><stop offset="0.615" stop-color="#4848dc"/><stop offset="0.630" stop-color="#3d6cf0"/><stop offset="0.662" stop-color="#3d6cf0"/><stop offset="0.676" stop-color="#1eb2d8"/><stop offset="0.681" stop-color="#1eb2d8"/><stop offset="0.687" stop-color="#28dc50"/><stop offset="0.701" stop-color="#28dc50"/><stop offset="0.710" stop-color="#f6ae3c"/><stop offset="0.750" stop-color="#f6ae3c"/><stop offset="0.796" stop-color="#f8f71a"/></linearGradient><linearGradient id="n44" gradientUnits="userSpaceOnUse" x1="0" y1="222" x2="0" y2="363.5"><stop offset="0.604" stop-color="#3e2aa8"/><stop offset="0.622" stop-color="#4848dc"/><stop offset="0.636" stop-color="#3d6cf0"/><stop offset="0.670" stop-color="#3d6cf0"/><stop offset="0.684" stop-color="#1eb2d8"/><stop offset="0.689" stop-color="#1eb2d8"/><stop offset="0.694" stop-color="#28dc50"/><stop offset="0.709" stop-color="#28dc50"/><stop offset="0.717" stop-color="#f6ae3c"/><stop offset="0.765" stop-color="#f6ae3c"/><stop offset="0.813" stop-color="#f8f71a"/></linearGradient><linearGradient id="n45" gradientUnits="userSpaceOnUse" x1="0" y1="222" x2="0" y2="363.5"><stop offset="0.616" stop-color="#3e2aa8"/><stop offset="0.633" stop-color="#4848dc"/><stop offset="0.647" stop-color="#3d6cf0"/><stop offset="0.672" stop-color="#3d6cf0"/><stop offset="0.686" stop-color="#1eb2d8"/><stop offset="0.691" stop-color="#1eb2d8"/><stop offset="0.696" stop-color="#28dc50"/><stop offset="0.710" stop-color="#28dc50"/><stop offset="0.719" stop-color="#f6ae3c"/><stop offset="0.759" stop-color="#f6ae3c"/><stop offset="0.804" stop-color="#f8f71a"/></linearGradient><linearGradient id="n46" gradientUnits="userSpaceOnUse" x1="0" y1="222" x2="0" y2="363.5"><stop offset="0.614" stop-color="#3e2aa8"/><stop offset="0.632" stop-color="#4848dc"/><stop offset="0.646" stop-color="#3d6cf0"/><stop offset="0.671" stop-color="#3d6cf0"/><stop offset="0.685" stop-color="#1eb2d8"/><stop offset="0.690" stop-color="#1eb2d8"/><stop offset="0.696" stop-color="#28dc50"/><stop offset="0.710" stop-color="#28dc50"/><stop offset="0.718" stop-color="#f6ae3c"/><stop offset="0.755" stop-color="#f6ae3c"/><stop offset="0.799" stop-color="#f8f71a"/></linearGradient><linearGradient id="n47" gradientUnits="userSpaceOnUse" x1="0" y1="222" x2="0" y2="363.5"><stop offset="0.611" stop-color="#3e2aa8"/><stop offset="0.629" stop-color="#4848dc"/><stop offset="0.643" stop-color="#3d6cf0"/><stop offset="0.671" stop-color="#3d6cf0"/><stop offset="0.685" stop-color="#1eb2d8"/><stop offset="0.690" stop-color="#1eb2d8"/><stop offset="0.695" stop-color="#28dc50"/><stop offset="0.710" stop-color="#28dc50"/><stop offset="0.718" stop-color="#f6ae3c"/><stop offset="0.761" stop-color="#f6ae3c"/><stop offset="0.807" stop-color="#f8f71a"/></linearGradient><linearGradient id="n48" gradientUnits="userSpaceOnUse" x1="0" y1="222" x2="0" y2="363.5"><stop offset="0.613" stop-color="#3e2aa8"/><stop offset="0.631" stop-color="#4848dc"/><stop offset="0.645" stop-color="#3d6cf0"/><stop offset="0.670" stop-color="#3d6cf0"/><stop offset="0.684" stop-color="#1eb2d8"/><stop offset="0.689" stop-color="#1eb2d8"/><stop offset="0.695" stop-color="#28dc50"/><stop offset="0.709" stop-color="#28dc50"/><stop offset="0.718" stop-color="#f6ae3c"/><stop offset="0.771" stop-color="#f6ae3c"/><stop offset="0.821" stop-color="#f8f71a"/></linearGradient><filter id="fb" x="-5%" y="-5%" width="110%" height="110%"><feGaussianBlur stdDeviation="0.9"/></filter><clipPath id="cpp"><rect x="512.1" y="222" width="83.3" height="142.5"/></clipPath><clipPath id="cpn"><rect x="622.1" y="222" width="72.6" height="141.5"/></clipPath></defs><g clip-path="url(#cpp)"><g filter="url(#fb)"><rect x="511.8" y="218" width="2.1" height="150" fill="url(#p0)"/><rect x="513.3" y="218" width="2.1" height="150" fill="url(#p1)"/><rect x="514.8" y="218" width="2.1" height="150" fill="url(#p2)"/><rect x="516.3" y="218" width="2.1" height="150" fill="url(#p3)"/><rect x="517.8" y="218" width="2.1" height="150" fill="url(#p4)"/><rect x="519.3" y="218" width="2.1" height="150" fill="url(#p5)"/><rect x="520.8" y="218" width="2.1" height="150" fill="url(#p6)"/><rect x="522.3" y="218" width="2.1" height="150" fill="url(#p7)"/><rect x="523.8" y="218" width="2.1" height="150" fill="url(#p8)"/><rect x="525.3" y="218" width="2.1" height="150" fill="url(#p9)"/><rect x="526.8" y="218" width="2.1" height="150" fill="url(#p10)"/><rect x="528.3" y="218" width="2.1" height="150" fill="url(#p11)"/><rect x="529.8" y="218" width="2.1" height="150" fill="url(#p12)"/><rect x="531.3" y="218" width="2.1" height="150" fill="url(#p13)"/><rect x="532.8" y="218" width="2.1" height="150" fill="url(#p14)"/><rect x="534.3" y="218" width="2.1" height="150" fill="url(#p15)"/><rect x="535.8" y="218" width="2.1" height="150" fill="url(#p16)"/><rect x="537.3" y="218" width="2.1" height="150" fill="url(#p17)"/><rect x="538.8" y="218" width="2.1" height="150" fill="url(#p18)"/><rect x="540.3" y="218" width="2.1" height="150" fill="url(#p19)"/><rect x="541.8" y="218" width="2.1" height="150" fill="url(#p20)"/><rect x="543.3" y="218" width="2.1" height="150" fill="url(#p21)"/><rect x="544.8" y="218" width="2.1" height="150" fill="url(#p22)"/><rect x="546.3" y="218" width="2.1" height="150" fill="url(#p23)"/><rect x="547.8" y="218" width="2.1" height="150" fill="url(#p24)"/><rect x="549.3" y="218" width="2.1" height="150" fill="url(#p25)"/><rect x="550.8" y="218" width="2.1" height="150" fill="url(#p26)"/><rect x="552.3" y="218" width="2.1" height="150" fill="url(#p27)"/><rect x="553.8" y="218" width="2.1" height="150" fill="url(#p28)"/><rect x="555.3" y="218" width="2.1" height="150" fill="url(#p29)"/><rect x="556.8" y="218" width="2.1" height="150" fill="url(#p30)"/><rect x="558.3" y="218" width="2.1" height="150" fill="url(#p31)"/><rect x="559.8" y="218" width="2.1" height="150" fill="url(#p32)"/><rect x="561.3" y="218" width="2.1" height="150" fill="url(#p33)"/><rect x="562.8" y="218" width="2.1" height="150" fill="url(#p34)"/><rect x="564.3" y="218" width="2.1" height="150" fill="url(#p35)"/><rect x="565.8" y="218" width="2.1" height="150" fill="url(#p36)"/><rect x="567.3" y="218" width="2.1" height="150" fill="url(#p37)"/><rect x="568.8" y="218" width="2.1" height="150" fill="url(#p38)"/><rect x="570.3" y="218" width="2.1" height="150" fill="url(#p39)"/><rect x="571.8" y="218" width="2.1" height="150" fill="url(#p40)"/><rect x="573.3" y="218" width="2.1" height="150" fill="url(#p41)"/><rect x="574.8" y="218" width="2.1" height="150" fill="url(#p42)"/><rect x="576.3" y="218" width="2.1" height="150" fill="url(#p43)"/><rect x="577.8" y="218" width="2.1" height="150" fill="url(#p44)"/><rect x="579.3" y="218" width="2.1" height="150" fill="url(#p45)"/><rect x="580.8" y="218" width="2.1" height="150" fill="url(#p46)"/><rect x="582.3" y="218" width="2.1" height="150" fill="url(#p47)"/><rect x="583.8" y="218" width="2.1" height="150" fill="url(#p48)"/><rect x="585.3" y="218" width="2.1" height="150" fill="url(#p49)"/><rect x="586.8" y="218" width="2.1" height="150" fill="url(#p50)"/><rect x="588.3" y="218" width="2.1" height="150" fill="url(#p51)"/><rect x="589.8" y="218" width="2.1" height="150" fill="url(#p52)"/><rect x="591.3" y="218" width="2.1" height="150" fill="url(#p53)"/><rect x="592.8" y="218" width="2.1" height="150" fill="url(#p54)"/><rect x="594.3" y="218" width="2.1" height="150" fill="url(#p55)"/></g></g><g clip-path="url(#cpn)"><g filter="url(#fb)"><rect x="621.8" y="218" width="2.1" height="150" fill="url(#n0)"/><rect x="623.3" y="218" width="2.1" height="150" fill="url(#n1)"/><rect x="624.8" y="218" width="2.1" height="150" fill="url(#n2)"/><rect x="626.3" y="218" width="2.1" height="150" fill="url(#n3)"/><rect x="627.8" y="218" width="2.1" height="150" fill="url(#n4)"/><rect x="629.3" y="218" width="2.1" height="150" fill="url(#n5)"/><rect x="630.8" y="218" width="2.1" height="150" fill="url(#n6)"/><rect x="632.3" y="218" width="2.1" height="150" fill="url(#n7)"/><rect x="633.8" y="218" width="2.1" height="150" fill="url(#n8)"/><rect x="635.3" y="218" width="2.1" height="150" fill="url(#n9)"/><rect x="636.8" y="218" width="2.1" height="150" fill="url(#n10)"/><rect x="638.3" y="218" width="2.1" height="150" fill="url(#n11)"/><rect x="639.8" y="218" width="2.1" height="150" fill="url(#n12)"/><rect x="641.3" y="218" width="2.1" height="150" fill="url(#n13)"/><rect x="642.8" y="218" width="2.1" height="150" fill="url(#n14)"/><rect x="644.3" y="218" width="2.1" height="150" fill="url(#n15)"/><rect x="645.8" y="218" width="2.1" height="150" fill="url(#n16)"/><rect x="647.3" y="218" width="2.1" height="150" fill="url(#n17)"/><rect x="648.8" y="218" width="2.1" height="150" fill="url(#n18)"/><rect x="650.3" y="218" width="2.1" height="150" fill="url(#n19)"/><rect x="651.8" y="218" width="2.1" height="150" fill="url(#n20)"/><rect x="653.3" y="218" width="2.1" height="150" fill="url(#n21)"/><rect x="654.8" y="218" width="2.1" height="150" fill="url(#n22)"/><rect x="656.3" y="218" width="2.1" height="150" fill="url(#n23)"/><rect x="657.8" y="218" width="2.1" height="150" fill="url(#n24)"/><rect x="659.3" y="218" width="2.1" height="150" fill="url(#n25)"/><rect x="660.8" y="218" width="2.1" height="150" fill="url(#n26)"/><rect x="662.3" y="218" width="2.1" height="150" fill="url(#n27)"/><rect x="663.8" y="218" width="2.1" height="150" fill="url(#n28)"/><rect x="665.3" y="218" width="2.1" height="150" fill="url(#n29)"/><rect x="666.8" y="218" width="2.1" height="150" fill="url(#n30)"/><rect x="668.3" y="218" width="2.1" height="150" fill="url(#n31)"/><rect x="669.8" y="218" width="2.1" height="150" fill="url(#n32)"/><rect x="671.3" y="218" width="2.1" height="150" fill="url(#n33)"/><rect x="672.8" y="218" width="2.1" height="150" fill="url(#n34)"/><rect x="674.3" y="218" width="2.1" height="150" fill="url(#n35)"/><rect x="675.8" y="218" width="2.1" height="150" fill="url(#n36)"/><rect x="677.3" y="218" width="2.1" height="150" fill="url(#n37)"/><rect x="678.8" y="218" width="2.1" height="150" fill="url(#n38)"/><rect x="680.3" y="218" width="2.1" height="150" fill="url(#n39)"/><rect x="681.8" y="218" width="2.1" height="150" fill="url(#n40)"/><rect x="683.3" y="218" width="2.1" height="150" fill="url(#n41)"/><rect x="684.8" y="218" width="2.1" height="150" fill="url(#n42)"/><rect x="686.3" y="218" width="2.1" height="150" fill="url(#n43)"/><rect x="687.8" y="218" width="2.1" height="150" fill="url(#n44)"/><rect x="689.3" y="218" width="2.1" height="150" fill="url(#n45)"/><rect x="690.8" y="218" width="2.1" height="150" fill="url(#n46)"/><rect x="692.3" y="218" width="2.1" height="150" fill="url(#n47)"/><rect x="693.8" y="218" width="2.1" height="150" fill="url(#n48)"/></g></g><rect x="698.5" y="222" width="7.3" height="141.5" fill="url(#cbar)" stroke="#7f7f7f" stroke-width="0.5"/><rect x="512.1" y="222" width="83.3" height="142.5" fill="none" stroke="#9a9a9a" stroke-width="0.6"/><rect x="622.1" y="222" width="72.6" height="141.5" fill="none" stroke="#9a9a9a" stroke-width="0.6"/><path d="M534.5 364.5v-1.5M534.5 222v1.5M560.2 364.5v-1.5M560.2 222v1.5M585.9 364.5v-1.5M585.9 222v1.5" stroke="#555" stroke-width="0.6" fill="none"/><path d="M639.2 363.5v-1.5M639.2 222v1.5M661.4 363.5v-1.5M661.4 222v1.5M685.7 363.5v-1.5M685.7 222v1.5" stroke="#555" stroke-width="0.6" fill="none"/><path d="M512.1 257.6h1.5M595.4 257.6h-1.5M512.1 293.2h1.5M595.4 293.2h-1.5M512.1 328.9h1.5M595.4 328.9h-1.5" stroke="#555" stroke-width="0.6" fill="none"/><path d="M622.1 257.4h1.5M694.7 257.4h-1.5M622.1 292.8h1.5M694.7 292.8h-1.5M622.1 328.1h1.5M694.7 328.1h-1.5" stroke="#555" stroke-width="0.6" fill="none"/><text x="508.8" y="226.4" font-size="10.3" text-anchor="end" font-weight="normal" fill="#262626" >20</text><text x="618.6" y="226.4" font-size="10.3" text-anchor="end" font-weight="normal" fill="#262626" >20</text><text x="508.8" y="262" font-size="10.3" text-anchor="end" font-weight="normal" fill="#262626" >10</text><text x="618.6" y="261.8" font-size="10.3" text-anchor="end" font-weight="normal" fill="#262626" >10</text><text x="508.8" y="297.6" font-size="10.3" text-anchor="end" font-weight="normal" fill="#262626" >0</text><text x="618.6" y="297.1" font-size="10.3" text-anchor="end" font-weight="normal" fill="#262626" >0</text><text x="508.8" y="333.3" font-size="10.3" text-anchor="end" font-weight="normal" fill="#262626" >-10</text><text x="618.6" y="332.5" font-size="10.3" text-anchor="end" font-weight="normal" fill="#262626" >-10</text><text x="508.8" y="368.9" font-size="10.3" text-anchor="end" font-weight="normal" fill="#262626" >-20</text><text x="618.6" y="367.9" font-size="10.3" text-anchor="end" font-weight="normal" fill="#262626" >-20</text><text x="534.5" y="379" font-size="10" text-anchor="middle" font-weight="normal" fill="#262626" >120</text><text x="560.2" y="379" font-size="10" text-anchor="middle" font-weight="normal" fill="#262626" >140</text><text x="585.9" y="379" font-size="10" text-anchor="middle" font-weight="normal" fill="#262626" >160</text><text x="639.2" y="379" font-size="10" text-anchor="middle" font-weight="normal" fill="#262626" >120</text><text x="661.4" y="379" font-size="10" text-anchor="middle" font-weight="normal" fill="#262626" >140</text><text x="685.7" y="379" font-size="10" text-anchor="middle" font-weight="normal" fill="#262626" >160</text><text x="553.8" y="219.4" font-size="11.8" text-anchor="middle" font-weight="normal" fill="#262626" >Positive Pulses</text><text x="658.4" y="219.4" font-size="11.8" text-anchor="middle" font-weight="normal" fill="#262626" >Negative Pulses</text><text x="553.7" y="391" font-size="10.5" text-anchor="middle" fill="#262626">G (<tspan font-style="italic">&#956;</tspan>S)</text><text x="658.4" y="391" font-size="10.5" text-anchor="middle" fill="#262626">G (<tspan font-style="italic">&#956;</tspan>S)</text><text transform="translate(496.3,292.8) rotate(-90)" font-size="11.5" text-anchor="middle" fill="#262626">&#916;G (<tspan font-style="italic">&#956;</tspan>S)</text><text transform="translate(606,292.8) rotate(-90)" font-size="11.5" text-anchor="middle" fill="#262626">&#916;G (<tspan font-style="italic">&#956;</tspan>S)</text><text x="709" y="366.9" font-size="10" text-anchor="start" font-weight="normal" fill="#262626" >0</text><text x="709" y="338.6" font-size="10" text-anchor="start" font-weight="normal" fill="#262626" >0.2</text><text x="709" y="310" font-size="10" text-anchor="start" font-weight="normal" fill="#262626" >0.4</text><text x="709" y="281.2" font-size="10" text-anchor="start" font-weight="normal" fill="#262626" >0.6</text><text x="709" y="253.2" font-size="10" text-anchor="start" font-weight="normal" fill="#262626" >0.8</text>
</svg></body></html>
